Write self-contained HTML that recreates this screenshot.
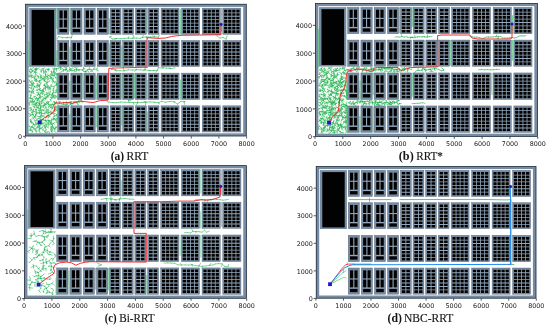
<!DOCTYPE html><html><head><meta charset="utf-8"><style>html,body{margin:0;padding:0;background:#fff;width:550px;height:326px;overflow:hidden}svg{display:block;filter:blur(0.35px)}.t{font-family:"DejaVu Sans",sans-serif;font-size:6.4px;fill:#151515}.cap{font-family:"Liberation Serif",serif;font-size:11.5px;fill:#151515;stroke:#151515;stroke-width:0.15px}.capb{font-weight:bold;stroke:none}</style></head><body>
<svg width="550" height="326" viewBox="0 0 550 326">
<g transform="translate(25.2,3.9) scale(1.00454,1.00000)"><rect x="0" y="0" width="220.4" height="132.4" fill="#778ca2"/>
<rect x="3.3" y="3" width="213.7" height="126.4" fill="#ffffff"/>
<rect x="4" y="4" width="27" height="58.9" fill="#778ca2"/>
<rect x="6.4" y="6" width="22.4" height="55.3" fill="#020202"/>
<rect x="32.32" y="4.22" width="11.16" height="26.16" fill="#778ca2" stroke="#56677d" stroke-width="0.45"/>
<rect x="34.1" y="6.5" width="7.6" height="22" fill="#93a8bd"/>
<rect x="34.1" y="6.5" width="3.25" height="8.1" fill="#020202"/>
<rect x="38.45" y="6.5" width="3.25" height="8.1" fill="#020202"/>
<rect x="34.1" y="15.7" width="3.25" height="7.9" fill="#020202"/>
<rect x="38.45" y="15.7" width="3.25" height="7.9" fill="#020202"/>
<rect x="34.1" y="25" width="7.6" height="3.4" fill="#020202"/>
<rect x="45.42" y="4.22" width="11.16" height="26.16" fill="#778ca2" stroke="#56677d" stroke-width="0.45"/>
<rect x="47.2" y="6.5" width="7.6" height="22" fill="#93a8bd"/>
<rect x="47.2" y="6.5" width="3.25" height="8.1" fill="#020202"/>
<rect x="51.55" y="6.5" width="3.25" height="8.1" fill="#020202"/>
<rect x="47.2" y="15.7" width="3.25" height="7.9" fill="#020202"/>
<rect x="51.55" y="15.7" width="3.25" height="7.9" fill="#020202"/>
<rect x="47.2" y="25" width="7.6" height="3.4" fill="#020202"/>
<rect x="58.52" y="4.22" width="11.16" height="26.16" fill="#778ca2" stroke="#56677d" stroke-width="0.45"/>
<rect x="60.3" y="6.5" width="7.6" height="22" fill="#93a8bd"/>
<rect x="60.3" y="6.5" width="3.25" height="8.1" fill="#020202"/>
<rect x="64.65" y="6.5" width="3.25" height="8.1" fill="#020202"/>
<rect x="60.3" y="15.7" width="3.25" height="7.9" fill="#020202"/>
<rect x="64.65" y="15.7" width="3.25" height="7.9" fill="#020202"/>
<rect x="60.3" y="25" width="7.6" height="3.4" fill="#020202"/>
<rect x="71.62" y="4.22" width="11.16" height="26.16" fill="#778ca2" stroke="#56677d" stroke-width="0.45"/>
<rect x="73.4" y="6.5" width="7.6" height="22" fill="#93a8bd"/>
<rect x="73.4" y="6.5" width="3.25" height="8.1" fill="#020202"/>
<rect x="77.75" y="6.5" width="3.25" height="8.1" fill="#020202"/>
<rect x="73.4" y="15.7" width="3.25" height="7.9" fill="#020202"/>
<rect x="77.75" y="15.7" width="3.25" height="7.9" fill="#020202"/>
<rect x="73.4" y="25" width="7.6" height="3.4" fill="#020202"/>
<rect x="84.52" y="4.22" width="10.86" height="26.16" fill="#778ca2" stroke="#56677d" stroke-width="0.45"/>
<rect x="85.9" y="5.9" width="8.1" height="23.2" fill="#93a8bd"/>
<path fill="#020202" d="M85.9 5.9h3.6v2.54h-3.6zM85.9 9.34h3.6v2.54h-3.6zM85.9 12.79h3.6v2.54h-3.6zM85.9 16.23h3.6v2.54h-3.6zM85.9 19.67h3.6v2.54h-3.6zM85.9 23.11h3.6v2.54h-3.6zM85.9 26.56h3.6v2.54h-3.6zM90.4 5.9h3.6v2.54h-3.6zM90.4 9.34h3.6v2.54h-3.6zM90.4 12.79h3.6v2.54h-3.6zM90.4 16.23h3.6v2.54h-3.6zM90.4 19.67h3.6v2.54h-3.6zM90.4 23.11h3.6v2.54h-3.6zM90.4 26.56h3.6v2.54h-3.6z"/>
<rect x="97.12" y="4.22" width="10.86" height="26.16" fill="#778ca2" stroke="#56677d" stroke-width="0.45"/>
<rect x="98.5" y="5.9" width="8.1" height="23.2" fill="#93a8bd"/>
<path fill="#020202" d="M98.5 5.9h3.6v2.54h-3.6zM98.5 9.34h3.6v2.54h-3.6zM98.5 12.79h3.6v2.54h-3.6zM98.5 16.23h3.6v2.54h-3.6zM98.5 19.67h3.6v2.54h-3.6zM98.5 23.11h3.6v2.54h-3.6zM98.5 26.56h3.6v2.54h-3.6zM103 5.9h3.6v2.54h-3.6zM103 9.34h3.6v2.54h-3.6zM103 12.79h3.6v2.54h-3.6zM103 16.23h3.6v2.54h-3.6zM103 19.67h3.6v2.54h-3.6zM103 23.11h3.6v2.54h-3.6zM103 26.56h3.6v2.54h-3.6z"/>
<rect x="109.72" y="4.22" width="10.86" height="26.16" fill="#778ca2" stroke="#56677d" stroke-width="0.45"/>
<rect x="111.1" y="5.9" width="8.1" height="23.2" fill="#93a8bd"/>
<path fill="#020202" d="M111.1 5.9h3.6v2.54h-3.6zM111.1 9.34h3.6v2.54h-3.6zM111.1 12.79h3.6v2.54h-3.6zM111.1 16.23h3.6v2.54h-3.6zM111.1 19.67h3.6v2.54h-3.6zM111.1 23.11h3.6v2.54h-3.6zM111.1 26.56h3.6v2.54h-3.6zM115.6 5.9h3.6v2.54h-3.6zM115.6 9.34h3.6v2.54h-3.6zM115.6 12.79h3.6v2.54h-3.6zM115.6 16.23h3.6v2.54h-3.6zM115.6 19.67h3.6v2.54h-3.6zM115.6 23.11h3.6v2.54h-3.6zM115.6 26.56h3.6v2.54h-3.6z"/>
<rect x="122.32" y="4.22" width="10.86" height="26.16" fill="#778ca2" stroke="#56677d" stroke-width="0.45"/>
<rect x="123.7" y="5.9" width="8.1" height="23.2" fill="#93a8bd"/>
<path fill="#020202" d="M123.7 5.9h3.6v2.54h-3.6zM123.7 9.34h3.6v2.54h-3.6zM123.7 12.79h3.6v2.54h-3.6zM123.7 16.23h3.6v2.54h-3.6zM123.7 19.67h3.6v2.54h-3.6zM123.7 23.11h3.6v2.54h-3.6zM123.7 26.56h3.6v2.54h-3.6zM128.2 5.9h3.6v2.54h-3.6zM128.2 9.34h3.6v2.54h-3.6zM128.2 12.79h3.6v2.54h-3.6zM128.2 16.23h3.6v2.54h-3.6zM128.2 19.67h3.6v2.54h-3.6zM128.2 23.11h3.6v2.54h-3.6zM128.2 26.56h3.6v2.54h-3.6z"/>
<rect x="135.22" y="4.22" width="17.96" height="26.16" fill="#778ca2" stroke="#56677d" stroke-width="0.45"/>
<rect x="136.5" y="5.9" width="15.4" height="23.2" fill="#93a8bd"/>
<path fill="#020202" d="M136.5 5.9h3.25v2.63h-3.25zM136.5 9.33h3.25v2.63h-3.25zM136.5 12.76h3.25v2.63h-3.25zM136.5 16.19h3.25v2.63h-3.25zM136.5 19.61h3.25v2.63h-3.25zM136.5 23.04h3.25v2.63h-3.25zM136.5 26.47h3.25v2.63h-3.25zM140.55 5.9h3.25v2.63h-3.25zM140.55 9.33h3.25v2.63h-3.25zM140.55 12.76h3.25v2.63h-3.25zM140.55 16.19h3.25v2.63h-3.25zM140.55 19.61h3.25v2.63h-3.25zM140.55 23.04h3.25v2.63h-3.25zM140.55 26.47h3.25v2.63h-3.25zM144.6 5.9h3.25v2.63h-3.25zM144.6 9.33h3.25v2.63h-3.25zM144.6 12.76h3.25v2.63h-3.25zM144.6 16.19h3.25v2.63h-3.25zM144.6 19.61h3.25v2.63h-3.25zM144.6 23.04h3.25v2.63h-3.25zM144.6 26.47h3.25v2.63h-3.25zM148.65 5.9h3.25v2.63h-3.25zM148.65 9.33h3.25v2.63h-3.25zM148.65 12.76h3.25v2.63h-3.25zM148.65 16.19h3.25v2.63h-3.25zM148.65 19.61h3.25v2.63h-3.25zM148.65 23.04h3.25v2.63h-3.25zM148.65 26.47h3.25v2.63h-3.25z"/>
<rect x="155.72" y="4.22" width="17.96" height="26.16" fill="#778ca2" stroke="#56677d" stroke-width="0.45"/>
<rect x="157" y="5.9" width="15.4" height="23.2" fill="#93a8bd"/>
<path fill="#020202" d="M157 5.9h3.25v2.63h-3.25zM157 9.33h3.25v2.63h-3.25zM157 12.76h3.25v2.63h-3.25zM157 16.19h3.25v2.63h-3.25zM157 19.61h3.25v2.63h-3.25zM157 23.04h3.25v2.63h-3.25zM157 26.47h3.25v2.63h-3.25zM161.05 5.9h3.25v2.63h-3.25zM161.05 9.33h3.25v2.63h-3.25zM161.05 12.76h3.25v2.63h-3.25zM161.05 16.19h3.25v2.63h-3.25zM161.05 19.61h3.25v2.63h-3.25zM161.05 23.04h3.25v2.63h-3.25zM161.05 26.47h3.25v2.63h-3.25zM165.1 5.9h3.25v2.63h-3.25zM165.1 9.33h3.25v2.63h-3.25zM165.1 12.76h3.25v2.63h-3.25zM165.1 16.19h3.25v2.63h-3.25zM165.1 19.61h3.25v2.63h-3.25zM165.1 23.04h3.25v2.63h-3.25zM165.1 26.47h3.25v2.63h-3.25zM169.15 5.9h3.25v2.63h-3.25zM169.15 9.33h3.25v2.63h-3.25zM169.15 12.76h3.25v2.63h-3.25zM169.15 16.19h3.25v2.63h-3.25zM169.15 19.61h3.25v2.63h-3.25zM169.15 23.04h3.25v2.63h-3.25zM169.15 26.47h3.25v2.63h-3.25z"/>
<rect x="176.22" y="4.22" width="17.96" height="26.16" fill="#778ca2" stroke="#56677d" stroke-width="0.45"/>
<rect x="177.5" y="5.9" width="15.4" height="23.2" fill="#93a8bd"/>
<path fill="#020202" d="M177.5 5.9h3.25v2.63h-3.25zM177.5 9.33h3.25v2.63h-3.25zM177.5 12.76h3.25v2.63h-3.25zM177.5 16.19h3.25v2.63h-3.25zM177.5 19.61h3.25v2.63h-3.25zM177.5 23.04h3.25v2.63h-3.25zM177.5 26.47h3.25v2.63h-3.25zM181.55 5.9h3.25v2.63h-3.25zM181.55 9.33h3.25v2.63h-3.25zM181.55 12.76h3.25v2.63h-3.25zM181.55 16.19h3.25v2.63h-3.25zM181.55 19.61h3.25v2.63h-3.25zM181.55 23.04h3.25v2.63h-3.25zM181.55 26.47h3.25v2.63h-3.25zM185.6 5.9h3.25v2.63h-3.25zM185.6 9.33h3.25v2.63h-3.25zM185.6 12.76h3.25v2.63h-3.25zM185.6 16.19h3.25v2.63h-3.25zM185.6 19.61h3.25v2.63h-3.25zM185.6 23.04h3.25v2.63h-3.25zM185.6 26.47h3.25v2.63h-3.25zM189.65 5.9h3.25v2.63h-3.25zM189.65 9.33h3.25v2.63h-3.25zM189.65 12.76h3.25v2.63h-3.25zM189.65 16.19h3.25v2.63h-3.25zM189.65 19.61h3.25v2.63h-3.25zM189.65 23.04h3.25v2.63h-3.25zM189.65 26.47h3.25v2.63h-3.25z"/>
<rect x="196.72" y="4.22" width="17.96" height="26.16" fill="#778ca2" stroke="#56677d" stroke-width="0.45"/>
<rect x="198" y="5.9" width="15.4" height="23.2" fill="#93a8bd"/>
<path fill="#020202" d="M198 5.9h3.25v2.63h-3.25zM198 9.33h3.25v2.63h-3.25zM198 12.76h3.25v2.63h-3.25zM198 16.19h3.25v2.63h-3.25zM198 19.61h3.25v2.63h-3.25zM198 23.04h3.25v2.63h-3.25zM198 26.47h3.25v2.63h-3.25zM202.05 5.9h3.25v2.63h-3.25zM202.05 9.33h3.25v2.63h-3.25zM202.05 12.76h3.25v2.63h-3.25zM202.05 16.19h3.25v2.63h-3.25zM202.05 19.61h3.25v2.63h-3.25zM202.05 23.04h3.25v2.63h-3.25zM202.05 26.47h3.25v2.63h-3.25zM206.1 5.9h3.25v2.63h-3.25zM206.1 9.33h3.25v2.63h-3.25zM206.1 12.76h3.25v2.63h-3.25zM206.1 16.19h3.25v2.63h-3.25zM206.1 19.61h3.25v2.63h-3.25zM206.1 23.04h3.25v2.63h-3.25zM206.1 26.47h3.25v2.63h-3.25zM210.15 5.9h3.25v2.63h-3.25zM210.15 9.33h3.25v2.63h-3.25zM210.15 12.76h3.25v2.63h-3.25zM210.15 16.19h3.25v2.63h-3.25zM210.15 19.61h3.25v2.63h-3.25zM210.15 23.04h3.25v2.63h-3.25zM210.15 26.47h3.25v2.63h-3.25z"/>
<rect x="32.32" y="36.62" width="11.16" height="25.96" fill="#778ca2" stroke="#56677d" stroke-width="0.45"/>
<rect x="34.1" y="38.88" width="7.6" height="21.83" fill="#93a8bd"/>
<rect x="34.1" y="38.88" width="3.25" height="8.04" fill="#020202"/>
<rect x="38.45" y="38.88" width="3.25" height="8.04" fill="#020202"/>
<rect x="34.1" y="48.01" width="3.25" height="7.84" fill="#020202"/>
<rect x="38.45" y="48.01" width="3.25" height="7.84" fill="#020202"/>
<rect x="34.1" y="57.24" width="7.6" height="3.37" fill="#020202"/>
<rect x="45.42" y="36.62" width="11.16" height="25.96" fill="#778ca2" stroke="#56677d" stroke-width="0.45"/>
<rect x="47.2" y="38.88" width="7.6" height="21.83" fill="#93a8bd"/>
<rect x="47.2" y="38.88" width="3.25" height="8.04" fill="#020202"/>
<rect x="51.55" y="38.88" width="3.25" height="8.04" fill="#020202"/>
<rect x="47.2" y="48.01" width="3.25" height="7.84" fill="#020202"/>
<rect x="51.55" y="48.01" width="3.25" height="7.84" fill="#020202"/>
<rect x="47.2" y="57.24" width="7.6" height="3.37" fill="#020202"/>
<rect x="58.52" y="36.62" width="11.16" height="25.96" fill="#778ca2" stroke="#56677d" stroke-width="0.45"/>
<rect x="60.3" y="38.88" width="7.6" height="21.83" fill="#93a8bd"/>
<rect x="60.3" y="38.88" width="3.25" height="8.04" fill="#020202"/>
<rect x="64.65" y="38.88" width="3.25" height="8.04" fill="#020202"/>
<rect x="60.3" y="48.01" width="3.25" height="7.84" fill="#020202"/>
<rect x="64.65" y="48.01" width="3.25" height="7.84" fill="#020202"/>
<rect x="60.3" y="57.24" width="7.6" height="3.37" fill="#020202"/>
<rect x="71.62" y="36.62" width="11.16" height="25.96" fill="#778ca2" stroke="#56677d" stroke-width="0.45"/>
<rect x="73.4" y="38.88" width="7.6" height="21.83" fill="#93a8bd"/>
<rect x="73.4" y="38.88" width="3.25" height="8.04" fill="#020202"/>
<rect x="77.75" y="38.88" width="3.25" height="8.04" fill="#020202"/>
<rect x="73.4" y="48.01" width="3.25" height="7.84" fill="#020202"/>
<rect x="77.75" y="48.01" width="3.25" height="7.84" fill="#020202"/>
<rect x="73.4" y="57.24" width="7.6" height="3.37" fill="#020202"/>
<rect x="84.52" y="36.62" width="10.86" height="25.96" fill="#778ca2" stroke="#56677d" stroke-width="0.45"/>
<rect x="85.9" y="38.3" width="8.1" height="23" fill="#93a8bd"/>
<path fill="#020202" d="M85.9 38.3h3.6v2.51h-3.6zM85.9 41.71h3.6v2.51h-3.6zM85.9 45.13h3.6v2.51h-3.6zM85.9 48.54h3.6v2.51h-3.6zM85.9 51.96h3.6v2.51h-3.6zM85.9 55.37h3.6v2.51h-3.6zM85.9 58.79h3.6v2.51h-3.6zM90.4 38.3h3.6v2.51h-3.6zM90.4 41.71h3.6v2.51h-3.6zM90.4 45.13h3.6v2.51h-3.6zM90.4 48.54h3.6v2.51h-3.6zM90.4 51.96h3.6v2.51h-3.6zM90.4 55.37h3.6v2.51h-3.6zM90.4 58.79h3.6v2.51h-3.6z"/>
<rect x="97.12" y="36.62" width="10.86" height="25.96" fill="#778ca2" stroke="#56677d" stroke-width="0.45"/>
<rect x="98.5" y="38.3" width="8.1" height="23" fill="#93a8bd"/>
<path fill="#020202" d="M98.5 38.3h3.6v2.51h-3.6zM98.5 41.71h3.6v2.51h-3.6zM98.5 45.13h3.6v2.51h-3.6zM98.5 48.54h3.6v2.51h-3.6zM98.5 51.96h3.6v2.51h-3.6zM98.5 55.37h3.6v2.51h-3.6zM98.5 58.79h3.6v2.51h-3.6zM103 38.3h3.6v2.51h-3.6zM103 41.71h3.6v2.51h-3.6zM103 45.13h3.6v2.51h-3.6zM103 48.54h3.6v2.51h-3.6zM103 51.96h3.6v2.51h-3.6zM103 55.37h3.6v2.51h-3.6zM103 58.79h3.6v2.51h-3.6z"/>
<rect x="109.72" y="36.62" width="10.86" height="25.96" fill="#778ca2" stroke="#56677d" stroke-width="0.45"/>
<rect x="111.1" y="38.3" width="8.1" height="23" fill="#93a8bd"/>
<path fill="#020202" d="M111.1 38.3h3.6v2.51h-3.6zM111.1 41.71h3.6v2.51h-3.6zM111.1 45.13h3.6v2.51h-3.6zM111.1 48.54h3.6v2.51h-3.6zM111.1 51.96h3.6v2.51h-3.6zM111.1 55.37h3.6v2.51h-3.6zM111.1 58.79h3.6v2.51h-3.6zM115.6 38.3h3.6v2.51h-3.6zM115.6 41.71h3.6v2.51h-3.6zM115.6 45.13h3.6v2.51h-3.6zM115.6 48.54h3.6v2.51h-3.6zM115.6 51.96h3.6v2.51h-3.6zM115.6 55.37h3.6v2.51h-3.6zM115.6 58.79h3.6v2.51h-3.6z"/>
<rect x="122.32" y="36.62" width="10.86" height="25.96" fill="#778ca2" stroke="#56677d" stroke-width="0.45"/>
<rect x="123.7" y="38.3" width="8.1" height="23" fill="#93a8bd"/>
<path fill="#020202" d="M123.7 38.3h3.6v2.51h-3.6zM123.7 41.71h3.6v2.51h-3.6zM123.7 45.13h3.6v2.51h-3.6zM123.7 48.54h3.6v2.51h-3.6zM123.7 51.96h3.6v2.51h-3.6zM123.7 55.37h3.6v2.51h-3.6zM123.7 58.79h3.6v2.51h-3.6zM128.2 38.3h3.6v2.51h-3.6zM128.2 41.71h3.6v2.51h-3.6zM128.2 45.13h3.6v2.51h-3.6zM128.2 48.54h3.6v2.51h-3.6zM128.2 51.96h3.6v2.51h-3.6zM128.2 55.37h3.6v2.51h-3.6zM128.2 58.79h3.6v2.51h-3.6z"/>
<rect x="135.22" y="36.62" width="17.96" height="25.96" fill="#778ca2" stroke="#56677d" stroke-width="0.45"/>
<rect x="136.5" y="38.3" width="15.4" height="23" fill="#93a8bd"/>
<path fill="#020202" d="M136.5 38.3h3.25v2.6h-3.25zM136.5 41.7h3.25v2.6h-3.25zM136.5 45.1h3.25v2.6h-3.25zM136.5 48.5h3.25v2.6h-3.25zM136.5 51.9h3.25v2.6h-3.25zM136.5 55.3h3.25v2.6h-3.25zM136.5 58.7h3.25v2.6h-3.25zM140.55 38.3h3.25v2.6h-3.25zM140.55 41.7h3.25v2.6h-3.25zM140.55 45.1h3.25v2.6h-3.25zM140.55 48.5h3.25v2.6h-3.25zM140.55 51.9h3.25v2.6h-3.25zM140.55 55.3h3.25v2.6h-3.25zM140.55 58.7h3.25v2.6h-3.25zM144.6 38.3h3.25v2.6h-3.25zM144.6 41.7h3.25v2.6h-3.25zM144.6 45.1h3.25v2.6h-3.25zM144.6 48.5h3.25v2.6h-3.25zM144.6 51.9h3.25v2.6h-3.25zM144.6 55.3h3.25v2.6h-3.25zM144.6 58.7h3.25v2.6h-3.25zM148.65 38.3h3.25v2.6h-3.25zM148.65 41.7h3.25v2.6h-3.25zM148.65 45.1h3.25v2.6h-3.25zM148.65 48.5h3.25v2.6h-3.25zM148.65 51.9h3.25v2.6h-3.25zM148.65 55.3h3.25v2.6h-3.25zM148.65 58.7h3.25v2.6h-3.25z"/>
<rect x="155.72" y="36.62" width="17.96" height="25.96" fill="#778ca2" stroke="#56677d" stroke-width="0.45"/>
<rect x="157" y="38.3" width="15.4" height="23" fill="#93a8bd"/>
<path fill="#020202" d="M157 38.3h3.25v2.6h-3.25zM157 41.7h3.25v2.6h-3.25zM157 45.1h3.25v2.6h-3.25zM157 48.5h3.25v2.6h-3.25zM157 51.9h3.25v2.6h-3.25zM157 55.3h3.25v2.6h-3.25zM157 58.7h3.25v2.6h-3.25zM161.05 38.3h3.25v2.6h-3.25zM161.05 41.7h3.25v2.6h-3.25zM161.05 45.1h3.25v2.6h-3.25zM161.05 48.5h3.25v2.6h-3.25zM161.05 51.9h3.25v2.6h-3.25zM161.05 55.3h3.25v2.6h-3.25zM161.05 58.7h3.25v2.6h-3.25zM165.1 38.3h3.25v2.6h-3.25zM165.1 41.7h3.25v2.6h-3.25zM165.1 45.1h3.25v2.6h-3.25zM165.1 48.5h3.25v2.6h-3.25zM165.1 51.9h3.25v2.6h-3.25zM165.1 55.3h3.25v2.6h-3.25zM165.1 58.7h3.25v2.6h-3.25zM169.15 38.3h3.25v2.6h-3.25zM169.15 41.7h3.25v2.6h-3.25zM169.15 45.1h3.25v2.6h-3.25zM169.15 48.5h3.25v2.6h-3.25zM169.15 51.9h3.25v2.6h-3.25zM169.15 55.3h3.25v2.6h-3.25zM169.15 58.7h3.25v2.6h-3.25z"/>
<rect x="176.22" y="36.62" width="17.96" height="25.96" fill="#778ca2" stroke="#56677d" stroke-width="0.45"/>
<rect x="177.5" y="38.3" width="15.4" height="23" fill="#93a8bd"/>
<path fill="#020202" d="M177.5 38.3h3.25v2.6h-3.25zM177.5 41.7h3.25v2.6h-3.25zM177.5 45.1h3.25v2.6h-3.25zM177.5 48.5h3.25v2.6h-3.25zM177.5 51.9h3.25v2.6h-3.25zM177.5 55.3h3.25v2.6h-3.25zM177.5 58.7h3.25v2.6h-3.25zM181.55 38.3h3.25v2.6h-3.25zM181.55 41.7h3.25v2.6h-3.25zM181.55 45.1h3.25v2.6h-3.25zM181.55 48.5h3.25v2.6h-3.25zM181.55 51.9h3.25v2.6h-3.25zM181.55 55.3h3.25v2.6h-3.25zM181.55 58.7h3.25v2.6h-3.25zM185.6 38.3h3.25v2.6h-3.25zM185.6 41.7h3.25v2.6h-3.25zM185.6 45.1h3.25v2.6h-3.25zM185.6 48.5h3.25v2.6h-3.25zM185.6 51.9h3.25v2.6h-3.25zM185.6 55.3h3.25v2.6h-3.25zM185.6 58.7h3.25v2.6h-3.25zM189.65 38.3h3.25v2.6h-3.25zM189.65 41.7h3.25v2.6h-3.25zM189.65 45.1h3.25v2.6h-3.25zM189.65 48.5h3.25v2.6h-3.25zM189.65 51.9h3.25v2.6h-3.25zM189.65 55.3h3.25v2.6h-3.25zM189.65 58.7h3.25v2.6h-3.25z"/>
<rect x="196.72" y="36.62" width="17.96" height="25.96" fill="#778ca2" stroke="#56677d" stroke-width="0.45"/>
<rect x="198" y="38.3" width="15.4" height="23" fill="#93a8bd"/>
<path fill="#020202" d="M198 38.3h3.25v2.6h-3.25zM198 41.7h3.25v2.6h-3.25zM198 45.1h3.25v2.6h-3.25zM198 48.5h3.25v2.6h-3.25zM198 51.9h3.25v2.6h-3.25zM198 55.3h3.25v2.6h-3.25zM198 58.7h3.25v2.6h-3.25zM202.05 38.3h3.25v2.6h-3.25zM202.05 41.7h3.25v2.6h-3.25zM202.05 45.1h3.25v2.6h-3.25zM202.05 48.5h3.25v2.6h-3.25zM202.05 51.9h3.25v2.6h-3.25zM202.05 55.3h3.25v2.6h-3.25zM202.05 58.7h3.25v2.6h-3.25zM206.1 38.3h3.25v2.6h-3.25zM206.1 41.7h3.25v2.6h-3.25zM206.1 45.1h3.25v2.6h-3.25zM206.1 48.5h3.25v2.6h-3.25zM206.1 51.9h3.25v2.6h-3.25zM206.1 55.3h3.25v2.6h-3.25zM206.1 58.7h3.25v2.6h-3.25zM210.15 38.3h3.25v2.6h-3.25zM210.15 41.7h3.25v2.6h-3.25zM210.15 45.1h3.25v2.6h-3.25zM210.15 48.5h3.25v2.6h-3.25zM210.15 51.9h3.25v2.6h-3.25zM210.15 55.3h3.25v2.6h-3.25zM210.15 58.7h3.25v2.6h-3.25z"/>
<rect x="32.32" y="69.22" width="11.16" height="26.36" fill="#778ca2" stroke="#56677d" stroke-width="0.45"/>
<rect x="34.1" y="71.52" width="7.6" height="22.17" fill="#93a8bd"/>
<rect x="34.1" y="71.52" width="3.25" height="8.16" fill="#020202"/>
<rect x="38.45" y="71.52" width="3.25" height="8.16" fill="#020202"/>
<rect x="34.1" y="80.79" width="3.25" height="7.96" fill="#020202"/>
<rect x="38.45" y="80.79" width="3.25" height="7.96" fill="#020202"/>
<rect x="34.1" y="90.16" width="7.6" height="3.43" fill="#020202"/>
<rect x="45.42" y="69.22" width="11.16" height="26.36" fill="#778ca2" stroke="#56677d" stroke-width="0.45"/>
<rect x="47.2" y="71.52" width="7.6" height="22.17" fill="#93a8bd"/>
<rect x="47.2" y="71.52" width="3.25" height="8.16" fill="#020202"/>
<rect x="51.55" y="71.52" width="3.25" height="8.16" fill="#020202"/>
<rect x="47.2" y="80.79" width="3.25" height="7.96" fill="#020202"/>
<rect x="51.55" y="80.79" width="3.25" height="7.96" fill="#020202"/>
<rect x="47.2" y="90.16" width="7.6" height="3.43" fill="#020202"/>
<rect x="58.52" y="69.22" width="11.16" height="26.36" fill="#778ca2" stroke="#56677d" stroke-width="0.45"/>
<rect x="60.3" y="71.52" width="7.6" height="22.17" fill="#93a8bd"/>
<rect x="60.3" y="71.52" width="3.25" height="8.16" fill="#020202"/>
<rect x="64.65" y="71.52" width="3.25" height="8.16" fill="#020202"/>
<rect x="60.3" y="80.79" width="3.25" height="7.96" fill="#020202"/>
<rect x="64.65" y="80.79" width="3.25" height="7.96" fill="#020202"/>
<rect x="60.3" y="90.16" width="7.6" height="3.43" fill="#020202"/>
<rect x="71.62" y="69.22" width="11.16" height="26.36" fill="#778ca2" stroke="#56677d" stroke-width="0.45"/>
<rect x="73.4" y="71.52" width="7.6" height="22.17" fill="#93a8bd"/>
<rect x="73.4" y="71.52" width="3.25" height="8.16" fill="#020202"/>
<rect x="77.75" y="71.52" width="3.25" height="8.16" fill="#020202"/>
<rect x="73.4" y="80.79" width="3.25" height="7.96" fill="#020202"/>
<rect x="77.75" y="80.79" width="3.25" height="7.96" fill="#020202"/>
<rect x="73.4" y="90.16" width="7.6" height="3.43" fill="#020202"/>
<rect x="84.52" y="69.22" width="10.86" height="26.36" fill="#778ca2" stroke="#56677d" stroke-width="0.45"/>
<rect x="85.9" y="70.9" width="8.1" height="23.4" fill="#93a8bd"/>
<path fill="#020202" d="M85.9 70.9h3.6v2.57h-3.6zM85.9 74.37h3.6v2.57h-3.6zM85.9 77.84h3.6v2.57h-3.6zM85.9 81.31h3.6v2.57h-3.6zM85.9 84.79h3.6v2.57h-3.6zM85.9 88.26h3.6v2.57h-3.6zM85.9 91.73h3.6v2.57h-3.6zM90.4 70.9h3.6v2.57h-3.6zM90.4 74.37h3.6v2.57h-3.6zM90.4 77.84h3.6v2.57h-3.6zM90.4 81.31h3.6v2.57h-3.6zM90.4 84.79h3.6v2.57h-3.6zM90.4 88.26h3.6v2.57h-3.6zM90.4 91.73h3.6v2.57h-3.6z"/>
<rect x="97.12" y="69.22" width="10.86" height="26.36" fill="#778ca2" stroke="#56677d" stroke-width="0.45"/>
<rect x="98.5" y="70.9" width="8.1" height="23.4" fill="#93a8bd"/>
<path fill="#020202" d="M98.5 70.9h3.6v2.57h-3.6zM98.5 74.37h3.6v2.57h-3.6zM98.5 77.84h3.6v2.57h-3.6zM98.5 81.31h3.6v2.57h-3.6zM98.5 84.79h3.6v2.57h-3.6zM98.5 88.26h3.6v2.57h-3.6zM98.5 91.73h3.6v2.57h-3.6zM103 70.9h3.6v2.57h-3.6zM103 74.37h3.6v2.57h-3.6zM103 77.84h3.6v2.57h-3.6zM103 81.31h3.6v2.57h-3.6zM103 84.79h3.6v2.57h-3.6zM103 88.26h3.6v2.57h-3.6zM103 91.73h3.6v2.57h-3.6z"/>
<rect x="109.72" y="69.22" width="10.86" height="26.36" fill="#778ca2" stroke="#56677d" stroke-width="0.45"/>
<rect x="111.1" y="70.9" width="8.1" height="23.4" fill="#93a8bd"/>
<path fill="#020202" d="M111.1 70.9h3.6v2.57h-3.6zM111.1 74.37h3.6v2.57h-3.6zM111.1 77.84h3.6v2.57h-3.6zM111.1 81.31h3.6v2.57h-3.6zM111.1 84.79h3.6v2.57h-3.6zM111.1 88.26h3.6v2.57h-3.6zM111.1 91.73h3.6v2.57h-3.6zM115.6 70.9h3.6v2.57h-3.6zM115.6 74.37h3.6v2.57h-3.6zM115.6 77.84h3.6v2.57h-3.6zM115.6 81.31h3.6v2.57h-3.6zM115.6 84.79h3.6v2.57h-3.6zM115.6 88.26h3.6v2.57h-3.6zM115.6 91.73h3.6v2.57h-3.6z"/>
<rect x="122.32" y="69.22" width="10.86" height="26.36" fill="#778ca2" stroke="#56677d" stroke-width="0.45"/>
<rect x="123.7" y="70.9" width="8.1" height="23.4" fill="#93a8bd"/>
<path fill="#020202" d="M123.7 70.9h3.6v2.57h-3.6zM123.7 74.37h3.6v2.57h-3.6zM123.7 77.84h3.6v2.57h-3.6zM123.7 81.31h3.6v2.57h-3.6zM123.7 84.79h3.6v2.57h-3.6zM123.7 88.26h3.6v2.57h-3.6zM123.7 91.73h3.6v2.57h-3.6zM128.2 70.9h3.6v2.57h-3.6zM128.2 74.37h3.6v2.57h-3.6zM128.2 77.84h3.6v2.57h-3.6zM128.2 81.31h3.6v2.57h-3.6zM128.2 84.79h3.6v2.57h-3.6zM128.2 88.26h3.6v2.57h-3.6zM128.2 91.73h3.6v2.57h-3.6z"/>
<rect x="135.22" y="69.22" width="17.96" height="26.36" fill="#778ca2" stroke="#56677d" stroke-width="0.45"/>
<rect x="136.5" y="70.9" width="15.4" height="23.4" fill="#93a8bd"/>
<path fill="#020202" d="M136.5 70.9h3.25v2.66h-3.25zM136.5 74.36h3.25v2.66h-3.25zM136.5 77.81h3.25v2.66h-3.25zM136.5 81.27h3.25v2.66h-3.25zM136.5 84.73h3.25v2.66h-3.25zM136.5 88.19h3.25v2.66h-3.25zM136.5 91.64h3.25v2.66h-3.25zM140.55 70.9h3.25v2.66h-3.25zM140.55 74.36h3.25v2.66h-3.25zM140.55 77.81h3.25v2.66h-3.25zM140.55 81.27h3.25v2.66h-3.25zM140.55 84.73h3.25v2.66h-3.25zM140.55 88.19h3.25v2.66h-3.25zM140.55 91.64h3.25v2.66h-3.25zM144.6 70.9h3.25v2.66h-3.25zM144.6 74.36h3.25v2.66h-3.25zM144.6 77.81h3.25v2.66h-3.25zM144.6 81.27h3.25v2.66h-3.25zM144.6 84.73h3.25v2.66h-3.25zM144.6 88.19h3.25v2.66h-3.25zM144.6 91.64h3.25v2.66h-3.25zM148.65 70.9h3.25v2.66h-3.25zM148.65 74.36h3.25v2.66h-3.25zM148.65 77.81h3.25v2.66h-3.25zM148.65 81.27h3.25v2.66h-3.25zM148.65 84.73h3.25v2.66h-3.25zM148.65 88.19h3.25v2.66h-3.25zM148.65 91.64h3.25v2.66h-3.25z"/>
<rect x="155.72" y="69.22" width="17.96" height="26.36" fill="#778ca2" stroke="#56677d" stroke-width="0.45"/>
<rect x="157" y="70.9" width="15.4" height="23.4" fill="#93a8bd"/>
<path fill="#020202" d="M157 70.9h3.25v2.66h-3.25zM157 74.36h3.25v2.66h-3.25zM157 77.81h3.25v2.66h-3.25zM157 81.27h3.25v2.66h-3.25zM157 84.73h3.25v2.66h-3.25zM157 88.19h3.25v2.66h-3.25zM157 91.64h3.25v2.66h-3.25zM161.05 70.9h3.25v2.66h-3.25zM161.05 74.36h3.25v2.66h-3.25zM161.05 77.81h3.25v2.66h-3.25zM161.05 81.27h3.25v2.66h-3.25zM161.05 84.73h3.25v2.66h-3.25zM161.05 88.19h3.25v2.66h-3.25zM161.05 91.64h3.25v2.66h-3.25zM165.1 70.9h3.25v2.66h-3.25zM165.1 74.36h3.25v2.66h-3.25zM165.1 77.81h3.25v2.66h-3.25zM165.1 81.27h3.25v2.66h-3.25zM165.1 84.73h3.25v2.66h-3.25zM165.1 88.19h3.25v2.66h-3.25zM165.1 91.64h3.25v2.66h-3.25zM169.15 70.9h3.25v2.66h-3.25zM169.15 74.36h3.25v2.66h-3.25zM169.15 77.81h3.25v2.66h-3.25zM169.15 81.27h3.25v2.66h-3.25zM169.15 84.73h3.25v2.66h-3.25zM169.15 88.19h3.25v2.66h-3.25zM169.15 91.64h3.25v2.66h-3.25z"/>
<rect x="176.22" y="69.22" width="17.96" height="26.36" fill="#778ca2" stroke="#56677d" stroke-width="0.45"/>
<rect x="177.5" y="70.9" width="15.4" height="23.4" fill="#93a8bd"/>
<path fill="#020202" d="M177.5 70.9h3.25v2.66h-3.25zM177.5 74.36h3.25v2.66h-3.25zM177.5 77.81h3.25v2.66h-3.25zM177.5 81.27h3.25v2.66h-3.25zM177.5 84.73h3.25v2.66h-3.25zM177.5 88.19h3.25v2.66h-3.25zM177.5 91.64h3.25v2.66h-3.25zM181.55 70.9h3.25v2.66h-3.25zM181.55 74.36h3.25v2.66h-3.25zM181.55 77.81h3.25v2.66h-3.25zM181.55 81.27h3.25v2.66h-3.25zM181.55 84.73h3.25v2.66h-3.25zM181.55 88.19h3.25v2.66h-3.25zM181.55 91.64h3.25v2.66h-3.25zM185.6 70.9h3.25v2.66h-3.25zM185.6 74.36h3.25v2.66h-3.25zM185.6 77.81h3.25v2.66h-3.25zM185.6 81.27h3.25v2.66h-3.25zM185.6 84.73h3.25v2.66h-3.25zM185.6 88.19h3.25v2.66h-3.25zM185.6 91.64h3.25v2.66h-3.25zM189.65 70.9h3.25v2.66h-3.25zM189.65 74.36h3.25v2.66h-3.25zM189.65 77.81h3.25v2.66h-3.25zM189.65 81.27h3.25v2.66h-3.25zM189.65 84.73h3.25v2.66h-3.25zM189.65 88.19h3.25v2.66h-3.25zM189.65 91.64h3.25v2.66h-3.25z"/>
<rect x="196.72" y="69.22" width="17.96" height="26.36" fill="#778ca2" stroke="#56677d" stroke-width="0.45"/>
<rect x="198" y="70.9" width="15.4" height="23.4" fill="#93a8bd"/>
<path fill="#020202" d="M198 70.9h3.25v2.66h-3.25zM198 74.36h3.25v2.66h-3.25zM198 77.81h3.25v2.66h-3.25zM198 81.27h3.25v2.66h-3.25zM198 84.73h3.25v2.66h-3.25zM198 88.19h3.25v2.66h-3.25zM198 91.64h3.25v2.66h-3.25zM202.05 70.9h3.25v2.66h-3.25zM202.05 74.36h3.25v2.66h-3.25zM202.05 77.81h3.25v2.66h-3.25zM202.05 81.27h3.25v2.66h-3.25zM202.05 84.73h3.25v2.66h-3.25zM202.05 88.19h3.25v2.66h-3.25zM202.05 91.64h3.25v2.66h-3.25zM206.1 70.9h3.25v2.66h-3.25zM206.1 74.36h3.25v2.66h-3.25zM206.1 77.81h3.25v2.66h-3.25zM206.1 81.27h3.25v2.66h-3.25zM206.1 84.73h3.25v2.66h-3.25zM206.1 88.19h3.25v2.66h-3.25zM206.1 91.64h3.25v2.66h-3.25zM210.15 70.9h3.25v2.66h-3.25zM210.15 74.36h3.25v2.66h-3.25zM210.15 77.81h3.25v2.66h-3.25zM210.15 81.27h3.25v2.66h-3.25zM210.15 84.73h3.25v2.66h-3.25zM210.15 88.19h3.25v2.66h-3.25zM210.15 91.64h3.25v2.66h-3.25z"/>
<rect x="32.32" y="101.92" width="11.16" height="26.16" fill="#778ca2" stroke="#56677d" stroke-width="0.45"/>
<rect x="34.1" y="104.2" width="7.6" height="22" fill="#93a8bd"/>
<rect x="34.1" y="104.2" width="3.25" height="8.1" fill="#020202"/>
<rect x="38.45" y="104.2" width="3.25" height="8.1" fill="#020202"/>
<rect x="34.1" y="113.4" width="3.25" height="7.9" fill="#020202"/>
<rect x="38.45" y="113.4" width="3.25" height="7.9" fill="#020202"/>
<rect x="34.1" y="122.7" width="7.6" height="3.4" fill="#020202"/>
<rect x="45.42" y="101.92" width="11.16" height="26.16" fill="#778ca2" stroke="#56677d" stroke-width="0.45"/>
<rect x="47.2" y="104.2" width="7.6" height="22" fill="#93a8bd"/>
<rect x="47.2" y="104.2" width="3.25" height="8.1" fill="#020202"/>
<rect x="51.55" y="104.2" width="3.25" height="8.1" fill="#020202"/>
<rect x="47.2" y="113.4" width="3.25" height="7.9" fill="#020202"/>
<rect x="51.55" y="113.4" width="3.25" height="7.9" fill="#020202"/>
<rect x="47.2" y="122.7" width="7.6" height="3.4" fill="#020202"/>
<rect x="58.52" y="101.92" width="11.16" height="26.16" fill="#778ca2" stroke="#56677d" stroke-width="0.45"/>
<rect x="60.3" y="104.2" width="7.6" height="22" fill="#93a8bd"/>
<rect x="60.3" y="104.2" width="3.25" height="8.1" fill="#020202"/>
<rect x="64.65" y="104.2" width="3.25" height="8.1" fill="#020202"/>
<rect x="60.3" y="113.4" width="3.25" height="7.9" fill="#020202"/>
<rect x="64.65" y="113.4" width="3.25" height="7.9" fill="#020202"/>
<rect x="60.3" y="122.7" width="7.6" height="3.4" fill="#020202"/>
<rect x="71.62" y="101.92" width="11.16" height="26.16" fill="#778ca2" stroke="#56677d" stroke-width="0.45"/>
<rect x="73.4" y="104.2" width="7.6" height="22" fill="#93a8bd"/>
<rect x="73.4" y="104.2" width="3.25" height="8.1" fill="#020202"/>
<rect x="77.75" y="104.2" width="3.25" height="8.1" fill="#020202"/>
<rect x="73.4" y="113.4" width="3.25" height="7.9" fill="#020202"/>
<rect x="77.75" y="113.4" width="3.25" height="7.9" fill="#020202"/>
<rect x="73.4" y="122.7" width="7.6" height="3.4" fill="#020202"/>
<rect x="84.52" y="101.92" width="10.86" height="26.16" fill="#778ca2" stroke="#56677d" stroke-width="0.45"/>
<rect x="85.9" y="103.6" width="8.1" height="23.2" fill="#93a8bd"/>
<path fill="#020202" d="M85.9 103.6h3.6v2.54h-3.6zM85.9 107.04h3.6v2.54h-3.6zM85.9 110.49h3.6v2.54h-3.6zM85.9 113.93h3.6v2.54h-3.6zM85.9 117.37h3.6v2.54h-3.6zM85.9 120.81h3.6v2.54h-3.6zM85.9 124.26h3.6v2.54h-3.6zM90.4 103.6h3.6v2.54h-3.6zM90.4 107.04h3.6v2.54h-3.6zM90.4 110.49h3.6v2.54h-3.6zM90.4 113.93h3.6v2.54h-3.6zM90.4 117.37h3.6v2.54h-3.6zM90.4 120.81h3.6v2.54h-3.6zM90.4 124.26h3.6v2.54h-3.6z"/>
<rect x="97.12" y="101.92" width="10.86" height="26.16" fill="#778ca2" stroke="#56677d" stroke-width="0.45"/>
<rect x="98.5" y="103.6" width="8.1" height="23.2" fill="#93a8bd"/>
<path fill="#020202" d="M98.5 103.6h3.6v2.54h-3.6zM98.5 107.04h3.6v2.54h-3.6zM98.5 110.49h3.6v2.54h-3.6zM98.5 113.93h3.6v2.54h-3.6zM98.5 117.37h3.6v2.54h-3.6zM98.5 120.81h3.6v2.54h-3.6zM98.5 124.26h3.6v2.54h-3.6zM103 103.6h3.6v2.54h-3.6zM103 107.04h3.6v2.54h-3.6zM103 110.49h3.6v2.54h-3.6zM103 113.93h3.6v2.54h-3.6zM103 117.37h3.6v2.54h-3.6zM103 120.81h3.6v2.54h-3.6zM103 124.26h3.6v2.54h-3.6z"/>
<rect x="109.72" y="101.92" width="10.86" height="26.16" fill="#778ca2" stroke="#56677d" stroke-width="0.45"/>
<rect x="111.1" y="103.6" width="8.1" height="23.2" fill="#93a8bd"/>
<path fill="#020202" d="M111.1 103.6h3.6v2.54h-3.6zM111.1 107.04h3.6v2.54h-3.6zM111.1 110.49h3.6v2.54h-3.6zM111.1 113.93h3.6v2.54h-3.6zM111.1 117.37h3.6v2.54h-3.6zM111.1 120.81h3.6v2.54h-3.6zM111.1 124.26h3.6v2.54h-3.6zM115.6 103.6h3.6v2.54h-3.6zM115.6 107.04h3.6v2.54h-3.6zM115.6 110.49h3.6v2.54h-3.6zM115.6 113.93h3.6v2.54h-3.6zM115.6 117.37h3.6v2.54h-3.6zM115.6 120.81h3.6v2.54h-3.6zM115.6 124.26h3.6v2.54h-3.6z"/>
<rect x="122.32" y="101.92" width="10.86" height="26.16" fill="#778ca2" stroke="#56677d" stroke-width="0.45"/>
<rect x="123.7" y="103.6" width="8.1" height="23.2" fill="#93a8bd"/>
<path fill="#020202" d="M123.7 103.6h3.6v2.54h-3.6zM123.7 107.04h3.6v2.54h-3.6zM123.7 110.49h3.6v2.54h-3.6zM123.7 113.93h3.6v2.54h-3.6zM123.7 117.37h3.6v2.54h-3.6zM123.7 120.81h3.6v2.54h-3.6zM123.7 124.26h3.6v2.54h-3.6zM128.2 103.6h3.6v2.54h-3.6zM128.2 107.04h3.6v2.54h-3.6zM128.2 110.49h3.6v2.54h-3.6zM128.2 113.93h3.6v2.54h-3.6zM128.2 117.37h3.6v2.54h-3.6zM128.2 120.81h3.6v2.54h-3.6zM128.2 124.26h3.6v2.54h-3.6z"/>
<rect x="135.22" y="101.92" width="17.96" height="26.16" fill="#778ca2" stroke="#56677d" stroke-width="0.45"/>
<rect x="136.5" y="103.6" width="15.4" height="23.2" fill="#93a8bd"/>
<path fill="#020202" d="M136.5 103.6h3.25v2.63h-3.25zM136.5 107.03h3.25v2.63h-3.25zM136.5 110.46h3.25v2.63h-3.25zM136.5 113.89h3.25v2.63h-3.25zM136.5 117.31h3.25v2.63h-3.25zM136.5 120.74h3.25v2.63h-3.25zM136.5 124.17h3.25v2.63h-3.25zM140.55 103.6h3.25v2.63h-3.25zM140.55 107.03h3.25v2.63h-3.25zM140.55 110.46h3.25v2.63h-3.25zM140.55 113.89h3.25v2.63h-3.25zM140.55 117.31h3.25v2.63h-3.25zM140.55 120.74h3.25v2.63h-3.25zM140.55 124.17h3.25v2.63h-3.25zM144.6 103.6h3.25v2.63h-3.25zM144.6 107.03h3.25v2.63h-3.25zM144.6 110.46h3.25v2.63h-3.25zM144.6 113.89h3.25v2.63h-3.25zM144.6 117.31h3.25v2.63h-3.25zM144.6 120.74h3.25v2.63h-3.25zM144.6 124.17h3.25v2.63h-3.25zM148.65 103.6h3.25v2.63h-3.25zM148.65 107.03h3.25v2.63h-3.25zM148.65 110.46h3.25v2.63h-3.25zM148.65 113.89h3.25v2.63h-3.25zM148.65 117.31h3.25v2.63h-3.25zM148.65 120.74h3.25v2.63h-3.25zM148.65 124.17h3.25v2.63h-3.25z"/>
<rect x="155.72" y="101.92" width="17.96" height="26.16" fill="#778ca2" stroke="#56677d" stroke-width="0.45"/>
<rect x="157" y="103.6" width="15.4" height="23.2" fill="#93a8bd"/>
<path fill="#020202" d="M157 103.6h3.25v2.63h-3.25zM157 107.03h3.25v2.63h-3.25zM157 110.46h3.25v2.63h-3.25zM157 113.89h3.25v2.63h-3.25zM157 117.31h3.25v2.63h-3.25zM157 120.74h3.25v2.63h-3.25zM157 124.17h3.25v2.63h-3.25zM161.05 103.6h3.25v2.63h-3.25zM161.05 107.03h3.25v2.63h-3.25zM161.05 110.46h3.25v2.63h-3.25zM161.05 113.89h3.25v2.63h-3.25zM161.05 117.31h3.25v2.63h-3.25zM161.05 120.74h3.25v2.63h-3.25zM161.05 124.17h3.25v2.63h-3.25zM165.1 103.6h3.25v2.63h-3.25zM165.1 107.03h3.25v2.63h-3.25zM165.1 110.46h3.25v2.63h-3.25zM165.1 113.89h3.25v2.63h-3.25zM165.1 117.31h3.25v2.63h-3.25zM165.1 120.74h3.25v2.63h-3.25zM165.1 124.17h3.25v2.63h-3.25zM169.15 103.6h3.25v2.63h-3.25zM169.15 107.03h3.25v2.63h-3.25zM169.15 110.46h3.25v2.63h-3.25zM169.15 113.89h3.25v2.63h-3.25zM169.15 117.31h3.25v2.63h-3.25zM169.15 120.74h3.25v2.63h-3.25zM169.15 124.17h3.25v2.63h-3.25z"/>
<rect x="176.22" y="101.92" width="17.96" height="26.16" fill="#778ca2" stroke="#56677d" stroke-width="0.45"/>
<rect x="177.5" y="103.6" width="15.4" height="23.2" fill="#93a8bd"/>
<path fill="#020202" d="M177.5 103.6h3.25v2.63h-3.25zM177.5 107.03h3.25v2.63h-3.25zM177.5 110.46h3.25v2.63h-3.25zM177.5 113.89h3.25v2.63h-3.25zM177.5 117.31h3.25v2.63h-3.25zM177.5 120.74h3.25v2.63h-3.25zM177.5 124.17h3.25v2.63h-3.25zM181.55 103.6h3.25v2.63h-3.25zM181.55 107.03h3.25v2.63h-3.25zM181.55 110.46h3.25v2.63h-3.25zM181.55 113.89h3.25v2.63h-3.25zM181.55 117.31h3.25v2.63h-3.25zM181.55 120.74h3.25v2.63h-3.25zM181.55 124.17h3.25v2.63h-3.25zM185.6 103.6h3.25v2.63h-3.25zM185.6 107.03h3.25v2.63h-3.25zM185.6 110.46h3.25v2.63h-3.25zM185.6 113.89h3.25v2.63h-3.25zM185.6 117.31h3.25v2.63h-3.25zM185.6 120.74h3.25v2.63h-3.25zM185.6 124.17h3.25v2.63h-3.25zM189.65 103.6h3.25v2.63h-3.25zM189.65 107.03h3.25v2.63h-3.25zM189.65 110.46h3.25v2.63h-3.25zM189.65 113.89h3.25v2.63h-3.25zM189.65 117.31h3.25v2.63h-3.25zM189.65 120.74h3.25v2.63h-3.25zM189.65 124.17h3.25v2.63h-3.25z"/>
<rect x="196.72" y="101.92" width="17.96" height="26.16" fill="#778ca2" stroke="#56677d" stroke-width="0.45"/>
<rect x="198" y="103.6" width="15.4" height="23.2" fill="#93a8bd"/>
<path fill="#020202" d="M198 103.6h3.25v2.63h-3.25zM198 107.03h3.25v2.63h-3.25zM198 110.46h3.25v2.63h-3.25zM198 113.89h3.25v2.63h-3.25zM198 117.31h3.25v2.63h-3.25zM198 120.74h3.25v2.63h-3.25zM198 124.17h3.25v2.63h-3.25zM202.05 103.6h3.25v2.63h-3.25zM202.05 107.03h3.25v2.63h-3.25zM202.05 110.46h3.25v2.63h-3.25zM202.05 113.89h3.25v2.63h-3.25zM202.05 117.31h3.25v2.63h-3.25zM202.05 120.74h3.25v2.63h-3.25zM202.05 124.17h3.25v2.63h-3.25zM206.1 103.6h3.25v2.63h-3.25zM206.1 107.03h3.25v2.63h-3.25zM206.1 110.46h3.25v2.63h-3.25zM206.1 113.89h3.25v2.63h-3.25zM206.1 117.31h3.25v2.63h-3.25zM206.1 120.74h3.25v2.63h-3.25zM206.1 124.17h3.25v2.63h-3.25zM210.15 103.6h3.25v2.63h-3.25zM210.15 107.03h3.25v2.63h-3.25zM210.15 110.46h3.25v2.63h-3.25zM210.15 113.89h3.25v2.63h-3.25zM210.15 117.31h3.25v2.63h-3.25zM210.15 120.74h3.25v2.63h-3.25zM210.15 124.17h3.25v2.63h-3.25z"/>
<rect x="0.35" y="0.35" width="219.7" height="131.7" fill="none" stroke="#1c2836" stroke-width="0.7"/></g>
<g class="t"><line x1="25.2" y1="136.3" x2="25.2" y2="138.5" stroke="#111" stroke-width="0.7"/>
<text x="25.2" y="145.9" text-anchor="middle">0</text>
<line x1="52.88" y1="136.3" x2="52.88" y2="138.5" stroke="#111" stroke-width="0.7"/>
<text x="52.88" y="145.9" text-anchor="middle">1000</text>
<line x1="80.55" y1="136.3" x2="80.55" y2="138.5" stroke="#111" stroke-width="0.7"/>
<text x="80.55" y="145.9" text-anchor="middle">2000</text>
<line x1="108.23" y1="136.3" x2="108.23" y2="138.5" stroke="#111" stroke-width="0.7"/>
<text x="108.23" y="145.9" text-anchor="middle">3000</text>
<line x1="135.9" y1="136.3" x2="135.9" y2="138.5" stroke="#111" stroke-width="0.7"/>
<text x="135.9" y="145.9" text-anchor="middle">4000</text>
<line x1="163.57" y1="136.3" x2="163.57" y2="138.5" stroke="#111" stroke-width="0.7"/>
<text x="163.57" y="145.9" text-anchor="middle">5000</text>
<line x1="191.25" y1="136.3" x2="191.25" y2="138.5" stroke="#111" stroke-width="0.7"/>
<text x="191.25" y="145.9" text-anchor="middle">6000</text>
<line x1="218.93" y1="136.3" x2="218.93" y2="138.5" stroke="#111" stroke-width="0.7"/>
<text x="218.93" y="145.9" text-anchor="middle">7000</text>
<line x1="246.6" y1="136.3" x2="246.6" y2="138.5" stroke="#111" stroke-width="0.7"/>
<text x="246.6" y="145.9" text-anchor="middle">8000</text>
<line x1="23" y1="136.3" x2="25.2" y2="136.3" stroke="#111" stroke-width="0.7"/>
<text x="22.2" y="139" text-anchor="end">0</text>
<line x1="23" y1="108.72" x2="25.2" y2="108.72" stroke="#111" stroke-width="0.7"/>
<text x="22.2" y="111.42" text-anchor="end">1000</text>
<line x1="23" y1="81.13" x2="25.2" y2="81.13" stroke="#111" stroke-width="0.7"/>
<text x="22.2" y="83.83" text-anchor="end">2000</text>
<line x1="23" y1="53.55" x2="25.2" y2="53.55" stroke="#111" stroke-width="0.7"/>
<text x="22.2" y="56.25" text-anchor="end">3000</text>
<line x1="23" y1="25.97" x2="25.2" y2="25.97" stroke="#111" stroke-width="0.7"/>
<text x="22.2" y="28.67" text-anchor="end">4000</text></g>
<text class="cap capb" x="110.8" y="159.6" textLength="13.4" lengthAdjust="spacingAndGlyphs">(a)</text>
<text class="cap" x="126.6" y="159.6" textLength="21.8" lengthAdjust="spacingAndGlyphs">RRT</text>
<g transform="translate(315,3.1) scale(1.01089,1.00906)"><rect x="0" y="0" width="220.4" height="132.4" fill="#778ca2"/>
<rect x="3.3" y="3" width="213.7" height="126.4" fill="#ffffff"/>
<rect x="4" y="4" width="27" height="58.9" fill="#778ca2"/>
<rect x="6.4" y="6" width="22.4" height="55.3" fill="#020202"/>
<rect x="32.32" y="4.22" width="11.16" height="26.16" fill="#778ca2" stroke="#56677d" stroke-width="0.45"/>
<rect x="34.1" y="6.5" width="7.6" height="22" fill="#93a8bd"/>
<rect x="34.1" y="6.5" width="3.25" height="8.1" fill="#020202"/>
<rect x="38.45" y="6.5" width="3.25" height="8.1" fill="#020202"/>
<rect x="34.1" y="15.7" width="3.25" height="7.9" fill="#020202"/>
<rect x="38.45" y="15.7" width="3.25" height="7.9" fill="#020202"/>
<rect x="34.1" y="25" width="7.6" height="3.4" fill="#020202"/>
<rect x="45.42" y="4.22" width="11.16" height="26.16" fill="#778ca2" stroke="#56677d" stroke-width="0.45"/>
<rect x="47.2" y="6.5" width="7.6" height="22" fill="#93a8bd"/>
<rect x="47.2" y="6.5" width="3.25" height="8.1" fill="#020202"/>
<rect x="51.55" y="6.5" width="3.25" height="8.1" fill="#020202"/>
<rect x="47.2" y="15.7" width="3.25" height="7.9" fill="#020202"/>
<rect x="51.55" y="15.7" width="3.25" height="7.9" fill="#020202"/>
<rect x="47.2" y="25" width="7.6" height="3.4" fill="#020202"/>
<rect x="58.52" y="4.22" width="11.16" height="26.16" fill="#778ca2" stroke="#56677d" stroke-width="0.45"/>
<rect x="60.3" y="6.5" width="7.6" height="22" fill="#93a8bd"/>
<rect x="60.3" y="6.5" width="3.25" height="8.1" fill="#020202"/>
<rect x="64.65" y="6.5" width="3.25" height="8.1" fill="#020202"/>
<rect x="60.3" y="15.7" width="3.25" height="7.9" fill="#020202"/>
<rect x="64.65" y="15.7" width="3.25" height="7.9" fill="#020202"/>
<rect x="60.3" y="25" width="7.6" height="3.4" fill="#020202"/>
<rect x="71.62" y="4.22" width="11.16" height="26.16" fill="#778ca2" stroke="#56677d" stroke-width="0.45"/>
<rect x="73.4" y="6.5" width="7.6" height="22" fill="#93a8bd"/>
<rect x="73.4" y="6.5" width="3.25" height="8.1" fill="#020202"/>
<rect x="77.75" y="6.5" width="3.25" height="8.1" fill="#020202"/>
<rect x="73.4" y="15.7" width="3.25" height="7.9" fill="#020202"/>
<rect x="77.75" y="15.7" width="3.25" height="7.9" fill="#020202"/>
<rect x="73.4" y="25" width="7.6" height="3.4" fill="#020202"/>
<rect x="84.52" y="4.22" width="10.86" height="26.16" fill="#778ca2" stroke="#56677d" stroke-width="0.45"/>
<rect x="85.9" y="5.9" width="8.1" height="23.2" fill="#93a8bd"/>
<path fill="#020202" d="M85.9 5.9h3.6v2.54h-3.6zM85.9 9.34h3.6v2.54h-3.6zM85.9 12.79h3.6v2.54h-3.6zM85.9 16.23h3.6v2.54h-3.6zM85.9 19.67h3.6v2.54h-3.6zM85.9 23.11h3.6v2.54h-3.6zM85.9 26.56h3.6v2.54h-3.6zM90.4 5.9h3.6v2.54h-3.6zM90.4 9.34h3.6v2.54h-3.6zM90.4 12.79h3.6v2.54h-3.6zM90.4 16.23h3.6v2.54h-3.6zM90.4 19.67h3.6v2.54h-3.6zM90.4 23.11h3.6v2.54h-3.6zM90.4 26.56h3.6v2.54h-3.6z"/>
<rect x="97.12" y="4.22" width="10.86" height="26.16" fill="#778ca2" stroke="#56677d" stroke-width="0.45"/>
<rect x="98.5" y="5.9" width="8.1" height="23.2" fill="#93a8bd"/>
<path fill="#020202" d="M98.5 5.9h3.6v2.54h-3.6zM98.5 9.34h3.6v2.54h-3.6zM98.5 12.79h3.6v2.54h-3.6zM98.5 16.23h3.6v2.54h-3.6zM98.5 19.67h3.6v2.54h-3.6zM98.5 23.11h3.6v2.54h-3.6zM98.5 26.56h3.6v2.54h-3.6zM103 5.9h3.6v2.54h-3.6zM103 9.34h3.6v2.54h-3.6zM103 12.79h3.6v2.54h-3.6zM103 16.23h3.6v2.54h-3.6zM103 19.67h3.6v2.54h-3.6zM103 23.11h3.6v2.54h-3.6zM103 26.56h3.6v2.54h-3.6z"/>
<rect x="109.72" y="4.22" width="10.86" height="26.16" fill="#778ca2" stroke="#56677d" stroke-width="0.45"/>
<rect x="111.1" y="5.9" width="8.1" height="23.2" fill="#93a8bd"/>
<path fill="#020202" d="M111.1 5.9h3.6v2.54h-3.6zM111.1 9.34h3.6v2.54h-3.6zM111.1 12.79h3.6v2.54h-3.6zM111.1 16.23h3.6v2.54h-3.6zM111.1 19.67h3.6v2.54h-3.6zM111.1 23.11h3.6v2.54h-3.6zM111.1 26.56h3.6v2.54h-3.6zM115.6 5.9h3.6v2.54h-3.6zM115.6 9.34h3.6v2.54h-3.6zM115.6 12.79h3.6v2.54h-3.6zM115.6 16.23h3.6v2.54h-3.6zM115.6 19.67h3.6v2.54h-3.6zM115.6 23.11h3.6v2.54h-3.6zM115.6 26.56h3.6v2.54h-3.6z"/>
<rect x="122.32" y="4.22" width="10.86" height="26.16" fill="#778ca2" stroke="#56677d" stroke-width="0.45"/>
<rect x="123.7" y="5.9" width="8.1" height="23.2" fill="#93a8bd"/>
<path fill="#020202" d="M123.7 5.9h3.6v2.54h-3.6zM123.7 9.34h3.6v2.54h-3.6zM123.7 12.79h3.6v2.54h-3.6zM123.7 16.23h3.6v2.54h-3.6zM123.7 19.67h3.6v2.54h-3.6zM123.7 23.11h3.6v2.54h-3.6zM123.7 26.56h3.6v2.54h-3.6zM128.2 5.9h3.6v2.54h-3.6zM128.2 9.34h3.6v2.54h-3.6zM128.2 12.79h3.6v2.54h-3.6zM128.2 16.23h3.6v2.54h-3.6zM128.2 19.67h3.6v2.54h-3.6zM128.2 23.11h3.6v2.54h-3.6zM128.2 26.56h3.6v2.54h-3.6z"/>
<rect x="135.22" y="4.22" width="17.96" height="26.16" fill="#778ca2" stroke="#56677d" stroke-width="0.45"/>
<rect x="136.5" y="5.9" width="15.4" height="23.2" fill="#93a8bd"/>
<path fill="#020202" d="M136.5 5.9h3.25v2.63h-3.25zM136.5 9.33h3.25v2.63h-3.25zM136.5 12.76h3.25v2.63h-3.25zM136.5 16.19h3.25v2.63h-3.25zM136.5 19.61h3.25v2.63h-3.25zM136.5 23.04h3.25v2.63h-3.25zM136.5 26.47h3.25v2.63h-3.25zM140.55 5.9h3.25v2.63h-3.25zM140.55 9.33h3.25v2.63h-3.25zM140.55 12.76h3.25v2.63h-3.25zM140.55 16.19h3.25v2.63h-3.25zM140.55 19.61h3.25v2.63h-3.25zM140.55 23.04h3.25v2.63h-3.25zM140.55 26.47h3.25v2.63h-3.25zM144.6 5.9h3.25v2.63h-3.25zM144.6 9.33h3.25v2.63h-3.25zM144.6 12.76h3.25v2.63h-3.25zM144.6 16.19h3.25v2.63h-3.25zM144.6 19.61h3.25v2.63h-3.25zM144.6 23.04h3.25v2.63h-3.25zM144.6 26.47h3.25v2.63h-3.25zM148.65 5.9h3.25v2.63h-3.25zM148.65 9.33h3.25v2.63h-3.25zM148.65 12.76h3.25v2.63h-3.25zM148.65 16.19h3.25v2.63h-3.25zM148.65 19.61h3.25v2.63h-3.25zM148.65 23.04h3.25v2.63h-3.25zM148.65 26.47h3.25v2.63h-3.25z"/>
<rect x="155.72" y="4.22" width="17.96" height="26.16" fill="#778ca2" stroke="#56677d" stroke-width="0.45"/>
<rect x="157" y="5.9" width="15.4" height="23.2" fill="#93a8bd"/>
<path fill="#020202" d="M157 5.9h3.25v2.63h-3.25zM157 9.33h3.25v2.63h-3.25zM157 12.76h3.25v2.63h-3.25zM157 16.19h3.25v2.63h-3.25zM157 19.61h3.25v2.63h-3.25zM157 23.04h3.25v2.63h-3.25zM157 26.47h3.25v2.63h-3.25zM161.05 5.9h3.25v2.63h-3.25zM161.05 9.33h3.25v2.63h-3.25zM161.05 12.76h3.25v2.63h-3.25zM161.05 16.19h3.25v2.63h-3.25zM161.05 19.61h3.25v2.63h-3.25zM161.05 23.04h3.25v2.63h-3.25zM161.05 26.47h3.25v2.63h-3.25zM165.1 5.9h3.25v2.63h-3.25zM165.1 9.33h3.25v2.63h-3.25zM165.1 12.76h3.25v2.63h-3.25zM165.1 16.19h3.25v2.63h-3.25zM165.1 19.61h3.25v2.63h-3.25zM165.1 23.04h3.25v2.63h-3.25zM165.1 26.47h3.25v2.63h-3.25zM169.15 5.9h3.25v2.63h-3.25zM169.15 9.33h3.25v2.63h-3.25zM169.15 12.76h3.25v2.63h-3.25zM169.15 16.19h3.25v2.63h-3.25zM169.15 19.61h3.25v2.63h-3.25zM169.15 23.04h3.25v2.63h-3.25zM169.15 26.47h3.25v2.63h-3.25z"/>
<rect x="176.22" y="4.22" width="17.96" height="26.16" fill="#778ca2" stroke="#56677d" stroke-width="0.45"/>
<rect x="177.5" y="5.9" width="15.4" height="23.2" fill="#93a8bd"/>
<path fill="#020202" d="M177.5 5.9h3.25v2.63h-3.25zM177.5 9.33h3.25v2.63h-3.25zM177.5 12.76h3.25v2.63h-3.25zM177.5 16.19h3.25v2.63h-3.25zM177.5 19.61h3.25v2.63h-3.25zM177.5 23.04h3.25v2.63h-3.25zM177.5 26.47h3.25v2.63h-3.25zM181.55 5.9h3.25v2.63h-3.25zM181.55 9.33h3.25v2.63h-3.25zM181.55 12.76h3.25v2.63h-3.25zM181.55 16.19h3.25v2.63h-3.25zM181.55 19.61h3.25v2.63h-3.25zM181.55 23.04h3.25v2.63h-3.25zM181.55 26.47h3.25v2.63h-3.25zM185.6 5.9h3.25v2.63h-3.25zM185.6 9.33h3.25v2.63h-3.25zM185.6 12.76h3.25v2.63h-3.25zM185.6 16.19h3.25v2.63h-3.25zM185.6 19.61h3.25v2.63h-3.25zM185.6 23.04h3.25v2.63h-3.25zM185.6 26.47h3.25v2.63h-3.25zM189.65 5.9h3.25v2.63h-3.25zM189.65 9.33h3.25v2.63h-3.25zM189.65 12.76h3.25v2.63h-3.25zM189.65 16.19h3.25v2.63h-3.25zM189.65 19.61h3.25v2.63h-3.25zM189.65 23.04h3.25v2.63h-3.25zM189.65 26.47h3.25v2.63h-3.25z"/>
<rect x="196.72" y="4.22" width="17.96" height="26.16" fill="#778ca2" stroke="#56677d" stroke-width="0.45"/>
<rect x="198" y="5.9" width="15.4" height="23.2" fill="#93a8bd"/>
<path fill="#020202" d="M198 5.9h3.25v2.63h-3.25zM198 9.33h3.25v2.63h-3.25zM198 12.76h3.25v2.63h-3.25zM198 16.19h3.25v2.63h-3.25zM198 19.61h3.25v2.63h-3.25zM198 23.04h3.25v2.63h-3.25zM198 26.47h3.25v2.63h-3.25zM202.05 5.9h3.25v2.63h-3.25zM202.05 9.33h3.25v2.63h-3.25zM202.05 12.76h3.25v2.63h-3.25zM202.05 16.19h3.25v2.63h-3.25zM202.05 19.61h3.25v2.63h-3.25zM202.05 23.04h3.25v2.63h-3.25zM202.05 26.47h3.25v2.63h-3.25zM206.1 5.9h3.25v2.63h-3.25zM206.1 9.33h3.25v2.63h-3.25zM206.1 12.76h3.25v2.63h-3.25zM206.1 16.19h3.25v2.63h-3.25zM206.1 19.61h3.25v2.63h-3.25zM206.1 23.04h3.25v2.63h-3.25zM206.1 26.47h3.25v2.63h-3.25zM210.15 5.9h3.25v2.63h-3.25zM210.15 9.33h3.25v2.63h-3.25zM210.15 12.76h3.25v2.63h-3.25zM210.15 16.19h3.25v2.63h-3.25zM210.15 19.61h3.25v2.63h-3.25zM210.15 23.04h3.25v2.63h-3.25zM210.15 26.47h3.25v2.63h-3.25z"/>
<rect x="32.32" y="36.62" width="11.16" height="25.96" fill="#778ca2" stroke="#56677d" stroke-width="0.45"/>
<rect x="34.1" y="38.88" width="7.6" height="21.83" fill="#93a8bd"/>
<rect x="34.1" y="38.88" width="3.25" height="8.04" fill="#020202"/>
<rect x="38.45" y="38.88" width="3.25" height="8.04" fill="#020202"/>
<rect x="34.1" y="48.01" width="3.25" height="7.84" fill="#020202"/>
<rect x="38.45" y="48.01" width="3.25" height="7.84" fill="#020202"/>
<rect x="34.1" y="57.24" width="7.6" height="3.37" fill="#020202"/>
<rect x="45.42" y="36.62" width="11.16" height="25.96" fill="#778ca2" stroke="#56677d" stroke-width="0.45"/>
<rect x="47.2" y="38.88" width="7.6" height="21.83" fill="#93a8bd"/>
<rect x="47.2" y="38.88" width="3.25" height="8.04" fill="#020202"/>
<rect x="51.55" y="38.88" width="3.25" height="8.04" fill="#020202"/>
<rect x="47.2" y="48.01" width="3.25" height="7.84" fill="#020202"/>
<rect x="51.55" y="48.01" width="3.25" height="7.84" fill="#020202"/>
<rect x="47.2" y="57.24" width="7.6" height="3.37" fill="#020202"/>
<rect x="58.52" y="36.62" width="11.16" height="25.96" fill="#778ca2" stroke="#56677d" stroke-width="0.45"/>
<rect x="60.3" y="38.88" width="7.6" height="21.83" fill="#93a8bd"/>
<rect x="60.3" y="38.88" width="3.25" height="8.04" fill="#020202"/>
<rect x="64.65" y="38.88" width="3.25" height="8.04" fill="#020202"/>
<rect x="60.3" y="48.01" width="3.25" height="7.84" fill="#020202"/>
<rect x="64.65" y="48.01" width="3.25" height="7.84" fill="#020202"/>
<rect x="60.3" y="57.24" width="7.6" height="3.37" fill="#020202"/>
<rect x="71.62" y="36.62" width="11.16" height="25.96" fill="#778ca2" stroke="#56677d" stroke-width="0.45"/>
<rect x="73.4" y="38.88" width="7.6" height="21.83" fill="#93a8bd"/>
<rect x="73.4" y="38.88" width="3.25" height="8.04" fill="#020202"/>
<rect x="77.75" y="38.88" width="3.25" height="8.04" fill="#020202"/>
<rect x="73.4" y="48.01" width="3.25" height="7.84" fill="#020202"/>
<rect x="77.75" y="48.01" width="3.25" height="7.84" fill="#020202"/>
<rect x="73.4" y="57.24" width="7.6" height="3.37" fill="#020202"/>
<rect x="84.52" y="36.62" width="10.86" height="25.96" fill="#778ca2" stroke="#56677d" stroke-width="0.45"/>
<rect x="85.9" y="38.3" width="8.1" height="23" fill="#93a8bd"/>
<path fill="#020202" d="M85.9 38.3h3.6v2.51h-3.6zM85.9 41.71h3.6v2.51h-3.6zM85.9 45.13h3.6v2.51h-3.6zM85.9 48.54h3.6v2.51h-3.6zM85.9 51.96h3.6v2.51h-3.6zM85.9 55.37h3.6v2.51h-3.6zM85.9 58.79h3.6v2.51h-3.6zM90.4 38.3h3.6v2.51h-3.6zM90.4 41.71h3.6v2.51h-3.6zM90.4 45.13h3.6v2.51h-3.6zM90.4 48.54h3.6v2.51h-3.6zM90.4 51.96h3.6v2.51h-3.6zM90.4 55.37h3.6v2.51h-3.6zM90.4 58.79h3.6v2.51h-3.6z"/>
<rect x="97.12" y="36.62" width="10.86" height="25.96" fill="#778ca2" stroke="#56677d" stroke-width="0.45"/>
<rect x="98.5" y="38.3" width="8.1" height="23" fill="#93a8bd"/>
<path fill="#020202" d="M98.5 38.3h3.6v2.51h-3.6zM98.5 41.71h3.6v2.51h-3.6zM98.5 45.13h3.6v2.51h-3.6zM98.5 48.54h3.6v2.51h-3.6zM98.5 51.96h3.6v2.51h-3.6zM98.5 55.37h3.6v2.51h-3.6zM98.5 58.79h3.6v2.51h-3.6zM103 38.3h3.6v2.51h-3.6zM103 41.71h3.6v2.51h-3.6zM103 45.13h3.6v2.51h-3.6zM103 48.54h3.6v2.51h-3.6zM103 51.96h3.6v2.51h-3.6zM103 55.37h3.6v2.51h-3.6zM103 58.79h3.6v2.51h-3.6z"/>
<rect x="109.72" y="36.62" width="10.86" height="25.96" fill="#778ca2" stroke="#56677d" stroke-width="0.45"/>
<rect x="111.1" y="38.3" width="8.1" height="23" fill="#93a8bd"/>
<path fill="#020202" d="M111.1 38.3h3.6v2.51h-3.6zM111.1 41.71h3.6v2.51h-3.6zM111.1 45.13h3.6v2.51h-3.6zM111.1 48.54h3.6v2.51h-3.6zM111.1 51.96h3.6v2.51h-3.6zM111.1 55.37h3.6v2.51h-3.6zM111.1 58.79h3.6v2.51h-3.6zM115.6 38.3h3.6v2.51h-3.6zM115.6 41.71h3.6v2.51h-3.6zM115.6 45.13h3.6v2.51h-3.6zM115.6 48.54h3.6v2.51h-3.6zM115.6 51.96h3.6v2.51h-3.6zM115.6 55.37h3.6v2.51h-3.6zM115.6 58.79h3.6v2.51h-3.6z"/>
<rect x="122.32" y="36.62" width="10.86" height="25.96" fill="#778ca2" stroke="#56677d" stroke-width="0.45"/>
<rect x="123.7" y="38.3" width="8.1" height="23" fill="#93a8bd"/>
<path fill="#020202" d="M123.7 38.3h3.6v2.51h-3.6zM123.7 41.71h3.6v2.51h-3.6zM123.7 45.13h3.6v2.51h-3.6zM123.7 48.54h3.6v2.51h-3.6zM123.7 51.96h3.6v2.51h-3.6zM123.7 55.37h3.6v2.51h-3.6zM123.7 58.79h3.6v2.51h-3.6zM128.2 38.3h3.6v2.51h-3.6zM128.2 41.71h3.6v2.51h-3.6zM128.2 45.13h3.6v2.51h-3.6zM128.2 48.54h3.6v2.51h-3.6zM128.2 51.96h3.6v2.51h-3.6zM128.2 55.37h3.6v2.51h-3.6zM128.2 58.79h3.6v2.51h-3.6z"/>
<rect x="135.22" y="36.62" width="17.96" height="25.96" fill="#778ca2" stroke="#56677d" stroke-width="0.45"/>
<rect x="136.5" y="38.3" width="15.4" height="23" fill="#93a8bd"/>
<path fill="#020202" d="M136.5 38.3h3.25v2.6h-3.25zM136.5 41.7h3.25v2.6h-3.25zM136.5 45.1h3.25v2.6h-3.25zM136.5 48.5h3.25v2.6h-3.25zM136.5 51.9h3.25v2.6h-3.25zM136.5 55.3h3.25v2.6h-3.25zM136.5 58.7h3.25v2.6h-3.25zM140.55 38.3h3.25v2.6h-3.25zM140.55 41.7h3.25v2.6h-3.25zM140.55 45.1h3.25v2.6h-3.25zM140.55 48.5h3.25v2.6h-3.25zM140.55 51.9h3.25v2.6h-3.25zM140.55 55.3h3.25v2.6h-3.25zM140.55 58.7h3.25v2.6h-3.25zM144.6 38.3h3.25v2.6h-3.25zM144.6 41.7h3.25v2.6h-3.25zM144.6 45.1h3.25v2.6h-3.25zM144.6 48.5h3.25v2.6h-3.25zM144.6 51.9h3.25v2.6h-3.25zM144.6 55.3h3.25v2.6h-3.25zM144.6 58.7h3.25v2.6h-3.25zM148.65 38.3h3.25v2.6h-3.25zM148.65 41.7h3.25v2.6h-3.25zM148.65 45.1h3.25v2.6h-3.25zM148.65 48.5h3.25v2.6h-3.25zM148.65 51.9h3.25v2.6h-3.25zM148.65 55.3h3.25v2.6h-3.25zM148.65 58.7h3.25v2.6h-3.25z"/>
<rect x="155.72" y="36.62" width="17.96" height="25.96" fill="#778ca2" stroke="#56677d" stroke-width="0.45"/>
<rect x="157" y="38.3" width="15.4" height="23" fill="#93a8bd"/>
<path fill="#020202" d="M157 38.3h3.25v2.6h-3.25zM157 41.7h3.25v2.6h-3.25zM157 45.1h3.25v2.6h-3.25zM157 48.5h3.25v2.6h-3.25zM157 51.9h3.25v2.6h-3.25zM157 55.3h3.25v2.6h-3.25zM157 58.7h3.25v2.6h-3.25zM161.05 38.3h3.25v2.6h-3.25zM161.05 41.7h3.25v2.6h-3.25zM161.05 45.1h3.25v2.6h-3.25zM161.05 48.5h3.25v2.6h-3.25zM161.05 51.9h3.25v2.6h-3.25zM161.05 55.3h3.25v2.6h-3.25zM161.05 58.7h3.25v2.6h-3.25zM165.1 38.3h3.25v2.6h-3.25zM165.1 41.7h3.25v2.6h-3.25zM165.1 45.1h3.25v2.6h-3.25zM165.1 48.5h3.25v2.6h-3.25zM165.1 51.9h3.25v2.6h-3.25zM165.1 55.3h3.25v2.6h-3.25zM165.1 58.7h3.25v2.6h-3.25zM169.15 38.3h3.25v2.6h-3.25zM169.15 41.7h3.25v2.6h-3.25zM169.15 45.1h3.25v2.6h-3.25zM169.15 48.5h3.25v2.6h-3.25zM169.15 51.9h3.25v2.6h-3.25zM169.15 55.3h3.25v2.6h-3.25zM169.15 58.7h3.25v2.6h-3.25z"/>
<rect x="176.22" y="36.62" width="17.96" height="25.96" fill="#778ca2" stroke="#56677d" stroke-width="0.45"/>
<rect x="177.5" y="38.3" width="15.4" height="23" fill="#93a8bd"/>
<path fill="#020202" d="M177.5 38.3h3.25v2.6h-3.25zM177.5 41.7h3.25v2.6h-3.25zM177.5 45.1h3.25v2.6h-3.25zM177.5 48.5h3.25v2.6h-3.25zM177.5 51.9h3.25v2.6h-3.25zM177.5 55.3h3.25v2.6h-3.25zM177.5 58.7h3.25v2.6h-3.25zM181.55 38.3h3.25v2.6h-3.25zM181.55 41.7h3.25v2.6h-3.25zM181.55 45.1h3.25v2.6h-3.25zM181.55 48.5h3.25v2.6h-3.25zM181.55 51.9h3.25v2.6h-3.25zM181.55 55.3h3.25v2.6h-3.25zM181.55 58.7h3.25v2.6h-3.25zM185.6 38.3h3.25v2.6h-3.25zM185.6 41.7h3.25v2.6h-3.25zM185.6 45.1h3.25v2.6h-3.25zM185.6 48.5h3.25v2.6h-3.25zM185.6 51.9h3.25v2.6h-3.25zM185.6 55.3h3.25v2.6h-3.25zM185.6 58.7h3.25v2.6h-3.25zM189.65 38.3h3.25v2.6h-3.25zM189.65 41.7h3.25v2.6h-3.25zM189.65 45.1h3.25v2.6h-3.25zM189.65 48.5h3.25v2.6h-3.25zM189.65 51.9h3.25v2.6h-3.25zM189.65 55.3h3.25v2.6h-3.25zM189.65 58.7h3.25v2.6h-3.25z"/>
<rect x="196.72" y="36.62" width="17.96" height="25.96" fill="#778ca2" stroke="#56677d" stroke-width="0.45"/>
<rect x="198" y="38.3" width="15.4" height="23" fill="#93a8bd"/>
<path fill="#020202" d="M198 38.3h3.25v2.6h-3.25zM198 41.7h3.25v2.6h-3.25zM198 45.1h3.25v2.6h-3.25zM198 48.5h3.25v2.6h-3.25zM198 51.9h3.25v2.6h-3.25zM198 55.3h3.25v2.6h-3.25zM198 58.7h3.25v2.6h-3.25zM202.05 38.3h3.25v2.6h-3.25zM202.05 41.7h3.25v2.6h-3.25zM202.05 45.1h3.25v2.6h-3.25zM202.05 48.5h3.25v2.6h-3.25zM202.05 51.9h3.25v2.6h-3.25zM202.05 55.3h3.25v2.6h-3.25zM202.05 58.7h3.25v2.6h-3.25zM206.1 38.3h3.25v2.6h-3.25zM206.1 41.7h3.25v2.6h-3.25zM206.1 45.1h3.25v2.6h-3.25zM206.1 48.5h3.25v2.6h-3.25zM206.1 51.9h3.25v2.6h-3.25zM206.1 55.3h3.25v2.6h-3.25zM206.1 58.7h3.25v2.6h-3.25zM210.15 38.3h3.25v2.6h-3.25zM210.15 41.7h3.25v2.6h-3.25zM210.15 45.1h3.25v2.6h-3.25zM210.15 48.5h3.25v2.6h-3.25zM210.15 51.9h3.25v2.6h-3.25zM210.15 55.3h3.25v2.6h-3.25zM210.15 58.7h3.25v2.6h-3.25z"/>
<rect x="32.32" y="69.22" width="11.16" height="26.36" fill="#778ca2" stroke="#56677d" stroke-width="0.45"/>
<rect x="34.1" y="71.52" width="7.6" height="22.17" fill="#93a8bd"/>
<rect x="34.1" y="71.52" width="3.25" height="8.16" fill="#020202"/>
<rect x="38.45" y="71.52" width="3.25" height="8.16" fill="#020202"/>
<rect x="34.1" y="80.79" width="3.25" height="7.96" fill="#020202"/>
<rect x="38.45" y="80.79" width="3.25" height="7.96" fill="#020202"/>
<rect x="34.1" y="90.16" width="7.6" height="3.43" fill="#020202"/>
<rect x="45.42" y="69.22" width="11.16" height="26.36" fill="#778ca2" stroke="#56677d" stroke-width="0.45"/>
<rect x="47.2" y="71.52" width="7.6" height="22.17" fill="#93a8bd"/>
<rect x="47.2" y="71.52" width="3.25" height="8.16" fill="#020202"/>
<rect x="51.55" y="71.52" width="3.25" height="8.16" fill="#020202"/>
<rect x="47.2" y="80.79" width="3.25" height="7.96" fill="#020202"/>
<rect x="51.55" y="80.79" width="3.25" height="7.96" fill="#020202"/>
<rect x="47.2" y="90.16" width="7.6" height="3.43" fill="#020202"/>
<rect x="58.52" y="69.22" width="11.16" height="26.36" fill="#778ca2" stroke="#56677d" stroke-width="0.45"/>
<rect x="60.3" y="71.52" width="7.6" height="22.17" fill="#93a8bd"/>
<rect x="60.3" y="71.52" width="3.25" height="8.16" fill="#020202"/>
<rect x="64.65" y="71.52" width="3.25" height="8.16" fill="#020202"/>
<rect x="60.3" y="80.79" width="3.25" height="7.96" fill="#020202"/>
<rect x="64.65" y="80.79" width="3.25" height="7.96" fill="#020202"/>
<rect x="60.3" y="90.16" width="7.6" height="3.43" fill="#020202"/>
<rect x="71.62" y="69.22" width="11.16" height="26.36" fill="#778ca2" stroke="#56677d" stroke-width="0.45"/>
<rect x="73.4" y="71.52" width="7.6" height="22.17" fill="#93a8bd"/>
<rect x="73.4" y="71.52" width="3.25" height="8.16" fill="#020202"/>
<rect x="77.75" y="71.52" width="3.25" height="8.16" fill="#020202"/>
<rect x="73.4" y="80.79" width="3.25" height="7.96" fill="#020202"/>
<rect x="77.75" y="80.79" width="3.25" height="7.96" fill="#020202"/>
<rect x="73.4" y="90.16" width="7.6" height="3.43" fill="#020202"/>
<rect x="84.52" y="69.22" width="10.86" height="26.36" fill="#778ca2" stroke="#56677d" stroke-width="0.45"/>
<rect x="85.9" y="70.9" width="8.1" height="23.4" fill="#93a8bd"/>
<path fill="#020202" d="M85.9 70.9h3.6v2.57h-3.6zM85.9 74.37h3.6v2.57h-3.6zM85.9 77.84h3.6v2.57h-3.6zM85.9 81.31h3.6v2.57h-3.6zM85.9 84.79h3.6v2.57h-3.6zM85.9 88.26h3.6v2.57h-3.6zM85.9 91.73h3.6v2.57h-3.6zM90.4 70.9h3.6v2.57h-3.6zM90.4 74.37h3.6v2.57h-3.6zM90.4 77.84h3.6v2.57h-3.6zM90.4 81.31h3.6v2.57h-3.6zM90.4 84.79h3.6v2.57h-3.6zM90.4 88.26h3.6v2.57h-3.6zM90.4 91.73h3.6v2.57h-3.6z"/>
<rect x="97.12" y="69.22" width="10.86" height="26.36" fill="#778ca2" stroke="#56677d" stroke-width="0.45"/>
<rect x="98.5" y="70.9" width="8.1" height="23.4" fill="#93a8bd"/>
<path fill="#020202" d="M98.5 70.9h3.6v2.57h-3.6zM98.5 74.37h3.6v2.57h-3.6zM98.5 77.84h3.6v2.57h-3.6zM98.5 81.31h3.6v2.57h-3.6zM98.5 84.79h3.6v2.57h-3.6zM98.5 88.26h3.6v2.57h-3.6zM98.5 91.73h3.6v2.57h-3.6zM103 70.9h3.6v2.57h-3.6zM103 74.37h3.6v2.57h-3.6zM103 77.84h3.6v2.57h-3.6zM103 81.31h3.6v2.57h-3.6zM103 84.79h3.6v2.57h-3.6zM103 88.26h3.6v2.57h-3.6zM103 91.73h3.6v2.57h-3.6z"/>
<rect x="109.72" y="69.22" width="10.86" height="26.36" fill="#778ca2" stroke="#56677d" stroke-width="0.45"/>
<rect x="111.1" y="70.9" width="8.1" height="23.4" fill="#93a8bd"/>
<path fill="#020202" d="M111.1 70.9h3.6v2.57h-3.6zM111.1 74.37h3.6v2.57h-3.6zM111.1 77.84h3.6v2.57h-3.6zM111.1 81.31h3.6v2.57h-3.6zM111.1 84.79h3.6v2.57h-3.6zM111.1 88.26h3.6v2.57h-3.6zM111.1 91.73h3.6v2.57h-3.6zM115.6 70.9h3.6v2.57h-3.6zM115.6 74.37h3.6v2.57h-3.6zM115.6 77.84h3.6v2.57h-3.6zM115.6 81.31h3.6v2.57h-3.6zM115.6 84.79h3.6v2.57h-3.6zM115.6 88.26h3.6v2.57h-3.6zM115.6 91.73h3.6v2.57h-3.6z"/>
<rect x="122.32" y="69.22" width="10.86" height="26.36" fill="#778ca2" stroke="#56677d" stroke-width="0.45"/>
<rect x="123.7" y="70.9" width="8.1" height="23.4" fill="#93a8bd"/>
<path fill="#020202" d="M123.7 70.9h3.6v2.57h-3.6zM123.7 74.37h3.6v2.57h-3.6zM123.7 77.84h3.6v2.57h-3.6zM123.7 81.31h3.6v2.57h-3.6zM123.7 84.79h3.6v2.57h-3.6zM123.7 88.26h3.6v2.57h-3.6zM123.7 91.73h3.6v2.57h-3.6zM128.2 70.9h3.6v2.57h-3.6zM128.2 74.37h3.6v2.57h-3.6zM128.2 77.84h3.6v2.57h-3.6zM128.2 81.31h3.6v2.57h-3.6zM128.2 84.79h3.6v2.57h-3.6zM128.2 88.26h3.6v2.57h-3.6zM128.2 91.73h3.6v2.57h-3.6z"/>
<rect x="135.22" y="69.22" width="17.96" height="26.36" fill="#778ca2" stroke="#56677d" stroke-width="0.45"/>
<rect x="136.5" y="70.9" width="15.4" height="23.4" fill="#93a8bd"/>
<path fill="#020202" d="M136.5 70.9h3.25v2.66h-3.25zM136.5 74.36h3.25v2.66h-3.25zM136.5 77.81h3.25v2.66h-3.25zM136.5 81.27h3.25v2.66h-3.25zM136.5 84.73h3.25v2.66h-3.25zM136.5 88.19h3.25v2.66h-3.25zM136.5 91.64h3.25v2.66h-3.25zM140.55 70.9h3.25v2.66h-3.25zM140.55 74.36h3.25v2.66h-3.25zM140.55 77.81h3.25v2.66h-3.25zM140.55 81.27h3.25v2.66h-3.25zM140.55 84.73h3.25v2.66h-3.25zM140.55 88.19h3.25v2.66h-3.25zM140.55 91.64h3.25v2.66h-3.25zM144.6 70.9h3.25v2.66h-3.25zM144.6 74.36h3.25v2.66h-3.25zM144.6 77.81h3.25v2.66h-3.25zM144.6 81.27h3.25v2.66h-3.25zM144.6 84.73h3.25v2.66h-3.25zM144.6 88.19h3.25v2.66h-3.25zM144.6 91.64h3.25v2.66h-3.25zM148.65 70.9h3.25v2.66h-3.25zM148.65 74.36h3.25v2.66h-3.25zM148.65 77.81h3.25v2.66h-3.25zM148.65 81.27h3.25v2.66h-3.25zM148.65 84.73h3.25v2.66h-3.25zM148.65 88.19h3.25v2.66h-3.25zM148.65 91.64h3.25v2.66h-3.25z"/>
<rect x="155.72" y="69.22" width="17.96" height="26.36" fill="#778ca2" stroke="#56677d" stroke-width="0.45"/>
<rect x="157" y="70.9" width="15.4" height="23.4" fill="#93a8bd"/>
<path fill="#020202" d="M157 70.9h3.25v2.66h-3.25zM157 74.36h3.25v2.66h-3.25zM157 77.81h3.25v2.66h-3.25zM157 81.27h3.25v2.66h-3.25zM157 84.73h3.25v2.66h-3.25zM157 88.19h3.25v2.66h-3.25zM157 91.64h3.25v2.66h-3.25zM161.05 70.9h3.25v2.66h-3.25zM161.05 74.36h3.25v2.66h-3.25zM161.05 77.81h3.25v2.66h-3.25zM161.05 81.27h3.25v2.66h-3.25zM161.05 84.73h3.25v2.66h-3.25zM161.05 88.19h3.25v2.66h-3.25zM161.05 91.64h3.25v2.66h-3.25zM165.1 70.9h3.25v2.66h-3.25zM165.1 74.36h3.25v2.66h-3.25zM165.1 77.81h3.25v2.66h-3.25zM165.1 81.27h3.25v2.66h-3.25zM165.1 84.73h3.25v2.66h-3.25zM165.1 88.19h3.25v2.66h-3.25zM165.1 91.64h3.25v2.66h-3.25zM169.15 70.9h3.25v2.66h-3.25zM169.15 74.36h3.25v2.66h-3.25zM169.15 77.81h3.25v2.66h-3.25zM169.15 81.27h3.25v2.66h-3.25zM169.15 84.73h3.25v2.66h-3.25zM169.15 88.19h3.25v2.66h-3.25zM169.15 91.64h3.25v2.66h-3.25z"/>
<rect x="176.22" y="69.22" width="17.96" height="26.36" fill="#778ca2" stroke="#56677d" stroke-width="0.45"/>
<rect x="177.5" y="70.9" width="15.4" height="23.4" fill="#93a8bd"/>
<path fill="#020202" d="M177.5 70.9h3.25v2.66h-3.25zM177.5 74.36h3.25v2.66h-3.25zM177.5 77.81h3.25v2.66h-3.25zM177.5 81.27h3.25v2.66h-3.25zM177.5 84.73h3.25v2.66h-3.25zM177.5 88.19h3.25v2.66h-3.25zM177.5 91.64h3.25v2.66h-3.25zM181.55 70.9h3.25v2.66h-3.25zM181.55 74.36h3.25v2.66h-3.25zM181.55 77.81h3.25v2.66h-3.25zM181.55 81.27h3.25v2.66h-3.25zM181.55 84.73h3.25v2.66h-3.25zM181.55 88.19h3.25v2.66h-3.25zM181.55 91.64h3.25v2.66h-3.25zM185.6 70.9h3.25v2.66h-3.25zM185.6 74.36h3.25v2.66h-3.25zM185.6 77.81h3.25v2.66h-3.25zM185.6 81.27h3.25v2.66h-3.25zM185.6 84.73h3.25v2.66h-3.25zM185.6 88.19h3.25v2.66h-3.25zM185.6 91.64h3.25v2.66h-3.25zM189.65 70.9h3.25v2.66h-3.25zM189.65 74.36h3.25v2.66h-3.25zM189.65 77.81h3.25v2.66h-3.25zM189.65 81.27h3.25v2.66h-3.25zM189.65 84.73h3.25v2.66h-3.25zM189.65 88.19h3.25v2.66h-3.25zM189.65 91.64h3.25v2.66h-3.25z"/>
<rect x="196.72" y="69.22" width="17.96" height="26.36" fill="#778ca2" stroke="#56677d" stroke-width="0.45"/>
<rect x="198" y="70.9" width="15.4" height="23.4" fill="#93a8bd"/>
<path fill="#020202" d="M198 70.9h3.25v2.66h-3.25zM198 74.36h3.25v2.66h-3.25zM198 77.81h3.25v2.66h-3.25zM198 81.27h3.25v2.66h-3.25zM198 84.73h3.25v2.66h-3.25zM198 88.19h3.25v2.66h-3.25zM198 91.64h3.25v2.66h-3.25zM202.05 70.9h3.25v2.66h-3.25zM202.05 74.36h3.25v2.66h-3.25zM202.05 77.81h3.25v2.66h-3.25zM202.05 81.27h3.25v2.66h-3.25zM202.05 84.73h3.25v2.66h-3.25zM202.05 88.19h3.25v2.66h-3.25zM202.05 91.64h3.25v2.66h-3.25zM206.1 70.9h3.25v2.66h-3.25zM206.1 74.36h3.25v2.66h-3.25zM206.1 77.81h3.25v2.66h-3.25zM206.1 81.27h3.25v2.66h-3.25zM206.1 84.73h3.25v2.66h-3.25zM206.1 88.19h3.25v2.66h-3.25zM206.1 91.64h3.25v2.66h-3.25zM210.15 70.9h3.25v2.66h-3.25zM210.15 74.36h3.25v2.66h-3.25zM210.15 77.81h3.25v2.66h-3.25zM210.15 81.27h3.25v2.66h-3.25zM210.15 84.73h3.25v2.66h-3.25zM210.15 88.19h3.25v2.66h-3.25zM210.15 91.64h3.25v2.66h-3.25z"/>
<rect x="32.32" y="101.92" width="11.16" height="26.16" fill="#778ca2" stroke="#56677d" stroke-width="0.45"/>
<rect x="34.1" y="104.2" width="7.6" height="22" fill="#93a8bd"/>
<rect x="34.1" y="104.2" width="3.25" height="8.1" fill="#020202"/>
<rect x="38.45" y="104.2" width="3.25" height="8.1" fill="#020202"/>
<rect x="34.1" y="113.4" width="3.25" height="7.9" fill="#020202"/>
<rect x="38.45" y="113.4" width="3.25" height="7.9" fill="#020202"/>
<rect x="34.1" y="122.7" width="7.6" height="3.4" fill="#020202"/>
<rect x="45.42" y="101.92" width="11.16" height="26.16" fill="#778ca2" stroke="#56677d" stroke-width="0.45"/>
<rect x="47.2" y="104.2" width="7.6" height="22" fill="#93a8bd"/>
<rect x="47.2" y="104.2" width="3.25" height="8.1" fill="#020202"/>
<rect x="51.55" y="104.2" width="3.25" height="8.1" fill="#020202"/>
<rect x="47.2" y="113.4" width="3.25" height="7.9" fill="#020202"/>
<rect x="51.55" y="113.4" width="3.25" height="7.9" fill="#020202"/>
<rect x="47.2" y="122.7" width="7.6" height="3.4" fill="#020202"/>
<rect x="58.52" y="101.92" width="11.16" height="26.16" fill="#778ca2" stroke="#56677d" stroke-width="0.45"/>
<rect x="60.3" y="104.2" width="7.6" height="22" fill="#93a8bd"/>
<rect x="60.3" y="104.2" width="3.25" height="8.1" fill="#020202"/>
<rect x="64.65" y="104.2" width="3.25" height="8.1" fill="#020202"/>
<rect x="60.3" y="113.4" width="3.25" height="7.9" fill="#020202"/>
<rect x="64.65" y="113.4" width="3.25" height="7.9" fill="#020202"/>
<rect x="60.3" y="122.7" width="7.6" height="3.4" fill="#020202"/>
<rect x="71.62" y="101.92" width="11.16" height="26.16" fill="#778ca2" stroke="#56677d" stroke-width="0.45"/>
<rect x="73.4" y="104.2" width="7.6" height="22" fill="#93a8bd"/>
<rect x="73.4" y="104.2" width="3.25" height="8.1" fill="#020202"/>
<rect x="77.75" y="104.2" width="3.25" height="8.1" fill="#020202"/>
<rect x="73.4" y="113.4" width="3.25" height="7.9" fill="#020202"/>
<rect x="77.75" y="113.4" width="3.25" height="7.9" fill="#020202"/>
<rect x="73.4" y="122.7" width="7.6" height="3.4" fill="#020202"/>
<rect x="84.52" y="101.92" width="10.86" height="26.16" fill="#778ca2" stroke="#56677d" stroke-width="0.45"/>
<rect x="85.9" y="103.6" width="8.1" height="23.2" fill="#93a8bd"/>
<path fill="#020202" d="M85.9 103.6h3.6v2.54h-3.6zM85.9 107.04h3.6v2.54h-3.6zM85.9 110.49h3.6v2.54h-3.6zM85.9 113.93h3.6v2.54h-3.6zM85.9 117.37h3.6v2.54h-3.6zM85.9 120.81h3.6v2.54h-3.6zM85.9 124.26h3.6v2.54h-3.6zM90.4 103.6h3.6v2.54h-3.6zM90.4 107.04h3.6v2.54h-3.6zM90.4 110.49h3.6v2.54h-3.6zM90.4 113.93h3.6v2.54h-3.6zM90.4 117.37h3.6v2.54h-3.6zM90.4 120.81h3.6v2.54h-3.6zM90.4 124.26h3.6v2.54h-3.6z"/>
<rect x="97.12" y="101.92" width="10.86" height="26.16" fill="#778ca2" stroke="#56677d" stroke-width="0.45"/>
<rect x="98.5" y="103.6" width="8.1" height="23.2" fill="#93a8bd"/>
<path fill="#020202" d="M98.5 103.6h3.6v2.54h-3.6zM98.5 107.04h3.6v2.54h-3.6zM98.5 110.49h3.6v2.54h-3.6zM98.5 113.93h3.6v2.54h-3.6zM98.5 117.37h3.6v2.54h-3.6zM98.5 120.81h3.6v2.54h-3.6zM98.5 124.26h3.6v2.54h-3.6zM103 103.6h3.6v2.54h-3.6zM103 107.04h3.6v2.54h-3.6zM103 110.49h3.6v2.54h-3.6zM103 113.93h3.6v2.54h-3.6zM103 117.37h3.6v2.54h-3.6zM103 120.81h3.6v2.54h-3.6zM103 124.26h3.6v2.54h-3.6z"/>
<rect x="109.72" y="101.92" width="10.86" height="26.16" fill="#778ca2" stroke="#56677d" stroke-width="0.45"/>
<rect x="111.1" y="103.6" width="8.1" height="23.2" fill="#93a8bd"/>
<path fill="#020202" d="M111.1 103.6h3.6v2.54h-3.6zM111.1 107.04h3.6v2.54h-3.6zM111.1 110.49h3.6v2.54h-3.6zM111.1 113.93h3.6v2.54h-3.6zM111.1 117.37h3.6v2.54h-3.6zM111.1 120.81h3.6v2.54h-3.6zM111.1 124.26h3.6v2.54h-3.6zM115.6 103.6h3.6v2.54h-3.6zM115.6 107.04h3.6v2.54h-3.6zM115.6 110.49h3.6v2.54h-3.6zM115.6 113.93h3.6v2.54h-3.6zM115.6 117.37h3.6v2.54h-3.6zM115.6 120.81h3.6v2.54h-3.6zM115.6 124.26h3.6v2.54h-3.6z"/>
<rect x="122.32" y="101.92" width="10.86" height="26.16" fill="#778ca2" stroke="#56677d" stroke-width="0.45"/>
<rect x="123.7" y="103.6" width="8.1" height="23.2" fill="#93a8bd"/>
<path fill="#020202" d="M123.7 103.6h3.6v2.54h-3.6zM123.7 107.04h3.6v2.54h-3.6zM123.7 110.49h3.6v2.54h-3.6zM123.7 113.93h3.6v2.54h-3.6zM123.7 117.37h3.6v2.54h-3.6zM123.7 120.81h3.6v2.54h-3.6zM123.7 124.26h3.6v2.54h-3.6zM128.2 103.6h3.6v2.54h-3.6zM128.2 107.04h3.6v2.54h-3.6zM128.2 110.49h3.6v2.54h-3.6zM128.2 113.93h3.6v2.54h-3.6zM128.2 117.37h3.6v2.54h-3.6zM128.2 120.81h3.6v2.54h-3.6zM128.2 124.26h3.6v2.54h-3.6z"/>
<rect x="135.22" y="101.92" width="17.96" height="26.16" fill="#778ca2" stroke="#56677d" stroke-width="0.45"/>
<rect x="136.5" y="103.6" width="15.4" height="23.2" fill="#93a8bd"/>
<path fill="#020202" d="M136.5 103.6h3.25v2.63h-3.25zM136.5 107.03h3.25v2.63h-3.25zM136.5 110.46h3.25v2.63h-3.25zM136.5 113.89h3.25v2.63h-3.25zM136.5 117.31h3.25v2.63h-3.25zM136.5 120.74h3.25v2.63h-3.25zM136.5 124.17h3.25v2.63h-3.25zM140.55 103.6h3.25v2.63h-3.25zM140.55 107.03h3.25v2.63h-3.25zM140.55 110.46h3.25v2.63h-3.25zM140.55 113.89h3.25v2.63h-3.25zM140.55 117.31h3.25v2.63h-3.25zM140.55 120.74h3.25v2.63h-3.25zM140.55 124.17h3.25v2.63h-3.25zM144.6 103.6h3.25v2.63h-3.25zM144.6 107.03h3.25v2.63h-3.25zM144.6 110.46h3.25v2.63h-3.25zM144.6 113.89h3.25v2.63h-3.25zM144.6 117.31h3.25v2.63h-3.25zM144.6 120.74h3.25v2.63h-3.25zM144.6 124.17h3.25v2.63h-3.25zM148.65 103.6h3.25v2.63h-3.25zM148.65 107.03h3.25v2.63h-3.25zM148.65 110.46h3.25v2.63h-3.25zM148.65 113.89h3.25v2.63h-3.25zM148.65 117.31h3.25v2.63h-3.25zM148.65 120.74h3.25v2.63h-3.25zM148.65 124.17h3.25v2.63h-3.25z"/>
<rect x="155.72" y="101.92" width="17.96" height="26.16" fill="#778ca2" stroke="#56677d" stroke-width="0.45"/>
<rect x="157" y="103.6" width="15.4" height="23.2" fill="#93a8bd"/>
<path fill="#020202" d="M157 103.6h3.25v2.63h-3.25zM157 107.03h3.25v2.63h-3.25zM157 110.46h3.25v2.63h-3.25zM157 113.89h3.25v2.63h-3.25zM157 117.31h3.25v2.63h-3.25zM157 120.74h3.25v2.63h-3.25zM157 124.17h3.25v2.63h-3.25zM161.05 103.6h3.25v2.63h-3.25zM161.05 107.03h3.25v2.63h-3.25zM161.05 110.46h3.25v2.63h-3.25zM161.05 113.89h3.25v2.63h-3.25zM161.05 117.31h3.25v2.63h-3.25zM161.05 120.74h3.25v2.63h-3.25zM161.05 124.17h3.25v2.63h-3.25zM165.1 103.6h3.25v2.63h-3.25zM165.1 107.03h3.25v2.63h-3.25zM165.1 110.46h3.25v2.63h-3.25zM165.1 113.89h3.25v2.63h-3.25zM165.1 117.31h3.25v2.63h-3.25zM165.1 120.74h3.25v2.63h-3.25zM165.1 124.17h3.25v2.63h-3.25zM169.15 103.6h3.25v2.63h-3.25zM169.15 107.03h3.25v2.63h-3.25zM169.15 110.46h3.25v2.63h-3.25zM169.15 113.89h3.25v2.63h-3.25zM169.15 117.31h3.25v2.63h-3.25zM169.15 120.74h3.25v2.63h-3.25zM169.15 124.17h3.25v2.63h-3.25z"/>
<rect x="176.22" y="101.92" width="17.96" height="26.16" fill="#778ca2" stroke="#56677d" stroke-width="0.45"/>
<rect x="177.5" y="103.6" width="15.4" height="23.2" fill="#93a8bd"/>
<path fill="#020202" d="M177.5 103.6h3.25v2.63h-3.25zM177.5 107.03h3.25v2.63h-3.25zM177.5 110.46h3.25v2.63h-3.25zM177.5 113.89h3.25v2.63h-3.25zM177.5 117.31h3.25v2.63h-3.25zM177.5 120.74h3.25v2.63h-3.25zM177.5 124.17h3.25v2.63h-3.25zM181.55 103.6h3.25v2.63h-3.25zM181.55 107.03h3.25v2.63h-3.25zM181.55 110.46h3.25v2.63h-3.25zM181.55 113.89h3.25v2.63h-3.25zM181.55 117.31h3.25v2.63h-3.25zM181.55 120.74h3.25v2.63h-3.25zM181.55 124.17h3.25v2.63h-3.25zM185.6 103.6h3.25v2.63h-3.25zM185.6 107.03h3.25v2.63h-3.25zM185.6 110.46h3.25v2.63h-3.25zM185.6 113.89h3.25v2.63h-3.25zM185.6 117.31h3.25v2.63h-3.25zM185.6 120.74h3.25v2.63h-3.25zM185.6 124.17h3.25v2.63h-3.25zM189.65 103.6h3.25v2.63h-3.25zM189.65 107.03h3.25v2.63h-3.25zM189.65 110.46h3.25v2.63h-3.25zM189.65 113.89h3.25v2.63h-3.25zM189.65 117.31h3.25v2.63h-3.25zM189.65 120.74h3.25v2.63h-3.25zM189.65 124.17h3.25v2.63h-3.25z"/>
<rect x="196.72" y="101.92" width="17.96" height="26.16" fill="#778ca2" stroke="#56677d" stroke-width="0.45"/>
<rect x="198" y="103.6" width="15.4" height="23.2" fill="#93a8bd"/>
<path fill="#020202" d="M198 103.6h3.25v2.63h-3.25zM198 107.03h3.25v2.63h-3.25zM198 110.46h3.25v2.63h-3.25zM198 113.89h3.25v2.63h-3.25zM198 117.31h3.25v2.63h-3.25zM198 120.74h3.25v2.63h-3.25zM198 124.17h3.25v2.63h-3.25zM202.05 103.6h3.25v2.63h-3.25zM202.05 107.03h3.25v2.63h-3.25zM202.05 110.46h3.25v2.63h-3.25zM202.05 113.89h3.25v2.63h-3.25zM202.05 117.31h3.25v2.63h-3.25zM202.05 120.74h3.25v2.63h-3.25zM202.05 124.17h3.25v2.63h-3.25zM206.1 103.6h3.25v2.63h-3.25zM206.1 107.03h3.25v2.63h-3.25zM206.1 110.46h3.25v2.63h-3.25zM206.1 113.89h3.25v2.63h-3.25zM206.1 117.31h3.25v2.63h-3.25zM206.1 120.74h3.25v2.63h-3.25zM206.1 124.17h3.25v2.63h-3.25zM210.15 103.6h3.25v2.63h-3.25zM210.15 107.03h3.25v2.63h-3.25zM210.15 110.46h3.25v2.63h-3.25zM210.15 113.89h3.25v2.63h-3.25zM210.15 117.31h3.25v2.63h-3.25zM210.15 120.74h3.25v2.63h-3.25zM210.15 124.17h3.25v2.63h-3.25z"/>
<rect x="0.35" y="0.35" width="219.7" height="131.7" fill="none" stroke="#1c2836" stroke-width="0.7"/></g>
<g class="t"><line x1="315" y1="136.7" x2="315" y2="138.9" stroke="#111" stroke-width="0.7"/>
<text x="315" y="146.3" text-anchor="middle">0</text>
<line x1="342.85" y1="136.7" x2="342.85" y2="138.9" stroke="#111" stroke-width="0.7"/>
<text x="342.85" y="146.3" text-anchor="middle">1000</text>
<line x1="370.7" y1="136.7" x2="370.7" y2="138.9" stroke="#111" stroke-width="0.7"/>
<text x="370.7" y="146.3" text-anchor="middle">2000</text>
<line x1="398.55" y1="136.7" x2="398.55" y2="138.9" stroke="#111" stroke-width="0.7"/>
<text x="398.55" y="146.3" text-anchor="middle">3000</text>
<line x1="426.4" y1="136.7" x2="426.4" y2="138.9" stroke="#111" stroke-width="0.7"/>
<text x="426.4" y="146.3" text-anchor="middle">4000</text>
<line x1="454.25" y1="136.7" x2="454.25" y2="138.9" stroke="#111" stroke-width="0.7"/>
<text x="454.25" y="146.3" text-anchor="middle">5000</text>
<line x1="482.1" y1="136.7" x2="482.1" y2="138.9" stroke="#111" stroke-width="0.7"/>
<text x="482.1" y="146.3" text-anchor="middle">6000</text>
<line x1="509.95" y1="136.7" x2="509.95" y2="138.9" stroke="#111" stroke-width="0.7"/>
<text x="509.95" y="146.3" text-anchor="middle">7000</text>
<line x1="537.8" y1="136.7" x2="537.8" y2="138.9" stroke="#111" stroke-width="0.7"/>
<text x="537.8" y="146.3" text-anchor="middle">8000</text>
<line x1="312.8" y1="136.7" x2="315" y2="136.7" stroke="#111" stroke-width="0.7"/>
<text x="312" y="139.4" text-anchor="end">0</text>
<line x1="312.8" y1="108.87" x2="315" y2="108.87" stroke="#111" stroke-width="0.7"/>
<text x="312" y="111.57" text-anchor="end">1000</text>
<line x1="312.8" y1="81.03" x2="315" y2="81.03" stroke="#111" stroke-width="0.7"/>
<text x="312" y="83.73" text-anchor="end">2000</text>
<line x1="312.8" y1="53.2" x2="315" y2="53.2" stroke="#111" stroke-width="0.7"/>
<text x="312" y="55.9" text-anchor="end">3000</text>
<line x1="312.8" y1="25.37" x2="315" y2="25.37" stroke="#111" stroke-width="0.7"/>
<text x="312" y="28.07" text-anchor="end">4000</text></g>
<text class="cap capb" x="398.8" y="159.6" textLength="14.9" lengthAdjust="spacingAndGlyphs">(b)</text>
<text class="cap" x="416.2" y="159.6" textLength="26.8" lengthAdjust="spacingAndGlyphs">RRT*</text>
<g transform="translate(24.1,165.3) scale(1.00998,1.00680)"><rect x="0" y="0" width="220.4" height="132.4" fill="#778ca2"/>
<rect x="3.3" y="3" width="213.7" height="126.4" fill="#ffffff"/>
<rect x="4" y="4" width="27" height="58.9" fill="#778ca2"/>
<rect x="6.4" y="6" width="22.4" height="55.3" fill="#020202"/>
<rect x="32.32" y="4.22" width="11.16" height="26.16" fill="#778ca2" stroke="#56677d" stroke-width="0.45"/>
<rect x="34.1" y="6.5" width="7.6" height="22" fill="#93a8bd"/>
<rect x="34.1" y="6.5" width="3.25" height="8.1" fill="#020202"/>
<rect x="38.45" y="6.5" width="3.25" height="8.1" fill="#020202"/>
<rect x="34.1" y="15.7" width="3.25" height="7.9" fill="#020202"/>
<rect x="38.45" y="15.7" width="3.25" height="7.9" fill="#020202"/>
<rect x="34.1" y="25" width="7.6" height="3.4" fill="#020202"/>
<rect x="45.42" y="4.22" width="11.16" height="26.16" fill="#778ca2" stroke="#56677d" stroke-width="0.45"/>
<rect x="47.2" y="6.5" width="7.6" height="22" fill="#93a8bd"/>
<rect x="47.2" y="6.5" width="3.25" height="8.1" fill="#020202"/>
<rect x="51.55" y="6.5" width="3.25" height="8.1" fill="#020202"/>
<rect x="47.2" y="15.7" width="3.25" height="7.9" fill="#020202"/>
<rect x="51.55" y="15.7" width="3.25" height="7.9" fill="#020202"/>
<rect x="47.2" y="25" width="7.6" height="3.4" fill="#020202"/>
<rect x="58.52" y="4.22" width="11.16" height="26.16" fill="#778ca2" stroke="#56677d" stroke-width="0.45"/>
<rect x="60.3" y="6.5" width="7.6" height="22" fill="#93a8bd"/>
<rect x="60.3" y="6.5" width="3.25" height="8.1" fill="#020202"/>
<rect x="64.65" y="6.5" width="3.25" height="8.1" fill="#020202"/>
<rect x="60.3" y="15.7" width="3.25" height="7.9" fill="#020202"/>
<rect x="64.65" y="15.7" width="3.25" height="7.9" fill="#020202"/>
<rect x="60.3" y="25" width="7.6" height="3.4" fill="#020202"/>
<rect x="71.62" y="4.22" width="11.16" height="26.16" fill="#778ca2" stroke="#56677d" stroke-width="0.45"/>
<rect x="73.4" y="6.5" width="7.6" height="22" fill="#93a8bd"/>
<rect x="73.4" y="6.5" width="3.25" height="8.1" fill="#020202"/>
<rect x="77.75" y="6.5" width="3.25" height="8.1" fill="#020202"/>
<rect x="73.4" y="15.7" width="3.25" height="7.9" fill="#020202"/>
<rect x="77.75" y="15.7" width="3.25" height="7.9" fill="#020202"/>
<rect x="73.4" y="25" width="7.6" height="3.4" fill="#020202"/>
<rect x="84.52" y="4.22" width="10.86" height="26.16" fill="#778ca2" stroke="#56677d" stroke-width="0.45"/>
<rect x="85.9" y="5.9" width="8.1" height="23.2" fill="#93a8bd"/>
<path fill="#020202" d="M85.9 5.9h3.6v2.54h-3.6zM85.9 9.34h3.6v2.54h-3.6zM85.9 12.79h3.6v2.54h-3.6zM85.9 16.23h3.6v2.54h-3.6zM85.9 19.67h3.6v2.54h-3.6zM85.9 23.11h3.6v2.54h-3.6zM85.9 26.56h3.6v2.54h-3.6zM90.4 5.9h3.6v2.54h-3.6zM90.4 9.34h3.6v2.54h-3.6zM90.4 12.79h3.6v2.54h-3.6zM90.4 16.23h3.6v2.54h-3.6zM90.4 19.67h3.6v2.54h-3.6zM90.4 23.11h3.6v2.54h-3.6zM90.4 26.56h3.6v2.54h-3.6z"/>
<rect x="97.12" y="4.22" width="10.86" height="26.16" fill="#778ca2" stroke="#56677d" stroke-width="0.45"/>
<rect x="98.5" y="5.9" width="8.1" height="23.2" fill="#93a8bd"/>
<path fill="#020202" d="M98.5 5.9h3.6v2.54h-3.6zM98.5 9.34h3.6v2.54h-3.6zM98.5 12.79h3.6v2.54h-3.6zM98.5 16.23h3.6v2.54h-3.6zM98.5 19.67h3.6v2.54h-3.6zM98.5 23.11h3.6v2.54h-3.6zM98.5 26.56h3.6v2.54h-3.6zM103 5.9h3.6v2.54h-3.6zM103 9.34h3.6v2.54h-3.6zM103 12.79h3.6v2.54h-3.6zM103 16.23h3.6v2.54h-3.6zM103 19.67h3.6v2.54h-3.6zM103 23.11h3.6v2.54h-3.6zM103 26.56h3.6v2.54h-3.6z"/>
<rect x="109.72" y="4.22" width="10.86" height="26.16" fill="#778ca2" stroke="#56677d" stroke-width="0.45"/>
<rect x="111.1" y="5.9" width="8.1" height="23.2" fill="#93a8bd"/>
<path fill="#020202" d="M111.1 5.9h3.6v2.54h-3.6zM111.1 9.34h3.6v2.54h-3.6zM111.1 12.79h3.6v2.54h-3.6zM111.1 16.23h3.6v2.54h-3.6zM111.1 19.67h3.6v2.54h-3.6zM111.1 23.11h3.6v2.54h-3.6zM111.1 26.56h3.6v2.54h-3.6zM115.6 5.9h3.6v2.54h-3.6zM115.6 9.34h3.6v2.54h-3.6zM115.6 12.79h3.6v2.54h-3.6zM115.6 16.23h3.6v2.54h-3.6zM115.6 19.67h3.6v2.54h-3.6zM115.6 23.11h3.6v2.54h-3.6zM115.6 26.56h3.6v2.54h-3.6z"/>
<rect x="122.32" y="4.22" width="10.86" height="26.16" fill="#778ca2" stroke="#56677d" stroke-width="0.45"/>
<rect x="123.7" y="5.9" width="8.1" height="23.2" fill="#93a8bd"/>
<path fill="#020202" d="M123.7 5.9h3.6v2.54h-3.6zM123.7 9.34h3.6v2.54h-3.6zM123.7 12.79h3.6v2.54h-3.6zM123.7 16.23h3.6v2.54h-3.6zM123.7 19.67h3.6v2.54h-3.6zM123.7 23.11h3.6v2.54h-3.6zM123.7 26.56h3.6v2.54h-3.6zM128.2 5.9h3.6v2.54h-3.6zM128.2 9.34h3.6v2.54h-3.6zM128.2 12.79h3.6v2.54h-3.6zM128.2 16.23h3.6v2.54h-3.6zM128.2 19.67h3.6v2.54h-3.6zM128.2 23.11h3.6v2.54h-3.6zM128.2 26.56h3.6v2.54h-3.6z"/>
<rect x="135.22" y="4.22" width="17.96" height="26.16" fill="#778ca2" stroke="#56677d" stroke-width="0.45"/>
<rect x="136.5" y="5.9" width="15.4" height="23.2" fill="#93a8bd"/>
<path fill="#020202" d="M136.5 5.9h3.25v2.63h-3.25zM136.5 9.33h3.25v2.63h-3.25zM136.5 12.76h3.25v2.63h-3.25zM136.5 16.19h3.25v2.63h-3.25zM136.5 19.61h3.25v2.63h-3.25zM136.5 23.04h3.25v2.63h-3.25zM136.5 26.47h3.25v2.63h-3.25zM140.55 5.9h3.25v2.63h-3.25zM140.55 9.33h3.25v2.63h-3.25zM140.55 12.76h3.25v2.63h-3.25zM140.55 16.19h3.25v2.63h-3.25zM140.55 19.61h3.25v2.63h-3.25zM140.55 23.04h3.25v2.63h-3.25zM140.55 26.47h3.25v2.63h-3.25zM144.6 5.9h3.25v2.63h-3.25zM144.6 9.33h3.25v2.63h-3.25zM144.6 12.76h3.25v2.63h-3.25zM144.6 16.19h3.25v2.63h-3.25zM144.6 19.61h3.25v2.63h-3.25zM144.6 23.04h3.25v2.63h-3.25zM144.6 26.47h3.25v2.63h-3.25zM148.65 5.9h3.25v2.63h-3.25zM148.65 9.33h3.25v2.63h-3.25zM148.65 12.76h3.25v2.63h-3.25zM148.65 16.19h3.25v2.63h-3.25zM148.65 19.61h3.25v2.63h-3.25zM148.65 23.04h3.25v2.63h-3.25zM148.65 26.47h3.25v2.63h-3.25z"/>
<rect x="155.72" y="4.22" width="17.96" height="26.16" fill="#778ca2" stroke="#56677d" stroke-width="0.45"/>
<rect x="157" y="5.9" width="15.4" height="23.2" fill="#93a8bd"/>
<path fill="#020202" d="M157 5.9h3.25v2.63h-3.25zM157 9.33h3.25v2.63h-3.25zM157 12.76h3.25v2.63h-3.25zM157 16.19h3.25v2.63h-3.25zM157 19.61h3.25v2.63h-3.25zM157 23.04h3.25v2.63h-3.25zM157 26.47h3.25v2.63h-3.25zM161.05 5.9h3.25v2.63h-3.25zM161.05 9.33h3.25v2.63h-3.25zM161.05 12.76h3.25v2.63h-3.25zM161.05 16.19h3.25v2.63h-3.25zM161.05 19.61h3.25v2.63h-3.25zM161.05 23.04h3.25v2.63h-3.25zM161.05 26.47h3.25v2.63h-3.25zM165.1 5.9h3.25v2.63h-3.25zM165.1 9.33h3.25v2.63h-3.25zM165.1 12.76h3.25v2.63h-3.25zM165.1 16.19h3.25v2.63h-3.25zM165.1 19.61h3.25v2.63h-3.25zM165.1 23.04h3.25v2.63h-3.25zM165.1 26.47h3.25v2.63h-3.25zM169.15 5.9h3.25v2.63h-3.25zM169.15 9.33h3.25v2.63h-3.25zM169.15 12.76h3.25v2.63h-3.25zM169.15 16.19h3.25v2.63h-3.25zM169.15 19.61h3.25v2.63h-3.25zM169.15 23.04h3.25v2.63h-3.25zM169.15 26.47h3.25v2.63h-3.25z"/>
<rect x="176.22" y="4.22" width="17.96" height="26.16" fill="#778ca2" stroke="#56677d" stroke-width="0.45"/>
<rect x="177.5" y="5.9" width="15.4" height="23.2" fill="#93a8bd"/>
<path fill="#020202" d="M177.5 5.9h3.25v2.63h-3.25zM177.5 9.33h3.25v2.63h-3.25zM177.5 12.76h3.25v2.63h-3.25zM177.5 16.19h3.25v2.63h-3.25zM177.5 19.61h3.25v2.63h-3.25zM177.5 23.04h3.25v2.63h-3.25zM177.5 26.47h3.25v2.63h-3.25zM181.55 5.9h3.25v2.63h-3.25zM181.55 9.33h3.25v2.63h-3.25zM181.55 12.76h3.25v2.63h-3.25zM181.55 16.19h3.25v2.63h-3.25zM181.55 19.61h3.25v2.63h-3.25zM181.55 23.04h3.25v2.63h-3.25zM181.55 26.47h3.25v2.63h-3.25zM185.6 5.9h3.25v2.63h-3.25zM185.6 9.33h3.25v2.63h-3.25zM185.6 12.76h3.25v2.63h-3.25zM185.6 16.19h3.25v2.63h-3.25zM185.6 19.61h3.25v2.63h-3.25zM185.6 23.04h3.25v2.63h-3.25zM185.6 26.47h3.25v2.63h-3.25zM189.65 5.9h3.25v2.63h-3.25zM189.65 9.33h3.25v2.63h-3.25zM189.65 12.76h3.25v2.63h-3.25zM189.65 16.19h3.25v2.63h-3.25zM189.65 19.61h3.25v2.63h-3.25zM189.65 23.04h3.25v2.63h-3.25zM189.65 26.47h3.25v2.63h-3.25z"/>
<rect x="196.72" y="4.22" width="17.96" height="26.16" fill="#778ca2" stroke="#56677d" stroke-width="0.45"/>
<rect x="198" y="5.9" width="15.4" height="23.2" fill="#93a8bd"/>
<path fill="#020202" d="M198 5.9h3.25v2.63h-3.25zM198 9.33h3.25v2.63h-3.25zM198 12.76h3.25v2.63h-3.25zM198 16.19h3.25v2.63h-3.25zM198 19.61h3.25v2.63h-3.25zM198 23.04h3.25v2.63h-3.25zM198 26.47h3.25v2.63h-3.25zM202.05 5.9h3.25v2.63h-3.25zM202.05 9.33h3.25v2.63h-3.25zM202.05 12.76h3.25v2.63h-3.25zM202.05 16.19h3.25v2.63h-3.25zM202.05 19.61h3.25v2.63h-3.25zM202.05 23.04h3.25v2.63h-3.25zM202.05 26.47h3.25v2.63h-3.25zM206.1 5.9h3.25v2.63h-3.25zM206.1 9.33h3.25v2.63h-3.25zM206.1 12.76h3.25v2.63h-3.25zM206.1 16.19h3.25v2.63h-3.25zM206.1 19.61h3.25v2.63h-3.25zM206.1 23.04h3.25v2.63h-3.25zM206.1 26.47h3.25v2.63h-3.25zM210.15 5.9h3.25v2.63h-3.25zM210.15 9.33h3.25v2.63h-3.25zM210.15 12.76h3.25v2.63h-3.25zM210.15 16.19h3.25v2.63h-3.25zM210.15 19.61h3.25v2.63h-3.25zM210.15 23.04h3.25v2.63h-3.25zM210.15 26.47h3.25v2.63h-3.25z"/>
<rect x="32.32" y="36.62" width="11.16" height="25.96" fill="#778ca2" stroke="#56677d" stroke-width="0.45"/>
<rect x="34.1" y="38.88" width="7.6" height="21.83" fill="#93a8bd"/>
<rect x="34.1" y="38.88" width="3.25" height="8.04" fill="#020202"/>
<rect x="38.45" y="38.88" width="3.25" height="8.04" fill="#020202"/>
<rect x="34.1" y="48.01" width="3.25" height="7.84" fill="#020202"/>
<rect x="38.45" y="48.01" width="3.25" height="7.84" fill="#020202"/>
<rect x="34.1" y="57.24" width="7.6" height="3.37" fill="#020202"/>
<rect x="45.42" y="36.62" width="11.16" height="25.96" fill="#778ca2" stroke="#56677d" stroke-width="0.45"/>
<rect x="47.2" y="38.88" width="7.6" height="21.83" fill="#93a8bd"/>
<rect x="47.2" y="38.88" width="3.25" height="8.04" fill="#020202"/>
<rect x="51.55" y="38.88" width="3.25" height="8.04" fill="#020202"/>
<rect x="47.2" y="48.01" width="3.25" height="7.84" fill="#020202"/>
<rect x="51.55" y="48.01" width="3.25" height="7.84" fill="#020202"/>
<rect x="47.2" y="57.24" width="7.6" height="3.37" fill="#020202"/>
<rect x="58.52" y="36.62" width="11.16" height="25.96" fill="#778ca2" stroke="#56677d" stroke-width="0.45"/>
<rect x="60.3" y="38.88" width="7.6" height="21.83" fill="#93a8bd"/>
<rect x="60.3" y="38.88" width="3.25" height="8.04" fill="#020202"/>
<rect x="64.65" y="38.88" width="3.25" height="8.04" fill="#020202"/>
<rect x="60.3" y="48.01" width="3.25" height="7.84" fill="#020202"/>
<rect x="64.65" y="48.01" width="3.25" height="7.84" fill="#020202"/>
<rect x="60.3" y="57.24" width="7.6" height="3.37" fill="#020202"/>
<rect x="71.62" y="36.62" width="11.16" height="25.96" fill="#778ca2" stroke="#56677d" stroke-width="0.45"/>
<rect x="73.4" y="38.88" width="7.6" height="21.83" fill="#93a8bd"/>
<rect x="73.4" y="38.88" width="3.25" height="8.04" fill="#020202"/>
<rect x="77.75" y="38.88" width="3.25" height="8.04" fill="#020202"/>
<rect x="73.4" y="48.01" width="3.25" height="7.84" fill="#020202"/>
<rect x="77.75" y="48.01" width="3.25" height="7.84" fill="#020202"/>
<rect x="73.4" y="57.24" width="7.6" height="3.37" fill="#020202"/>
<rect x="84.52" y="36.62" width="10.86" height="25.96" fill="#778ca2" stroke="#56677d" stroke-width="0.45"/>
<rect x="85.9" y="38.3" width="8.1" height="23" fill="#93a8bd"/>
<path fill="#020202" d="M85.9 38.3h3.6v2.51h-3.6zM85.9 41.71h3.6v2.51h-3.6zM85.9 45.13h3.6v2.51h-3.6zM85.9 48.54h3.6v2.51h-3.6zM85.9 51.96h3.6v2.51h-3.6zM85.9 55.37h3.6v2.51h-3.6zM85.9 58.79h3.6v2.51h-3.6zM90.4 38.3h3.6v2.51h-3.6zM90.4 41.71h3.6v2.51h-3.6zM90.4 45.13h3.6v2.51h-3.6zM90.4 48.54h3.6v2.51h-3.6zM90.4 51.96h3.6v2.51h-3.6zM90.4 55.37h3.6v2.51h-3.6zM90.4 58.79h3.6v2.51h-3.6z"/>
<rect x="97.12" y="36.62" width="10.86" height="25.96" fill="#778ca2" stroke="#56677d" stroke-width="0.45"/>
<rect x="98.5" y="38.3" width="8.1" height="23" fill="#93a8bd"/>
<path fill="#020202" d="M98.5 38.3h3.6v2.51h-3.6zM98.5 41.71h3.6v2.51h-3.6zM98.5 45.13h3.6v2.51h-3.6zM98.5 48.54h3.6v2.51h-3.6zM98.5 51.96h3.6v2.51h-3.6zM98.5 55.37h3.6v2.51h-3.6zM98.5 58.79h3.6v2.51h-3.6zM103 38.3h3.6v2.51h-3.6zM103 41.71h3.6v2.51h-3.6zM103 45.13h3.6v2.51h-3.6zM103 48.54h3.6v2.51h-3.6zM103 51.96h3.6v2.51h-3.6zM103 55.37h3.6v2.51h-3.6zM103 58.79h3.6v2.51h-3.6z"/>
<rect x="109.72" y="36.62" width="10.86" height="25.96" fill="#778ca2" stroke="#56677d" stroke-width="0.45"/>
<rect x="111.1" y="38.3" width="8.1" height="23" fill="#93a8bd"/>
<path fill="#020202" d="M111.1 38.3h3.6v2.51h-3.6zM111.1 41.71h3.6v2.51h-3.6zM111.1 45.13h3.6v2.51h-3.6zM111.1 48.54h3.6v2.51h-3.6zM111.1 51.96h3.6v2.51h-3.6zM111.1 55.37h3.6v2.51h-3.6zM111.1 58.79h3.6v2.51h-3.6zM115.6 38.3h3.6v2.51h-3.6zM115.6 41.71h3.6v2.51h-3.6zM115.6 45.13h3.6v2.51h-3.6zM115.6 48.54h3.6v2.51h-3.6zM115.6 51.96h3.6v2.51h-3.6zM115.6 55.37h3.6v2.51h-3.6zM115.6 58.79h3.6v2.51h-3.6z"/>
<rect x="122.32" y="36.62" width="10.86" height="25.96" fill="#778ca2" stroke="#56677d" stroke-width="0.45"/>
<rect x="123.7" y="38.3" width="8.1" height="23" fill="#93a8bd"/>
<path fill="#020202" d="M123.7 38.3h3.6v2.51h-3.6zM123.7 41.71h3.6v2.51h-3.6zM123.7 45.13h3.6v2.51h-3.6zM123.7 48.54h3.6v2.51h-3.6zM123.7 51.96h3.6v2.51h-3.6zM123.7 55.37h3.6v2.51h-3.6zM123.7 58.79h3.6v2.51h-3.6zM128.2 38.3h3.6v2.51h-3.6zM128.2 41.71h3.6v2.51h-3.6zM128.2 45.13h3.6v2.51h-3.6zM128.2 48.54h3.6v2.51h-3.6zM128.2 51.96h3.6v2.51h-3.6zM128.2 55.37h3.6v2.51h-3.6zM128.2 58.79h3.6v2.51h-3.6z"/>
<rect x="135.22" y="36.62" width="17.96" height="25.96" fill="#778ca2" stroke="#56677d" stroke-width="0.45"/>
<rect x="136.5" y="38.3" width="15.4" height="23" fill="#93a8bd"/>
<path fill="#020202" d="M136.5 38.3h3.25v2.6h-3.25zM136.5 41.7h3.25v2.6h-3.25zM136.5 45.1h3.25v2.6h-3.25zM136.5 48.5h3.25v2.6h-3.25zM136.5 51.9h3.25v2.6h-3.25zM136.5 55.3h3.25v2.6h-3.25zM136.5 58.7h3.25v2.6h-3.25zM140.55 38.3h3.25v2.6h-3.25zM140.55 41.7h3.25v2.6h-3.25zM140.55 45.1h3.25v2.6h-3.25zM140.55 48.5h3.25v2.6h-3.25zM140.55 51.9h3.25v2.6h-3.25zM140.55 55.3h3.25v2.6h-3.25zM140.55 58.7h3.25v2.6h-3.25zM144.6 38.3h3.25v2.6h-3.25zM144.6 41.7h3.25v2.6h-3.25zM144.6 45.1h3.25v2.6h-3.25zM144.6 48.5h3.25v2.6h-3.25zM144.6 51.9h3.25v2.6h-3.25zM144.6 55.3h3.25v2.6h-3.25zM144.6 58.7h3.25v2.6h-3.25zM148.65 38.3h3.25v2.6h-3.25zM148.65 41.7h3.25v2.6h-3.25zM148.65 45.1h3.25v2.6h-3.25zM148.65 48.5h3.25v2.6h-3.25zM148.65 51.9h3.25v2.6h-3.25zM148.65 55.3h3.25v2.6h-3.25zM148.65 58.7h3.25v2.6h-3.25z"/>
<rect x="155.72" y="36.62" width="17.96" height="25.96" fill="#778ca2" stroke="#56677d" stroke-width="0.45"/>
<rect x="157" y="38.3" width="15.4" height="23" fill="#93a8bd"/>
<path fill="#020202" d="M157 38.3h3.25v2.6h-3.25zM157 41.7h3.25v2.6h-3.25zM157 45.1h3.25v2.6h-3.25zM157 48.5h3.25v2.6h-3.25zM157 51.9h3.25v2.6h-3.25zM157 55.3h3.25v2.6h-3.25zM157 58.7h3.25v2.6h-3.25zM161.05 38.3h3.25v2.6h-3.25zM161.05 41.7h3.25v2.6h-3.25zM161.05 45.1h3.25v2.6h-3.25zM161.05 48.5h3.25v2.6h-3.25zM161.05 51.9h3.25v2.6h-3.25zM161.05 55.3h3.25v2.6h-3.25zM161.05 58.7h3.25v2.6h-3.25zM165.1 38.3h3.25v2.6h-3.25zM165.1 41.7h3.25v2.6h-3.25zM165.1 45.1h3.25v2.6h-3.25zM165.1 48.5h3.25v2.6h-3.25zM165.1 51.9h3.25v2.6h-3.25zM165.1 55.3h3.25v2.6h-3.25zM165.1 58.7h3.25v2.6h-3.25zM169.15 38.3h3.25v2.6h-3.25zM169.15 41.7h3.25v2.6h-3.25zM169.15 45.1h3.25v2.6h-3.25zM169.15 48.5h3.25v2.6h-3.25zM169.15 51.9h3.25v2.6h-3.25zM169.15 55.3h3.25v2.6h-3.25zM169.15 58.7h3.25v2.6h-3.25z"/>
<rect x="176.22" y="36.62" width="17.96" height="25.96" fill="#778ca2" stroke="#56677d" stroke-width="0.45"/>
<rect x="177.5" y="38.3" width="15.4" height="23" fill="#93a8bd"/>
<path fill="#020202" d="M177.5 38.3h3.25v2.6h-3.25zM177.5 41.7h3.25v2.6h-3.25zM177.5 45.1h3.25v2.6h-3.25zM177.5 48.5h3.25v2.6h-3.25zM177.5 51.9h3.25v2.6h-3.25zM177.5 55.3h3.25v2.6h-3.25zM177.5 58.7h3.25v2.6h-3.25zM181.55 38.3h3.25v2.6h-3.25zM181.55 41.7h3.25v2.6h-3.25zM181.55 45.1h3.25v2.6h-3.25zM181.55 48.5h3.25v2.6h-3.25zM181.55 51.9h3.25v2.6h-3.25zM181.55 55.3h3.25v2.6h-3.25zM181.55 58.7h3.25v2.6h-3.25zM185.6 38.3h3.25v2.6h-3.25zM185.6 41.7h3.25v2.6h-3.25zM185.6 45.1h3.25v2.6h-3.25zM185.6 48.5h3.25v2.6h-3.25zM185.6 51.9h3.25v2.6h-3.25zM185.6 55.3h3.25v2.6h-3.25zM185.6 58.7h3.25v2.6h-3.25zM189.65 38.3h3.25v2.6h-3.25zM189.65 41.7h3.25v2.6h-3.25zM189.65 45.1h3.25v2.6h-3.25zM189.65 48.5h3.25v2.6h-3.25zM189.65 51.9h3.25v2.6h-3.25zM189.65 55.3h3.25v2.6h-3.25zM189.65 58.7h3.25v2.6h-3.25z"/>
<rect x="196.72" y="36.62" width="17.96" height="25.96" fill="#778ca2" stroke="#56677d" stroke-width="0.45"/>
<rect x="198" y="38.3" width="15.4" height="23" fill="#93a8bd"/>
<path fill="#020202" d="M198 38.3h3.25v2.6h-3.25zM198 41.7h3.25v2.6h-3.25zM198 45.1h3.25v2.6h-3.25zM198 48.5h3.25v2.6h-3.25zM198 51.9h3.25v2.6h-3.25zM198 55.3h3.25v2.6h-3.25zM198 58.7h3.25v2.6h-3.25zM202.05 38.3h3.25v2.6h-3.25zM202.05 41.7h3.25v2.6h-3.25zM202.05 45.1h3.25v2.6h-3.25zM202.05 48.5h3.25v2.6h-3.25zM202.05 51.9h3.25v2.6h-3.25zM202.05 55.3h3.25v2.6h-3.25zM202.05 58.7h3.25v2.6h-3.25zM206.1 38.3h3.25v2.6h-3.25zM206.1 41.7h3.25v2.6h-3.25zM206.1 45.1h3.25v2.6h-3.25zM206.1 48.5h3.25v2.6h-3.25zM206.1 51.9h3.25v2.6h-3.25zM206.1 55.3h3.25v2.6h-3.25zM206.1 58.7h3.25v2.6h-3.25zM210.15 38.3h3.25v2.6h-3.25zM210.15 41.7h3.25v2.6h-3.25zM210.15 45.1h3.25v2.6h-3.25zM210.15 48.5h3.25v2.6h-3.25zM210.15 51.9h3.25v2.6h-3.25zM210.15 55.3h3.25v2.6h-3.25zM210.15 58.7h3.25v2.6h-3.25z"/>
<rect x="32.32" y="69.22" width="11.16" height="26.36" fill="#778ca2" stroke="#56677d" stroke-width="0.45"/>
<rect x="34.1" y="71.52" width="7.6" height="22.17" fill="#93a8bd"/>
<rect x="34.1" y="71.52" width="3.25" height="8.16" fill="#020202"/>
<rect x="38.45" y="71.52" width="3.25" height="8.16" fill="#020202"/>
<rect x="34.1" y="80.79" width="3.25" height="7.96" fill="#020202"/>
<rect x="38.45" y="80.79" width="3.25" height="7.96" fill="#020202"/>
<rect x="34.1" y="90.16" width="7.6" height="3.43" fill="#020202"/>
<rect x="45.42" y="69.22" width="11.16" height="26.36" fill="#778ca2" stroke="#56677d" stroke-width="0.45"/>
<rect x="47.2" y="71.52" width="7.6" height="22.17" fill="#93a8bd"/>
<rect x="47.2" y="71.52" width="3.25" height="8.16" fill="#020202"/>
<rect x="51.55" y="71.52" width="3.25" height="8.16" fill="#020202"/>
<rect x="47.2" y="80.79" width="3.25" height="7.96" fill="#020202"/>
<rect x="51.55" y="80.79" width="3.25" height="7.96" fill="#020202"/>
<rect x="47.2" y="90.16" width="7.6" height="3.43" fill="#020202"/>
<rect x="58.52" y="69.22" width="11.16" height="26.36" fill="#778ca2" stroke="#56677d" stroke-width="0.45"/>
<rect x="60.3" y="71.52" width="7.6" height="22.17" fill="#93a8bd"/>
<rect x="60.3" y="71.52" width="3.25" height="8.16" fill="#020202"/>
<rect x="64.65" y="71.52" width="3.25" height="8.16" fill="#020202"/>
<rect x="60.3" y="80.79" width="3.25" height="7.96" fill="#020202"/>
<rect x="64.65" y="80.79" width="3.25" height="7.96" fill="#020202"/>
<rect x="60.3" y="90.16" width="7.6" height="3.43" fill="#020202"/>
<rect x="71.62" y="69.22" width="11.16" height="26.36" fill="#778ca2" stroke="#56677d" stroke-width="0.45"/>
<rect x="73.4" y="71.52" width="7.6" height="22.17" fill="#93a8bd"/>
<rect x="73.4" y="71.52" width="3.25" height="8.16" fill="#020202"/>
<rect x="77.75" y="71.52" width="3.25" height="8.16" fill="#020202"/>
<rect x="73.4" y="80.79" width="3.25" height="7.96" fill="#020202"/>
<rect x="77.75" y="80.79" width="3.25" height="7.96" fill="#020202"/>
<rect x="73.4" y="90.16" width="7.6" height="3.43" fill="#020202"/>
<rect x="84.52" y="69.22" width="10.86" height="26.36" fill="#778ca2" stroke="#56677d" stroke-width="0.45"/>
<rect x="85.9" y="70.9" width="8.1" height="23.4" fill="#93a8bd"/>
<path fill="#020202" d="M85.9 70.9h3.6v2.57h-3.6zM85.9 74.37h3.6v2.57h-3.6zM85.9 77.84h3.6v2.57h-3.6zM85.9 81.31h3.6v2.57h-3.6zM85.9 84.79h3.6v2.57h-3.6zM85.9 88.26h3.6v2.57h-3.6zM85.9 91.73h3.6v2.57h-3.6zM90.4 70.9h3.6v2.57h-3.6zM90.4 74.37h3.6v2.57h-3.6zM90.4 77.84h3.6v2.57h-3.6zM90.4 81.31h3.6v2.57h-3.6zM90.4 84.79h3.6v2.57h-3.6zM90.4 88.26h3.6v2.57h-3.6zM90.4 91.73h3.6v2.57h-3.6z"/>
<rect x="97.12" y="69.22" width="10.86" height="26.36" fill="#778ca2" stroke="#56677d" stroke-width="0.45"/>
<rect x="98.5" y="70.9" width="8.1" height="23.4" fill="#93a8bd"/>
<path fill="#020202" d="M98.5 70.9h3.6v2.57h-3.6zM98.5 74.37h3.6v2.57h-3.6zM98.5 77.84h3.6v2.57h-3.6zM98.5 81.31h3.6v2.57h-3.6zM98.5 84.79h3.6v2.57h-3.6zM98.5 88.26h3.6v2.57h-3.6zM98.5 91.73h3.6v2.57h-3.6zM103 70.9h3.6v2.57h-3.6zM103 74.37h3.6v2.57h-3.6zM103 77.84h3.6v2.57h-3.6zM103 81.31h3.6v2.57h-3.6zM103 84.79h3.6v2.57h-3.6zM103 88.26h3.6v2.57h-3.6zM103 91.73h3.6v2.57h-3.6z"/>
<rect x="109.72" y="69.22" width="10.86" height="26.36" fill="#778ca2" stroke="#56677d" stroke-width="0.45"/>
<rect x="111.1" y="70.9" width="8.1" height="23.4" fill="#93a8bd"/>
<path fill="#020202" d="M111.1 70.9h3.6v2.57h-3.6zM111.1 74.37h3.6v2.57h-3.6zM111.1 77.84h3.6v2.57h-3.6zM111.1 81.31h3.6v2.57h-3.6zM111.1 84.79h3.6v2.57h-3.6zM111.1 88.26h3.6v2.57h-3.6zM111.1 91.73h3.6v2.57h-3.6zM115.6 70.9h3.6v2.57h-3.6zM115.6 74.37h3.6v2.57h-3.6zM115.6 77.84h3.6v2.57h-3.6zM115.6 81.31h3.6v2.57h-3.6zM115.6 84.79h3.6v2.57h-3.6zM115.6 88.26h3.6v2.57h-3.6zM115.6 91.73h3.6v2.57h-3.6z"/>
<rect x="122.32" y="69.22" width="10.86" height="26.36" fill="#778ca2" stroke="#56677d" stroke-width="0.45"/>
<rect x="123.7" y="70.9" width="8.1" height="23.4" fill="#93a8bd"/>
<path fill="#020202" d="M123.7 70.9h3.6v2.57h-3.6zM123.7 74.37h3.6v2.57h-3.6zM123.7 77.84h3.6v2.57h-3.6zM123.7 81.31h3.6v2.57h-3.6zM123.7 84.79h3.6v2.57h-3.6zM123.7 88.26h3.6v2.57h-3.6zM123.7 91.73h3.6v2.57h-3.6zM128.2 70.9h3.6v2.57h-3.6zM128.2 74.37h3.6v2.57h-3.6zM128.2 77.84h3.6v2.57h-3.6zM128.2 81.31h3.6v2.57h-3.6zM128.2 84.79h3.6v2.57h-3.6zM128.2 88.26h3.6v2.57h-3.6zM128.2 91.73h3.6v2.57h-3.6z"/>
<rect x="135.22" y="69.22" width="17.96" height="26.36" fill="#778ca2" stroke="#56677d" stroke-width="0.45"/>
<rect x="136.5" y="70.9" width="15.4" height="23.4" fill="#93a8bd"/>
<path fill="#020202" d="M136.5 70.9h3.25v2.66h-3.25zM136.5 74.36h3.25v2.66h-3.25zM136.5 77.81h3.25v2.66h-3.25zM136.5 81.27h3.25v2.66h-3.25zM136.5 84.73h3.25v2.66h-3.25zM136.5 88.19h3.25v2.66h-3.25zM136.5 91.64h3.25v2.66h-3.25zM140.55 70.9h3.25v2.66h-3.25zM140.55 74.36h3.25v2.66h-3.25zM140.55 77.81h3.25v2.66h-3.25zM140.55 81.27h3.25v2.66h-3.25zM140.55 84.73h3.25v2.66h-3.25zM140.55 88.19h3.25v2.66h-3.25zM140.55 91.64h3.25v2.66h-3.25zM144.6 70.9h3.25v2.66h-3.25zM144.6 74.36h3.25v2.66h-3.25zM144.6 77.81h3.25v2.66h-3.25zM144.6 81.27h3.25v2.66h-3.25zM144.6 84.73h3.25v2.66h-3.25zM144.6 88.19h3.25v2.66h-3.25zM144.6 91.64h3.25v2.66h-3.25zM148.65 70.9h3.25v2.66h-3.25zM148.65 74.36h3.25v2.66h-3.25zM148.65 77.81h3.25v2.66h-3.25zM148.65 81.27h3.25v2.66h-3.25zM148.65 84.73h3.25v2.66h-3.25zM148.65 88.19h3.25v2.66h-3.25zM148.65 91.64h3.25v2.66h-3.25z"/>
<rect x="155.72" y="69.22" width="17.96" height="26.36" fill="#778ca2" stroke="#56677d" stroke-width="0.45"/>
<rect x="157" y="70.9" width="15.4" height="23.4" fill="#93a8bd"/>
<path fill="#020202" d="M157 70.9h3.25v2.66h-3.25zM157 74.36h3.25v2.66h-3.25zM157 77.81h3.25v2.66h-3.25zM157 81.27h3.25v2.66h-3.25zM157 84.73h3.25v2.66h-3.25zM157 88.19h3.25v2.66h-3.25zM157 91.64h3.25v2.66h-3.25zM161.05 70.9h3.25v2.66h-3.25zM161.05 74.36h3.25v2.66h-3.25zM161.05 77.81h3.25v2.66h-3.25zM161.05 81.27h3.25v2.66h-3.25zM161.05 84.73h3.25v2.66h-3.25zM161.05 88.19h3.25v2.66h-3.25zM161.05 91.64h3.25v2.66h-3.25zM165.1 70.9h3.25v2.66h-3.25zM165.1 74.36h3.25v2.66h-3.25zM165.1 77.81h3.25v2.66h-3.25zM165.1 81.27h3.25v2.66h-3.25zM165.1 84.73h3.25v2.66h-3.25zM165.1 88.19h3.25v2.66h-3.25zM165.1 91.64h3.25v2.66h-3.25zM169.15 70.9h3.25v2.66h-3.25zM169.15 74.36h3.25v2.66h-3.25zM169.15 77.81h3.25v2.66h-3.25zM169.15 81.27h3.25v2.66h-3.25zM169.15 84.73h3.25v2.66h-3.25zM169.15 88.19h3.25v2.66h-3.25zM169.15 91.64h3.25v2.66h-3.25z"/>
<rect x="176.22" y="69.22" width="17.96" height="26.36" fill="#778ca2" stroke="#56677d" stroke-width="0.45"/>
<rect x="177.5" y="70.9" width="15.4" height="23.4" fill="#93a8bd"/>
<path fill="#020202" d="M177.5 70.9h3.25v2.66h-3.25zM177.5 74.36h3.25v2.66h-3.25zM177.5 77.81h3.25v2.66h-3.25zM177.5 81.27h3.25v2.66h-3.25zM177.5 84.73h3.25v2.66h-3.25zM177.5 88.19h3.25v2.66h-3.25zM177.5 91.64h3.25v2.66h-3.25zM181.55 70.9h3.25v2.66h-3.25zM181.55 74.36h3.25v2.66h-3.25zM181.55 77.81h3.25v2.66h-3.25zM181.55 81.27h3.25v2.66h-3.25zM181.55 84.73h3.25v2.66h-3.25zM181.55 88.19h3.25v2.66h-3.25zM181.55 91.64h3.25v2.66h-3.25zM185.6 70.9h3.25v2.66h-3.25zM185.6 74.36h3.25v2.66h-3.25zM185.6 77.81h3.25v2.66h-3.25zM185.6 81.27h3.25v2.66h-3.25zM185.6 84.73h3.25v2.66h-3.25zM185.6 88.19h3.25v2.66h-3.25zM185.6 91.64h3.25v2.66h-3.25zM189.65 70.9h3.25v2.66h-3.25zM189.65 74.36h3.25v2.66h-3.25zM189.65 77.81h3.25v2.66h-3.25zM189.65 81.27h3.25v2.66h-3.25zM189.65 84.73h3.25v2.66h-3.25zM189.65 88.19h3.25v2.66h-3.25zM189.65 91.64h3.25v2.66h-3.25z"/>
<rect x="196.72" y="69.22" width="17.96" height="26.36" fill="#778ca2" stroke="#56677d" stroke-width="0.45"/>
<rect x="198" y="70.9" width="15.4" height="23.4" fill="#93a8bd"/>
<path fill="#020202" d="M198 70.9h3.25v2.66h-3.25zM198 74.36h3.25v2.66h-3.25zM198 77.81h3.25v2.66h-3.25zM198 81.27h3.25v2.66h-3.25zM198 84.73h3.25v2.66h-3.25zM198 88.19h3.25v2.66h-3.25zM198 91.64h3.25v2.66h-3.25zM202.05 70.9h3.25v2.66h-3.25zM202.05 74.36h3.25v2.66h-3.25zM202.05 77.81h3.25v2.66h-3.25zM202.05 81.27h3.25v2.66h-3.25zM202.05 84.73h3.25v2.66h-3.25zM202.05 88.19h3.25v2.66h-3.25zM202.05 91.64h3.25v2.66h-3.25zM206.1 70.9h3.25v2.66h-3.25zM206.1 74.36h3.25v2.66h-3.25zM206.1 77.81h3.25v2.66h-3.25zM206.1 81.27h3.25v2.66h-3.25zM206.1 84.73h3.25v2.66h-3.25zM206.1 88.19h3.25v2.66h-3.25zM206.1 91.64h3.25v2.66h-3.25zM210.15 70.9h3.25v2.66h-3.25zM210.15 74.36h3.25v2.66h-3.25zM210.15 77.81h3.25v2.66h-3.25zM210.15 81.27h3.25v2.66h-3.25zM210.15 84.73h3.25v2.66h-3.25zM210.15 88.19h3.25v2.66h-3.25zM210.15 91.64h3.25v2.66h-3.25z"/>
<rect x="32.32" y="101.92" width="11.16" height="26.16" fill="#778ca2" stroke="#56677d" stroke-width="0.45"/>
<rect x="34.1" y="104.2" width="7.6" height="22" fill="#93a8bd"/>
<rect x="34.1" y="104.2" width="3.25" height="8.1" fill="#020202"/>
<rect x="38.45" y="104.2" width="3.25" height="8.1" fill="#020202"/>
<rect x="34.1" y="113.4" width="3.25" height="7.9" fill="#020202"/>
<rect x="38.45" y="113.4" width="3.25" height="7.9" fill="#020202"/>
<rect x="34.1" y="122.7" width="7.6" height="3.4" fill="#020202"/>
<rect x="45.42" y="101.92" width="11.16" height="26.16" fill="#778ca2" stroke="#56677d" stroke-width="0.45"/>
<rect x="47.2" y="104.2" width="7.6" height="22" fill="#93a8bd"/>
<rect x="47.2" y="104.2" width="3.25" height="8.1" fill="#020202"/>
<rect x="51.55" y="104.2" width="3.25" height="8.1" fill="#020202"/>
<rect x="47.2" y="113.4" width="3.25" height="7.9" fill="#020202"/>
<rect x="51.55" y="113.4" width="3.25" height="7.9" fill="#020202"/>
<rect x="47.2" y="122.7" width="7.6" height="3.4" fill="#020202"/>
<rect x="58.52" y="101.92" width="11.16" height="26.16" fill="#778ca2" stroke="#56677d" stroke-width="0.45"/>
<rect x="60.3" y="104.2" width="7.6" height="22" fill="#93a8bd"/>
<rect x="60.3" y="104.2" width="3.25" height="8.1" fill="#020202"/>
<rect x="64.65" y="104.2" width="3.25" height="8.1" fill="#020202"/>
<rect x="60.3" y="113.4" width="3.25" height="7.9" fill="#020202"/>
<rect x="64.65" y="113.4" width="3.25" height="7.9" fill="#020202"/>
<rect x="60.3" y="122.7" width="7.6" height="3.4" fill="#020202"/>
<rect x="71.62" y="101.92" width="11.16" height="26.16" fill="#778ca2" stroke="#56677d" stroke-width="0.45"/>
<rect x="73.4" y="104.2" width="7.6" height="22" fill="#93a8bd"/>
<rect x="73.4" y="104.2" width="3.25" height="8.1" fill="#020202"/>
<rect x="77.75" y="104.2" width="3.25" height="8.1" fill="#020202"/>
<rect x="73.4" y="113.4" width="3.25" height="7.9" fill="#020202"/>
<rect x="77.75" y="113.4" width="3.25" height="7.9" fill="#020202"/>
<rect x="73.4" y="122.7" width="7.6" height="3.4" fill="#020202"/>
<rect x="84.52" y="101.92" width="10.86" height="26.16" fill="#778ca2" stroke="#56677d" stroke-width="0.45"/>
<rect x="85.9" y="103.6" width="8.1" height="23.2" fill="#93a8bd"/>
<path fill="#020202" d="M85.9 103.6h3.6v2.54h-3.6zM85.9 107.04h3.6v2.54h-3.6zM85.9 110.49h3.6v2.54h-3.6zM85.9 113.93h3.6v2.54h-3.6zM85.9 117.37h3.6v2.54h-3.6zM85.9 120.81h3.6v2.54h-3.6zM85.9 124.26h3.6v2.54h-3.6zM90.4 103.6h3.6v2.54h-3.6zM90.4 107.04h3.6v2.54h-3.6zM90.4 110.49h3.6v2.54h-3.6zM90.4 113.93h3.6v2.54h-3.6zM90.4 117.37h3.6v2.54h-3.6zM90.4 120.81h3.6v2.54h-3.6zM90.4 124.26h3.6v2.54h-3.6z"/>
<rect x="97.12" y="101.92" width="10.86" height="26.16" fill="#778ca2" stroke="#56677d" stroke-width="0.45"/>
<rect x="98.5" y="103.6" width="8.1" height="23.2" fill="#93a8bd"/>
<path fill="#020202" d="M98.5 103.6h3.6v2.54h-3.6zM98.5 107.04h3.6v2.54h-3.6zM98.5 110.49h3.6v2.54h-3.6zM98.5 113.93h3.6v2.54h-3.6zM98.5 117.37h3.6v2.54h-3.6zM98.5 120.81h3.6v2.54h-3.6zM98.5 124.26h3.6v2.54h-3.6zM103 103.6h3.6v2.54h-3.6zM103 107.04h3.6v2.54h-3.6zM103 110.49h3.6v2.54h-3.6zM103 113.93h3.6v2.54h-3.6zM103 117.37h3.6v2.54h-3.6zM103 120.81h3.6v2.54h-3.6zM103 124.26h3.6v2.54h-3.6z"/>
<rect x="109.72" y="101.92" width="10.86" height="26.16" fill="#778ca2" stroke="#56677d" stroke-width="0.45"/>
<rect x="111.1" y="103.6" width="8.1" height="23.2" fill="#93a8bd"/>
<path fill="#020202" d="M111.1 103.6h3.6v2.54h-3.6zM111.1 107.04h3.6v2.54h-3.6zM111.1 110.49h3.6v2.54h-3.6zM111.1 113.93h3.6v2.54h-3.6zM111.1 117.37h3.6v2.54h-3.6zM111.1 120.81h3.6v2.54h-3.6zM111.1 124.26h3.6v2.54h-3.6zM115.6 103.6h3.6v2.54h-3.6zM115.6 107.04h3.6v2.54h-3.6zM115.6 110.49h3.6v2.54h-3.6zM115.6 113.93h3.6v2.54h-3.6zM115.6 117.37h3.6v2.54h-3.6zM115.6 120.81h3.6v2.54h-3.6zM115.6 124.26h3.6v2.54h-3.6z"/>
<rect x="122.32" y="101.92" width="10.86" height="26.16" fill="#778ca2" stroke="#56677d" stroke-width="0.45"/>
<rect x="123.7" y="103.6" width="8.1" height="23.2" fill="#93a8bd"/>
<path fill="#020202" d="M123.7 103.6h3.6v2.54h-3.6zM123.7 107.04h3.6v2.54h-3.6zM123.7 110.49h3.6v2.54h-3.6zM123.7 113.93h3.6v2.54h-3.6zM123.7 117.37h3.6v2.54h-3.6zM123.7 120.81h3.6v2.54h-3.6zM123.7 124.26h3.6v2.54h-3.6zM128.2 103.6h3.6v2.54h-3.6zM128.2 107.04h3.6v2.54h-3.6zM128.2 110.49h3.6v2.54h-3.6zM128.2 113.93h3.6v2.54h-3.6zM128.2 117.37h3.6v2.54h-3.6zM128.2 120.81h3.6v2.54h-3.6zM128.2 124.26h3.6v2.54h-3.6z"/>
<rect x="135.22" y="101.92" width="17.96" height="26.16" fill="#778ca2" stroke="#56677d" stroke-width="0.45"/>
<rect x="136.5" y="103.6" width="15.4" height="23.2" fill="#93a8bd"/>
<path fill="#020202" d="M136.5 103.6h3.25v2.63h-3.25zM136.5 107.03h3.25v2.63h-3.25zM136.5 110.46h3.25v2.63h-3.25zM136.5 113.89h3.25v2.63h-3.25zM136.5 117.31h3.25v2.63h-3.25zM136.5 120.74h3.25v2.63h-3.25zM136.5 124.17h3.25v2.63h-3.25zM140.55 103.6h3.25v2.63h-3.25zM140.55 107.03h3.25v2.63h-3.25zM140.55 110.46h3.25v2.63h-3.25zM140.55 113.89h3.25v2.63h-3.25zM140.55 117.31h3.25v2.63h-3.25zM140.55 120.74h3.25v2.63h-3.25zM140.55 124.17h3.25v2.63h-3.25zM144.6 103.6h3.25v2.63h-3.25zM144.6 107.03h3.25v2.63h-3.25zM144.6 110.46h3.25v2.63h-3.25zM144.6 113.89h3.25v2.63h-3.25zM144.6 117.31h3.25v2.63h-3.25zM144.6 120.74h3.25v2.63h-3.25zM144.6 124.17h3.25v2.63h-3.25zM148.65 103.6h3.25v2.63h-3.25zM148.65 107.03h3.25v2.63h-3.25zM148.65 110.46h3.25v2.63h-3.25zM148.65 113.89h3.25v2.63h-3.25zM148.65 117.31h3.25v2.63h-3.25zM148.65 120.74h3.25v2.63h-3.25zM148.65 124.17h3.25v2.63h-3.25z"/>
<rect x="155.72" y="101.92" width="17.96" height="26.16" fill="#778ca2" stroke="#56677d" stroke-width="0.45"/>
<rect x="157" y="103.6" width="15.4" height="23.2" fill="#93a8bd"/>
<path fill="#020202" d="M157 103.6h3.25v2.63h-3.25zM157 107.03h3.25v2.63h-3.25zM157 110.46h3.25v2.63h-3.25zM157 113.89h3.25v2.63h-3.25zM157 117.31h3.25v2.63h-3.25zM157 120.74h3.25v2.63h-3.25zM157 124.17h3.25v2.63h-3.25zM161.05 103.6h3.25v2.63h-3.25zM161.05 107.03h3.25v2.63h-3.25zM161.05 110.46h3.25v2.63h-3.25zM161.05 113.89h3.25v2.63h-3.25zM161.05 117.31h3.25v2.63h-3.25zM161.05 120.74h3.25v2.63h-3.25zM161.05 124.17h3.25v2.63h-3.25zM165.1 103.6h3.25v2.63h-3.25zM165.1 107.03h3.25v2.63h-3.25zM165.1 110.46h3.25v2.63h-3.25zM165.1 113.89h3.25v2.63h-3.25zM165.1 117.31h3.25v2.63h-3.25zM165.1 120.74h3.25v2.63h-3.25zM165.1 124.17h3.25v2.63h-3.25zM169.15 103.6h3.25v2.63h-3.25zM169.15 107.03h3.25v2.63h-3.25zM169.15 110.46h3.25v2.63h-3.25zM169.15 113.89h3.25v2.63h-3.25zM169.15 117.31h3.25v2.63h-3.25zM169.15 120.74h3.25v2.63h-3.25zM169.15 124.17h3.25v2.63h-3.25z"/>
<rect x="176.22" y="101.92" width="17.96" height="26.16" fill="#778ca2" stroke="#56677d" stroke-width="0.45"/>
<rect x="177.5" y="103.6" width="15.4" height="23.2" fill="#93a8bd"/>
<path fill="#020202" d="M177.5 103.6h3.25v2.63h-3.25zM177.5 107.03h3.25v2.63h-3.25zM177.5 110.46h3.25v2.63h-3.25zM177.5 113.89h3.25v2.63h-3.25zM177.5 117.31h3.25v2.63h-3.25zM177.5 120.74h3.25v2.63h-3.25zM177.5 124.17h3.25v2.63h-3.25zM181.55 103.6h3.25v2.63h-3.25zM181.55 107.03h3.25v2.63h-3.25zM181.55 110.46h3.25v2.63h-3.25zM181.55 113.89h3.25v2.63h-3.25zM181.55 117.31h3.25v2.63h-3.25zM181.55 120.74h3.25v2.63h-3.25zM181.55 124.17h3.25v2.63h-3.25zM185.6 103.6h3.25v2.63h-3.25zM185.6 107.03h3.25v2.63h-3.25zM185.6 110.46h3.25v2.63h-3.25zM185.6 113.89h3.25v2.63h-3.25zM185.6 117.31h3.25v2.63h-3.25zM185.6 120.74h3.25v2.63h-3.25zM185.6 124.17h3.25v2.63h-3.25zM189.65 103.6h3.25v2.63h-3.25zM189.65 107.03h3.25v2.63h-3.25zM189.65 110.46h3.25v2.63h-3.25zM189.65 113.89h3.25v2.63h-3.25zM189.65 117.31h3.25v2.63h-3.25zM189.65 120.74h3.25v2.63h-3.25zM189.65 124.17h3.25v2.63h-3.25z"/>
<rect x="196.72" y="101.92" width="17.96" height="26.16" fill="#778ca2" stroke="#56677d" stroke-width="0.45"/>
<rect x="198" y="103.6" width="15.4" height="23.2" fill="#93a8bd"/>
<path fill="#020202" d="M198 103.6h3.25v2.63h-3.25zM198 107.03h3.25v2.63h-3.25zM198 110.46h3.25v2.63h-3.25zM198 113.89h3.25v2.63h-3.25zM198 117.31h3.25v2.63h-3.25zM198 120.74h3.25v2.63h-3.25zM198 124.17h3.25v2.63h-3.25zM202.05 103.6h3.25v2.63h-3.25zM202.05 107.03h3.25v2.63h-3.25zM202.05 110.46h3.25v2.63h-3.25zM202.05 113.89h3.25v2.63h-3.25zM202.05 117.31h3.25v2.63h-3.25zM202.05 120.74h3.25v2.63h-3.25zM202.05 124.17h3.25v2.63h-3.25zM206.1 103.6h3.25v2.63h-3.25zM206.1 107.03h3.25v2.63h-3.25zM206.1 110.46h3.25v2.63h-3.25zM206.1 113.89h3.25v2.63h-3.25zM206.1 117.31h3.25v2.63h-3.25zM206.1 120.74h3.25v2.63h-3.25zM206.1 124.17h3.25v2.63h-3.25zM210.15 103.6h3.25v2.63h-3.25zM210.15 107.03h3.25v2.63h-3.25zM210.15 110.46h3.25v2.63h-3.25zM210.15 113.89h3.25v2.63h-3.25zM210.15 117.31h3.25v2.63h-3.25zM210.15 120.74h3.25v2.63h-3.25zM210.15 124.17h3.25v2.63h-3.25z"/>
<rect x="0.35" y="0.35" width="219.7" height="131.7" fill="none" stroke="#1c2836" stroke-width="0.7"/></g>
<g class="t"><line x1="24.1" y1="298.6" x2="24.1" y2="300.8" stroke="#111" stroke-width="0.7"/>
<text x="24.1" y="308.2" text-anchor="middle">0</text>
<line x1="51.92" y1="298.6" x2="51.92" y2="300.8" stroke="#111" stroke-width="0.7"/>
<text x="51.92" y="308.2" text-anchor="middle">1000</text>
<line x1="79.75" y1="298.6" x2="79.75" y2="300.8" stroke="#111" stroke-width="0.7"/>
<text x="79.75" y="308.2" text-anchor="middle">2000</text>
<line x1="107.57" y1="298.6" x2="107.57" y2="300.8" stroke="#111" stroke-width="0.7"/>
<text x="107.57" y="308.2" text-anchor="middle">3000</text>
<line x1="135.4" y1="298.6" x2="135.4" y2="300.8" stroke="#111" stroke-width="0.7"/>
<text x="135.4" y="308.2" text-anchor="middle">4000</text>
<line x1="163.22" y1="298.6" x2="163.22" y2="300.8" stroke="#111" stroke-width="0.7"/>
<text x="163.22" y="308.2" text-anchor="middle">5000</text>
<line x1="191.05" y1="298.6" x2="191.05" y2="300.8" stroke="#111" stroke-width="0.7"/>
<text x="191.05" y="308.2" text-anchor="middle">6000</text>
<line x1="218.88" y1="298.6" x2="218.88" y2="300.8" stroke="#111" stroke-width="0.7"/>
<text x="218.88" y="308.2" text-anchor="middle">7000</text>
<line x1="246.7" y1="298.6" x2="246.7" y2="300.8" stroke="#111" stroke-width="0.7"/>
<text x="246.7" y="308.2" text-anchor="middle">8000</text>
<line x1="21.9" y1="298.6" x2="24.1" y2="298.6" stroke="#111" stroke-width="0.7"/>
<text x="21.1" y="301.3" text-anchor="end">0</text>
<line x1="21.9" y1="270.83" x2="24.1" y2="270.83" stroke="#111" stroke-width="0.7"/>
<text x="21.1" y="273.53" text-anchor="end">1000</text>
<line x1="21.9" y1="243.06" x2="24.1" y2="243.06" stroke="#111" stroke-width="0.7"/>
<text x="21.1" y="245.76" text-anchor="end">2000</text>
<line x1="21.9" y1="215.29" x2="24.1" y2="215.29" stroke="#111" stroke-width="0.7"/>
<text x="21.1" y="217.99" text-anchor="end">3000</text>
<line x1="21.9" y1="187.52" x2="24.1" y2="187.52" stroke="#111" stroke-width="0.7"/>
<text x="21.1" y="190.22" text-anchor="end">4000</text></g>
<text class="cap capb" x="104.7" y="322.2" textLength="12.0" lengthAdjust="spacingAndGlyphs">(c)</text>
<text class="cap" x="119.2" y="322.2" textLength="35.4" lengthAdjust="spacingAndGlyphs">Bi-RRT</text>
<g transform="translate(315.9,166.1) scale(1.00000,1.00000)"><rect x="0" y="0" width="220.4" height="132.4" fill="#778ca2"/>
<rect x="3.3" y="3" width="213.7" height="126.4" fill="#ffffff"/>
<rect x="4" y="4" width="27" height="58.9" fill="#778ca2"/>
<rect x="6.4" y="6" width="22.4" height="55.3" fill="#020202"/>
<rect x="32.32" y="4.22" width="11.16" height="26.16" fill="#778ca2" stroke="#56677d" stroke-width="0.45"/>
<rect x="34.1" y="6.5" width="7.6" height="22" fill="#93a8bd"/>
<rect x="34.1" y="6.5" width="3.25" height="8.1" fill="#020202"/>
<rect x="38.45" y="6.5" width="3.25" height="8.1" fill="#020202"/>
<rect x="34.1" y="15.7" width="3.25" height="7.9" fill="#020202"/>
<rect x="38.45" y="15.7" width="3.25" height="7.9" fill="#020202"/>
<rect x="34.1" y="25" width="7.6" height="3.4" fill="#020202"/>
<rect x="45.42" y="4.22" width="11.16" height="26.16" fill="#778ca2" stroke="#56677d" stroke-width="0.45"/>
<rect x="47.2" y="6.5" width="7.6" height="22" fill="#93a8bd"/>
<rect x="47.2" y="6.5" width="3.25" height="8.1" fill="#020202"/>
<rect x="51.55" y="6.5" width="3.25" height="8.1" fill="#020202"/>
<rect x="47.2" y="15.7" width="3.25" height="7.9" fill="#020202"/>
<rect x="51.55" y="15.7" width="3.25" height="7.9" fill="#020202"/>
<rect x="47.2" y="25" width="7.6" height="3.4" fill="#020202"/>
<rect x="58.52" y="4.22" width="11.16" height="26.16" fill="#778ca2" stroke="#56677d" stroke-width="0.45"/>
<rect x="60.3" y="6.5" width="7.6" height="22" fill="#93a8bd"/>
<rect x="60.3" y="6.5" width="3.25" height="8.1" fill="#020202"/>
<rect x="64.65" y="6.5" width="3.25" height="8.1" fill="#020202"/>
<rect x="60.3" y="15.7" width="3.25" height="7.9" fill="#020202"/>
<rect x="64.65" y="15.7" width="3.25" height="7.9" fill="#020202"/>
<rect x="60.3" y="25" width="7.6" height="3.4" fill="#020202"/>
<rect x="71.62" y="4.22" width="11.16" height="26.16" fill="#778ca2" stroke="#56677d" stroke-width="0.45"/>
<rect x="73.4" y="6.5" width="7.6" height="22" fill="#93a8bd"/>
<rect x="73.4" y="6.5" width="3.25" height="8.1" fill="#020202"/>
<rect x="77.75" y="6.5" width="3.25" height="8.1" fill="#020202"/>
<rect x="73.4" y="15.7" width="3.25" height="7.9" fill="#020202"/>
<rect x="77.75" y="15.7" width="3.25" height="7.9" fill="#020202"/>
<rect x="73.4" y="25" width="7.6" height="3.4" fill="#020202"/>
<rect x="84.52" y="4.22" width="10.86" height="26.16" fill="#778ca2" stroke="#56677d" stroke-width="0.45"/>
<rect x="85.9" y="5.9" width="8.1" height="23.2" fill="#93a8bd"/>
<path fill="#020202" d="M85.9 5.9h3.6v2.54h-3.6zM85.9 9.34h3.6v2.54h-3.6zM85.9 12.79h3.6v2.54h-3.6zM85.9 16.23h3.6v2.54h-3.6zM85.9 19.67h3.6v2.54h-3.6zM85.9 23.11h3.6v2.54h-3.6zM85.9 26.56h3.6v2.54h-3.6zM90.4 5.9h3.6v2.54h-3.6zM90.4 9.34h3.6v2.54h-3.6zM90.4 12.79h3.6v2.54h-3.6zM90.4 16.23h3.6v2.54h-3.6zM90.4 19.67h3.6v2.54h-3.6zM90.4 23.11h3.6v2.54h-3.6zM90.4 26.56h3.6v2.54h-3.6z"/>
<rect x="97.12" y="4.22" width="10.86" height="26.16" fill="#778ca2" stroke="#56677d" stroke-width="0.45"/>
<rect x="98.5" y="5.9" width="8.1" height="23.2" fill="#93a8bd"/>
<path fill="#020202" d="M98.5 5.9h3.6v2.54h-3.6zM98.5 9.34h3.6v2.54h-3.6zM98.5 12.79h3.6v2.54h-3.6zM98.5 16.23h3.6v2.54h-3.6zM98.5 19.67h3.6v2.54h-3.6zM98.5 23.11h3.6v2.54h-3.6zM98.5 26.56h3.6v2.54h-3.6zM103 5.9h3.6v2.54h-3.6zM103 9.34h3.6v2.54h-3.6zM103 12.79h3.6v2.54h-3.6zM103 16.23h3.6v2.54h-3.6zM103 19.67h3.6v2.54h-3.6zM103 23.11h3.6v2.54h-3.6zM103 26.56h3.6v2.54h-3.6z"/>
<rect x="109.72" y="4.22" width="10.86" height="26.16" fill="#778ca2" stroke="#56677d" stroke-width="0.45"/>
<rect x="111.1" y="5.9" width="8.1" height="23.2" fill="#93a8bd"/>
<path fill="#020202" d="M111.1 5.9h3.6v2.54h-3.6zM111.1 9.34h3.6v2.54h-3.6zM111.1 12.79h3.6v2.54h-3.6zM111.1 16.23h3.6v2.54h-3.6zM111.1 19.67h3.6v2.54h-3.6zM111.1 23.11h3.6v2.54h-3.6zM111.1 26.56h3.6v2.54h-3.6zM115.6 5.9h3.6v2.54h-3.6zM115.6 9.34h3.6v2.54h-3.6zM115.6 12.79h3.6v2.54h-3.6zM115.6 16.23h3.6v2.54h-3.6zM115.6 19.67h3.6v2.54h-3.6zM115.6 23.11h3.6v2.54h-3.6zM115.6 26.56h3.6v2.54h-3.6z"/>
<rect x="122.32" y="4.22" width="10.86" height="26.16" fill="#778ca2" stroke="#56677d" stroke-width="0.45"/>
<rect x="123.7" y="5.9" width="8.1" height="23.2" fill="#93a8bd"/>
<path fill="#020202" d="M123.7 5.9h3.6v2.54h-3.6zM123.7 9.34h3.6v2.54h-3.6zM123.7 12.79h3.6v2.54h-3.6zM123.7 16.23h3.6v2.54h-3.6zM123.7 19.67h3.6v2.54h-3.6zM123.7 23.11h3.6v2.54h-3.6zM123.7 26.56h3.6v2.54h-3.6zM128.2 5.9h3.6v2.54h-3.6zM128.2 9.34h3.6v2.54h-3.6zM128.2 12.79h3.6v2.54h-3.6zM128.2 16.23h3.6v2.54h-3.6zM128.2 19.67h3.6v2.54h-3.6zM128.2 23.11h3.6v2.54h-3.6zM128.2 26.56h3.6v2.54h-3.6z"/>
<rect x="135.22" y="4.22" width="17.96" height="26.16" fill="#778ca2" stroke="#56677d" stroke-width="0.45"/>
<rect x="136.5" y="5.9" width="15.4" height="23.2" fill="#93a8bd"/>
<path fill="#020202" d="M136.5 5.9h3.25v2.63h-3.25zM136.5 9.33h3.25v2.63h-3.25zM136.5 12.76h3.25v2.63h-3.25zM136.5 16.19h3.25v2.63h-3.25zM136.5 19.61h3.25v2.63h-3.25zM136.5 23.04h3.25v2.63h-3.25zM136.5 26.47h3.25v2.63h-3.25zM140.55 5.9h3.25v2.63h-3.25zM140.55 9.33h3.25v2.63h-3.25zM140.55 12.76h3.25v2.63h-3.25zM140.55 16.19h3.25v2.63h-3.25zM140.55 19.61h3.25v2.63h-3.25zM140.55 23.04h3.25v2.63h-3.25zM140.55 26.47h3.25v2.63h-3.25zM144.6 5.9h3.25v2.63h-3.25zM144.6 9.33h3.25v2.63h-3.25zM144.6 12.76h3.25v2.63h-3.25zM144.6 16.19h3.25v2.63h-3.25zM144.6 19.61h3.25v2.63h-3.25zM144.6 23.04h3.25v2.63h-3.25zM144.6 26.47h3.25v2.63h-3.25zM148.65 5.9h3.25v2.63h-3.25zM148.65 9.33h3.25v2.63h-3.25zM148.65 12.76h3.25v2.63h-3.25zM148.65 16.19h3.25v2.63h-3.25zM148.65 19.61h3.25v2.63h-3.25zM148.65 23.04h3.25v2.63h-3.25zM148.65 26.47h3.25v2.63h-3.25z"/>
<rect x="155.72" y="4.22" width="17.96" height="26.16" fill="#778ca2" stroke="#56677d" stroke-width="0.45"/>
<rect x="157" y="5.9" width="15.4" height="23.2" fill="#93a8bd"/>
<path fill="#020202" d="M157 5.9h3.25v2.63h-3.25zM157 9.33h3.25v2.63h-3.25zM157 12.76h3.25v2.63h-3.25zM157 16.19h3.25v2.63h-3.25zM157 19.61h3.25v2.63h-3.25zM157 23.04h3.25v2.63h-3.25zM157 26.47h3.25v2.63h-3.25zM161.05 5.9h3.25v2.63h-3.25zM161.05 9.33h3.25v2.63h-3.25zM161.05 12.76h3.25v2.63h-3.25zM161.05 16.19h3.25v2.63h-3.25zM161.05 19.61h3.25v2.63h-3.25zM161.05 23.04h3.25v2.63h-3.25zM161.05 26.47h3.25v2.63h-3.25zM165.1 5.9h3.25v2.63h-3.25zM165.1 9.33h3.25v2.63h-3.25zM165.1 12.76h3.25v2.63h-3.25zM165.1 16.19h3.25v2.63h-3.25zM165.1 19.61h3.25v2.63h-3.25zM165.1 23.04h3.25v2.63h-3.25zM165.1 26.47h3.25v2.63h-3.25zM169.15 5.9h3.25v2.63h-3.25zM169.15 9.33h3.25v2.63h-3.25zM169.15 12.76h3.25v2.63h-3.25zM169.15 16.19h3.25v2.63h-3.25zM169.15 19.61h3.25v2.63h-3.25zM169.15 23.04h3.25v2.63h-3.25zM169.15 26.47h3.25v2.63h-3.25z"/>
<rect x="176.22" y="4.22" width="17.96" height="26.16" fill="#778ca2" stroke="#56677d" stroke-width="0.45"/>
<rect x="177.5" y="5.9" width="15.4" height="23.2" fill="#93a8bd"/>
<path fill="#020202" d="M177.5 5.9h3.25v2.63h-3.25zM177.5 9.33h3.25v2.63h-3.25zM177.5 12.76h3.25v2.63h-3.25zM177.5 16.19h3.25v2.63h-3.25zM177.5 19.61h3.25v2.63h-3.25zM177.5 23.04h3.25v2.63h-3.25zM177.5 26.47h3.25v2.63h-3.25zM181.55 5.9h3.25v2.63h-3.25zM181.55 9.33h3.25v2.63h-3.25zM181.55 12.76h3.25v2.63h-3.25zM181.55 16.19h3.25v2.63h-3.25zM181.55 19.61h3.25v2.63h-3.25zM181.55 23.04h3.25v2.63h-3.25zM181.55 26.47h3.25v2.63h-3.25zM185.6 5.9h3.25v2.63h-3.25zM185.6 9.33h3.25v2.63h-3.25zM185.6 12.76h3.25v2.63h-3.25zM185.6 16.19h3.25v2.63h-3.25zM185.6 19.61h3.25v2.63h-3.25zM185.6 23.04h3.25v2.63h-3.25zM185.6 26.47h3.25v2.63h-3.25zM189.65 5.9h3.25v2.63h-3.25zM189.65 9.33h3.25v2.63h-3.25zM189.65 12.76h3.25v2.63h-3.25zM189.65 16.19h3.25v2.63h-3.25zM189.65 19.61h3.25v2.63h-3.25zM189.65 23.04h3.25v2.63h-3.25zM189.65 26.47h3.25v2.63h-3.25z"/>
<rect x="196.72" y="4.22" width="17.96" height="26.16" fill="#778ca2" stroke="#56677d" stroke-width="0.45"/>
<rect x="198" y="5.9" width="15.4" height="23.2" fill="#93a8bd"/>
<path fill="#020202" d="M198 5.9h3.25v2.63h-3.25zM198 9.33h3.25v2.63h-3.25zM198 12.76h3.25v2.63h-3.25zM198 16.19h3.25v2.63h-3.25zM198 19.61h3.25v2.63h-3.25zM198 23.04h3.25v2.63h-3.25zM198 26.47h3.25v2.63h-3.25zM202.05 5.9h3.25v2.63h-3.25zM202.05 9.33h3.25v2.63h-3.25zM202.05 12.76h3.25v2.63h-3.25zM202.05 16.19h3.25v2.63h-3.25zM202.05 19.61h3.25v2.63h-3.25zM202.05 23.04h3.25v2.63h-3.25zM202.05 26.47h3.25v2.63h-3.25zM206.1 5.9h3.25v2.63h-3.25zM206.1 9.33h3.25v2.63h-3.25zM206.1 12.76h3.25v2.63h-3.25zM206.1 16.19h3.25v2.63h-3.25zM206.1 19.61h3.25v2.63h-3.25zM206.1 23.04h3.25v2.63h-3.25zM206.1 26.47h3.25v2.63h-3.25zM210.15 5.9h3.25v2.63h-3.25zM210.15 9.33h3.25v2.63h-3.25zM210.15 12.76h3.25v2.63h-3.25zM210.15 16.19h3.25v2.63h-3.25zM210.15 19.61h3.25v2.63h-3.25zM210.15 23.04h3.25v2.63h-3.25zM210.15 26.47h3.25v2.63h-3.25z"/>
<rect x="32.32" y="36.62" width="11.16" height="25.96" fill="#778ca2" stroke="#56677d" stroke-width="0.45"/>
<rect x="34.1" y="38.88" width="7.6" height="21.83" fill="#93a8bd"/>
<rect x="34.1" y="38.88" width="3.25" height="8.04" fill="#020202"/>
<rect x="38.45" y="38.88" width="3.25" height="8.04" fill="#020202"/>
<rect x="34.1" y="48.01" width="3.25" height="7.84" fill="#020202"/>
<rect x="38.45" y="48.01" width="3.25" height="7.84" fill="#020202"/>
<rect x="34.1" y="57.24" width="7.6" height="3.37" fill="#020202"/>
<rect x="45.42" y="36.62" width="11.16" height="25.96" fill="#778ca2" stroke="#56677d" stroke-width="0.45"/>
<rect x="47.2" y="38.88" width="7.6" height="21.83" fill="#93a8bd"/>
<rect x="47.2" y="38.88" width="3.25" height="8.04" fill="#020202"/>
<rect x="51.55" y="38.88" width="3.25" height="8.04" fill="#020202"/>
<rect x="47.2" y="48.01" width="3.25" height="7.84" fill="#020202"/>
<rect x="51.55" y="48.01" width="3.25" height="7.84" fill="#020202"/>
<rect x="47.2" y="57.24" width="7.6" height="3.37" fill="#020202"/>
<rect x="58.52" y="36.62" width="11.16" height="25.96" fill="#778ca2" stroke="#56677d" stroke-width="0.45"/>
<rect x="60.3" y="38.88" width="7.6" height="21.83" fill="#93a8bd"/>
<rect x="60.3" y="38.88" width="3.25" height="8.04" fill="#020202"/>
<rect x="64.65" y="38.88" width="3.25" height="8.04" fill="#020202"/>
<rect x="60.3" y="48.01" width="3.25" height="7.84" fill="#020202"/>
<rect x="64.65" y="48.01" width="3.25" height="7.84" fill="#020202"/>
<rect x="60.3" y="57.24" width="7.6" height="3.37" fill="#020202"/>
<rect x="71.62" y="36.62" width="11.16" height="25.96" fill="#778ca2" stroke="#56677d" stroke-width="0.45"/>
<rect x="73.4" y="38.88" width="7.6" height="21.83" fill="#93a8bd"/>
<rect x="73.4" y="38.88" width="3.25" height="8.04" fill="#020202"/>
<rect x="77.75" y="38.88" width="3.25" height="8.04" fill="#020202"/>
<rect x="73.4" y="48.01" width="3.25" height="7.84" fill="#020202"/>
<rect x="77.75" y="48.01" width="3.25" height="7.84" fill="#020202"/>
<rect x="73.4" y="57.24" width="7.6" height="3.37" fill="#020202"/>
<rect x="84.52" y="36.62" width="10.86" height="25.96" fill="#778ca2" stroke="#56677d" stroke-width="0.45"/>
<rect x="85.9" y="38.3" width="8.1" height="23" fill="#93a8bd"/>
<path fill="#020202" d="M85.9 38.3h3.6v2.51h-3.6zM85.9 41.71h3.6v2.51h-3.6zM85.9 45.13h3.6v2.51h-3.6zM85.9 48.54h3.6v2.51h-3.6zM85.9 51.96h3.6v2.51h-3.6zM85.9 55.37h3.6v2.51h-3.6zM85.9 58.79h3.6v2.51h-3.6zM90.4 38.3h3.6v2.51h-3.6zM90.4 41.71h3.6v2.51h-3.6zM90.4 45.13h3.6v2.51h-3.6zM90.4 48.54h3.6v2.51h-3.6zM90.4 51.96h3.6v2.51h-3.6zM90.4 55.37h3.6v2.51h-3.6zM90.4 58.79h3.6v2.51h-3.6z"/>
<rect x="97.12" y="36.62" width="10.86" height="25.96" fill="#778ca2" stroke="#56677d" stroke-width="0.45"/>
<rect x="98.5" y="38.3" width="8.1" height="23" fill="#93a8bd"/>
<path fill="#020202" d="M98.5 38.3h3.6v2.51h-3.6zM98.5 41.71h3.6v2.51h-3.6zM98.5 45.13h3.6v2.51h-3.6zM98.5 48.54h3.6v2.51h-3.6zM98.5 51.96h3.6v2.51h-3.6zM98.5 55.37h3.6v2.51h-3.6zM98.5 58.79h3.6v2.51h-3.6zM103 38.3h3.6v2.51h-3.6zM103 41.71h3.6v2.51h-3.6zM103 45.13h3.6v2.51h-3.6zM103 48.54h3.6v2.51h-3.6zM103 51.96h3.6v2.51h-3.6zM103 55.37h3.6v2.51h-3.6zM103 58.79h3.6v2.51h-3.6z"/>
<rect x="109.72" y="36.62" width="10.86" height="25.96" fill="#778ca2" stroke="#56677d" stroke-width="0.45"/>
<rect x="111.1" y="38.3" width="8.1" height="23" fill="#93a8bd"/>
<path fill="#020202" d="M111.1 38.3h3.6v2.51h-3.6zM111.1 41.71h3.6v2.51h-3.6zM111.1 45.13h3.6v2.51h-3.6zM111.1 48.54h3.6v2.51h-3.6zM111.1 51.96h3.6v2.51h-3.6zM111.1 55.37h3.6v2.51h-3.6zM111.1 58.79h3.6v2.51h-3.6zM115.6 38.3h3.6v2.51h-3.6zM115.6 41.71h3.6v2.51h-3.6zM115.6 45.13h3.6v2.51h-3.6zM115.6 48.54h3.6v2.51h-3.6zM115.6 51.96h3.6v2.51h-3.6zM115.6 55.37h3.6v2.51h-3.6zM115.6 58.79h3.6v2.51h-3.6z"/>
<rect x="122.32" y="36.62" width="10.86" height="25.96" fill="#778ca2" stroke="#56677d" stroke-width="0.45"/>
<rect x="123.7" y="38.3" width="8.1" height="23" fill="#93a8bd"/>
<path fill="#020202" d="M123.7 38.3h3.6v2.51h-3.6zM123.7 41.71h3.6v2.51h-3.6zM123.7 45.13h3.6v2.51h-3.6zM123.7 48.54h3.6v2.51h-3.6zM123.7 51.96h3.6v2.51h-3.6zM123.7 55.37h3.6v2.51h-3.6zM123.7 58.79h3.6v2.51h-3.6zM128.2 38.3h3.6v2.51h-3.6zM128.2 41.71h3.6v2.51h-3.6zM128.2 45.13h3.6v2.51h-3.6zM128.2 48.54h3.6v2.51h-3.6zM128.2 51.96h3.6v2.51h-3.6zM128.2 55.37h3.6v2.51h-3.6zM128.2 58.79h3.6v2.51h-3.6z"/>
<rect x="135.22" y="36.62" width="17.96" height="25.96" fill="#778ca2" stroke="#56677d" stroke-width="0.45"/>
<rect x="136.5" y="38.3" width="15.4" height="23" fill="#93a8bd"/>
<path fill="#020202" d="M136.5 38.3h3.25v2.6h-3.25zM136.5 41.7h3.25v2.6h-3.25zM136.5 45.1h3.25v2.6h-3.25zM136.5 48.5h3.25v2.6h-3.25zM136.5 51.9h3.25v2.6h-3.25zM136.5 55.3h3.25v2.6h-3.25zM136.5 58.7h3.25v2.6h-3.25zM140.55 38.3h3.25v2.6h-3.25zM140.55 41.7h3.25v2.6h-3.25zM140.55 45.1h3.25v2.6h-3.25zM140.55 48.5h3.25v2.6h-3.25zM140.55 51.9h3.25v2.6h-3.25zM140.55 55.3h3.25v2.6h-3.25zM140.55 58.7h3.25v2.6h-3.25zM144.6 38.3h3.25v2.6h-3.25zM144.6 41.7h3.25v2.6h-3.25zM144.6 45.1h3.25v2.6h-3.25zM144.6 48.5h3.25v2.6h-3.25zM144.6 51.9h3.25v2.6h-3.25zM144.6 55.3h3.25v2.6h-3.25zM144.6 58.7h3.25v2.6h-3.25zM148.65 38.3h3.25v2.6h-3.25zM148.65 41.7h3.25v2.6h-3.25zM148.65 45.1h3.25v2.6h-3.25zM148.65 48.5h3.25v2.6h-3.25zM148.65 51.9h3.25v2.6h-3.25zM148.65 55.3h3.25v2.6h-3.25zM148.65 58.7h3.25v2.6h-3.25z"/>
<rect x="155.72" y="36.62" width="17.96" height="25.96" fill="#778ca2" stroke="#56677d" stroke-width="0.45"/>
<rect x="157" y="38.3" width="15.4" height="23" fill="#93a8bd"/>
<path fill="#020202" d="M157 38.3h3.25v2.6h-3.25zM157 41.7h3.25v2.6h-3.25zM157 45.1h3.25v2.6h-3.25zM157 48.5h3.25v2.6h-3.25zM157 51.9h3.25v2.6h-3.25zM157 55.3h3.25v2.6h-3.25zM157 58.7h3.25v2.6h-3.25zM161.05 38.3h3.25v2.6h-3.25zM161.05 41.7h3.25v2.6h-3.25zM161.05 45.1h3.25v2.6h-3.25zM161.05 48.5h3.25v2.6h-3.25zM161.05 51.9h3.25v2.6h-3.25zM161.05 55.3h3.25v2.6h-3.25zM161.05 58.7h3.25v2.6h-3.25zM165.1 38.3h3.25v2.6h-3.25zM165.1 41.7h3.25v2.6h-3.25zM165.1 45.1h3.25v2.6h-3.25zM165.1 48.5h3.25v2.6h-3.25zM165.1 51.9h3.25v2.6h-3.25zM165.1 55.3h3.25v2.6h-3.25zM165.1 58.7h3.25v2.6h-3.25zM169.15 38.3h3.25v2.6h-3.25zM169.15 41.7h3.25v2.6h-3.25zM169.15 45.1h3.25v2.6h-3.25zM169.15 48.5h3.25v2.6h-3.25zM169.15 51.9h3.25v2.6h-3.25zM169.15 55.3h3.25v2.6h-3.25zM169.15 58.7h3.25v2.6h-3.25z"/>
<rect x="176.22" y="36.62" width="17.96" height="25.96" fill="#778ca2" stroke="#56677d" stroke-width="0.45"/>
<rect x="177.5" y="38.3" width="15.4" height="23" fill="#93a8bd"/>
<path fill="#020202" d="M177.5 38.3h3.25v2.6h-3.25zM177.5 41.7h3.25v2.6h-3.25zM177.5 45.1h3.25v2.6h-3.25zM177.5 48.5h3.25v2.6h-3.25zM177.5 51.9h3.25v2.6h-3.25zM177.5 55.3h3.25v2.6h-3.25zM177.5 58.7h3.25v2.6h-3.25zM181.55 38.3h3.25v2.6h-3.25zM181.55 41.7h3.25v2.6h-3.25zM181.55 45.1h3.25v2.6h-3.25zM181.55 48.5h3.25v2.6h-3.25zM181.55 51.9h3.25v2.6h-3.25zM181.55 55.3h3.25v2.6h-3.25zM181.55 58.7h3.25v2.6h-3.25zM185.6 38.3h3.25v2.6h-3.25zM185.6 41.7h3.25v2.6h-3.25zM185.6 45.1h3.25v2.6h-3.25zM185.6 48.5h3.25v2.6h-3.25zM185.6 51.9h3.25v2.6h-3.25zM185.6 55.3h3.25v2.6h-3.25zM185.6 58.7h3.25v2.6h-3.25zM189.65 38.3h3.25v2.6h-3.25zM189.65 41.7h3.25v2.6h-3.25zM189.65 45.1h3.25v2.6h-3.25zM189.65 48.5h3.25v2.6h-3.25zM189.65 51.9h3.25v2.6h-3.25zM189.65 55.3h3.25v2.6h-3.25zM189.65 58.7h3.25v2.6h-3.25z"/>
<rect x="196.72" y="36.62" width="17.96" height="25.96" fill="#778ca2" stroke="#56677d" stroke-width="0.45"/>
<rect x="198" y="38.3" width="15.4" height="23" fill="#93a8bd"/>
<path fill="#020202" d="M198 38.3h3.25v2.6h-3.25zM198 41.7h3.25v2.6h-3.25zM198 45.1h3.25v2.6h-3.25zM198 48.5h3.25v2.6h-3.25zM198 51.9h3.25v2.6h-3.25zM198 55.3h3.25v2.6h-3.25zM198 58.7h3.25v2.6h-3.25zM202.05 38.3h3.25v2.6h-3.25zM202.05 41.7h3.25v2.6h-3.25zM202.05 45.1h3.25v2.6h-3.25zM202.05 48.5h3.25v2.6h-3.25zM202.05 51.9h3.25v2.6h-3.25zM202.05 55.3h3.25v2.6h-3.25zM202.05 58.7h3.25v2.6h-3.25zM206.1 38.3h3.25v2.6h-3.25zM206.1 41.7h3.25v2.6h-3.25zM206.1 45.1h3.25v2.6h-3.25zM206.1 48.5h3.25v2.6h-3.25zM206.1 51.9h3.25v2.6h-3.25zM206.1 55.3h3.25v2.6h-3.25zM206.1 58.7h3.25v2.6h-3.25zM210.15 38.3h3.25v2.6h-3.25zM210.15 41.7h3.25v2.6h-3.25zM210.15 45.1h3.25v2.6h-3.25zM210.15 48.5h3.25v2.6h-3.25zM210.15 51.9h3.25v2.6h-3.25zM210.15 55.3h3.25v2.6h-3.25zM210.15 58.7h3.25v2.6h-3.25z"/>
<rect x="32.32" y="69.22" width="11.16" height="26.36" fill="#778ca2" stroke="#56677d" stroke-width="0.45"/>
<rect x="34.1" y="71.52" width="7.6" height="22.17" fill="#93a8bd"/>
<rect x="34.1" y="71.52" width="3.25" height="8.16" fill="#020202"/>
<rect x="38.45" y="71.52" width="3.25" height="8.16" fill="#020202"/>
<rect x="34.1" y="80.79" width="3.25" height="7.96" fill="#020202"/>
<rect x="38.45" y="80.79" width="3.25" height="7.96" fill="#020202"/>
<rect x="34.1" y="90.16" width="7.6" height="3.43" fill="#020202"/>
<rect x="45.42" y="69.22" width="11.16" height="26.36" fill="#778ca2" stroke="#56677d" stroke-width="0.45"/>
<rect x="47.2" y="71.52" width="7.6" height="22.17" fill="#93a8bd"/>
<rect x="47.2" y="71.52" width="3.25" height="8.16" fill="#020202"/>
<rect x="51.55" y="71.52" width="3.25" height="8.16" fill="#020202"/>
<rect x="47.2" y="80.79" width="3.25" height="7.96" fill="#020202"/>
<rect x="51.55" y="80.79" width="3.25" height="7.96" fill="#020202"/>
<rect x="47.2" y="90.16" width="7.6" height="3.43" fill="#020202"/>
<rect x="58.52" y="69.22" width="11.16" height="26.36" fill="#778ca2" stroke="#56677d" stroke-width="0.45"/>
<rect x="60.3" y="71.52" width="7.6" height="22.17" fill="#93a8bd"/>
<rect x="60.3" y="71.52" width="3.25" height="8.16" fill="#020202"/>
<rect x="64.65" y="71.52" width="3.25" height="8.16" fill="#020202"/>
<rect x="60.3" y="80.79" width="3.25" height="7.96" fill="#020202"/>
<rect x="64.65" y="80.79" width="3.25" height="7.96" fill="#020202"/>
<rect x="60.3" y="90.16" width="7.6" height="3.43" fill="#020202"/>
<rect x="71.62" y="69.22" width="11.16" height="26.36" fill="#778ca2" stroke="#56677d" stroke-width="0.45"/>
<rect x="73.4" y="71.52" width="7.6" height="22.17" fill="#93a8bd"/>
<rect x="73.4" y="71.52" width="3.25" height="8.16" fill="#020202"/>
<rect x="77.75" y="71.52" width="3.25" height="8.16" fill="#020202"/>
<rect x="73.4" y="80.79" width="3.25" height="7.96" fill="#020202"/>
<rect x="77.75" y="80.79" width="3.25" height="7.96" fill="#020202"/>
<rect x="73.4" y="90.16" width="7.6" height="3.43" fill="#020202"/>
<rect x="84.52" y="69.22" width="10.86" height="26.36" fill="#778ca2" stroke="#56677d" stroke-width="0.45"/>
<rect x="85.9" y="70.9" width="8.1" height="23.4" fill="#93a8bd"/>
<path fill="#020202" d="M85.9 70.9h3.6v2.57h-3.6zM85.9 74.37h3.6v2.57h-3.6zM85.9 77.84h3.6v2.57h-3.6zM85.9 81.31h3.6v2.57h-3.6zM85.9 84.79h3.6v2.57h-3.6zM85.9 88.26h3.6v2.57h-3.6zM85.9 91.73h3.6v2.57h-3.6zM90.4 70.9h3.6v2.57h-3.6zM90.4 74.37h3.6v2.57h-3.6zM90.4 77.84h3.6v2.57h-3.6zM90.4 81.31h3.6v2.57h-3.6zM90.4 84.79h3.6v2.57h-3.6zM90.4 88.26h3.6v2.57h-3.6zM90.4 91.73h3.6v2.57h-3.6z"/>
<rect x="97.12" y="69.22" width="10.86" height="26.36" fill="#778ca2" stroke="#56677d" stroke-width="0.45"/>
<rect x="98.5" y="70.9" width="8.1" height="23.4" fill="#93a8bd"/>
<path fill="#020202" d="M98.5 70.9h3.6v2.57h-3.6zM98.5 74.37h3.6v2.57h-3.6zM98.5 77.84h3.6v2.57h-3.6zM98.5 81.31h3.6v2.57h-3.6zM98.5 84.79h3.6v2.57h-3.6zM98.5 88.26h3.6v2.57h-3.6zM98.5 91.73h3.6v2.57h-3.6zM103 70.9h3.6v2.57h-3.6zM103 74.37h3.6v2.57h-3.6zM103 77.84h3.6v2.57h-3.6zM103 81.31h3.6v2.57h-3.6zM103 84.79h3.6v2.57h-3.6zM103 88.26h3.6v2.57h-3.6zM103 91.73h3.6v2.57h-3.6z"/>
<rect x="109.72" y="69.22" width="10.86" height="26.36" fill="#778ca2" stroke="#56677d" stroke-width="0.45"/>
<rect x="111.1" y="70.9" width="8.1" height="23.4" fill="#93a8bd"/>
<path fill="#020202" d="M111.1 70.9h3.6v2.57h-3.6zM111.1 74.37h3.6v2.57h-3.6zM111.1 77.84h3.6v2.57h-3.6zM111.1 81.31h3.6v2.57h-3.6zM111.1 84.79h3.6v2.57h-3.6zM111.1 88.26h3.6v2.57h-3.6zM111.1 91.73h3.6v2.57h-3.6zM115.6 70.9h3.6v2.57h-3.6zM115.6 74.37h3.6v2.57h-3.6zM115.6 77.84h3.6v2.57h-3.6zM115.6 81.31h3.6v2.57h-3.6zM115.6 84.79h3.6v2.57h-3.6zM115.6 88.26h3.6v2.57h-3.6zM115.6 91.73h3.6v2.57h-3.6z"/>
<rect x="122.32" y="69.22" width="10.86" height="26.36" fill="#778ca2" stroke="#56677d" stroke-width="0.45"/>
<rect x="123.7" y="70.9" width="8.1" height="23.4" fill="#93a8bd"/>
<path fill="#020202" d="M123.7 70.9h3.6v2.57h-3.6zM123.7 74.37h3.6v2.57h-3.6zM123.7 77.84h3.6v2.57h-3.6zM123.7 81.31h3.6v2.57h-3.6zM123.7 84.79h3.6v2.57h-3.6zM123.7 88.26h3.6v2.57h-3.6zM123.7 91.73h3.6v2.57h-3.6zM128.2 70.9h3.6v2.57h-3.6zM128.2 74.37h3.6v2.57h-3.6zM128.2 77.84h3.6v2.57h-3.6zM128.2 81.31h3.6v2.57h-3.6zM128.2 84.79h3.6v2.57h-3.6zM128.2 88.26h3.6v2.57h-3.6zM128.2 91.73h3.6v2.57h-3.6z"/>
<rect x="135.22" y="69.22" width="17.96" height="26.36" fill="#778ca2" stroke="#56677d" stroke-width="0.45"/>
<rect x="136.5" y="70.9" width="15.4" height="23.4" fill="#93a8bd"/>
<path fill="#020202" d="M136.5 70.9h3.25v2.66h-3.25zM136.5 74.36h3.25v2.66h-3.25zM136.5 77.81h3.25v2.66h-3.25zM136.5 81.27h3.25v2.66h-3.25zM136.5 84.73h3.25v2.66h-3.25zM136.5 88.19h3.25v2.66h-3.25zM136.5 91.64h3.25v2.66h-3.25zM140.55 70.9h3.25v2.66h-3.25zM140.55 74.36h3.25v2.66h-3.25zM140.55 77.81h3.25v2.66h-3.25zM140.55 81.27h3.25v2.66h-3.25zM140.55 84.73h3.25v2.66h-3.25zM140.55 88.19h3.25v2.66h-3.25zM140.55 91.64h3.25v2.66h-3.25zM144.6 70.9h3.25v2.66h-3.25zM144.6 74.36h3.25v2.66h-3.25zM144.6 77.81h3.25v2.66h-3.25zM144.6 81.27h3.25v2.66h-3.25zM144.6 84.73h3.25v2.66h-3.25zM144.6 88.19h3.25v2.66h-3.25zM144.6 91.64h3.25v2.66h-3.25zM148.65 70.9h3.25v2.66h-3.25zM148.65 74.36h3.25v2.66h-3.25zM148.65 77.81h3.25v2.66h-3.25zM148.65 81.27h3.25v2.66h-3.25zM148.65 84.73h3.25v2.66h-3.25zM148.65 88.19h3.25v2.66h-3.25zM148.65 91.64h3.25v2.66h-3.25z"/>
<rect x="155.72" y="69.22" width="17.96" height="26.36" fill="#778ca2" stroke="#56677d" stroke-width="0.45"/>
<rect x="157" y="70.9" width="15.4" height="23.4" fill="#93a8bd"/>
<path fill="#020202" d="M157 70.9h3.25v2.66h-3.25zM157 74.36h3.25v2.66h-3.25zM157 77.81h3.25v2.66h-3.25zM157 81.27h3.25v2.66h-3.25zM157 84.73h3.25v2.66h-3.25zM157 88.19h3.25v2.66h-3.25zM157 91.64h3.25v2.66h-3.25zM161.05 70.9h3.25v2.66h-3.25zM161.05 74.36h3.25v2.66h-3.25zM161.05 77.81h3.25v2.66h-3.25zM161.05 81.27h3.25v2.66h-3.25zM161.05 84.73h3.25v2.66h-3.25zM161.05 88.19h3.25v2.66h-3.25zM161.05 91.64h3.25v2.66h-3.25zM165.1 70.9h3.25v2.66h-3.25zM165.1 74.36h3.25v2.66h-3.25zM165.1 77.81h3.25v2.66h-3.25zM165.1 81.27h3.25v2.66h-3.25zM165.1 84.73h3.25v2.66h-3.25zM165.1 88.19h3.25v2.66h-3.25zM165.1 91.64h3.25v2.66h-3.25zM169.15 70.9h3.25v2.66h-3.25zM169.15 74.36h3.25v2.66h-3.25zM169.15 77.81h3.25v2.66h-3.25zM169.15 81.27h3.25v2.66h-3.25zM169.15 84.73h3.25v2.66h-3.25zM169.15 88.19h3.25v2.66h-3.25zM169.15 91.64h3.25v2.66h-3.25z"/>
<rect x="176.22" y="69.22" width="17.96" height="26.36" fill="#778ca2" stroke="#56677d" stroke-width="0.45"/>
<rect x="177.5" y="70.9" width="15.4" height="23.4" fill="#93a8bd"/>
<path fill="#020202" d="M177.5 70.9h3.25v2.66h-3.25zM177.5 74.36h3.25v2.66h-3.25zM177.5 77.81h3.25v2.66h-3.25zM177.5 81.27h3.25v2.66h-3.25zM177.5 84.73h3.25v2.66h-3.25zM177.5 88.19h3.25v2.66h-3.25zM177.5 91.64h3.25v2.66h-3.25zM181.55 70.9h3.25v2.66h-3.25zM181.55 74.36h3.25v2.66h-3.25zM181.55 77.81h3.25v2.66h-3.25zM181.55 81.27h3.25v2.66h-3.25zM181.55 84.73h3.25v2.66h-3.25zM181.55 88.19h3.25v2.66h-3.25zM181.55 91.64h3.25v2.66h-3.25zM185.6 70.9h3.25v2.66h-3.25zM185.6 74.36h3.25v2.66h-3.25zM185.6 77.81h3.25v2.66h-3.25zM185.6 81.27h3.25v2.66h-3.25zM185.6 84.73h3.25v2.66h-3.25zM185.6 88.19h3.25v2.66h-3.25zM185.6 91.64h3.25v2.66h-3.25zM189.65 70.9h3.25v2.66h-3.25zM189.65 74.36h3.25v2.66h-3.25zM189.65 77.81h3.25v2.66h-3.25zM189.65 81.27h3.25v2.66h-3.25zM189.65 84.73h3.25v2.66h-3.25zM189.65 88.19h3.25v2.66h-3.25zM189.65 91.64h3.25v2.66h-3.25z"/>
<rect x="196.72" y="69.22" width="17.96" height="26.36" fill="#778ca2" stroke="#56677d" stroke-width="0.45"/>
<rect x="198" y="70.9" width="15.4" height="23.4" fill="#93a8bd"/>
<path fill="#020202" d="M198 70.9h3.25v2.66h-3.25zM198 74.36h3.25v2.66h-3.25zM198 77.81h3.25v2.66h-3.25zM198 81.27h3.25v2.66h-3.25zM198 84.73h3.25v2.66h-3.25zM198 88.19h3.25v2.66h-3.25zM198 91.64h3.25v2.66h-3.25zM202.05 70.9h3.25v2.66h-3.25zM202.05 74.36h3.25v2.66h-3.25zM202.05 77.81h3.25v2.66h-3.25zM202.05 81.27h3.25v2.66h-3.25zM202.05 84.73h3.25v2.66h-3.25zM202.05 88.19h3.25v2.66h-3.25zM202.05 91.64h3.25v2.66h-3.25zM206.1 70.9h3.25v2.66h-3.25zM206.1 74.36h3.25v2.66h-3.25zM206.1 77.81h3.25v2.66h-3.25zM206.1 81.27h3.25v2.66h-3.25zM206.1 84.73h3.25v2.66h-3.25zM206.1 88.19h3.25v2.66h-3.25zM206.1 91.64h3.25v2.66h-3.25zM210.15 70.9h3.25v2.66h-3.25zM210.15 74.36h3.25v2.66h-3.25zM210.15 77.81h3.25v2.66h-3.25zM210.15 81.27h3.25v2.66h-3.25zM210.15 84.73h3.25v2.66h-3.25zM210.15 88.19h3.25v2.66h-3.25zM210.15 91.64h3.25v2.66h-3.25z"/>
<rect x="32.32" y="101.92" width="11.16" height="26.16" fill="#778ca2" stroke="#56677d" stroke-width="0.45"/>
<rect x="34.1" y="104.2" width="7.6" height="22" fill="#93a8bd"/>
<rect x="34.1" y="104.2" width="3.25" height="8.1" fill="#020202"/>
<rect x="38.45" y="104.2" width="3.25" height="8.1" fill="#020202"/>
<rect x="34.1" y="113.4" width="3.25" height="7.9" fill="#020202"/>
<rect x="38.45" y="113.4" width="3.25" height="7.9" fill="#020202"/>
<rect x="34.1" y="122.7" width="7.6" height="3.4" fill="#020202"/>
<rect x="45.42" y="101.92" width="11.16" height="26.16" fill="#778ca2" stroke="#56677d" stroke-width="0.45"/>
<rect x="47.2" y="104.2" width="7.6" height="22" fill="#93a8bd"/>
<rect x="47.2" y="104.2" width="3.25" height="8.1" fill="#020202"/>
<rect x="51.55" y="104.2" width="3.25" height="8.1" fill="#020202"/>
<rect x="47.2" y="113.4" width="3.25" height="7.9" fill="#020202"/>
<rect x="51.55" y="113.4" width="3.25" height="7.9" fill="#020202"/>
<rect x="47.2" y="122.7" width="7.6" height="3.4" fill="#020202"/>
<rect x="58.52" y="101.92" width="11.16" height="26.16" fill="#778ca2" stroke="#56677d" stroke-width="0.45"/>
<rect x="60.3" y="104.2" width="7.6" height="22" fill="#93a8bd"/>
<rect x="60.3" y="104.2" width="3.25" height="8.1" fill="#020202"/>
<rect x="64.65" y="104.2" width="3.25" height="8.1" fill="#020202"/>
<rect x="60.3" y="113.4" width="3.25" height="7.9" fill="#020202"/>
<rect x="64.65" y="113.4" width="3.25" height="7.9" fill="#020202"/>
<rect x="60.3" y="122.7" width="7.6" height="3.4" fill="#020202"/>
<rect x="71.62" y="101.92" width="11.16" height="26.16" fill="#778ca2" stroke="#56677d" stroke-width="0.45"/>
<rect x="73.4" y="104.2" width="7.6" height="22" fill="#93a8bd"/>
<rect x="73.4" y="104.2" width="3.25" height="8.1" fill="#020202"/>
<rect x="77.75" y="104.2" width="3.25" height="8.1" fill="#020202"/>
<rect x="73.4" y="113.4" width="3.25" height="7.9" fill="#020202"/>
<rect x="77.75" y="113.4" width="3.25" height="7.9" fill="#020202"/>
<rect x="73.4" y="122.7" width="7.6" height="3.4" fill="#020202"/>
<rect x="84.52" y="101.92" width="10.86" height="26.16" fill="#778ca2" stroke="#56677d" stroke-width="0.45"/>
<rect x="85.9" y="103.6" width="8.1" height="23.2" fill="#93a8bd"/>
<path fill="#020202" d="M85.9 103.6h3.6v2.54h-3.6zM85.9 107.04h3.6v2.54h-3.6zM85.9 110.49h3.6v2.54h-3.6zM85.9 113.93h3.6v2.54h-3.6zM85.9 117.37h3.6v2.54h-3.6zM85.9 120.81h3.6v2.54h-3.6zM85.9 124.26h3.6v2.54h-3.6zM90.4 103.6h3.6v2.54h-3.6zM90.4 107.04h3.6v2.54h-3.6zM90.4 110.49h3.6v2.54h-3.6zM90.4 113.93h3.6v2.54h-3.6zM90.4 117.37h3.6v2.54h-3.6zM90.4 120.81h3.6v2.54h-3.6zM90.4 124.26h3.6v2.54h-3.6z"/>
<rect x="97.12" y="101.92" width="10.86" height="26.16" fill="#778ca2" stroke="#56677d" stroke-width="0.45"/>
<rect x="98.5" y="103.6" width="8.1" height="23.2" fill="#93a8bd"/>
<path fill="#020202" d="M98.5 103.6h3.6v2.54h-3.6zM98.5 107.04h3.6v2.54h-3.6zM98.5 110.49h3.6v2.54h-3.6zM98.5 113.93h3.6v2.54h-3.6zM98.5 117.37h3.6v2.54h-3.6zM98.5 120.81h3.6v2.54h-3.6zM98.5 124.26h3.6v2.54h-3.6zM103 103.6h3.6v2.54h-3.6zM103 107.04h3.6v2.54h-3.6zM103 110.49h3.6v2.54h-3.6zM103 113.93h3.6v2.54h-3.6zM103 117.37h3.6v2.54h-3.6zM103 120.81h3.6v2.54h-3.6zM103 124.26h3.6v2.54h-3.6z"/>
<rect x="109.72" y="101.92" width="10.86" height="26.16" fill="#778ca2" stroke="#56677d" stroke-width="0.45"/>
<rect x="111.1" y="103.6" width="8.1" height="23.2" fill="#93a8bd"/>
<path fill="#020202" d="M111.1 103.6h3.6v2.54h-3.6zM111.1 107.04h3.6v2.54h-3.6zM111.1 110.49h3.6v2.54h-3.6zM111.1 113.93h3.6v2.54h-3.6zM111.1 117.37h3.6v2.54h-3.6zM111.1 120.81h3.6v2.54h-3.6zM111.1 124.26h3.6v2.54h-3.6zM115.6 103.6h3.6v2.54h-3.6zM115.6 107.04h3.6v2.54h-3.6zM115.6 110.49h3.6v2.54h-3.6zM115.6 113.93h3.6v2.54h-3.6zM115.6 117.37h3.6v2.54h-3.6zM115.6 120.81h3.6v2.54h-3.6zM115.6 124.26h3.6v2.54h-3.6z"/>
<rect x="122.32" y="101.92" width="10.86" height="26.16" fill="#778ca2" stroke="#56677d" stroke-width="0.45"/>
<rect x="123.7" y="103.6" width="8.1" height="23.2" fill="#93a8bd"/>
<path fill="#020202" d="M123.7 103.6h3.6v2.54h-3.6zM123.7 107.04h3.6v2.54h-3.6zM123.7 110.49h3.6v2.54h-3.6zM123.7 113.93h3.6v2.54h-3.6zM123.7 117.37h3.6v2.54h-3.6zM123.7 120.81h3.6v2.54h-3.6zM123.7 124.26h3.6v2.54h-3.6zM128.2 103.6h3.6v2.54h-3.6zM128.2 107.04h3.6v2.54h-3.6zM128.2 110.49h3.6v2.54h-3.6zM128.2 113.93h3.6v2.54h-3.6zM128.2 117.37h3.6v2.54h-3.6zM128.2 120.81h3.6v2.54h-3.6zM128.2 124.26h3.6v2.54h-3.6z"/>
<rect x="135.22" y="101.92" width="17.96" height="26.16" fill="#778ca2" stroke="#56677d" stroke-width="0.45"/>
<rect x="136.5" y="103.6" width="15.4" height="23.2" fill="#93a8bd"/>
<path fill="#020202" d="M136.5 103.6h3.25v2.63h-3.25zM136.5 107.03h3.25v2.63h-3.25zM136.5 110.46h3.25v2.63h-3.25zM136.5 113.89h3.25v2.63h-3.25zM136.5 117.31h3.25v2.63h-3.25zM136.5 120.74h3.25v2.63h-3.25zM136.5 124.17h3.25v2.63h-3.25zM140.55 103.6h3.25v2.63h-3.25zM140.55 107.03h3.25v2.63h-3.25zM140.55 110.46h3.25v2.63h-3.25zM140.55 113.89h3.25v2.63h-3.25zM140.55 117.31h3.25v2.63h-3.25zM140.55 120.74h3.25v2.63h-3.25zM140.55 124.17h3.25v2.63h-3.25zM144.6 103.6h3.25v2.63h-3.25zM144.6 107.03h3.25v2.63h-3.25zM144.6 110.46h3.25v2.63h-3.25zM144.6 113.89h3.25v2.63h-3.25zM144.6 117.31h3.25v2.63h-3.25zM144.6 120.74h3.25v2.63h-3.25zM144.6 124.17h3.25v2.63h-3.25zM148.65 103.6h3.25v2.63h-3.25zM148.65 107.03h3.25v2.63h-3.25zM148.65 110.46h3.25v2.63h-3.25zM148.65 113.89h3.25v2.63h-3.25zM148.65 117.31h3.25v2.63h-3.25zM148.65 120.74h3.25v2.63h-3.25zM148.65 124.17h3.25v2.63h-3.25z"/>
<rect x="155.72" y="101.92" width="17.96" height="26.16" fill="#778ca2" stroke="#56677d" stroke-width="0.45"/>
<rect x="157" y="103.6" width="15.4" height="23.2" fill="#93a8bd"/>
<path fill="#020202" d="M157 103.6h3.25v2.63h-3.25zM157 107.03h3.25v2.63h-3.25zM157 110.46h3.25v2.63h-3.25zM157 113.89h3.25v2.63h-3.25zM157 117.31h3.25v2.63h-3.25zM157 120.74h3.25v2.63h-3.25zM157 124.17h3.25v2.63h-3.25zM161.05 103.6h3.25v2.63h-3.25zM161.05 107.03h3.25v2.63h-3.25zM161.05 110.46h3.25v2.63h-3.25zM161.05 113.89h3.25v2.63h-3.25zM161.05 117.31h3.25v2.63h-3.25zM161.05 120.74h3.25v2.63h-3.25zM161.05 124.17h3.25v2.63h-3.25zM165.1 103.6h3.25v2.63h-3.25zM165.1 107.03h3.25v2.63h-3.25zM165.1 110.46h3.25v2.63h-3.25zM165.1 113.89h3.25v2.63h-3.25zM165.1 117.31h3.25v2.63h-3.25zM165.1 120.74h3.25v2.63h-3.25zM165.1 124.17h3.25v2.63h-3.25zM169.15 103.6h3.25v2.63h-3.25zM169.15 107.03h3.25v2.63h-3.25zM169.15 110.46h3.25v2.63h-3.25zM169.15 113.89h3.25v2.63h-3.25zM169.15 117.31h3.25v2.63h-3.25zM169.15 120.74h3.25v2.63h-3.25zM169.15 124.17h3.25v2.63h-3.25z"/>
<rect x="176.22" y="101.92" width="17.96" height="26.16" fill="#778ca2" stroke="#56677d" stroke-width="0.45"/>
<rect x="177.5" y="103.6" width="15.4" height="23.2" fill="#93a8bd"/>
<path fill="#020202" d="M177.5 103.6h3.25v2.63h-3.25zM177.5 107.03h3.25v2.63h-3.25zM177.5 110.46h3.25v2.63h-3.25zM177.5 113.89h3.25v2.63h-3.25zM177.5 117.31h3.25v2.63h-3.25zM177.5 120.74h3.25v2.63h-3.25zM177.5 124.17h3.25v2.63h-3.25zM181.55 103.6h3.25v2.63h-3.25zM181.55 107.03h3.25v2.63h-3.25zM181.55 110.46h3.25v2.63h-3.25zM181.55 113.89h3.25v2.63h-3.25zM181.55 117.31h3.25v2.63h-3.25zM181.55 120.74h3.25v2.63h-3.25zM181.55 124.17h3.25v2.63h-3.25zM185.6 103.6h3.25v2.63h-3.25zM185.6 107.03h3.25v2.63h-3.25zM185.6 110.46h3.25v2.63h-3.25zM185.6 113.89h3.25v2.63h-3.25zM185.6 117.31h3.25v2.63h-3.25zM185.6 120.74h3.25v2.63h-3.25zM185.6 124.17h3.25v2.63h-3.25zM189.65 103.6h3.25v2.63h-3.25zM189.65 107.03h3.25v2.63h-3.25zM189.65 110.46h3.25v2.63h-3.25zM189.65 113.89h3.25v2.63h-3.25zM189.65 117.31h3.25v2.63h-3.25zM189.65 120.74h3.25v2.63h-3.25zM189.65 124.17h3.25v2.63h-3.25z"/>
<rect x="196.72" y="101.92" width="17.96" height="26.16" fill="#778ca2" stroke="#56677d" stroke-width="0.45"/>
<rect x="198" y="103.6" width="15.4" height="23.2" fill="#93a8bd"/>
<path fill="#020202" d="M198 103.6h3.25v2.63h-3.25zM198 107.03h3.25v2.63h-3.25zM198 110.46h3.25v2.63h-3.25zM198 113.89h3.25v2.63h-3.25zM198 117.31h3.25v2.63h-3.25zM198 120.74h3.25v2.63h-3.25zM198 124.17h3.25v2.63h-3.25zM202.05 103.6h3.25v2.63h-3.25zM202.05 107.03h3.25v2.63h-3.25zM202.05 110.46h3.25v2.63h-3.25zM202.05 113.89h3.25v2.63h-3.25zM202.05 117.31h3.25v2.63h-3.25zM202.05 120.74h3.25v2.63h-3.25zM202.05 124.17h3.25v2.63h-3.25zM206.1 103.6h3.25v2.63h-3.25zM206.1 107.03h3.25v2.63h-3.25zM206.1 110.46h3.25v2.63h-3.25zM206.1 113.89h3.25v2.63h-3.25zM206.1 117.31h3.25v2.63h-3.25zM206.1 120.74h3.25v2.63h-3.25zM206.1 124.17h3.25v2.63h-3.25zM210.15 103.6h3.25v2.63h-3.25zM210.15 107.03h3.25v2.63h-3.25zM210.15 110.46h3.25v2.63h-3.25zM210.15 113.89h3.25v2.63h-3.25zM210.15 117.31h3.25v2.63h-3.25zM210.15 120.74h3.25v2.63h-3.25zM210.15 124.17h3.25v2.63h-3.25z"/>
<rect x="0.35" y="0.35" width="219.7" height="131.7" fill="none" stroke="#1c2836" stroke-width="0.7"/></g>
<g class="t"><line x1="315.9" y1="298.5" x2="315.9" y2="300.7" stroke="#111" stroke-width="0.7"/>
<text x="315.9" y="308.1" text-anchor="middle">0</text>
<line x1="343.45" y1="298.5" x2="343.45" y2="300.7" stroke="#111" stroke-width="0.7"/>
<text x="343.45" y="308.1" text-anchor="middle">1000</text>
<line x1="371" y1="298.5" x2="371" y2="300.7" stroke="#111" stroke-width="0.7"/>
<text x="371" y="308.1" text-anchor="middle">2000</text>
<line x1="398.55" y1="298.5" x2="398.55" y2="300.7" stroke="#111" stroke-width="0.7"/>
<text x="398.55" y="308.1" text-anchor="middle">3000</text>
<line x1="426.1" y1="298.5" x2="426.1" y2="300.7" stroke="#111" stroke-width="0.7"/>
<text x="426.1" y="308.1" text-anchor="middle">4000</text>
<line x1="453.65" y1="298.5" x2="453.65" y2="300.7" stroke="#111" stroke-width="0.7"/>
<text x="453.65" y="308.1" text-anchor="middle">5000</text>
<line x1="481.2" y1="298.5" x2="481.2" y2="300.7" stroke="#111" stroke-width="0.7"/>
<text x="481.2" y="308.1" text-anchor="middle">6000</text>
<line x1="508.75" y1="298.5" x2="508.75" y2="300.7" stroke="#111" stroke-width="0.7"/>
<text x="508.75" y="308.1" text-anchor="middle">7000</text>
<line x1="536.3" y1="298.5" x2="536.3" y2="300.7" stroke="#111" stroke-width="0.7"/>
<text x="536.3" y="308.1" text-anchor="middle">8000</text>
<line x1="313.7" y1="298.5" x2="315.9" y2="298.5" stroke="#111" stroke-width="0.7"/>
<text x="312.9" y="301.2" text-anchor="end">0</text>
<line x1="313.7" y1="270.92" x2="315.9" y2="270.92" stroke="#111" stroke-width="0.7"/>
<text x="312.9" y="273.62" text-anchor="end">1000</text>
<line x1="313.7" y1="243.33" x2="315.9" y2="243.33" stroke="#111" stroke-width="0.7"/>
<text x="312.9" y="246.03" text-anchor="end">2000</text>
<line x1="313.7" y1="215.75" x2="315.9" y2="215.75" stroke="#111" stroke-width="0.7"/>
<text x="312.9" y="218.45" text-anchor="end">3000</text>
<line x1="313.7" y1="188.17" x2="315.9" y2="188.17" stroke="#111" stroke-width="0.7"/>
<text x="312.9" y="190.87" text-anchor="end">4000</text></g>
<text class="cap capb" x="387.5" y="322.4" textLength="14.4" lengthAdjust="spacingAndGlyphs">(d)</text>
<text class="cap" x="403.9" y="322.4" textLength="49.4" lengthAdjust="spacingAndGlyphs">NBC-RRT</text>
<path fill="none" stroke="#1cb04c" stroke-width="0.45" stroke-linecap="round" d="M39.7 122.3L38.3 122.4M39.7 122.3L40.1 121.0M40.1 121.0L40.2 119.6M40.2 119.6L41.6 119.5M40.2 119.6L40.0 118.2M40.0 118.2L40.7 117.0M40.7 117.0L41.0 115.6M41.0 115.6L41.4 114.7M38.3 122.4L37.7 123.7M41.4 114.7L41.8 113.4M41.8 113.4L40.7 112.5M40.7 112.5L41.6 111.4M41.6 111.4L41.0 110.1M41.0 110.1L40.5 108.8M40.5 108.8L40.6 107.4M40.6 107.4L40.3 106.0M40.3 106.0L39.6 104.8M39.6 104.8L39.5 103.4M40.3 106.0L41.7 105.8M39.5 103.4L39.9 102.1M41.6 119.5L43.0 119.9M39.9 102.1L39.2 100.9M41.8 113.4L43.2 113.5M39.9 102.1L41.2 101.5M43.2 113.5L44.6 113.2M39.6 104.8L38.3 105.4M43.0 119.9L44.4 120.3M41.7 105.8L43.1 106.0M39.2 100.9L38.5 99.7M41.2 101.5L42.3 100.7M38.3 105.4L37.0 104.9M44.6 113.2L45.9 112.7M38.5 99.7L38.8 98.3M43.0 119.9L43.2 118.5M38.8 98.3L39.8 97.3M39.8 97.3L39.9 95.9M40.7 112.5L39.3 112.6M45.9 112.7L47.1 112.0M39.9 95.9L39.9 94.5M37.7 123.7L38.5 124.9M43.1 106.0L44.4 105.5M39.9 94.5L41.0 93.5M38.5 124.9L39.5 125.9M42.3 100.7L43.3 99.7M37.0 104.9L36.5 103.6M41.0 93.5L41.7 92.3M44.4 120.3L45.7 120.5M47.1 112.0L48.3 112.7M44.4 105.5L45.6 104.8M41.0 93.5L42.2 94.1M37.7 123.7L36.3 123.9M41.7 92.3L42.1 91.0M43.3 99.7L43.1 99.2M42.1 91.0L40.7 90.6M43.1 106.0L43.6 107.3M43.1 99.2L44.3 98.5M40.7 90.6L39.6 89.7M37.0 104.9L35.7 105.2M45.7 120.5L47.1 120.3M47.1 120.3L48.5 120.6M36.3 123.9L35.9 122.7M39.6 89.7L40.2 88.5M40.2 88.5L39.5 87.3M42.1 91.0L43.1 90.0M35.7 105.2L34.6 106.1M39.5 87.3L39.4 85.9M36.5 103.6L35.2 103.0M39.4 85.9L38.0 85.7M44.3 98.5L45.7 98.1M38.8 98.3L37.9 98.4M37.9 98.4L36.7 97.6M39.4 85.9L39.7 84.5M36.3 123.9L35.1 124.6M39.7 84.5L40.7 83.5M45.7 120.5L46.0 121.0M40.7 83.5L39.9 82.4M39.3 112.6L38.0 113.0M38.0 113.0L36.6 113.2M45.6 104.8L46.8 104.0M35.1 124.6L35.1 126.0M46.8 104.0L48.0 103.3M36.6 113.2L36.0 111.9M39.6 104.8L40.0 105.1M40.5 108.8L39.1 108.8M38.0 85.7L36.6 85.9M48.5 120.6L49.8 121.2M37.7 123.7L37.4 123.8M39.5 125.9L38.7 127.1M45.7 98.1L46.8 97.2M39.9 82.4L39.5 81.0M39.5 81.0L40.6 80.2M49.8 121.2L50.1 122.6M40.6 80.2L41.9 79.7M50.1 122.6L50.6 123.9M48.0 103.3L48.4 102.0M39.6 89.7L39.5 90.1M36.0 111.9L34.6 111.6M40.6 80.2L41.1 80.0M34.6 111.6L33.2 111.4M38.5 99.7L37.2 100.1M38.5 124.9L38.0 124.6M41.9 79.7L43.0 78.7M36.6 85.9L35.8 87.0M49.8 121.2L51.1 120.8M39.5 81.0L38.4 81.2M48.5 120.6L48.1 121.9M46.8 97.2L47.9 96.3M48.3 112.7L49.7 112.7M38.7 127.1L39.6 128.2M36.6 113.2L35.8 114.4M38.4 81.2L37.0 80.7M43.0 78.7L44.3 79.0M48.0 103.3L48.8 104.4M47.9 96.3L48.9 95.3M38.0 85.7L38.4 86.4M48.8 104.4L50.0 105.1M50.6 123.9L52.0 124.3M35.2 103.0L33.8 103.2M37.0 80.7L36.4 79.5M35.1 124.6L33.7 124.5M51.1 120.8L51.3 121.8M39.1 108.8L38.4 107.7M48.9 95.3L49.7 94.2M44.3 79.0L44.6 80.4M35.8 87.0L34.5 86.4M50.0 105.1L51.4 104.9M49.7 94.2L50.9 94.9M40.0 118.2L38.6 118.5M44.3 79.0L45.2 77.9M45.2 77.9L45.9 76.7M33.7 124.5L32.5 125.2M34.5 86.4L33.4 85.6M50.9 94.9L52.3 94.9M36.4 79.5L35.1 79.1M35.8 114.4L35.6 115.8M32.5 125.2L31.9 126.5M39.6 128.2L39.5 129.6M52.3 94.9L52.7 93.5M36.7 97.6L35.9 98.6M33.2 111.4L32.1 110.6M35.1 79.1L34.5 77.8M52.7 93.5L53.4 92.3M46.8 97.2L45.8 96.8M34.5 77.8L35.1 76.6M52.0 124.3L52.5 125.6M45.9 76.7L47.2 76.4M34.6 106.1L34.7 107.5M51.4 104.9L52.7 104.4M47.1 112.0L48.1 111.1M36.5 103.6L36.1 102.9M38.0 85.7L37.7 84.3M33.4 85.6L32.0 85.7M52.3 94.9L53.6 95.4M48.1 111.1L47.5 109.8M53.4 92.3L54.8 92.7M39.6 89.7L38.3 89.2M37.7 123.7L37.7 123.0M53.4 92.3L53.6 91.0M39.5 103.4L38.2 103.1M44.4 105.5L45.2 106.5M35.1 76.6L35.2 75.2M35.2 75.2L35.4 73.8M45.9 76.7L45.5 75.3M32.1 110.6L31.2 109.5M38.6 118.5L37.4 119.2M39.7 122.3L40.9 123.0M33.8 103.2L33.5 101.9M47.2 76.4L48.2 75.4M48.2 75.4L49.5 76.0M52.5 125.6L52.2 127.0M53.6 91.0L53.0 89.7M33.5 101.9L32.2 101.3M53.0 89.7L53.7 88.5M49.5 76.0L50.9 76.1M50.9 76.1L51.6 74.9M38.7 127.1L37.7 126.7M52.2 127.0L51.7 127.0M51.1 120.8L51.6 119.5M47.2 76.4L47.8 77.7M43.0 78.7L41.7 78.0M48.1 111.1L49.2 111.2M35.4 73.8L35.7 72.4M51.6 119.5L53.0 119.8M45.6 104.8L44.9 103.6M53.6 95.4L53.2 96.7M39.6 89.7L40.0 89.5M35.7 72.4L35.8 71.0M47.9 96.3L47.3 95.0M45.5 75.3L45.3 73.9M41.7 78.0L40.5 77.3M32.0 85.7L32.2 84.3M52.7 93.5L52.4 93.4M40.6 107.4L40.1 107.6M35.8 71.0L35.6 69.6M43.3 99.7L43.8 100.2M47.9 96.3L47.3 96.1M48.3 112.7L48.3 114.1M35.9 98.6L35.5 99.8M40.7 83.5L41.8 82.6M40.0 105.1L40.5 104.1M52.2 127.0L53.5 127.4M36.0 111.9L36.3 110.6M35.7 72.4L34.3 72.3M40.9 123.0L42.0 123.9M35.6 115.8L34.5 116.6M53.7 88.5L54.0 87.7M48.1 121.9L48.5 123.1M39.3 112.6L39.3 113.4M50.0 105.1L49.8 106.4M52.5 125.6L53.2 126.3M52.7 104.4L54.1 104.6M32.2 84.3L33.5 83.8M35.7 105.2L34.9 104.7M51.6 74.9L51.2 73.6M48.3 114.1L48.2 114.5M39.2 100.9L38.6 101.1M34.5 116.6L33.6 115.6M31.9 126.5L31.4 127.8M49.8 106.4L50.7 107.4M37.7 126.7L36.4 127.3M51.6 74.9L53.0 75.3M50.1 122.6L50.9 122.7M48.3 112.7L47.6 113.4M39.6 128.2L41.0 128.1M54.8 92.7L56.1 92.5M52.3 94.9L51.7 95.7M34.5 86.4L33.9 87.7M31.9 126.5L32.2 127.1M53.0 75.3L54.4 75.2M47.3 95.0L46.1 94.3M32.0 85.7L32.0 86.7M35.6 115.8L35.7 116.6M32.2 84.3L31.4 83.2M35.6 69.6L37.0 69.4M45.2 106.5L46.5 107.1M50.9 76.1L51.4 77.5M36.5 103.6L36.8 102.9M35.7 105.2L36.5 105.8M36.0 111.9L35.8 112.2M51.1 120.8L51.3 120.5M54.1 104.6L55.4 103.9M42.0 123.9L42.7 123.6M51.4 104.9L50.7 104.8M39.4 85.9L39.6 85.9M33.7 124.5L33.1 123.2M33.6 115.6L32.4 116.3M41.0 128.1L42.1 129.0M51.7 127.0L51.3 128.3M32.2 101.3L32.5 100.2M43.1 90.0L44.0 89.0M43.1 90.0L43.1 90.7M45.3 73.9L45.0 72.6M39.8 97.3L41.1 96.9M39.9 94.5L38.6 94.0M49.7 112.7L51.1 112.2M41.0 110.1L42.4 109.9M39.5 81.0L39.5 80.6M32.0 85.7L30.6 85.6M48.5 123.1L47.4 124.0M52.7 104.4L52.6 103.0M53.2 96.7L54.5 97.1M52.7 93.5L52.6 94.2M51.3 128.3L50.9 129.7M36.4 79.5L37.4 78.4M46.8 104.0L46.5 102.6M37.0 69.4L38.0 68.4M39.9 95.9L39.8 95.3M40.9 123.0L40.3 124.0M44.6 113.2L45.0 114.5M53.0 119.8L53.5 118.5M41.0 115.6L42.3 116.1M47.5 109.8L47.0 110.0M46.1 94.3L46.7 94.0M47.0 110.0L46.7 109.0M53.5 118.5L54.9 118.7M53.5 118.5L52.9 117.8M50.7 107.4L52.0 107.1M37.7 84.3L38.7 84.6M48.5 123.1L48.9 124.5M45.2 77.9L44.3 77.2M53.2 96.7L52.8 98.1M45.0 72.6L43.9 71.7M42.3 116.1L43.3 116.3M40.7 90.6L40.8 90.6M45.0 72.6L45.7 71.4M42.1 129.0L43.2 129.5M49.7 94.2L48.5 93.7M49.8 106.4L48.5 107.0M35.1 79.1L34.7 80.5M54.0 87.7L54.0 86.3M33.1 123.2L31.9 122.5M43.1 90.7L43.6 91.5M43.3 116.3L43.3 115.8M33.2 111.4L33.5 110.2M48.5 120.6L49.1 120.9M36.5 105.8L36.4 107.2M34.9 104.7L35.3 104.2M34.5 116.6L34.0 117.9M53.7 88.5L53.5 88.9M36.4 127.3L35.9 128.6M48.5 123.1L48.9 122.8M31.4 127.8L30.2 127.0M44.0 89.0L45.3 88.5M40.7 117.0L41.0 117.4M51.4 77.5L51.3 78.8M47.8 77.7L46.6 78.1M54.5 97.1L55.9 96.6M52.9 117.8L53.8 116.7M45.3 88.5L45.6 87.1M44.3 77.2L43.7 76.3M33.6 115.6L32.7 114.5M40.7 117.0L39.3 116.8M35.8 114.4L35.5 114.5M45.6 87.1L47.0 87.2M33.9 87.7L33.4 89.0M43.9 71.7L43.2 72.9M34.3 72.3L34.0 70.9M47.4 124.0L46.5 125.0M35.6 69.6L34.8 69.5M49.1 120.9L48.8 120.9M54.1 104.6L55.0 105.7M38.3 122.4L38.5 122.4M32.7 114.5L32.2 113.2M33.4 89.0L32.8 90.3M43.6 91.5L42.8 92.1M33.5 83.8L33.5 82.5M52.8 98.1L52.2 97.7M44.6 80.4L45.3 81.2M47.0 87.2L48.1 88.1M46.5 125.0L46.0 126.4M54.4 75.2L55.1 74.0M52.0 124.3L51.5 123.7M38.6 94.0L38.0 92.7M46.0 126.4L45.4 127.6M39.5 125.9L40.1 125.2M51.4 77.5L50.4 77.2M55.1 74.0L55.0 72.6M33.2 111.4L32.8 111.0M32.8 90.3L31.7 91.1M32.5 100.2L32.4 98.8M52.2 127.0L52.7 126.9M34.0 70.9L32.6 71.0M55.0 72.6L54.1 71.5M35.2 75.2L36.5 74.9M32.6 71.0L31.8 69.9M48.2 114.5L47.4 115.6M48.5 123.1L48.3 122.9M48.5 93.7L47.7 92.9M45.4 127.6L45.9 128.9M45.3 81.2L46.2 82.2M31.4 127.8L30.4 128.8M45.3 88.5L45.5 89.9M45.6 104.8L46.0 104.1M43.9 71.7L43.6 71.2M38.6 94.0L38.8 94.4M33.7 124.5L34.3 125.2M41.0 110.1L40.8 110.9M47.4 115.6L48.7 116.1M48.7 116.1L49.3 116.8M35.9 128.6L35.9 130.0M32.2 127.1L33.0 127.7M52.0 124.3L53.1 123.5M32.6 71.0L31.5 71.9M52.2 97.7L52.0 98.1M39.5 129.6L39.4 131.0M32.2 101.3L30.9 101.8M40.5 77.3L41.2 76.1M39.3 113.4L40.0 113.8M54.1 71.5L54.0 70.1M43.2 72.9L43.7 73.2M51.2 73.6L51.6 72.9M31.7 91.1L30.5 91.9M48.1 88.1L49.5 87.9M34.0 117.9L33.0 118.9M51.5 123.7L51.8 123.6M38.8 94.4L37.5 95.1M35.3 104.2L35.7 103.9M38.3 89.2L38.1 89.5M50.9 129.7L51.1 130.2M45.3 73.9L45.4 74.1M47.9 96.3L47.4 96.8M53.8 116.7L55.0 115.9M51.1 112.2L52.2 113.1M45.4 127.6L44.3 126.6M54.0 86.3L52.6 86.4M32.8 90.3L33.1 91.6M43.7 73.2L43.6 73.6M38.3 105.4L38.5 105.1M31.9 122.5L30.8 121.7M47.0 87.2L47.3 87.9M38.1 89.5L37.2 90.4M39.3 116.8L38.0 116.5M42.3 100.7L43.0 101.9M33.0 127.7L32.9 127.5M38.3 89.2L38.0 88.8M30.4 128.8L30.5 130.2M41.0 128.1L42.2 127.5M53.5 127.4L54.1 128.6M51.3 128.3L52.0 128.2M54.9 118.7L55.1 120.0M32.2 101.3L32.5 101.7M43.2 129.5L43.9 130.7M52.2 113.1L51.1 113.5M47.7 92.9L48.8 92.0M55.0 105.7L55.2 107.1M39.8 97.3L40.2 97.8M55.4 103.9L56.3 102.8M34.5 77.8L33.4 77.0M48.8 104.4L48.4 104.3M51.3 78.8L52.7 79.1M41.0 115.6L40.4 115.2M31.5 71.9L30.6 73.0M45.6 87.1L44.9 85.9M32.2 84.3L31.7 84.4M46.5 102.6L46.8 101.9M31.5 71.9L30.9 72.0M52.0 107.1L52.6 108.4M33.7 124.5L33.6 124.0M30.5 91.9L29.2 91.5M52.2 113.1L53.0 114.0M37.7 126.7L36.8 125.9M46.5 125.0L45.8 124.2M53.6 95.4L54.3 95.2M48.0 103.3L48.0 103.1M55.1 120.0L55.8 119.8M49.1 120.9L49.5 120.8M54.0 86.3L55.2 85.6M34.5 116.6L34.4 116.4M48.4 102.0L49.7 101.5M42.2 94.1L42.6 93.8M53.0 119.8L54.0 119.7M45.7 71.4L45.4 70.0M53.2 96.7L53.1 97.4M34.5 86.4L34.1 86.9M45.4 70.0L46.5 69.1M32.0 86.7L32.1 87.1M53.8 116.7L54.1 116.4M56.3 102.8L56.5 103.0M44.9 103.6L45.0 103.5M43.0 101.9L43.7 102.9M51.1 130.2L52.1 130.0M40.5 108.8L40.3 108.7M38.4 86.4L37.5 87.1M43.1 106.0L43.2 105.8M43.9 130.7L44.4 131.6M33.5 110.2L33.3 109.2M55.0 115.9L56.4 115.8M43.6 91.5L44.9 91.5M39.6 128.2L40.2 128.9M52.2 113.1L53.3 112.2M54.1 128.6L54.4 128.2M53.4 92.3L52.9 92.5M41.6 119.5L42.0 119.7M39.3 116.8L39.3 116.6M43.1 90.0L42.4 89.4M41.2 76.1L41.7 74.9M38.8 94.4L38.8 94.6M33.4 77.0L32.1 77.5M36.3 123.9L36.1 123.7M44.9 85.9L45.6 86.1M55.2 85.6L56.4 84.8M43.3 115.8L43.4 115.9M48.9 95.3L48.5 95.8M52.0 98.1L51.0 99.1M51.0 99.1L49.6 99.5M56.4 115.8L56.5 114.4M32.1 77.5L31.5 76.2M56.4 84.8L56.4 83.4M30.6 85.6L29.8 84.4M43.2 129.5L42.4 129.9M40.4 115.2L40.1 114.9M51.6 72.9L52.6 73.1M44.4 131.6L45.6 132.4M43.7 102.9L44.4 102.4M39.5 129.6L38.6 129.5M55.1 74.0L56.5 74.0M46.1 94.3L44.8 94.7M48.2 75.4L47.9 75.0M36.6 85.9L36.2 85.6M42.0 119.7L42.4 119.5M53.5 118.5L53.3 119.0M47.9 75.0L48.0 73.6M40.8 110.9L39.8 111.3M37.2 100.1L37.1 100.7M54.4 75.2L54.6 74.9M53.0 75.3L53.1 74.2M39.5 125.9L39.7 126.9M33.5 101.9L34.4 101.5M40.1 125.2L40.6 125.7M56.4 84.8L57.0 86.0M42.2 127.5L42.8 126.2M45.3 81.2L44.3 81.3M49.5 87.9L50.2 89.1M43.6 71.2L43.2 69.9M55.2 107.1L55.9 108.3M54.1 128.6L54.7 129.9M36.1 102.9L36.3 102.8M41.0 117.4L41.3 117.3M52.7 79.1L52.7 80.5M36.6 113.2L36.5 113.7M41.2 76.1L40.4 75.8M34.9 104.7L34.2 104.2M45.9 128.9L45.8 130.3M43.6 107.3L43.9 107.3M33.1 91.6L33.0 93.0M36.6 113.2L36.7 113.0M37.0 80.7L36.3 81.3M38.8 98.3L39.2 98.2M38.4 107.7L38.3 107.1M34.3 125.2L33.8 125.2M48.4 102.0L48.6 102.4M32.1 87.1L31.0 88.1M47.5 109.8L48.4 109.7M52.5 125.6L51.9 126.0M37.2 100.1L37.7 99.7M36.5 74.9L37.8 75.5M32.2 84.3L32.6 84.1M30.9 101.8L31.1 102.7M48.8 104.4L48.8 104.3M46.2 82.2L47.6 82.1M34.2 104.2L34.3 104.6M54.3 95.2L54.0 95.0M31.8 69.9L30.5 69.3M38.4 107.7L37.4 107.8M31.4 83.2L31.0 82.0M45.6 132.4L47.0 132.2M38.3 107.1L38.4 106.8M43.2 69.9L43.5 68.7M37.8 75.5L38.1 76.4M35.7 116.6L35.8 117.9M46.5 69.1L47.8 69.7M32.7 114.5L31.3 114.8M31.0 88.1L31.6 88.1M35.8 71.0L36.4 70.5M31.5 76.2L30.1 76.3M40.2 128.9L40.1 128.7M47.6 82.1L47.0 83.2M47.0 87.2L47.7 86.0M44.0 89.0L43.4 88.4M56.1 92.5L56.0 91.1M52.6 108.4L51.7 109.5M52.0 107.1L52.8 107.1M52.7 93.5L53.6 93.9M48.5 107.0L48.1 108.1M44.4 105.5L43.8 104.4M42.6 93.8L43.9 93.2M55.9 108.3L54.6 108.8M43.6 71.2L44.4 70.8M43.0 78.7L43.2 78.7M36.7 97.6L35.7 96.7M44.9 85.9L44.5 84.5M36.3 102.8L36.4 102.1M42.2 94.1L42.2 93.8M31.7 91.1L31.6 91.8M48.0 103.1L47.4 103.1M42.7 123.6L44.0 123.0M49.7 112.7L49.4 112.3M31.0 88.1L29.7 87.6M47.8 77.7L48.2 77.5M54.4 75.2L54.9 76.5M52.7 80.5L53.8 81.4M53.1 123.5L52.8 123.1M38.5 124.9L38.3 125.8M33.1 123.2L33.2 123.2M39.9 95.9L39.6 96.2M34.6 106.1L33.2 106.5M36.3 110.6L36.4 111.1M52.0 107.1L51.6 107.0M30.5 130.2L29.1 130.0M54.6 108.8L55.0 109.6M39.6 104.8L39.5 104.2M54.5 97.1L54.0 97.5M51.6 107.0L51.0 106.6M40.2 128.9L40.7 128.7M40.6 107.4L40.3 107.1M32.4 98.8L31.1 98.4M31.3 114.8L30.2 114.0M30.5 69.3L29.2 69.8M31.5 76.2L31.8 76.4M43.1 90.7L43.2 90.7M35.9 130.0L36.2 131.4M55.0 109.6L54.7 110.4M51.3 121.8L51.7 121.2M37.4 119.2L36.3 120.0M35.3 104.2L35.5 104.3M38.1 76.4L38.8 77.6M51.3 128.3L50.9 127.6M38.0 124.6L37.6 125.2M39.8 111.3L38.6 110.6M55.8 119.8L56.7 118.7M31.1 98.4L30.6 97.1M39.6 85.9L39.4 86.6M51.7 95.7L52.1 96.3M48.4 109.7L48.7 109.0M43.6 71.2L43.5 70.9M48.9 124.5L48.1 125.7M33.3 109.2L33.6 109.6M42.4 89.4L42.6 89.7M47.0 132.2L48.3 131.7M30.2 127.0L29.2 126.3M39.7 122.3L39.6 122.2M32.7 114.5L33.6 114.4M31.6 88.1L31.5 89.3M55.0 109.6L56.2 110.3M52.0 98.1L51.2 97.6M42.3 100.7L42.2 99.7M51.1 113.5L50.8 114.9M35.7 96.7L34.3 96.3M43.8 104.4L44.2 104.9M53.1 123.5L54.3 122.9M33.1 91.6L32.9 92.0M31.8 69.9L31.7 68.9M32.1 77.5L31.3 78.6M51.1 112.2L50.6 111.2M52.6 86.4L51.5 86.2M30.5 130.2L31.8 130.7M52.1 130.0L52.3 129.6M29.2 91.5L29.2 92.9M47.4 115.6L46.8 115.7M55.4 103.9L54.8 102.6M38.0 68.4L39.3 67.8M51.1 130.2L51.6 131.5M54.7 110.4L54.7 110.8M39.9 82.4L38.6 82.9M51.3 128.3L50.9 128.8M54.9 76.5L55.6 77.7M46.8 101.9L45.6 101.1M40.2 119.6L40.9 119.6M55.0 115.9L55.5 115.0M48.3 112.7L48.7 112.7M47.4 103.1L47.4 102.6M35.8 117.9L35.7 118.6M31.2 109.5L32.0 109.6M39.5 104.2L39.7 104.1M45.7 98.1L47.0 98.7M56.4 83.4L56.7 83.0M29.1 130.0L29.0 130.2M38.0 85.7L37.6 85.5M40.3 106.0L40.6 106.4M56.5 114.4L56.9 113.8M38.2 103.1L37.8 102.4M42.2 99.7L41.5 100.3M40.5 77.3L40.6 78.2M41.0 93.5L40.0 92.8M36.3 120.0L35.0 120.7M38.8 77.6L39.0 77.2M44.0 123.0L44.9 122.9M50.7 107.4L51.0 108.2M50.2 89.1L49.6 89.3M32.6 84.1L32.7 84.0M38.0 85.7L38.7 85.6M41.7 78.0L42.1 77.0M32.6 84.1L32.4 83.9M35.0 120.7L34.3 120.0M44.6 80.4L44.1 80.3M40.3 124.0L40.9 124.7M45.0 103.5L45.2 103.7M39.5 80.6L39.9 80.1M45.7 71.4L46.6 72.3M51.6 72.9L51.3 71.5M48.8 92.0L50.1 92.4M48.5 107.0L48.2 106.1M32.5 101.7L32.3 102.7M31.4 83.2L30.7 83.1M39.6 85.9L39.6 86.0M47.0 132.2L47.6 132.2M38.5 122.4L38.9 122.5M35.5 114.5L35.1 113.9M38.2 103.1L38.6 102.5M30.8 121.7L31.2 121.7M34.3 96.3L34.6 97.7M36.3 120.0L37.0 120.6M46.5 107.1L45.6 107.7M51.5 86.2L50.9 85.0M30.8 121.7L30.3 121.8M37.0 120.6L37.7 120.7M55.9 108.3L56.1 108.7M31.9 122.5L31.6 123.5M47.0 83.2L46.8 83.4M34.4 101.5L34.6 100.7M32.2 127.1L32.1 126.9M48.8 120.9L49.0 121.2M39.6 128.2L39.6 128.0M32.7 114.5L32.5 114.4M37.0 69.4L36.3 68.1M31.0 82.0L31.8 80.8M50.1 92.4L50.5 92.1M43.6 107.3L42.5 107.6M36.3 110.6L36.3 109.3M48.1 125.7L48.0 127.1M42.7 123.6L43.1 123.6M56.7 118.7L56.4 117.9M39.7 84.5L40.7 85.1M31.2 121.7L31.4 122.0M32.3 102.7L32.3 104.1M43.2 69.9L41.8 70.1M35.0 120.7L34.8 121.4M45.4 127.6L44.1 128.1M55.1 74.0L54.7 73.4M47.8 69.7L48.1 70.0M41.1 96.9L40.8 96.3M55.2 107.1L56.1 106.4M34.6 100.7L34.1 100.8M44.1 80.3L43.6 80.2M38.5 124.9L39.0 125.0M56.7 118.7L56.8 118.4M30.2 127.0L30.5 126.9M40.9 123.0L41.8 122.2M33.4 77.0L33.7 76.9M55.2 85.6L54.7 86.0M30.9 101.8L30.1 100.6M55.8 119.8L56.4 121.0M39.4 131.0L39.9 132.3M50.9 122.7L51.5 122.7M47.7 92.9L47.2 93.2M54.0 97.5L54.6 98.2M55.4 103.9L55.5 103.6M54.6 98.2L54.8 98.6M40.6 106.4L40.9 106.0M38.1 76.4L37.7 77.0M44.9 122.9L45.5 123.3M36.3 123.9L36.6 124.2M51.6 119.5L51.2 118.3M39.9 132.3L40.5 133.0M51.4 104.9L51.3 105.1M32.3 104.1L31.9 105.0M29.2 126.3L29.0 126.7M38.0 92.7L38.3 91.5M45.6 107.7L44.8 108.8M45.7 98.1L45.4 99.2M47.4 124.0L46.8 123.0M41.5 100.3L41.4 100.2M54.0 70.1L53.2 69.0M33.4 89.0L33.2 88.6M35.1 126.0L34.8 126.2M31.8 76.4L32.4 75.1M37.1 100.7L37.7 100.7M51.6 131.5L52.2 132.8M52.8 107.1L53.1 107.3M30.9 72.0L29.7 71.4M46.0 121.0L46.7 121.2M36.2 131.4L36.2 131.1M44.2 104.9L44.4 105.0M46.6 72.3L46.4 72.1M33.0 127.7L33.5 128.9M35.7 72.4L36.3 72.7M35.8 114.4L36.7 115.1M36.3 81.3L36.2 81.1M35.9 98.6L36.6 98.9M49.5 87.9L49.8 87.1M54.7 129.9L54.0 131.1M51.6 72.9L52.2 72.2M37.7 126.7L37.7 128.1M53.0 75.3L53.3 76.0M42.1 91.0L41.3 91.2M48.1 70.0L49.4 69.4M38.0 116.5L37.7 116.6M54.0 70.1L54.1 69.9M47.0 110.0L45.8 110.7M53.6 95.4L53.7 95.2M55.6 77.7L56.1 79.0M31.5 76.2L31.9 75.8M45.5 75.3L45.5 75.3M36.4 79.5L36.3 80.1M30.5 130.2L30.2 130.6M39.4 131.0L38.2 130.7M47.6 82.1L49.0 81.8M54.1 69.9L54.8 68.7M54.8 68.7L56.2 69.1M35.7 103.9L35.9 103.6M31.3 114.8L30.4 115.9M30.8 121.7L31.0 121.0M30.9 101.8L29.6 102.0M34.5 86.4L34.6 86.2M42.8 92.1L42.7 91.7M39.8 111.3L39.9 110.3M35.1 79.1L34.2 79.2M47.7 86.0L48.3 86.8M54.3 95.2L55.4 95.3M43.5 68.7L42.2 68.7M30.6 73.0L29.5 73.9M45.8 110.7L46.6 111.0M55.4 95.3L56.0 95.7M49.6 89.3L48.9 89.8M30.6 97.1L30.7 95.7M48.5 120.6L48.8 120.2M56.4 121.0L56.0 122.0M44.9 103.6L44.8 103.5M43.1 99.2L43.0 98.7M48.4 104.3L48.2 105.1M53.2 96.7L53.2 96.9M41.8 122.2L42.2 122.0M48.4 102.0L48.0 101.8M44.4 120.3L44.8 120.3M46.8 83.4L46.1 84.3M37.4 107.8L37.5 107.0M30.6 97.1L29.9 97.4M53.8 81.4L54.2 82.5M41.8 113.4L41.4 113.3M56.5 114.4L55.5 113.4M47.2 93.2L46.6 92.5M41.0 110.1L41.2 109.5M38.6 118.5L38.9 118.9M30.4 115.9L29.2 116.6M49.8 87.1L49.9 87.4M29.2 91.5L29.1 90.1M45.7 120.5L45.5 119.1M53.8 81.4L53.6 80.9M31.9 75.8L31.0 75.1M56.2 110.3L57.0 109.7M32.2 113.2L32.3 112.7M56.1 106.4L56.2 107.2M35.9 130.0L35.3 130.6M47.8 77.7L48.5 78.9M51.0 99.1L50.6 100.4M44.9 91.5L45.1 91.3M37.5 95.1L37.1 94.9M44.3 98.5L43.7 97.6M54.1 71.5L53.5 72.1M33.5 128.9L34.3 129.0M45.6 107.7L46.1 107.9M46.8 83.4L46.7 83.2M39.5 81.0L40.0 81.0M31.8 130.7L32.6 131.9M48.9 124.5L50.0 125.1M30.2 114.0L28.8 113.7M37.2 100.1L37.4 100.0M47.8 69.7L48.0 69.3M39.5 103.4L39.3 103.7M54.8 102.6L54.0 101.5M37.5 107.0L37.7 107.0M45.6 86.1L45.4 86.5M44.9 85.9L44.4 85.4M29.7 87.6L28.9 87.7M31.1 98.4L31.1 99.6M43.1 123.6L43.0 124.5M49.3 116.8L50.1 116.6M56.4 84.8L57.0 84.6M39.9 82.4L39.3 82.4M32.2 101.3L31.6 101.2M43.7 76.3L43.3 75.7M54.0 131.1L55.1 131.7M30.5 69.3L30.6 67.9M30.4 115.9L30.4 115.4M53.5 72.1L53.1 71.6M29.6 102.0L28.9 102.7M38.0 68.4L38.2 68.4M31.0 82.0L29.7 81.5M34.5 86.4L34.4 86.7M44.5 84.5L44.4 83.8M36.2 81.1L35.3 81.1M54.2 82.5L54.1 82.9M43.7 97.6L44.6 97.0M38.6 94.0L38.1 94.0M29.7 81.5L29.3 80.1M46.8 115.7L47.0 117.1M35.1 79.1L34.9 78.8M54.7 73.4L54.6 73.6M52.0 124.3L51.5 125.1M31.9 122.5L32.8 122.1M32.6 71.0L32.9 70.0M37.2 90.4L36.8 89.9M45.8 96.8L45.6 96.4M50.6 111.2L51.4 111.0M31.8 80.8L32.0 80.5M49.5 76.0L50.1 74.8M56.4 121.0L56.0 120.7M34.6 86.2L34.9 86.1M37.1 94.9L35.9 95.1M35.6 69.6L35.8 69.3M36.3 80.1L35.8 80.0M39.8 97.3L38.7 97.1M54.7 110.8L53.7 110.7M45.8 124.2L46.3 124.2M39.8 95.3L39.7 95.3M35.9 122.7L35.6 121.9M53.5 127.4L53.8 127.2M45.5 75.3L46.0 74.7M31.0 121.0L30.7 119.8M54.0 101.5L54.1 102.3M54.4 128.2L55.1 128.5M50.5 92.1L50.3 91.6M42.1 91.0L41.7 90.4M40.2 97.8L40.0 98.3M30.1 76.3L29.1 75.6M34.2 104.2L33.4 104.6M53.0 114.0L53.7 114.1M32.4 98.8L32.9 97.5M47.2 76.4L46.6 76.1M31.2 109.5L31.0 108.1M36.3 109.3L35.4 109.7M33.6 124.0L33.5 123.6M37.5 95.1L37.5 95.4M44.3 126.6L44.4 125.6M54.3 122.9L54.9 122.9M48.1 70.0L48.2 71.4M33.5 101.9L34.0 102.4M56.5 114.4L56.9 115.1M33.1 91.6L34.1 90.7M56.3 102.8L56.3 101.4M53.1 123.5L53.6 123.7M51.0 108.2L51.1 108.5M48.9 89.8L47.7 89.7M31.8 130.7L32.1 129.7M29.8 84.4L29.6 85.1M45.8 130.3L46.3 130.8M33.5 83.8L34.7 83.5M53.5 88.9L53.0 88.8M40.7 90.6L40.2 90.9M30.4 128.8L30.0 129.3M48.0 69.3L48.5 68.0M31.5 76.2L31.4 76.1M39.5 125.9L39.2 125.9M33.5 82.5L32.7 82.2M37.7 100.7L37.6 100.9M54.8 102.6L54.5 102.8M54.5 102.8L54.6 102.9M40.9 124.7L41.0 124.6M45.7 98.1L45.3 98.5M43.2 90.7L43.3 90.6M41.8 70.1L41.3 71.4M34.0 117.9L34.5 117.5M32.0 80.5L32.5 80.9M33.1 91.6L33.3 91.1M29.2 91.5L30.0 90.9M45.9 112.7L46.1 111.9M53.5 72.1L53.5 72.9M48.5 78.9L47.5 79.8M38.5 105.1L38.5 105.1M53.3 112.2L52.7 111.4M56.2 69.1L56.9 68.4M37.9 98.4L37.7 98.9M29.7 71.4L29.7 70.7M39.3 103.7L39.2 104.0M32.6 71.0L32.5 71.7M38.0 116.5L37.8 116.1M45.6 132.4L44.9 132.9M46.0 126.4L46.0 125.9M45.4 99.2L45.1 98.9M41.3 71.4L40.6 71.9M31.2 109.5L30.4 110.6M53.2 69.0L53.3 68.5M33.4 89.0L33.8 88.8M38.3 122.4L37.6 122.2M35.8 87.0L35.9 87.4M42.4 129.9L42.6 129.9M36.3 109.3L37.1 109.0M30.7 95.7L30.0 95.6M54.2 82.5L55.3 81.5M38.6 110.6L38.9 110.3M44.4 105.0L44.9 105.2M46.1 111.9L46.1 111.7M37.2 90.4L37.9 90.4M39.9 102.1L40.0 101.6M44.4 125.6L44.9 124.8M39.8 97.3L40.0 96.8M51.6 131.5L52.5 131.2M35.6 115.8L35.6 115.3M35.6 115.8L35.7 116.0M30.1 100.6L29.7 100.6M44.6 113.2L45.0 113.3M55.1 120.0L55.0 119.6M45.4 99.2L44.8 100.0M28.9 102.7L29.0 103.6M43.4 115.9L44.8 116.1M33.2 106.5L33.4 106.0M30.4 115.4L30.1 115.0M52.1 96.3L52.2 96.0M48.1 111.1L48.4 110.8M36.3 72.7L37.3 73.0M50.3 91.6L50.4 90.7M34.3 96.3L33.3 96.3M52.1 130.0L52.5 130.1M44.4 131.6L44.9 131.1M32.5 100.2L33.6 99.5M29.7 81.5L28.9 82.6M54.1 71.5L53.8 71.1M48.0 101.8L47.4 100.8M55.1 131.7L56.4 132.3M32.2 84.3L32.2 84.5M56.0 91.1L56.6 89.8M32.9 127.5L33.8 127.3M47.0 87.2L46.3 87.5M44.8 94.7L44.5 95.4M40.5 104.1L41.8 103.6M34.7 107.5L33.5 107.8M56.1 106.4L56.1 106.2M51.5 86.2L51.2 85.8M31.7 68.9L32.7 67.9M56.5 74.0L56.8 75.0M39.9 110.3L39.5 110.3M50.7 107.4L49.7 107.9M40.1 121.0L41.2 120.9M41.8 122.2L41.3 122.2M30.1 115.0L30.2 114.8M31.6 91.8L31.4 92.7M41.9 79.7L41.4 79.2M42.0 123.9L41.5 123.4M29.3 80.1L29.7 80.0M55.9 96.6L56.6 96.9M39.7 126.9L39.8 127.3M51.3 78.8L50.9 78.6M46.6 78.1L45.8 79.1M50.7 104.8L50.9 103.9M51.3 71.5L51.6 71.5M55.3 81.5L55.3 82.3M53.2 96.7L53.0 96.3M54.6 73.6L54.2 73.9M29.9 97.4L30.2 98.1M54.6 98.2L55.3 97.9M43.2 78.7L43.2 78.0M44.5 95.4L44.2 95.4M54.1 116.4L54.1 116.0M42.1 77.0L42.3 77.0M32.6 131.9L32.8 131.2M46.2 82.2L46.2 82.0M52.7 80.5L51.9 81.4M41.0 124.6L41.7 125.0M31.0 75.1L31.6 74.0M30.1 76.3L30.1 77.2M40.2 88.5L39.4 88.4M36.3 68.1L36.7 68.1M41.1 96.9L42.5 96.6M49.8 87.1L49.9 87.2M45.3 88.5L45.3 87.8M50.9 78.6L50.2 78.7M42.5 96.6L42.7 96.6M41.8 103.6L41.8 102.7M43.4 88.4L44.0 88.0M52.1 130.0L52.3 129.9M44.8 108.8L44.7 109.1M49.5 87.9L49.4 88.3M45.7 98.1L45.6 97.7M42.6 93.8L42.5 93.2M44.3 81.3L44.0 81.6M35.8 80.0L35.5 80.4M46.1 84.3L45.7 83.4M51.7 127.0L51.0 126.9M50.2 89.1L50.4 88.8M56.6 89.8L55.7 89.9M38.4 106.8L39.0 106.4M46.7 94.0L47.6 94.1M51.5 123.7L51.2 123.4M36.3 81.3L36.9 82.0M40.0 113.8L40.0 113.2M48.5 78.9L47.9 78.8M39.7 126.9L39.8 126.6M56.2 107.2L56.2 107.0M50.9 122.7L51.0 122.5M35.8 71.0L35.0 71.5M46.6 92.5L46.2 92.6M48.3 86.8L49.0 86.6M41.2 120.9L41.1 120.5M31.4 92.7L31.3 94.1M33.5 101.9L33.0 102.4M48.3 131.7L49.6 132.2M50.4 77.2L50.3 76.7M41.8 102.7L41.2 102.9M47.6 113.4L46.9 113.4M55.1 128.5L56.3 129.2M34.5 77.8L34.6 77.6M55.6 77.7L56.5 77.8M56.8 75.0L56.4 75.1M45.5 75.3L45.4 75.8M33.4 89.0L32.5 89.2M51.1 113.5L51.4 113.5M38.1 76.4L37.7 76.2M38.8 77.6L38.9 78.7M35.5 99.8L35.4 99.9M42.2 127.5L42.7 128.0M31.1 102.7L31.2 102.3M44.3 77.2L44.8 76.6M38.1 76.4L39.0 76.3M53.6 91.0L54.3 90.2M30.2 98.1L30.5 98.5M44.4 125.6L43.8 125.7M49.0 81.8L49.3 80.8M54.8 68.7L54.7 67.5M48.1 70.0L48.6 70.0M52.7 79.1L52.2 79.7M51.3 120.5L51.5 120.8M50.1 74.8L50.8 74.5M40.4 75.8L40.2 74.4M49.6 132.2L49.3 132.7M42.4 109.9L43.6 110.2M47.2 76.4L47.8 76.6M39.5 90.1L39.3 90.2M49.7 94.2L50.2 94.3M39.5 103.4L39.2 103.4M35.0 71.5L34.5 71.5M35.8 69.3L35.5 68.6M47.4 96.8L47.8 97.3M46.0 104.1L46.3 104.6M31.0 121.0L30.2 120.9M53.3 68.5L52.1 67.7M40.9 119.6L41.0 119.0M40.3 124.0L40.6 123.9M48.4 110.8L48.6 110.7M54.9 118.7L54.6 118.5M45.4 70.0L45.4 70.3M41.4 113.3L41.7 112.6M43.2 105.8L43.6 105.7M38.9 122.5L38.7 122.6M35.4 109.7L35.7 109.3M40.5 77.3L41.2 77.0M29.1 75.6L29.2 75.8M36.6 98.9L36.9 98.3M29.7 71.4L29.4 71.6M51.6 131.5L51.5 131.8M40.2 97.8L41.0 98.2M45.3 73.9L45.9 73.6M43.6 110.2L44.1 111.5M55.0 109.6L55.7 109.6M44.8 94.7L44.3 94.2M54.0 101.5L54.8 101.7M42.3 116.1L42.3 115.6M41.3 71.4L41.2 71.6M45.8 124.2L45.6 124.3M40.2 74.4L39.2 73.5M32.1 126.9L31.7 126.9M32.1 110.6L31.8 110.3M31.6 101.2L31.1 101.0M55.3 82.3L54.8 82.7M37.4 107.8L37.4 107.5M45.2 103.7L45.1 104.1M41.8 70.1L40.4 70.0M45.6 86.1L45.7 85.4M47.3 96.1L46.4 96.1M36.2 131.4L36.3 132.7M38.2 130.7L37.9 131.2M41.8 102.7L42.3 102.4M36.4 79.5L36.3 78.7M47.8 97.3L48.9 97.2M45.8 79.1L45.4 79.2M43.6 110.2L43.3 110.6M50.6 111.2L50.4 111.1M40.7 112.5L40.5 112.4M45.3 98.5L45.8 98.7M47.0 87.2L46.7 87.4M30.1 77.2L30.4 76.9M55.1 128.5L55.8 127.3M50.9 85.0L52.1 84.4M53.3 119.0L52.7 119.2M44.0 88.0L44.2 87.2M32.6 131.9L31.7 132.9M56.0 122.0L57.0 123.0M41.4 114.7L41.4 115.3M54.6 102.9L54.8 102.9M32.6 131.9L32.2 131.5M43.2 118.5L44.1 117.9M46.4 72.1L46.5 71.5M42.2 68.7L41.9 68.0M36.2 131.1L36.3 130.6M48.4 104.3L48.5 104.5M32.3 112.7L31.8 112.4M46.7 109.0L46.0 109.2M48.0 127.1L48.4 128.3M40.6 107.4L41.5 107.5M43.6 105.7L43.8 106.0M47.5 79.8L48.1 79.6M31.0 75.1L30.2 74.9M29.0 103.6L29.8 103.8M37.4 119.2L37.4 118.9M33.4 77.0L33.3 77.1M53.5 72.9L53.5 73.1M39.3 112.6L38.8 112.7M44.5 84.5L44.8 84.8M31.9 105.0L32.5 105.3M36.1 123.7L35.7 123.6M35.9 128.6L36.2 128.7M31.0 108.1L29.7 107.6M36.9 98.3L36.7 98.5M41.1 120.5L41.2 120.5M34.0 117.9L33.9 117.8M29.7 107.6L29.6 109.0M52.2 96.0L52.3 95.5M53.6 91.0L53.0 90.6M38.7 127.1L38.8 127.2M56.7 118.7L57.1 119.2M34.3 129.0L35.2 129.3M39.0 125.0L39.1 124.4M38.4 81.2L37.9 81.5M35.8 112.2L36.0 112.7M56.3 101.4L56.8 101.5M31.8 112.4L31.7 112.3M54.6 118.5L54.4 118.7M28.9 87.7L28.7 87.8M51.1 113.5L50.9 113.4M55.8 127.3L57.0 126.6M51.1 112.2L51.5 112.6M40.4 70.0L39.5 69.5M51.2 97.6L50.7 97.3M53.3 76.0L53.5 75.9M53.7 110.7L53.2 109.7M53.7 114.1L54.1 113.4M41.2 101.5L41.1 101.2M31.4 83.2L31.4 83.2M45.4 79.2L45.1 78.9M38.9 110.3L38.9 109.6M46.0 126.4L45.7 126.1M41.8 103.6L41.1 103.7M40.7 117.0L40.7 116.9M45.9 128.9L46.6 129.5M32.4 75.1L32.7 75.6M37.4 107.8L37.0 107.8M47.5 79.8L47.0 80.5M36.5 105.8L36.4 106.4M35.6 121.9L36.2 121.9M33.0 118.9L31.7 118.8M32.7 114.5L33.0 114.3M50.9 129.7L51.1 129.4M54.8 68.7L54.5 68.8M48.0 127.1L47.6 127.2M50.7 97.3L50.7 97.1M51.2 85.8L50.2 85.9M52.6 94.2L51.7 94.0M56.2 69.1L56.5 69.0M45.4 75.8L45.4 75.8M51.6 131.5L50.6 131.2M42.2 122.0L42.7 122.6M35.5 68.6L35.3 69.1M51.7 94.0L51.7 94.3M31.7 112.3L31.0 111.5M55.0 72.6L54.5 72.7M45.5 89.9L46.2 90.1M29.4 71.6L29.8 72.0M29.7 87.6L29.9 87.4M37.8 102.4L37.5 102.6M46.8 123.0L46.4 123.2M52.7 79.1L53.2 78.5M46.5 125.0L46.6 125.0M36.4 107.2L35.8 106.9M57.0 109.7L57.0 109.0M49.5 87.9L48.8 87.7M57.0 123.0L57.1 122.0M37.5 87.1L37.9 87.1M30.2 98.1L29.0 98.8M53.3 119.0L53.7 118.9M32.4 83.9L32.9 83.1M33.5 83.8L33.2 84.3M34.5 77.8L34.4 78.1M44.1 128.1L44.5 127.4M52.6 108.4L53.2 108.1M37.7 126.7L37.7 127.1M34.8 69.5L34.7 69.7M34.3 120.0L34.8 119.3M48.8 87.7L48.7 87.7M35.4 109.7L34.9 109.2M43.0 119.9L43.3 119.5M41.2 71.6L41.4 72.7M31.0 82.0L30.6 82.4M43.2 113.5L43.7 114.3M43.5 68.7L44.6 67.8M55.9 96.6L56.0 97.4M44.1 80.3L44.1 79.9M35.3 81.1L35.6 81.3M46.0 126.4L46.0 127.1M36.8 89.9L36.2 90.2M37.0 69.4L36.9 69.1M30.7 119.8L29.5 119.0M56.5 69.0L56.7 70.0M30.6 97.1L30.8 97.0M37.7 84.3L37.4 83.5M53.6 80.9L53.6 79.9M33.8 127.3L34.2 126.9M46.1 111.9L46.5 112.4M48.0 69.3L47.8 68.9M56.5 69.0L56.7 69.1M35.9 98.6L35.1 98.5M52.5 130.1L52.7 129.8M29.2 75.8L28.9 76.3M28.9 76.3L29.1 76.2M55.0 72.6L54.9 72.8M44.1 79.9L44.1 80.0M29.6 85.1L28.8 85.6M36.1 102.9L36.1 103.0M54.1 102.3L53.7 102.1M44.4 85.4L43.9 85.6M33.6 99.5L33.8 98.8M39.8 126.6L39.9 126.6M34.8 69.5L34.6 68.9M29.7 87.6L30.1 88.1M33.0 93.0L34.4 93.3M54.1 116.0L53.9 115.2M46.0 121.0L45.7 122.0M54.1 71.5L53.9 71.5M48.2 75.4L48.4 75.8M40.0 92.8L40.4 92.9M36.4 70.5L36.4 70.1M33.6 114.4L34.2 113.7M55.8 127.3L56.1 127.1M29.8 103.8L29.3 104.7M34.4 101.5L34.1 101.5M44.3 77.2L43.9 77.9M31.1 98.4L31.1 98.9M30.3 121.8L30.1 122.6M54.5 68.8L54.1 68.2M51.5 122.7L51.6 122.5M29.3 104.7L29.8 105.9M43.0 78.7L42.3 78.7M52.7 104.4L52.1 104.5M52.0 128.2L52.0 128.8M56.2 110.3L56.5 110.9M53.9 71.5L53.7 71.4M37.9 98.4L38.3 98.5M43.6 91.5L43.3 91.4M51.3 105.1L52.1 105.6M53.0 96.3L52.9 96.4M56.0 91.1L55.7 90.7M56.5 103.0L57.0 104.3M39.1 108.8L39.5 108.1M31.7 112.3L31.7 112.5M45.7 120.5L45.8 120.3M30.7 95.7L30.8 94.8M45.7 71.4L45.5 71.2M51.0 126.9L50.5 126.5M47.0 117.1L46.6 117.6M56.0 97.4L55.7 97.2M43.8 125.7L43.3 125.7M47.7 86.0L48.1 85.4M46.6 117.6L45.5 117.8M53.0 75.3L52.9 75.8M32.3 112.7L33.4 112.5M48.7 116.1L49.2 115.3M42.8 92.1L42.7 92.5M56.4 83.4L56.2 84.0M36.9 69.1L36.9 68.8M31.0 108.1L31.0 108.4M47.6 82.1L47.7 81.6M50.2 78.7L49.9 78.4M39.1 108.8L39.3 109.2M50.7 97.1L50.9 97.0M52.0 98.1L51.8 98.3M48.1 121.9L47.7 122.1M45.1 104.1L44.8 104.3M56.2 69.1L55.4 69.4M29.2 69.8L29.2 69.6M37.5 102.6L37.5 102.6M46.1 111.9L46.4 112.1M29.2 126.3L29.1 124.9M35.3 130.6L35.4 131.0M38.7 122.6L38.6 122.9M49.4 69.4L49.1 68.7M43.9 93.2L43.3 93.1M56.7 83.0L57.2 82.5M40.6 78.2L40.0 78.7M28.9 102.7L28.8 102.7M46.6 78.1L46.4 77.9M51.9 81.4L52.7 81.8M54.7 110.8L55.5 111.6M56.0 95.7L56.5 96.1M52.8 107.1L52.7 107.1M49.7 94.2L49.2 94.3M43.9 85.6L43.3 85.1M37.7 128.1L38.3 128.2M30.8 121.7L30.9 122.0M49.9 78.4L50.2 77.9M41.3 122.2L41.0 122.2M43.8 100.2L43.2 100.7M43.0 78.7L43.1 78.5M56.4 115.8L57.1 116.5M36.8 89.9L36.8 90.1M48.9 124.5L48.9 124.5M44.9 85.9L44.5 86.1M39.2 103.4L38.9 103.1M54.1 113.4L54.1 113.6M35.5 68.6L35.1 68.5M48.1 85.4L47.5 84.6M53.2 78.5L53.8 77.8M57.1 119.2L57.2 120.0M36.3 68.1L35.9 68.2M51.6 74.9L52.2 74.5M33.0 93.0L33.0 92.5M34.3 72.3L33.6 73.4M43.6 110.2L44.4 110.3M51.3 71.5L51.2 71.0M30.2 98.1L30.1 98.3M49.3 80.8L49.9 80.9M46.0 74.7L45.7 74.5M53.6 123.7L54.4 124.8M56.1 92.5L55.5 92.8M31.0 121.0L31.0 121.1M41.7 90.4L41.3 90.2M41.4 113.3L40.9 113.9M48.9 95.3L49.5 95.9M35.1 76.6L36.3 77.1M30.2 130.6L30.1 130.6M56.7 70.0L56.5 71.4M44.9 131.1L45.7 131.3M44.9 131.1L45.2 131.2M32.7 114.5L32.8 114.6M53.0 75.3L52.8 74.8M34.3 129.0L34.5 129.6M34.7 107.5L35.3 107.8M54.1 113.6L54.8 114.1M49.9 87.2L50.8 86.9M53.3 76.0L53.0 76.3M40.0 98.3L40.1 99.4M49.4 69.4L48.8 69.4M30.5 91.9L30.8 91.5M32.9 127.5L33.1 127.1M41.7 105.8L41.4 106.0M40.6 123.9L40.9 123.8M55.8 127.3L55.2 126.5M31.0 108.1L30.9 107.5M50.9 127.6L50.9 127.7M44.3 98.5L44.6 98.2M32.7 67.9L33.7 67.7M28.8 85.6L29.3 85.6M49.2 94.3L49.3 93.7M44.4 85.4L44.2 85.1M56.1 127.1L56.6 127.9M38.0 92.7L36.6 92.6M31.4 92.7L31.6 93.2M35.6 115.3L35.6 115.1M38.0 113.0L37.6 112.4M28.8 113.7L29.4 113.8M47.7 86.0L46.9 86.3M50.6 123.9L50.8 124.1M54.1 113.4L54.6 113.0M41.4 106.0L41.2 105.7M50.4 88.8L50.5 88.0M53.7 118.9L54.0 119.0M49.3 116.8L48.6 117.2M30.2 120.9L30.1 120.8M41.7 112.6L41.4 112.4M47.3 95.0L47.3 95.1M50.6 123.9L49.8 123.7M56.9 68.4L57.2 68.4M54.6 118.5L54.9 118.3M45.5 117.8L45.7 117.4M38.6 94.0L38.6 93.9M30.4 128.8L29.8 128.4M50.6 100.4L51.8 101.2M46.0 121.0L46.2 121.5M33.4 104.6L33.4 104.8M50.0 105.1L49.4 105.6M56.2 84.0L56.7 84.1M48.6 117.2L48.1 118.5M40.2 128.9L39.8 129.2M40.5 77.3L40.5 76.9M33.0 93.0L33.5 93.1M56.6 127.9L57.0 127.5M54.7 110.8L54.5 110.9M42.4 109.9L43.1 109.5M45.8 130.3L46.0 130.1M40.0 92.8L39.9 93.0M49.5 120.8L49.6 120.2M50.2 77.9L49.9 77.7M47.5 84.6L46.8 84.9M37.4 83.5L36.5 84.0M29.1 75.6L28.9 75.1M48.8 120.2L47.9 119.7M32.1 129.7L31.7 129.6M41.6 119.5L42.0 118.8M29.8 72.0L29.8 72.5M52.6 73.1L52.0 73.6M30.4 110.6L29.7 110.5M30.8 94.8L29.9 94.5M52.2 74.5L52.0 74.7M52.7 126.9L52.8 127.2M56.2 107.2L56.6 107.7M51.4 77.5L52.2 77.7M44.9 124.8L45.1 124.9M53.2 78.5L53.5 78.5M52.4 93.4L52.4 93.4M43.3 119.5L43.3 119.7M48.1 88.1L47.8 88.7M54.1 128.6L53.2 128.5M51.2 71.0L51.8 70.5M29.3 104.7L29.1 105.1M30.6 73.0L31.5 72.9M54.0 70.1L53.6 70.3M37.5 87.1L36.7 87.3M54.7 129.9L55.4 129.6M51.2 97.6L51.2 97.4M31.8 130.7L32.0 130.7M34.9 109.2L35.0 109.5M50.6 100.4L51.0 100.8M54.1 128.6L54.1 129.1M39.3 113.4L39.1 113.9M30.7 95.7L31.3 95.6M48.1 85.4L47.9 85.3M39.3 116.8L39.3 117.2M34.3 129.0L34.7 128.0M32.7 82.2L32.7 81.9M46.2 82.2L46.3 82.4M53.0 90.6L52.7 90.8M32.8 111.0L32.3 111.3M40.5 108.8L40.9 108.3M32.6 71.0L31.8 70.7M37.1 100.7L37.1 101.1M34.7 80.5L34.3 80.9M52.7 81.8L52.6 83.2M38.5 124.9L38.6 124.6M56.8 118.4L57.3 118.1M33.9 117.8L32.7 117.6M30.7 119.8L31.2 119.9M36.3 81.3L36.5 81.6"/>
<path fill="none" stroke="#12ad45" stroke-width="0.55" stroke-linecap="round" d="M67.5 37.4L66.3 37.7M67.5 37.4L71.5 37.3M67.5 37.4L67.7 37.9M66.3 37.7L62.3 37.6M71.5 37.3L70.7 39.0M62.3 37.6L58.4 36.6M58.4 36.6L57.3 39.1M71.5 37.3L72.3 34.9"/>
<path fill="none" stroke="#12ad45" stroke-width="0.55" stroke-linecap="round" d="M142.5 37.4L140.3 38.3M142.5 37.4L146.5 36.9M140.3 38.3L136.3 38.1M136.3 38.1L132.3 38.4M146.5 36.9L150.5 37.2M146.5 36.9L147.4 38.3M132.3 38.4L128.3 38.1M128.3 38.1L124.3 38.5M124.3 38.5L120.3 38.7M120.3 38.7L116.3 38.6M128.3 38.1L128.6 36.9M150.5 37.2L154.5 36.8M116.3 38.6L112.3 39.0M142.5 37.4L143.3 35.2M154.5 36.8L158.5 37.2M112.3 39.0L109.6 37.0M109.6 37.0L111.5 36.4M154.5 36.8L152.8 35.6M158.5 37.2L159.2 35.0M116.3 38.6L114.6 39.1M132.3 38.4L134.0 37.0M150.5 37.2L150.7 37.3M134.0 37.0L132.7 34.9"/>
<path fill="none" stroke="#12ad45" stroke-width="0.55" stroke-linecap="round" d="M223.0 37.4L219.6 38.2M223.0 37.4L226.1 39.1M219.6 38.2L217.3 35.9M217.3 35.9L216.6 35.9M226.1 39.1L227.1 35.8"/>
<path fill="none" stroke="#12ad45" stroke-width="0.47" stroke-linecap="round" d="M78.0 69.8L76.4 69.8M76.4 69.8L74.8 69.6M74.8 69.6L74.0 70.7M74.0 70.7L72.4 70.7M72.4 70.7L70.8 70.5M70.8 70.5L70.8 68.9M78.0 69.8L79.6 69.6M79.6 69.6L81.2 70.0M70.8 70.5L69.3 71.1M81.2 70.0L82.8 70.1M69.3 71.1L67.8 70.9M82.8 70.1L83.5 68.7M67.8 70.9L66.7 69.7M67.8 70.9L67.4 71.5M70.8 68.9L71.3 69.4M82.8 70.1L83.7 71.5M70.8 68.9L69.6 67.8M83.7 71.5L85.3 71.5M85.3 71.5L86.8 71.1M66.7 69.7L66.4 68.1M70.8 68.9L69.4 69.6M66.7 69.7L65.1 69.9M86.8 71.1L87.3 69.5M87.3 69.5L88.9 69.6M88.9 69.6L90.5 69.6M90.5 69.6L91.0 69.5M82.8 70.1L83.0 69.8M65.1 69.9L63.6 69.5M66.7 69.7L66.2 69.3M72.4 70.7L72.2 70.0M83.5 68.7L85.0 69.2M69.4 69.6L70.1 69.9M91.0 69.5L92.6 70.0M85.3 71.5L84.8 71.6M66.4 68.1L66.0 67.5M63.6 69.5L62.2 68.8M62.2 68.8L60.6 69.2M92.6 70.0L93.9 69.1M85.3 71.5L86.2 72.4M88.9 69.6L89.5 68.1M83.5 68.7L84.1 68.4M66.0 67.5L64.5 67.1M79.6 69.6L79.3 71.2M60.6 69.2L60.6 67.8M71.3 69.4L72.3 68.1M76.4 69.8L76.4 71.1M76.4 69.8L76.3 68.2M60.6 67.8L59.0 67.9M85.3 71.5L85.4 72.3M76.3 68.2L77.8 67.6M66.2 69.3L65.5 69.3M60.6 67.8L60.8 67.6M76.4 71.1L75.1 71.8M67.4 71.5L66.5 72.0M93.9 69.1L94.5 69.4M66.0 67.5L65.9 68.0M85.3 71.5L85.4 71.7M93.9 69.1L93.9 68.1M76.3 68.2L75.0 67.2M69.6 67.8L69.4 68.6M60.8 67.6L61.4 67.3M94.5 69.4L96.1 69.2M78.0 69.8L78.0 70.0M76.4 69.8L76.8 70.3M78.0 69.8L78.1 69.7M60.6 69.2L59.6 70.4M85.3 71.5L85.4 71.1M70.1 69.9L69.8 69.6M92.6 70.0L91.5 71.1M59.0 67.9L58.3 68.8M63.6 69.5L63.5 71.0M74.8 69.6L73.7 69.2M65.5 69.3L65.8 69.5M86.8 71.1L87.6 70.6M65.5 69.3L65.8 69.2M84.1 68.4L83.4 67.2M93.9 68.1L95.2 67.3M83.4 67.2L83.5 67.8M96.1 69.2L97.3 70.2M65.8 69.5L65.8 69.8M91.5 71.1L93.0 71.7M85.4 71.1L85.2 70.6M87.6 70.6L88.5 71.9M78.0 70.0L78.6 70.5M91.0 69.5L91.1 69.9M65.8 69.8L65.6 70.3M70.8 70.5L71.4 71.0M88.5 71.9L88.9 72.2M60.8 67.6L60.8 67.0M97.3 70.2L97.0 71.1M97.3 70.2L98.7 71.0M96.1 69.2L97.4 68.2M63.5 71.0L64.2 70.5M89.5 68.1L89.4 67.6M97.4 68.2L97.7 68.2M65.1 69.9L65.0 69.4M64.5 67.1L64.0 67.4M59.0 67.9L59.5 67.1M63.5 71.0L62.6 70.8M91.5 71.1L90.3 71.4M74.0 70.7L74.4 71.3M62.6 70.8L61.3 71.8M75.0 67.2L74.0 67.6M72.3 68.1L72.9 68.0M88.9 69.6L88.7 69.1M58.3 68.8L56.9 68.1M61.3 71.8L59.8 72.3M74.4 71.3L74.1 71.4M83.0 69.8L82.1 69.3"/>
<path fill="none" stroke="#12ad45" stroke-width="0.47" stroke-linecap="round" d="M70.0 102.7L70.5 104.2M70.5 104.2L72.1 103.8M72.1 103.8L73.7 103.8M73.7 103.8L74.1 102.2M70.0 102.7L68.4 102.6M74.1 102.2L75.6 101.7M70.0 102.7L70.0 101.6M75.6 101.7L76.9 102.7M68.4 102.6L67.8 104.1M67.8 104.1L66.2 104.1M76.9 102.7L78.3 102.0M76.9 102.7L75.8 103.0M78.3 102.0L79.8 101.6M70.5 104.2L71.1 104.8M74.1 102.2L73.9 101.6M66.2 104.1L64.6 104.3M70.5 104.2L69.4 105.3M64.6 104.3L63.0 104.3M76.9 102.7L77.9 104.0M63.0 104.3L61.5 103.8M61.5 103.8L59.9 103.9M66.2 104.1L65.9 105.2M66.2 104.1L66.5 104.2M79.8 101.6L80.3 101.2M71.1 104.8L71.6 105.2M70.0 101.6L70.8 101.9M63.0 104.3L63.5 104.2M61.5 103.8L61.4 103.2M72.1 103.8L71.6 102.9M59.9 103.9L59.6 103.5M80.3 101.2L81.7 101.7M65.9 105.2L65.3 104.9M70.8 101.9L72.2 101.4M59.6 103.5L58.0 103.8M66.2 104.1L65.8 102.6M63.5 104.2L63.6 103.4M75.6 101.7L76.4 101.6M58.0 103.8L58.1 105.3M81.7 101.7L81.5 100.1M72.1 103.8L71.8 103.7M67.8 104.1L67.3 103.9M81.7 101.7L82.7 102.9M65.8 102.6L66.7 101.3M63.6 103.4L63.3 101.8M59.6 103.5L59.3 102.0M79.8 101.6L79.6 102.9M77.9 104.0L78.5 105.0M78.3 102.0L78.6 100.4M81.5 100.1L81.9 100.4M77.9 104.0L77.6 104.5M74.1 102.2L74.4 102.1M59.3 102.0L58.3 100.7M73.9 101.6L73.8 101.2M70.8 101.9L70.9 101.4M59.3 102.0L60.6 101.5M76.9 102.7L76.3 102.6M65.8 102.6L67.0 102.6M71.6 102.9L71.5 102.7M69.4 105.3L68.5 105.2"/>
<path fill="none" stroke="#12ad45" stroke-width="0.55" stroke-linecap="round" d="M145.0 69.8L140.8 69.9M145.0 69.8L149.2 70.5M140.8 69.9L136.6 69.6M149.2 70.5L153.4 70.5M136.6 69.6L132.4 70.1M136.6 69.6L134.7 71.4M132.4 70.1L128.2 69.8M153.4 70.5L157.6 70.3M128.2 69.8L124.1 70.8M157.6 70.3L158.2 67.8M149.2 70.5L150.1 70.8M124.1 70.8L119.9 70.8M119.9 70.8L115.7 70.1M115.7 70.1L111.5 69.4M158.2 67.8L162.4 67.9M162.4 67.9L166.6 68.1M157.6 70.3L155.8 72.0M162.4 67.9L163.7 67.5M153.4 70.5L153.9 70.6M111.5 69.4L113.1 67.4M166.6 68.1L170.8 68.6M115.7 70.1L114.4 69.5M115.7 70.1L116.8 71.5M145.0 69.8L145.0 67.5M170.8 68.6L174.9 67.8M124.1 70.8L123.1 67.1M170.8 68.6L169.0 67.6M145.0 67.5L147.6 67.4M145.0 69.8L143.0 70.9"/>
<path fill="none" stroke="#12ad45" stroke-width="0.55" stroke-linecap="round" d="M137.5 102.7L141.7 102.4M141.7 102.4L145.9 102.1M145.9 102.1L150.1 101.9M150.1 101.9L154.3 102.2M154.3 102.2L158.5 102.7M137.5 102.7L133.3 102.5M158.5 102.7L161.4 101.4M133.3 102.5L129.1 102.3M161.4 101.4L165.6 102.2M165.6 102.2L169.7 101.5M169.7 101.5L173.9 101.8M129.1 102.3L124.9 102.3M129.1 102.3L128.3 100.3M145.9 102.1L144.9 101.9M145.9 102.1L145.5 105.0M154.3 102.2L154.2 102.1M173.9 101.8L177.5 104.1M137.5 102.7L136.4 105.1M124.9 102.3L120.6 102.1M120.6 102.1L116.5 102.7M158.5 102.7L159.4 103.9M116.5 102.7L113.0 102.6M177.5 104.1L180.7 101.5M113.0 102.6L108.8 102.1M133.3 102.5L133.9 104.5M144.9 101.9L143.8 102.1M137.5 102.7L137.7 100.9M180.7 101.5L184.9 101.7M108.8 102.1L107.1 101.6M173.9 101.8L174.9 101.7M184.9 101.7L184.1 101.7M128.3 100.3L130.8 100.3M184.1 101.7L184.4 104.3"/>
<polyline fill="none" stroke="#12ad45" stroke-width="0.6" stroke-linejoin="round" stroke-linecap="round" points="56.9,8.4 56.9,11.2 57.0,14.4 56.9,17.3 57.0,21.1 56.8,24.6 56.9,28.3"/>
<polyline fill="none" stroke="#12ad45" stroke-width="0.6" stroke-linejoin="round" stroke-linecap="round" points="57.0,50.6 56.9,53.3 56.9,56.7 56.8,61.0 57.0,63.1 56.9,66.4"/>
<polyline fill="none" stroke="#12ad45" stroke-width="0.6" stroke-linejoin="round" stroke-linecap="round" points="56.8,73.4 57.0,75.7 56.9,79.9 56.9,82.8 56.9,86.6 56.9,89.1 56.9,92.0"/>
<polyline fill="none" stroke="#12ad45" stroke-width="0.6" stroke-linejoin="round" stroke-linecap="round" points="69.9,8.4 69.9,11.0 69.9,15.5 69.9,18.0 69.8,21.0 70.0,25.8 70.0,27.9 69.9,30.9"/>
<polyline fill="none" stroke="#12ad45" stroke-width="0.6" stroke-linejoin="round" stroke-linecap="round" points="70.0,47.2 69.9,50.6 69.8,54.4 69.9,57.9 69.7,62.3 69.7,65.2 69.9,66.4"/>
<polyline fill="none" stroke="#12ad45" stroke-width="0.6" stroke-linejoin="round" stroke-linecap="round" points="69.9,81.1 69.7,83.5 69.8,86.6 69.9,91.1 69.9,94.9 69.7,98.9 69.9,99.4"/>
<polyline fill="none" stroke="#12ad45" stroke-width="0.6" stroke-linejoin="round" stroke-linecap="round" points="69.9,114.1 69.8,118.6 69.7,121.3 69.9,124.0 69.9,126.4 69.8,129.0 69.9,131.9"/>
<polyline fill="none" stroke="#12ad45" stroke-width="0.6" stroke-linejoin="round" stroke-linecap="round" points="82.9,73.4 82.9,78.4 83.1,80.8 83.1,83.8 83.1,86.5 83.0,89.4 83.1,94.2 83.0,98.3"/>
<polyline fill="none" stroke="#12ad45" stroke-width="0.6" stroke-linejoin="round" stroke-linecap="round" points="96.1,75.9 96.2,80.6 96.1,84.8 96.3,88.3 96.3,91.9 96.1,96.5 96.2,98.5 96.2,99.4"/>
<polyline fill="none" stroke="#12ad45" stroke-width="0.6" stroke-linejoin="round" stroke-linecap="round" points="96.3,106.1 96.2,108.9 96.3,113.6 96.2,116.2 96.2,120.0 96.2,124.9 96.2,127.0"/>
<polyline fill="none" stroke="#12ad45" stroke-width="0.6" stroke-linejoin="round" stroke-linecap="round" points="109.1,18.6 109.4,21.4 109.1,25.4 109.3,28.5 109.1,31.8 109.2,34.2"/>
<polyline fill="none" stroke="#12ad45" stroke-width="0.6" stroke-linejoin="round" stroke-linecap="round" points="109.1,43.5 109.3,48.2 109.2,52.3 109.3,55.4 109.3,59.1 109.3,63.1 109.2,66.4"/>
<polyline fill="none" stroke="#12ad45" stroke-width="0.6" stroke-linejoin="round" stroke-linecap="round" points="121.8,46.6 121.8,51.0 122.0,54.7 122.0,57.9 121.9,62.1 121.9,66.0 121.9,66.4"/>
<polyline fill="none" stroke="#12ad45" stroke-width="0.6" stroke-linejoin="round" stroke-linecap="round" points="122.0,73.4 122.0,76.9 122.0,80.1 122.0,82.5 121.8,85.8 121.9,88.8 121.9,90.9 121.8,93.0 121.8,95.5 122.0,98.3 121.9,99.0"/>
<polyline fill="none" stroke="#12ad45" stroke-width="0.6" stroke-linejoin="round" stroke-linecap="round" points="121.9,106.1 122.0,110.2 122.0,113.8 122.0,118.0 121.8,120.1 121.9,125.0"/>
<polyline fill="none" stroke="#12ad45" stroke-width="0.6" stroke-linejoin="round" stroke-linecap="round" points="134.7,73.4 134.5,76.1 134.5,80.8 134.4,84.3 134.7,89.2 134.4,91.7 134.5,95.1 134.5,98.1"/>
<polyline fill="none" stroke="#12ad45" stroke-width="0.6" stroke-linejoin="round" stroke-linecap="round" points="147.2,8.4 147.4,10.8 147.3,13.3 147.3,17.1 147.2,20.3 147.1,23.5 147.1,26.5 147.2,30.8 147.2,31.9"/>
<polyline fill="none" stroke="#12ad45" stroke-width="0.6" stroke-linejoin="round" stroke-linecap="round" points="147.3,80.4 147.2,83.4 147.3,86.5 147.2,90.6 147.3,95.5 147.2,98.5 147.2,99.4"/>
<polyline fill="none" stroke="#12ad45" stroke-width="0.6" stroke-linejoin="round" stroke-linecap="round" points="147.2,111.9 147.2,115.3 147.2,118.8 147.1,121.4 147.3,124.1 147.2,126.2 147.2,129.5 147.2,131.9"/>
<polyline fill="none" stroke="#12ad45" stroke-width="0.6" stroke-linejoin="round" stroke-linecap="round" points="180.4,9.5 180.4,13.2 180.3,16.3 180.4,21.0 180.3,23.8 180.4,26.0 180.4,28.1 180.5,33.0 180.4,34.2"/>
<polyline fill="none" stroke="#12ad45" stroke-width="0.6" stroke-linejoin="round" stroke-linecap="round" points="180.4,80.0 180.4,83.8 180.4,88.7 180.4,93.1 180.5,96.5 180.4,99.4"/>
<polyline fill="none" stroke="#12ad45" stroke-width="0.6" stroke-linejoin="round" stroke-linecap="round" points="221.6,8.4 221.5,11.1 221.5,14.0 221.5,16.2 221.4,19.1 221.7,23.6 221.6,26.0 221.5,29.6 221.5,31.2"/>
<polyline fill="none" stroke="#12ad45" stroke-width="0.6" stroke-linejoin="round" stroke-linecap="round" points="28.9,41.4 28.9,67.4"/>
<polyline fill="none" stroke="#ee1c1c" stroke-width="0.9" stroke-linejoin="round" stroke-linecap="round" points="39.7,122.3 44.9,117.4 50.4,114.6 54.2,111.4 54.7,108.1 53.4,105.4 55.3,102.9 61.3,102.9 66.7,102.4 72.2,103.2 79.8,101.0 86.3,101.8 92.9,102.6 100.3,100.6 108.0,100.2 108.8,68.4 115.7,68.0 147.1,67.2 147.0,37.6 158.0,38.4 165.7,38.0 171.8,36.4 181.0,35.3 214.8,34.8 221.0,34.7 221.0,24.3"/>
<rect x="37.8" y="120.4" width="3.8" height="3.8" fill="#1c1cc4"/><circle cx="221.0" cy="24.3" r="1.6" fill="#1c1cc4"/>
<path fill="none" stroke="#1cb04c" stroke-width="0.47" stroke-linecap="round" d="M329.0 122.7L330.3 123.2M329.0 122.7L328.8 121.4M330.3 123.2L331.4 122.5M328.8 121.4L329.1 120.0M329.1 120.0L329.8 118.8M329.8 118.8L329.9 117.5M329.9 117.5L330.0 116.1M331.4 122.5L332.2 123.6M330.0 116.1L331.0 115.3M331.0 115.3L331.1 113.9M331.1 113.9L330.7 112.6M330.7 112.6L330.8 111.2M330.3 123.2L329.9 124.6M330.8 111.2L331.3 110.0M331.3 110.0L331.1 108.6M331.1 108.6L331.0 107.3M329.9 124.6L330.4 125.8M331.0 107.3L331.3 105.9M332.2 123.6L333.5 123.2M333.5 123.2L334.7 124.0M334.7 124.0L335.8 123.1M330.4 125.8L330.0 127.1M331.3 105.9L331.9 104.7M331.1 113.9L332.4 114.0M331.9 104.7L331.8 103.4M330.0 127.1L331.2 127.8M333.5 123.2L332.9 122.3M329.9 124.6L328.9 125.5M331.8 103.4L333.1 102.8M331.2 127.8L332.6 127.9M333.1 102.8L334.3 102.1M331.8 103.4L331.3 102.1M334.3 102.1L334.5 100.8M334.5 100.8L335.3 99.7M335.3 99.7L336.1 98.6M332.4 114.0L333.8 114.0M333.1 102.8L333.0 101.4M334.3 102.1L335.1 103.2M336.1 98.6L335.5 97.4M332.6 127.9L333.2 129.1M335.5 97.4L335.6 96.0M333.8 114.0L335.1 114.2M335.6 96.0L336.2 94.8M336.2 94.8L336.4 93.5M336.4 93.5L336.6 92.1M328.9 125.5L327.5 125.4M331.3 102.1L329.9 102.1M336.6 92.1L337.4 91.0M327.5 125.4L326.2 125.4M331.0 115.3L330.7 114.6M329.9 102.1L329.0 101.1M330.7 112.6L329.4 112.4M326.2 125.4L325.2 126.4M329.4 112.4L328.1 112.8M336.6 92.1L335.3 91.5M337.4 91.0L337.8 89.7M328.1 112.8L326.7 112.9M337.8 89.7L337.3 88.5M337.3 88.5L338.2 87.4M329.0 101.1L328.1 100.1M335.1 114.2L335.8 115.4M328.1 100.1L327.4 98.9M327.4 98.9L326.1 98.5M335.8 115.4L337.1 115.6M337.1 115.6L338.4 115.9M338.4 115.9L339.7 115.4M338.2 87.4L337.2 86.5M337.3 88.5L337.5 88.0M326.1 98.5L324.8 98.1M337.2 86.5L337.9 85.3M336.4 93.5L335.3 93.1M337.9 85.3L337.2 84.1M337.9 85.3L339.2 85.2M336.2 94.8L336.0 94.9M324.8 98.1L323.8 99.0M337.2 84.1L336.2 83.2M336.2 83.2L334.9 82.8M326.7 112.9L325.6 112.1M333.2 129.1L333.2 130.5M333.2 130.5L334.5 130.7M324.8 98.1L325.1 96.7M331.0 107.3L329.6 107.0M335.8 123.1L336.1 121.8M339.2 85.2L338.9 84.0M331.3 102.1L330.7 102.0M334.9 82.8L333.9 81.9M333.9 81.9L333.3 80.7M338.9 84.0L339.4 83.0M333.3 80.7L331.9 80.5M331.9 80.5L330.6 80.7M335.5 97.4L334.2 97.7M325.6 112.1L326.4 111.0M325.2 126.4L324.6 127.3M339.7 115.4L341.1 115.4M330.7 102.0L331.0 101.0M333.3 80.7L333.5 79.4M330.7 102.0L330.5 101.9M330.6 80.7L329.7 79.7M337.8 89.7L339.1 90.2M333.2 129.1L333.4 128.2M337.2 86.5L336.1 86.2M339.1 90.2L340.4 90.5M325.6 112.1L324.2 112.2M325.1 96.7L324.6 95.5M341.1 115.4L341.6 114.2M323.8 99.0L322.6 98.5M331.0 101.0L330.5 99.7M329.6 107.0L328.3 106.8M324.6 95.5L324.1 94.2M330.0 127.1L329.5 128.4M324.2 112.2L323.4 113.3M328.3 106.8L327.0 106.3M330.5 99.7L330.0 98.4M340.4 90.5L340.3 91.9M329.7 79.7L328.5 79.0M325.2 126.4L324.0 125.6M334.5 130.7L335.9 130.8M333.5 79.4L334.1 78.1M338.4 115.9L338.0 117.2M336.1 98.6L337.3 99.2M330.0 98.4L329.0 97.5M339.2 85.2L340.6 85.0M334.2 97.7L333.7 98.7M341.1 115.4L342.0 116.4M342.0 116.4L342.7 117.6M328.5 79.0L327.9 80.2M333.9 81.9L333.2 83.1M330.7 112.6L330.8 112.1M341.6 114.2L342.1 112.9M334.1 78.1L335.3 77.4M329.5 128.4L329.3 129.8M324.1 94.2L322.8 94.6M328.5 79.0L327.4 78.2M335.9 130.8L337.2 131.1M335.3 77.4L336.2 76.5M327.9 80.2L327.4 81.5M335.1 114.2L336.2 113.4M331.3 102.1L331.1 101.8M323.8 99.0L323.2 100.2M342.7 117.6L344.0 117.4M323.2 100.2L322.0 100.9M338.9 84.0L339.1 84.1M340.3 91.9L341.1 93.0M336.4 93.5L337.8 93.7M344.0 117.4L345.2 118.0M335.3 77.4L335.0 76.6M335.0 76.6L334.4 75.4M334.7 124.0L335.4 125.2M323.2 100.2L323.7 100.9M335.3 93.1L334.0 93.5M337.2 131.1L338.2 130.1M337.3 99.2L338.6 98.5M340.4 90.5L341.7 90.2M342.1 112.9L341.2 111.9M335.8 123.1L337.1 123.3M327.0 106.3L326.0 107.2M330.8 111.2L330.1 111.3M342.1 112.9L343.2 112.0M322.6 98.5L321.2 98.3M337.1 123.3L338.0 124.4M336.1 121.8L337.2 121.2M324.6 127.3L323.3 127.8M341.2 111.9L340.7 110.7M338.0 124.4L339.3 124.7M324.0 125.6L323.3 124.5M339.4 83.0L339.9 81.8M340.7 110.7L340.5 109.3M323.3 124.5L323.5 123.1M326.0 107.2L324.7 107.4M333.2 83.1L331.9 83.5M334.2 97.7L334.8 98.0M323.3 127.8L323.7 129.1M327.4 78.2L326.7 77.0M332.9 122.3L332.5 122.6M338.0 117.2L337.5 117.2M330.8 112.1L332.1 111.9M327.4 81.5L327.7 82.8M334.4 75.4L334.1 74.0M323.4 113.3L322.6 114.4M322.6 114.4L323.1 115.7M341.1 93.0L341.1 93.9M337.2 121.2L337.7 120.0M339.9 81.8L340.6 80.6M324.1 94.2L323.5 93.0M331.9 83.5L331.9 84.9M322.0 100.9L321.0 101.8M341.7 90.2L343.1 90.5M334.0 93.5L334.0 92.4M330.4 125.8L331.2 124.9M326.4 111.0L327.4 110.1M333.1 102.8L332.4 102.8M340.6 80.6L341.2 79.4M340.6 85.0L341.4 86.1M337.7 120.0L337.1 119.9M337.8 93.7L337.3 93.1M341.2 79.4L341.6 78.0M336.4 93.5L336.7 93.0M333.5 123.2L333.8 123.6M340.5 109.3L341.5 108.8M327.7 82.8L327.3 82.5M331.9 83.5L331.7 82.4M329.3 129.8L328.0 130.2M323.5 123.1L322.5 122.2M334.0 92.4L332.7 92.1M326.7 77.0L327.0 75.7M333.5 79.4L332.4 78.6M331.9 84.9L331.3 86.1M339.3 124.7L340.4 125.5M331.3 110.0L331.2 109.5M343.1 90.5L344.1 89.6M327.3 82.5L326.0 82.5M324.2 112.2L323.9 112.1M332.7 92.1L331.4 91.5M339.9 81.8L341.2 82.3M341.5 108.8L341.8 109.1M328.8 121.4L330.0 121.7M328.9 125.5L328.3 125.4M338.6 98.5L339.9 98.9M338.2 130.1L338.4 130.1M339.7 115.4L339.9 116.7M340.4 125.5L341.3 126.5M338.4 130.1L339.3 131.1M326.0 107.2L326.8 108.3M337.4 91.0L337.8 91.4M329.7 79.7L329.9 78.6M344.1 89.6L345.4 90.2M332.6 127.9L332.3 126.6M323.7 129.1L323.8 130.5M327.0 75.7L326.2 74.6M331.4 91.5L330.1 91.2M341.3 126.5L342.6 126.2M341.1 93.9L340.7 95.2M334.9 82.8L334.1 82.7M341.1 93.0L342.5 92.9M327.4 110.1L326.7 109.4M323.5 93.0L323.3 91.6M341.6 78.0L342.4 77.0M326.0 82.5L324.8 81.9M324.6 95.5L325.7 94.9M323.3 91.6L324.4 90.8M326.0 82.5L325.6 82.9M337.3 88.5L336.2 89.3M329.9 117.5L329.2 118.0M326.2 74.6L324.9 75.0M340.7 95.2L342.1 95.4M342.4 77.0L341.3 76.1M333.5 123.2L333.6 123.2M329.2 118.0L328.2 118.1M336.4 93.5L336.1 93.2M345.4 90.2L346.1 91.3M331.1 108.6L332.1 108.2M329.0 122.7L327.6 122.7M335.1 103.2L335.4 104.6M334.5 130.7L334.1 132.0M345.2 118.0L345.7 119.3M332.7 92.1L332.1 93.3M334.1 74.0L333.9 72.7M323.8 130.5L322.9 131.5M323.7 129.1L322.4 129.3M338.4 130.1L338.2 128.7M323.3 91.6L322.6 90.5M341.3 76.1L341.4 74.7M322.6 90.5L321.5 90.3M324.9 75.0L324.0 76.0M336.2 76.5L336.8 75.2M343.2 112.0L344.4 111.4M322.4 129.3L321.4 128.3M326.1 98.5L325.4 99.0M335.0 76.6L334.6 76.2M333.9 72.7L333.3 71.5M324.6 127.3L324.2 128.1M339.9 98.9L340.7 100.0M338.0 124.4L338.2 125.2M323.2 100.2L322.5 99.7M324.0 76.0L322.9 75.2M324.8 81.9L323.5 81.5M323.5 81.5L322.1 81.4M329.6 107.0L329.4 108.4M342.6 126.2L343.3 127.1M340.7 100.0L339.5 100.5M342.4 77.0L343.7 77.4M322.5 122.2L321.5 121.4M336.2 83.2L336.4 81.9M331.3 86.1L330.0 86.5M332.1 93.3L331.4 94.5M329.1 120.0L329.9 120.0M341.5 108.8L341.6 107.4M331.3 86.1L332.1 85.9M339.3 131.1L340.2 132.1M325.6 112.1L325.2 113.4M340.7 110.7L339.4 110.7M321.0 101.8L320.1 102.8M323.5 81.5L324.1 80.3M332.1 108.2L333.3 108.8M337.1 115.6L336.5 116.3M338.6 98.5L338.8 98.6M321.5 121.4L320.8 120.2M340.4 125.5L341.1 124.3M333.3 71.5L334.3 70.7M324.9 75.0L324.1 74.2M335.1 103.2L336.5 103.2M323.8 130.5L323.8 130.5M343.3 127.1L344.6 127.0M332.1 85.9L331.8 86.4M323.5 123.1L324.3 122.0M339.2 85.2L338.7 85.4M341.6 107.4L342.6 106.5M331.4 94.5L330.4 94.6M338.8 98.6L339.2 97.3M336.8 75.2L337.5 75.1M338.7 85.4L338.7 85.1M341.2 82.3L342.5 81.9M329.0 101.1L328.3 102.3M329.9 102.1L329.8 101.9M342.5 81.9L343.6 81.2M341.2 111.9L340.8 113.1M342.1 95.4L341.3 96.5M331.4 91.5L331.6 90.2M331.9 83.5L332.1 83.9M323.8 99.0L324.0 98.6M324.0 98.6L324.0 98.2M336.1 86.2L335.2 87.3M324.7 107.4L323.4 107.2M343.6 81.2L343.3 81.8M336.2 113.4L336.2 112.0M343.2 112.0L344.0 112.3M327.4 81.5L327.3 80.8M341.4 86.1L342.5 86.8M321.4 128.3L320.6 127.2M324.4 90.8L324.3 89.4M327.7 82.8L327.7 84.0M339.1 90.2L339.4 89.8M331.4 94.5L331.2 94.9M341.4 74.7L341.6 73.4M334.6 76.2L335.2 75.7M323.4 107.2L322.8 107.3M333.3 71.5L331.9 71.4M333.4 128.2L334.8 127.9M337.3 99.2L337.1 99.9M341.3 126.5L341.6 127.8M324.3 89.4L323.6 88.3M344.6 127.0L345.6 127.9M325.2 113.4L324.3 113.8M342.6 106.5L343.7 106.3M339.5 100.5L338.8 101.7M324.8 81.9L325.2 81.1M323.9 112.1L322.6 111.8M322.8 107.3L322.4 108.3M330.4 94.6L329.8 95.8M346.1 91.3L346.4 92.7M332.7 92.1L332.2 92.2M324.8 81.9L324.7 81.9M332.9 122.3L333.8 121.3M322.4 129.3L321.1 129.8M334.3 70.7L335.7 70.6M337.8 93.7L338.9 93.7M334.1 74.0L333.3 73.7M333.0 101.4L333.2 101.5M342.6 106.5L341.5 105.8M338.4 115.9L338.8 115.8M324.1 74.2L324.3 72.8M334.4 75.4L333.0 75.5M323.6 88.3L322.5 88.4M333.3 108.8L334.0 107.9M338.2 130.1L337.1 129.7M320.1 102.8L321.1 103.8M322.6 111.8L321.2 111.6M333.0 75.5L331.8 76.0M327.4 110.1L327.4 110.9M333.2 130.5L332.1 129.8M330.1 91.2L329.2 90.2M343.7 106.3L344.8 107.1M320.8 120.2L321.5 119.1M329.3 129.8L328.9 130.0M337.1 119.9L336.8 120.5M340.7 100.0L342.1 100.3M341.6 73.4L342.6 72.4M327.6 122.7L328.3 122.7M321.2 111.6L319.9 111.6M344.0 112.3L345.2 113.1M342.6 72.4L343.4 72.1M334.0 107.9L334.1 107.5M331.2 94.9L331.0 94.9M341.6 78.0L341.3 77.8M321.1 103.8L320.5 105.0M345.7 119.3L346.0 120.6M337.2 86.5L337.9 86.6M343.4 72.1L344.0 70.9M324.3 122.0L324.9 120.8M342.5 92.9L343.7 93.5M343.4 72.1L344.1 73.2M335.7 70.6L335.7 71.5M324.1 80.3L325.2 79.6M322.8 94.6L321.4 94.4M332.1 85.9L332.9 85.7M335.7 70.6L337.0 70.5M333.2 101.5L333.4 102.1M330.0 127.1L330.1 127.8M322.8 94.6L322.1 95.4M331.4 91.5L331.7 91.8M344.8 107.1L345.7 106.0M334.2 97.7L333.5 96.5M332.1 129.8L331.1 130.2M341.8 109.1L341.5 110.0M323.4 107.2L323.1 106.5M322.6 90.5L322.1 90.3M319.9 111.6L319.4 112.9M344.8 107.1L345.7 108.1M334.9 82.8L334.9 83.6M330.0 98.4L331.2 97.9M331.9 84.9L330.7 84.9M323.1 115.7L324.2 116.5M346.0 120.6L346.0 121.6M337.0 70.5L336.6 69.2M327.6 122.7L327.2 122.8M345.7 106.0L346.1 104.7M336.2 112.0L335.0 112.6M325.2 113.4L325.6 114.3M329.0 122.7L329.0 123.3M332.1 111.9L331.8 111.1M334.3 102.1L334.5 102.5M332.1 129.8L331.8 130.3M340.7 95.2L340.3 94.9M332.3 126.6L333.0 126.7M340.7 110.7L340.0 110.4M344.1 73.2L345.2 74.0M334.0 107.9L335.3 108.3M331.8 130.3L331.6 131.0M346.4 92.7L346.4 92.9M337.5 117.2L336.3 117.9M337.8 91.4L338.6 91.1M341.7 90.2L341.5 90.2M322.6 111.8L322.7 111.2M337.8 93.7L337.2 94.1M334.1 132.0L332.9 132.6M341.1 93.9L341.8 94.0M346.1 104.7L344.8 104.9M331.3 110.0L330.1 110.0M341.3 126.5L341.1 126.6M339.4 110.7L338.1 111.2M331.9 71.4L330.9 70.5M331.8 76.0L331.6 74.7M346.1 91.3L345.7 91.1M335.8 115.4L335.9 115.7M323.5 123.1L323.6 122.4M326.2 74.6L327.0 73.5M336.1 93.2L335.8 93.7M342.1 95.4L343.3 95.9M324.3 72.8L323.5 71.7M321.2 98.3L320.2 99.1M337.0 70.5L338.4 70.4M327.4 98.9L328.0 98.8M345.6 127.9L345.2 129.2M341.8 109.1L343.1 109.3M334.9 82.8L335.1 81.8M335.3 77.4L336.1 78.0M327.2 122.8L327.2 122.2M335.8 115.4L334.9 115.3M332.1 85.9L331.9 85.6M331.9 104.7L333.0 105.1M324.3 122.0L325.2 123.0M343.7 77.4L344.9 78.0M324.9 120.8L325.4 120.9M339.9 81.8L339.3 81.9M334.9 82.8L335.4 82.8M343.7 106.3L343.4 106.0M334.1 78.1L333.2 77.7M330.0 98.4L330.2 98.4M328.5 79.0L328.9 78.9M324.3 113.8L324.2 113.5M346.0 121.6L345.3 122.8M337.1 119.9L336.2 119.6M322.1 81.4L322.3 80.9M336.6 69.2L337.5 68.3M321.5 119.1L320.9 118.8M324.1 80.3L324.1 79.3M330.3 123.2L329.9 122.6M320.6 127.2L319.6 126.2M327.0 106.3L327.3 104.9M331.6 74.7L332.1 75.1M344.9 78.0L346.1 78.6M341.3 126.5L341.7 125.4M331.6 131.0L331.6 130.8M322.9 75.2L321.7 75.9M331.9 71.4L332.4 71.9M342.1 100.3L341.8 101.6M341.4 86.1L341.5 86.0M319.6 126.2L319.2 126.2M324.1 94.2L324.5 94.7M323.1 106.5L322.1 106.0M331.9 80.5L331.9 80.1M321.5 90.3L320.3 89.7M341.3 77.8L341.1 77.2M324.7 107.4L325.0 108.1M336.8 120.5L336.8 120.5M337.1 123.3L337.1 123.5M323.3 127.8L322.9 128.3M321.7 75.9L320.5 75.4M321.5 119.1L321.4 118.5M333.4 128.2L333.0 128.2M345.2 129.2L346.3 130.0M336.2 89.3L336.2 90.3M345.2 118.0L345.7 116.8M323.7 100.9L323.9 102.2M323.5 71.7L322.4 70.8M337.1 115.6L336.9 114.8M344.0 117.4L343.3 117.1M323.1 115.7L322.4 116.0M345.2 113.1L346.3 112.3M331.8 86.4L332.3 86.6M322.4 108.3L321.1 108.5M345.2 74.0L346.2 74.6M342.6 126.2L342.2 126.7M329.0 123.3L328.6 123.2M323.6 88.3L323.0 87.0M335.4 125.2L334.8 125.5M333.9 72.7L333.9 72.9M344.8 104.9L345.3 105.0M341.2 82.3L341.0 82.3M327.0 73.5L328.1 73.0M324.6 95.5L323.8 96.0M330.1 110.0L330.3 110.6M341.7 90.2L342.5 89.2M344.4 111.4L345.2 110.4M328.5 79.0L328.4 79.3M345.2 110.4L346.1 110.6M319.4 112.9L319.7 112.5M329.8 95.8L329.4 95.0M341.0 82.3L340.6 81.8M328.3 102.3L327.0 102.7M344.1 73.2L344.6 72.7M341.6 114.2L342.6 114.9M322.7 111.2L323.6 111.0M336.2 113.4L336.4 114.2M335.2 87.3L334.0 87.8M333.2 83.1L333.0 82.8M331.4 94.5L331.6 94.0M322.1 81.4L321.5 82.4M329.4 95.0L328.7 93.8M334.9 115.3L334.7 116.6M327.0 102.7L326.1 103.7M327.7 82.8L328.2 82.0M322.9 131.5L322.5 130.8M345.3 122.8L345.4 122.2M324.0 76.0L323.4 77.0M323.0 87.0L321.6 87.0M330.9 70.5L330.8 69.1M330.7 112.6L330.6 112.8M341.2 79.4L342.5 79.6M320.8 120.2L319.5 120.0M330.0 86.5L329.5 87.8M323.0 87.0L322.9 85.7M325.6 82.9L326.1 84.1M323.9 102.2L325.0 101.5M342.5 86.8L341.9 87.5M330.5 99.7L330.5 99.1M342.7 117.6L342.8 117.9M346.1 78.6L346.9 78.5M341.5 86.0L341.7 86.6M334.5 102.5L335.1 102.0M335.2 87.3L335.1 88.4M322.4 70.8L321.8 69.7M344.6 127.0L345.3 125.9M332.4 71.9L331.7 72.9M342.1 100.3L342.7 100.3M331.2 109.5L332.0 109.5M323.5 81.5L323.0 81.5M342.0 116.4L342.0 115.8M346.4 92.9L346.6 94.3M345.3 125.9L346.5 126.1M333.0 126.7L333.1 126.3M323.5 71.7L323.1 71.7M341.3 76.1L342.0 76.4M334.7 116.6L333.5 116.0M339.3 81.9L338.1 81.6M338.4 70.4L339.7 70.1M334.8 125.5L334.7 126.7M334.0 87.8L334.2 87.1M345.7 116.8L346.7 115.8M341.3 126.5L341.3 126.6M345.3 105.0L345.5 105.1M342.1 100.3L342.3 100.3M326.1 84.1L325.8 85.4M323.5 71.7L324.4 70.6M336.4 93.5L336.4 93.6M344.0 70.9L344.8 70.4M341.2 79.4L341.1 79.9M329.5 87.8L328.4 86.9M346.1 110.6L346.1 109.9M332.4 78.6L332.0 79.2M320.3 89.7L319.9 91.1M346.6 94.3L346.6 95.7M338.2 125.2L338.0 125.5M320.3 89.7L319.8 88.4M331.7 82.4L330.5 82.0M329.4 112.4L329.5 112.3M323.4 113.3L322.3 113.1M327.4 110.9L327.0 110.7M324.9 120.8L323.9 119.9M329.9 122.6L330.6 122.3M345.7 106.0L346.4 105.6M319.9 91.1L319.1 91.3M346.1 110.6L346.7 110.3M339.9 98.9L340.4 98.6M345.6 127.9L345.6 127.3M335.4 104.6L336.0 105.8M321.8 69.7L321.6 68.3M324.3 113.8L324.4 114.9M342.8 117.9L342.9 118.2M344.8 70.4L344.2 69.1M321.5 82.4L320.4 83.2M320.5 105.0L319.3 105.7M345.6 127.3L345.3 126.7M321.2 111.6L321.5 111.1M338.1 111.2L337.8 110.7M330.5 82.0L330.3 82.7M344.6 127.0L344.1 127.1M338.8 101.7L339.1 103.0M320.4 83.2L319.8 84.4M325.6 82.9L325.4 83.1M324.2 112.2L324.7 111.4M336.1 78.0L337.4 78.4M344.2 69.1L344.4 67.8M346.4 105.6L346.1 105.7M337.2 86.5L337.1 85.7M338.2 125.2L338.4 125.3M324.0 76.0L324.4 75.7M341.2 82.3L341.2 83.5M322.5 99.7L321.5 99.7M323.5 81.5L323.8 81.2M327.0 73.5L326.6 72.6M341.5 105.8L342.1 104.6M337.2 86.5L337.3 86.4M340.2 132.1L340.8 130.9M344.8 70.4L346.1 70.1M327.0 73.5L327.4 72.9M331.8 111.1L332.2 110.7M336.2 90.3L336.0 90.5M345.7 108.1L346.3 108.5M346.6 95.7L347.3 95.3M337.5 75.1L337.1 73.8M333.3 108.8L333.9 110.0M325.0 108.1L325.2 108.5M322.6 98.5L322.3 97.7M336.1 98.6L336.0 98.9M324.1 79.3L322.8 79.6M330.1 110.0L329.3 110.3M330.6 80.7L331.0 80.3M328.4 86.9L328.2 87.5M322.1 106.0L322.4 106.1M331.6 90.2L332.0 88.9M319.2 126.2L318.6 127.4M320.5 75.4L319.7 74.6M328.2 118.1L327.3 119.1M345.2 118.0L345.5 117.5M324.3 122.0L324.4 122.8M319.7 74.6L319.4 74.4M321.1 103.8L321.7 104.4M335.3 108.3L335.6 108.6M345.7 116.8L345.8 117.0M341.3 77.8L340.1 78.4M345.6 127.9L344.8 128.1M342.6 72.4L342.4 72.3M338.8 101.7L339.1 101.5M332.9 85.7L334.0 84.8M337.7 120.0L339.0 120.2M341.7 86.6L340.7 87.1M341.6 73.4L340.3 72.9M337.5 68.3L338.1 69.0M319.4 74.4L318.6 73.9M337.2 131.1L337.3 132.4M332.0 109.5L332.0 109.8M335.8 123.1L335.4 122.9M346.0 121.6L346.5 121.4M328.1 73.0L328.0 71.8M342.5 86.8L343.6 86.0M341.1 124.3L340.4 124.5M322.8 79.6L323.3 79.9M330.3 123.2L330.7 123.1M340.2 132.1L341.5 132.5M326.8 108.3L326.3 108.4M343.7 93.5L343.7 92.1M335.1 81.8L335.4 81.9M343.3 95.9L343.2 96.4M332.2 110.7L332.5 110.6M328.8 121.4L327.7 121.0M331.2 94.9L331.7 95.5M339.4 110.7L339.4 111.3M338.4 125.3L339.0 125.2M341.8 94.0L341.8 94.1M338.0 124.4L337.1 124.4M319.9 111.6L320.0 110.8M334.0 93.5L333.7 93.8M321.6 87.0L321.9 86.1M340.4 125.5L340.1 125.8M345.8 117.0L347.0 117.1M345.4 122.2L344.1 121.9M323.4 113.3L323.2 112.9M343.3 117.1L343.6 117.0M326.7 112.9L326.4 113.5M329.8 95.8L329.7 95.7M339.4 111.3L339.6 111.9M322.4 108.3L322.4 109.6M322.1 81.4L320.8 81.0M341.6 127.8L342.3 127.7M327.3 119.1L326.2 118.2M323.2 100.2L323.7 100.1M328.1 73.0L328.5 72.6M331.8 103.4L331.0 103.7M344.1 73.2L343.0 73.8M324.4 70.6L325.2 69.5M325.8 85.4L324.6 84.8M341.6 127.8L342.0 129.1M325.4 99.0L324.7 99.0M333.7 98.7L333.6 99.6M346.3 130.0L346.2 130.2M321.4 94.4L320.1 94.2M333.9 110.0L333.7 110.2M333.8 121.3L333.8 121.5M321.2 98.3L321.3 97.6M341.6 78.0L342.4 78.3M323.4 107.2L323.5 108.0M321.7 104.4L322.5 103.4M322.8 79.6L322.0 79.4M327.3 119.1L328.1 119.0M335.3 108.3L336.1 107.4M336.4 93.5L336.6 93.4M346.4 105.6L346.7 106.6M335.7 71.5L336.6 71.4M326.0 107.2L325.7 105.9M345.2 113.1L346.1 113.8M319.5 120.0L320.0 120.7M324.7 107.4L324.6 106.6M324.4 70.6L324.0 71.1M340.7 100.0L340.8 99.3M336.2 113.4L335.9 113.8M336.0 94.9L335.6 94.7M328.3 102.3L327.7 102.2M326.1 84.1L325.5 84.4M341.7 90.2L341.9 89.7M339.6 111.9L339.3 112.2M329.9 120.0L331.2 119.5M330.8 69.1L329.7 68.4M343.3 117.1L343.0 116.8M338.2 128.7L339.5 128.3M329.7 95.7L330.2 95.3M335.4 125.2L336.1 125.0M326.2 118.2L326.6 117.4M343.6 86.0L344.7 85.1M320.5 75.4L319.7 76.5M336.4 81.9L337.1 81.3M345.2 74.0L345.9 73.1M344.1 89.6L344.3 90.5M345.4 90.2L345.0 89.5M321.2 111.6L321.6 111.9M328.0 130.2L327.1 129.5M341.2 83.5L342.2 84.0M331.8 103.4L332.6 103.6M340.6 85.0L340.8 84.5M335.1 102.0L334.8 101.5M335.4 104.6L335.4 103.9M331.7 91.8L330.9 92.7M331.6 131.0L330.7 132.1M333.3 73.7L333.5 74.1M329.9 117.5L329.8 117.9M337.1 73.8L337.9 72.7M331.2 97.9L330.4 97.0M342.2 84.0L342.9 84.8M346.0 121.6L344.9 121.1M320.2 99.1L319.1 100.0M333.3 108.8L333.8 108.9M343.6 81.2L344.1 80.4M344.4 67.8L343.0 67.6M342.2 84.0L342.5 84.4M320.0 120.7L319.2 121.0M346.7 110.3L346.5 110.7M341.1 93.0L340.9 93.4M326.4 111.0L325.6 111.2M342.5 84.4L341.8 84.8M330.7 84.9L329.3 85.0M326.2 125.4L326.1 124.6M321.6 68.3L320.2 68.4M323.9 119.9L323.8 119.2M334.7 116.6L334.9 117.3M338.0 125.5L338.6 126.0M336.6 69.2L335.4 68.4M321.4 94.4L321.4 94.4M321.6 87.0L321.9 87.6M328.0 130.2L327.2 131.3M346.3 112.3L346.3 111.7M330.4 94.6L330.6 94.4M321.3 97.6L320.5 97.1M322.5 103.4L322.6 102.4M341.8 94.0L342.0 93.6M339.0 120.2L338.9 121.1M343.3 95.9L344.6 95.5M325.2 126.4L325.3 126.1M332.9 85.7L332.9 85.1M338.0 124.4L338.2 124.4M346.4 92.7L346.9 92.0M326.1 84.1L326.1 83.6M327.4 81.5L327.1 81.4M345.7 108.1L345.0 109.1M319.4 74.4L319.9 73.2M323.8 130.5L323.8 131.4M327.7 121.0L328.3 120.6M325.2 79.6L324.9 80.0M345.9 73.1L345.7 72.0M333.4 102.1L332.9 102.2M328.2 118.1L328.2 117.3M343.3 81.8L343.1 82.2M327.4 98.9L327.2 99.3M332.0 109.5L332.3 109.0M341.5 90.2L340.8 89.5M346.6 95.7L345.9 96.8M320.1 94.2L319.3 95.0M333.5 79.4L333.8 79.1M343.7 106.3L343.9 106.6M332.9 85.7L333.5 85.9M322.9 85.7L322.3 85.3M336.2 112.0L337.0 112.4M338.1 69.0L338.2 69.1M340.8 113.1L340.9 113.2M338.8 101.7L338.2 101.7M342.0 129.1L342.7 130.3M335.6 96.0L335.3 95.7M333.8 121.3L334.1 120.2M338.0 117.2L338.0 118.6M327.0 106.3L327.4 107.0M325.7 105.9L325.3 105.4M320.1 102.8L318.9 102.5M339.5 128.3L339.5 127.5M331.2 124.9L332.5 125.0M325.2 69.5L324.5 68.3M335.1 88.4L334.5 89.6M329.6 107.0L329.9 106.8M340.4 124.5L340.3 124.3M327.3 104.9L327.8 105.7M337.0 112.4L336.6 112.5M334.8 98.0L335.3 97.9M343.0 67.6L341.8 68.3M341.3 77.8L341.2 78.1M323.9 112.1L323.7 111.6M331.6 90.2L331.6 89.7M321.8 69.7L320.7 70.4M327.0 73.5L326.2 73.4M338.1 81.6L338.6 80.3M329.4 95.0L329.4 95.0M338.9 121.1L338.8 121.3M337.1 81.3L336.7 81.4M321.7 104.4L322.4 104.2M330.0 116.1L329.0 115.2M325.2 113.4L324.7 112.9M329.3 85.0L328.8 85.6M324.2 116.5L323.7 117.1M333.1 102.8L333.0 103.1M341.8 68.3L342.5 68.8M334.5 89.6L334.2 88.8M325.2 123.0L325.5 122.1M325.7 94.9L325.5 94.2M331.8 76.0L331.0 76.2M329.7 68.4L328.5 67.8M333.3 108.8L332.9 108.7M328.0 130.2L328.0 131.0M321.7 75.9L321.5 76.9M335.0 112.6L333.8 112.4M336.6 69.2L335.6 69.4M330.5 99.7L330.2 99.7M329.9 117.5L329.6 117.6M340.3 72.9L340.0 72.7M332.4 114.0L331.9 113.3M340.7 110.7L341.2 111.1M346.7 115.8L346.7 116.2M329.9 122.6L329.8 122.5M336.1 107.4L336.1 106.7M334.9 117.3L335.6 117.0M339.2 97.3L338.9 97.4M340.7 95.2L341.2 95.0M339.5 127.5L339.9 127.8M334.6 76.2L333.8 76.8M344.1 80.4L344.6 81.1M324.4 70.6L324.5 70.0M330.6 94.4L330.6 93.6M342.4 78.3L342.1 78.4M329.2 118.0L329.3 118.2M319.3 95.0L319.1 94.4M321.4 118.5L322.7 118.2M327.0 75.7L327.1 76.4M322.3 80.9L321.7 80.9M337.5 75.1L338.8 74.7M320.4 83.2L319.6 82.9M319.4 112.9L319.5 114.3M339.1 103.0L340.3 102.4M328.5 67.8L328.2 69.1M339.4 83.0L339.1 83.1M334.1 132.0L334.3 132.7M325.6 112.1L325.4 112.7M331.3 102.1L331.1 102.5M331.1 113.9L330.1 113.7M334.3 70.7L333.7 69.5M342.5 81.9L342.1 82.8M328.0 98.8L328.6 98.8M335.6 117.0L335.6 117.3M323.3 91.6L322.1 92.3M336.1 98.6L336.4 98.3M325.4 120.9L325.5 119.9M346.1 109.9L346.3 109.9M333.8 76.8L333.9 77.3M331.2 119.5L332.3 119.2M329.0 97.5L328.0 96.6M331.8 86.4L331.4 87.5M336.1 86.2L336.3 86.7M345.3 122.8L345.1 122.7M328.0 71.8L327.3 71.4M319.2 121.0L319.1 121.1M331.6 74.7L330.7 75.0M320.9 118.8L319.8 118.9M324.2 128.1L324.4 128.2M329.4 108.4L328.8 108.7M329.3 110.3L328.5 110.5M322.3 85.3L322.5 84.8M322.4 70.8L322.0 71.2M334.3 132.7L334.7 132.9M319.2 126.2L318.6 125.4M326.7 77.0L326.7 77.6M319.9 91.1L319.3 90.2M321.5 99.7L320.9 99.9M332.4 78.6L331.7 78.1M343.7 106.3L344.0 105.8M341.0 82.3L340.4 83.0M339.3 112.2L339.3 113.2M341.2 79.4L340.8 79.3M345.9 96.8L345.9 97.3M321.4 128.3L320.8 128.3M327.5 125.4L327.3 126.5M324.0 71.1L324.4 71.8M333.0 103.1L333.3 103.5M337.8 110.7L337.9 109.6M329.2 118.0L328.9 117.5M333.8 76.8L333.3 76.6M336.0 90.5L335.3 90.4M333.9 77.3L334.2 77.5M325.5 84.4L325.7 84.6M337.5 68.3L337.6 68.5M330.6 93.6L330.5 93.7M343.0 73.8L343.6 75.0M333.8 121.3L333.3 120.9M331.1 130.2L330.2 130.5M325.4 99.0L325.8 99.9M325.8 85.4L327.2 85.7M320.9 118.8L320.5 118.6M337.1 123.3L337.3 122.6M332.0 79.2L332.2 79.1M337.1 129.7L337.5 129.1M334.0 84.8L334.5 84.5M333.8 123.6L333.6 123.7M341.8 109.1L342.1 108.7M339.7 70.1L339.9 69.1M321.6 68.3L322.4 67.7M330.5 99.7L331.5 99.5M319.1 121.1L318.9 121.5M334.9 115.3L334.3 115.6M347.0 117.1L346.4 117.8M340.5 109.3L340.0 109.4M334.9 117.3L333.7 118.0M340.7 87.1L341.1 86.8M342.0 76.4L341.7 76.9M333.4 128.2L333.8 128.2M325.2 126.4L324.7 126.2M333.5 116.0L332.4 115.5M322.4 70.8L322.8 70.4M325.7 105.9L325.7 106.6M344.8 104.9L344.2 104.5M334.0 92.4L333.5 92.2M332.4 114.0L332.9 114.4M343.1 90.5L343.5 90.0M337.8 89.7L337.9 90.0M325.2 69.5L325.8 70.6M329.6 107.0L330.1 107.5M333.5 96.5L333.2 96.8M341.3 96.5L340.7 97.1M339.1 103.0L338.4 103.9M345.0 89.5L345.9 89.1M329.9 117.5L331.2 118.0M327.3 119.1L327.0 119.8M327.4 78.2L327.8 77.2M335.4 104.6L334.2 104.3M327.2 85.7L327.3 85.1M345.9 97.3L346.4 98.6M338.9 93.7L339.0 94.9M333.5 85.9L334.3 86.0M323.6 122.4L323.3 122.4M338.2 87.4L338.1 87.2M331.0 103.7L330.2 104.2M321.1 108.5L320.3 107.9M346.3 112.3L347.2 112.5M332.1 75.1L331.9 75.0M333.0 105.1L334.0 105.6M338.6 126.0L338.6 125.7M326.2 73.4L326.2 74.0M346.1 104.7L346.3 103.4M343.9 106.6L344.1 107.2M344.8 107.1L344.5 107.0M340.0 109.4L339.4 109.1M345.8 117.0L346.0 116.9M346.6 94.3L346.6 94.6M324.1 80.3L324.4 80.4M331.8 103.4L331.6 104.0M338.6 98.5L338.4 97.9M346.6 94.3L346.3 93.9M318.9 102.5L318.7 102.1M337.2 84.1L337.4 83.1M340.6 80.6L339.9 80.0M344.6 95.5L344.6 96.6M345.7 108.1L346.0 107.8M339.9 80.0L339.4 80.6M341.5 132.5L342.8 132.7M322.4 106.1L322.8 105.5M324.0 125.6L323.1 125.5M343.3 127.1L343.4 127.6M341.1 93.0L340.6 92.8M337.0 70.5L336.7 70.9M321.1 103.8L321.5 103.9M340.7 87.1L339.9 86.5M320.7 70.4L319.4 70.1M329.2 90.2L328.4 91.2M345.2 113.1L344.6 112.9M344.0 117.4L343.9 117.2M338.0 117.2L338.7 117.7M324.2 116.5L324.8 117.4M335.6 108.6L335.2 109.8M333.2 96.8L332.8 96.7M342.9 118.2L342.9 119.5M323.3 124.5L324.0 124.1M334.3 70.7L334.0 71.1M341.7 125.4L341.3 125.5M331.0 94.9L331.0 95.5M325.2 79.6L326.3 79.9M333.5 96.5L333.9 96.1M337.8 110.7L337.3 110.7M323.8 119.2L324.0 118.2M331.6 94.0L331.5 94.1M323.5 108.0L323.8 107.6M338.0 118.6L338.1 119.0M341.7 90.2L342.2 90.2M334.0 107.9L334.2 107.8M329.7 68.4L329.7 67.6M339.5 127.5L339.5 126.8M332.6 127.9L332.1 128.3M319.3 105.7L319.9 105.8M330.1 110.0L329.9 109.5M329.0 115.2L328.9 114.8M324.6 84.8L324.3 86.0M330.4 94.6L330.3 94.8M331.1 130.2L330.5 129.7M333.3 103.5L333.3 104.3M322.6 102.4L322.1 102.3M340.8 113.1L340.4 113.7M346.7 106.6L346.1 106.6M328.9 125.5L329.2 124.9M346.2 130.2L346.7 131.4M321.6 111.9L321.8 111.9M322.5 84.8L323.0 84.7M341.3 125.5L340.9 125.1M335.1 88.4L335.5 88.3M332.3 86.6L332.5 87.5M326.3 79.9L326.1 80.6M345.2 129.2L345.9 129.0M323.5 123.1L323.8 123.3M339.7 115.4L340.1 115.2M325.0 101.5L325.8 102.3M341.6 114.2L342.0 113.6M344.8 70.4L345.4 70.7M328.4 91.2L328.0 91.6M330.7 132.1L330.4 132.5M346.0 121.6L346.4 122.3M338.0 118.6L337.4 118.5M343.3 81.8L343.0 81.2M337.3 132.4L336.6 132.4M323.8 96.0L323.2 96.6M329.0 123.3L329.1 123.8M331.8 76.0L331.8 76.2M329.3 110.3L329.3 110.0M333.7 69.5L334.2 68.8M341.5 86.0L342.0 85.9M320.3 107.9L319.5 108.5M336.1 107.4L337.5 107.4M321.6 68.3L321.1 68.4M339.5 100.5L339.4 100.8M319.3 105.7L318.8 104.4M321.2 98.3L320.9 98.4M339.3 81.9L339.0 82.0M330.7 114.6L330.2 114.8M326.3 108.4L326.4 108.3M319.5 114.3L320.1 113.8M324.6 95.5L325.3 95.7M346.4 117.8L347.2 118.7M323.9 119.9L323.8 120.0M330.2 99.7L329.9 99.9M326.7 77.6L326.5 78.5M346.4 92.9L347.0 92.9M324.9 120.8L324.4 120.3M321.4 94.4L321.5 94.4M321.8 69.7L321.8 69.3M346.4 98.6L346.9 99.5M336.2 76.5L337.3 76.8M328.0 71.8L329.0 70.9M343.0 67.6L342.8 67.5M346.2 130.2L345.6 130.9M324.3 86.0L324.2 86.1M324.5 68.3L323.6 68.7M332.9 102.2L332.2 101.9M342.7 100.3L343.6 99.4M323.8 96.0L323.5 95.5M323.6 68.7L323.1 69.2M329.8 122.5L329.6 122.3M322.5 130.8L321.3 131.5M342.8 132.7L342.8 133.1M335.2 87.3L335.6 87.5M341.1 77.2L340.7 76.9M332.9 122.3L333.5 122.3M333.7 118.0L334.0 117.8M323.3 124.5L323.6 124.3M322.5 88.4L322.8 89.1M334.8 127.9L335.6 128.0M322.3 85.3L321.9 85.6M341.2 83.5L340.8 83.4M329.9 78.6L329.8 79.0M347.2 118.7L347.1 119.3M330.4 132.5L329.4 133.1M344.1 89.6L344.1 88.3M320.1 113.8L320.6 114.6M337.2 84.1L336.8 84.6M319.8 84.4L319.0 85.5M345.2 113.1L345.4 112.3M337.0 112.4L337.8 113.3M326.2 125.4L326.2 125.5M332.1 128.3L332.1 128.6M336.2 112.0L336.1 112.3M342.8 132.7L343.6 132.2M338.4 130.1L339.1 129.8M329.5 87.8L330.4 88.0M324.4 90.8L325.6 91.4M344.1 88.3L344.3 88.7M326.2 73.4L325.5 73.0M339.5 128.3L339.2 129.0M331.0 76.2L330.7 77.2M340.3 124.3L340.5 123.4M330.2 98.4L330.2 98.4M329.9 102.1L329.2 102.6M337.5 129.1L337.5 128.5M328.0 131.0L328.1 131.0M335.5 97.4L336.2 97.5M342.1 82.8L342.8 82.9M334.8 127.9L334.3 127.6M341.1 124.3L342.5 124.2M333.9 110.0L333.8 109.9M340.8 83.4L341.0 83.3M346.0 120.6L346.3 120.2M332.1 108.2L332.5 106.9M344.4 67.8L345.7 67.9M326.2 125.5L326.4 125.3M320.1 113.8L319.8 113.4M327.7 82.8L327.1 83.2M319.0 85.5L319.9 85.9M329.3 110.3L329.0 110.4M341.6 107.4L341.9 106.8M322.6 102.4L322.9 101.8M344.6 81.1L345.1 82.4M339.0 82.0L338.6 81.6M327.0 102.7L327.2 103.1M341.8 101.6L342.5 102.8M322.8 105.5L324.0 105.2M320.6 114.6L320.0 115.7M334.5 89.6L334.6 89.2M336.2 90.3L336.6 90.7M332.5 106.9L332.7 106.0M341.2 79.4L341.6 79.7M346.4 122.3L346.3 123.4M324.2 128.1L323.9 127.5M325.2 123.0L326.2 123.2M324.0 124.1L324.6 124.3M344.2 104.5L343.4 104.2M338.0 117.2L338.1 117.2M336.2 89.3L336.8 89.3M341.1 126.6L340.7 127.0M333.6 123.7L333.9 124.1M329.0 97.5L328.9 96.8M337.5 88.0L338.1 88.1M342.9 119.5L341.5 119.8M324.1 94.2L324.4 93.6M342.7 100.3L343.8 101.2M319.2 121.0L319.5 120.7M324.0 98.2L323.7 98.1M344.0 117.4L344.6 117.8M339.9 69.1L340.0 68.1M326.2 74.6L325.6 74.6M345.1 82.4L346.3 81.6M322.6 114.4L323.1 114.4M341.6 114.2L341.0 114.6M333.1 126.3L333.8 126.1M335.6 69.4L335.8 69.5M342.8 67.5L342.6 67.4M346.4 105.6L347.2 105.6M336.2 83.2L336.6 82.8M343.1 90.5L343.4 91.0M335.7 70.6L335.1 70.9M337.3 122.6L337.9 123.0M336.8 120.5L336.2 120.7M335.4 103.9L334.9 103.9M342.5 79.6L342.5 79.3M329.9 120.0L329.8 120.4M339.9 127.8L339.8 127.5M339.4 111.3L339.5 111.6M336.4 81.9L336.9 82.0M341.5 119.8L341.0 121.1M325.6 91.4L325.1 91.9M331.0 115.3L330.9 115.8M320.5 75.4L320.6 75.2M345.2 118.0L345.1 118.1M329.9 78.6L330.2 78.1M319.7 76.5L318.6 77.1M344.6 72.7L344.1 72.6M342.5 79.3L343.0 78.9M341.2 82.3L341.6 82.1M338.7 117.7L338.8 118.2M333.2 83.1L333.4 83.0M333.2 83.1L332.8 83.2M345.9 97.3L346.5 97.6M335.1 88.4L335.0 88.3M331.2 127.8L331.0 126.8M344.1 121.9L344.1 122.1M346.7 131.4L346.0 132.6M319.0 85.5L318.9 86.2M321.5 121.4L321.1 122.7M323.8 120.0L322.6 119.7M324.1 80.3L324.0 80.3M327.3 126.5L327.8 126.4M325.2 79.6L325.6 79.6M340.8 84.5L341.1 84.2M334.8 98.0L335.2 98.7M339.5 100.5L338.9 99.8M324.9 75.0L325.0 75.6M342.5 81.9L342.7 82.0M325.3 105.4L325.8 105.4M345.7 91.1L345.8 91.1M329.2 90.2L327.9 89.8M331.2 127.8L331.6 127.8M335.1 103.2L335.1 103.5M327.9 89.8L327.5 89.6M331.2 119.5L331.5 120.5M344.9 121.1L344.5 121.2M324.4 128.2L324.7 129.1M327.5 89.6L327.2 88.7M331.7 72.9L332.1 73.7M333.2 130.5L333.4 129.9M321.3 131.5L321.8 131.3M330.3 82.7L330.3 83.7M333.9 72.9L334.1 73.4M328.2 118.1L328.1 117.7M326.6 117.4L327.1 116.1M326.6 117.4L326.6 117.0M338.4 103.9L339.1 105.1M331.7 82.4L331.8 82.0M322.0 100.9L321.4 101.0M328.6 123.2L328.4 123.1M322.0 71.2L321.8 72.5M327.2 103.1L328.1 103.4M339.4 109.1L339.8 109.0M325.5 73.0L325.8 72.2M337.5 75.1L337.7 74.7M341.5 108.8L341.1 108.5M344.6 96.6L344.5 96.1M332.0 109.5L331.7 109.5M321.1 122.7L321.5 123.6M335.0 112.6L335.6 112.9M319.9 85.9L320.4 85.7M322.5 88.4L322.8 88.6M329.5 128.4L329.5 128.8M331.9 104.7L332.0 104.4M330.6 94.4L330.6 94.4M319.9 111.6L320.4 112.1M331.9 80.5L332.5 80.6M340.0 68.1L340.2 68.3M343.4 104.2L344.0 102.9M342.7 100.3L342.6 100.2M322.6 98.5L322.3 98.9M326.1 103.7L324.7 103.5M319.4 112.9L318.7 112.7M342.1 104.6L341.4 104.3M329.4 112.4L328.6 111.9M330.2 130.5L329.8 131.3M344.5 96.1L344.6 95.8M341.2 83.5L341.7 83.3M345.4 112.3L345.3 111.4M319.5 108.5L318.6 109.6M329.3 110.0L329.4 110.0M321.5 90.3L321.8 89.9M345.5 105.1L345.6 104.9M333.8 112.4L333.1 111.8M321.7 75.9L321.8 76.1M330.1 91.2L330.1 90.6M331.8 103.4L332.0 103.5M320.4 85.7L320.8 86.1M342.0 116.4L342.0 116.7M337.0 70.5L336.7 70.3M337.9 72.7L337.6 73.2M324.6 84.8L324.5 83.8M346.1 91.3L347.0 90.3M327.0 73.5L327.4 73.5M331.2 119.5L330.5 119.4M329.4 95.0L328.4 95.0M321.5 76.9L321.8 77.5M321.1 122.7L321.6 122.3M343.6 99.4L343.0 98.2M335.3 93.1L335.0 93.0M338.6 81.6L338.4 82.0M329.0 115.2L328.5 115.2M329.4 133.1L328.4 133.1M329.7 67.6L331.0 67.2M332.5 125.0L332.5 124.7M323.8 96.0L323.6 96.3M334.8 125.5L334.5 125.5M319.5 114.3L318.9 114.8M320.6 114.6L320.8 114.0M345.0 109.1L345.6 109.2M319.0 85.5L319.1 85.4M332.3 126.6L332.1 126.7M330.3 83.7L331.0 83.4M339.7 115.4L340.0 115.8M346.3 108.5L346.9 108.1M340.4 125.5L340.6 125.5M324.5 70.0L324.0 69.5M342.1 108.7L342.1 108.5M344.1 122.1L343.6 123.1M322.3 85.3L322.0 85.1M343.4 104.2L343.0 103.9M340.7 127.0L341.2 127.3M319.6 82.9L318.9 83.6M321.5 82.4L320.6 82.1M330.1 127.8L329.7 127.9M324.7 99.0L324.7 99.6M331.1 130.2L330.8 130.3M337.8 93.7L338.0 94.4M322.0 85.1L321.0 84.7M321.8 131.3L322.0 132.7M326.5 78.5L327.0 78.8M318.6 77.1L319.3 77.3M335.3 99.7L335.7 100.2M334.9 115.3L335.3 114.9M324.6 106.6L324.0 106.7M334.7 132.9L335.4 132.0M330.5 82.0L330.4 81.5M325.6 114.3L325.0 114.1M341.7 86.6L341.7 86.8M342.0 129.1L342.3 128.9M328.5 72.6L329.5 73.3M344.7 85.1L345.2 83.8M347.0 92.9L347.1 93.3M332.8 96.7L332.9 96.9M319.9 91.1L320.6 90.7M320.9 99.9L321.0 99.3M322.8 107.3L321.7 107.4M333.8 128.2L334.0 128.2M342.1 108.5L342.1 107.9M340.9 93.4L341.4 93.4M342.1 108.5L341.9 108.3M341.7 125.4L342.4 125.1M338.6 126.0L337.8 127.0M318.6 127.4L318.8 128.8M333.0 101.4L332.5 100.5M324.3 89.4L325.1 88.3M335.3 90.4L334.5 90.9M319.3 90.2L318.7 89.7M322.0 132.7L323.1 133.0M320.6 114.6L321.1 114.9M341.5 132.5L340.5 133.4M339.7 115.4L339.7 115.4M337.8 127.0L336.5 126.6M342.7 100.3L342.8 100.6M346.4 105.6L346.4 105.2M330.0 86.5L330.3 86.4M336.5 103.2L336.4 103.8M327.4 98.9L327.4 98.4M329.9 124.6L330.5 124.9M322.0 71.2L322.0 71.8M333.0 103.1L333.0 103.3M320.5 97.1L319.3 96.6M322.0 79.4L322.2 79.8M340.2 68.3L340.8 68.2M324.7 99.6L324.4 99.4M342.9 119.5L342.2 119.0M333.0 101.4L333.3 100.9M342.5 102.8L341.8 102.9M341.3 96.5L341.1 96.2M321.4 128.3L322.0 128.2M324.0 105.2L324.6 104.9M337.1 99.9L338.0 99.9M329.0 70.9L329.0 71.0M331.7 72.9L331.1 72.2M333.9 96.1L334.0 96.5M320.6 90.7L320.5 90.9M331.9 84.9L331.3 85.1M344.7 85.1L345.5 86.2M320.7 70.4L320.6 69.4M319.3 95.0L320.3 95.7M319.3 96.6L319.2 96.9M345.2 83.8L345.1 84.2M339.1 103.0L338.8 102.6M323.8 96.0L323.5 96.0M319.3 96.6L319.0 96.1M320.6 75.2L321.4 74.7M331.7 91.8L331.7 91.8M323.4 77.0L323.8 77.3M327.2 131.3L326.6 131.0M345.5 86.2L346.2 87.3M319.1 100.0L319.2 99.1M343.1 82.2L344.1 83.0M347.3 95.3L347.1 94.9M325.8 72.2L326.2 72.1M327.0 102.7L326.6 102.4M328.0 91.6L326.9 92.4M338.9 99.8L339.3 100.1M319.9 73.2L320.8 72.9M343.0 78.9L343.3 78.5M329.5 112.3L329.8 112.8M346.3 103.4L346.6 102.0M339.8 109.0L340.1 107.9M340.8 99.3L341.6 98.4M324.7 103.5L324.7 103.0M336.2 76.5L336.5 77.2M335.5 97.4L335.5 97.4M329.9 99.9L329.4 99.4M328.4 91.2L329.0 91.2M346.2 87.3L346.9 88.3M331.0 67.2L332.2 67.3M327.7 121.0L326.9 120.8M333.1 111.8L333.0 112.4M344.6 112.9L344.9 112.9M346.3 123.4L345.9 124.4M325.2 108.5L324.4 108.7M318.6 109.6L319.1 109.4M345.7 116.8L344.9 115.7M344.2 104.5L344.0 105.0M341.0 82.3L340.9 82.5M326.6 72.6L326.6 72.8M322.7 118.2L322.2 118.6M321.4 118.5L321.4 118.3M326.2 123.2L326.1 123.1M346.1 70.1L346.4 69.8M335.2 109.8L335.1 111.1M330.8 69.1L331.8 68.5M332.4 114.0L332.9 113.8M333.2 77.7L333.5 77.6M334.2 68.8L334.1 68.7M322.8 89.1L323.5 89.3M332.7 92.1L332.3 91.6M324.7 129.1L325.9 129.2M321.8 77.5L321.4 77.7M340.7 87.1L340.0 88.2M343.6 123.1L343.3 123.3M332.9 108.7L333.0 109.1M330.0 116.1L329.4 116.7M346.3 108.5L346.5 108.6M329.7 127.9L329.1 128.0M320.0 115.7L319.0 116.7M346.3 81.6L346.0 82.1M337.1 73.8L336.9 74.1M329.3 129.8L329.9 129.7M322.0 79.4L320.9 79.5M323.4 77.0L322.9 77.3M323.8 130.5L324.9 130.6M335.7 100.2L336.0 101.0M341.2 111.1L341.7 110.7M347.0 90.3L346.6 89.6M334.3 127.6L333.8 127.2M327.1 129.5L327.4 128.2M329.0 97.5L329.4 97.1M330.7 75.0L330.0 74.9M328.9 114.8L328.6 114.0M343.4 104.2L343.0 104.4M319.9 105.8L320.1 105.9M337.5 107.4L337.3 108.2M325.8 70.6L325.9 71.0M333.2 83.1L333.7 83.8M342.5 124.2L342.3 124.0M320.5 118.6L320.3 117.7M331.7 95.5L331.5 95.5M331.2 124.9L331.7 124.4M321.1 129.8L321.1 129.6M344.6 95.8L345.0 95.8M346.3 120.2L346.6 120.3M338.8 102.6L338.2 102.5M339.1 105.1L339.1 105.3M341.2 82.3L341.3 82.7M330.7 84.9L330.7 84.7M336.2 83.2L336.0 82.9M342.0 115.8L341.9 115.4M341.5 105.8L340.5 105.9M327.0 110.7L327.2 110.7M325.8 102.3L325.9 102.5M342.1 100.3L342.0 100.9M344.1 121.9L343.4 121.8M332.1 93.3L331.8 93.0M326.1 98.5L326.4 98.0M321.1 122.7L320.9 122.2M325.8 72.2L325.5 72.0M322.1 90.3L322.4 90.2M328.8 108.7L328.0 108.1M328.2 82.0L328.2 81.4M332.5 100.5L332.2 100.7M333.5 92.2L333.3 92.3M334.1 132.0L334.2 132.4M328.6 114.0L328.8 113.7M330.7 114.6L330.9 114.3M329.8 120.4L329.9 120.3M346.1 113.8L347.1 114.2M339.7 70.1L340.0 70.4M337.8 113.3L338.3 113.0M322.7 118.2L323.0 118.2M342.3 127.7L342.2 128.0M329.8 79.0L330.4 79.0M324.5 68.3L324.3 67.8M332.9 132.6L333.0 132.1M329.8 101.9L329.1 101.8M322.7 118.2L322.2 118.1M328.8 85.6L328.7 86.0M342.0 113.6L342.0 113.2M335.1 114.2L335.0 114.5M322.6 114.4L322.3 114.1M335.3 108.3L335.0 108.4M328.0 96.6L327.8 96.9M321.3 97.6L321.1 97.4M332.0 104.4L332.2 104.5M332.1 108.2L332.7 107.6M334.7 132.9L334.3 133.2M322.4 109.6L323.0 110.0M339.0 120.2L339.9 119.2M323.0 84.7L323.4 84.1M339.4 109.1L338.8 108.6M327.7 121.0L327.8 121.3M330.7 84.7L331.2 84.3M331.9 80.5L332.0 81.2M339.3 131.1L340.0 131.3M339.1 105.3L339.3 105.3M321.1 129.8L321.2 129.9M343.4 121.8L343.6 122.1M340.0 72.7L339.4 72.2M327.2 99.3L327.6 99.3M336.7 81.4L335.8 81.0M343.6 99.4L344.0 99.7M340.1 125.8L339.4 125.8M325.6 79.6L325.8 79.9M335.2 75.7L335.2 75.0M319.4 70.1L319.3 69.3M340.5 123.4L341.0 122.9M330.0 98.4L329.6 98.1M335.2 87.3L335.0 87.5M328.0 91.6L328.2 92.7M326.4 113.5L326.0 113.4M334.1 74.0L334.5 74.4M322.4 116.0L321.3 116.6M332.2 123.6L332.4 124.1M339.3 105.3L339.2 105.9M326.0 107.2L325.8 107.6M332.4 115.5L332.0 116.7M326.6 131.0L326.0 132.2M346.0 132.6L345.9 132.2M329.7 79.7L329.6 79.9M331.2 118.0L331.4 117.9M337.5 68.3L337.3 67.8M324.9 130.6L324.9 130.9M334.0 71.1L333.9 71.6M334.0 117.8L335.0 118.6M345.2 74.0L344.7 74.7M338.8 74.7L339.0 74.3M336.5 103.2L336.9 103.0M319.3 77.3L319.1 78.6M330.9 114.3L330.5 114.0M345.5 86.2L346.7 85.5M326.7 112.9L326.4 112.8M331.3 105.9L331.6 106.6M343.0 116.8L343.0 117.0M331.4 91.5L330.9 91.1M337.5 107.4L338.4 107.0M337.3 99.2L337.7 99.3M339.4 83.0L339.6 82.6M342.0 93.6L341.9 93.7M330.9 70.5L330.6 70.3M342.1 104.6L342.4 104.6M336.8 89.3L336.8 88.9M320.1 102.8L320.2 102.5M333.5 79.4L333.2 79.8M342.5 68.8L342.0 69.2M343.4 127.6L343.2 127.7M321.2 129.9L321.4 130.2M345.4 90.2L345.6 90.5M331.5 120.5L331.0 121.2M320.0 120.7L320.2 121.2M319.5 108.5L318.8 108.6M319.2 96.9L319.8 97.1M338.8 102.6L338.9 102.7M329.3 85.0L328.9 84.5M320.8 86.1L321.1 85.9M324.7 81.9L324.6 82.6M322.2 79.8L321.8 79.9M329.5 73.3L330.2 73.7M339.9 86.5L339.4 86.5M341.4 104.3L340.9 104.3M338.8 115.8L339.2 115.9M328.6 111.9L328.8 112.2M321.1 122.7L319.9 123.3M339.5 128.3L339.3 128.4M327.8 77.2L328.5 77.8M340.1 78.4L339.6 79.0M344.3 88.7L343.8 89.0M343.4 72.1L343.3 71.9M326.9 120.8L326.8 120.6M321.1 114.9L320.6 115.4M330.2 104.2L329.8 104.5M323.4 84.1L323.6 83.1M344.9 115.7L343.8 115.1M321.8 72.5L321.7 72.5M321.8 79.9L321.5 80.1M326.6 102.4L326.6 101.9M327.1 129.5L327.4 129.6M320.9 99.9L320.7 100.1M336.2 119.6L336.6 119.5M332.3 109.0L332.2 108.8M322.9 85.7L322.8 85.9M342.5 68.8L343.2 68.5M334.0 128.2L334.1 128.0M344.1 80.4L345.1 79.7M346.5 97.6L347.2 98.0M321.5 121.4L322.2 121.0M334.2 132.4L333.8 132.4M321.5 123.6L322.0 123.0M328.2 69.1L327.5 69.5M323.0 118.2L323.0 118.5M344.9 115.7L344.8 115.4M338.0 94.4L337.5 95.3M326.9 92.4L327.3 92.1M319.7 76.5L320.5 76.3M324.6 127.3L325.5 127.7M344.7 85.1L344.8 85.6M344.9 78.0L345.7 76.9M337.7 74.7L337.5 74.4M335.4 132.0L335.1 132.4M339.6 111.9L339.7 112.4M337.3 122.6L337.5 122.3M333.1 126.3L332.7 126.2M339.7 115.4L339.4 114.4M325.5 119.9L325.3 119.5M345.4 70.7L346.0 71.1M331.9 113.3L331.3 113.0M341.0 121.1L341.8 120.8M327.4 98.4L327.6 98.3M340.0 131.3L340.0 131.6M321.6 68.3L321.9 68.0M343.2 68.5L343.2 69.4M320.5 90.9L320.9 91.2M318.8 128.8L318.7 128.1M319.9 73.2L319.3 72.0M332.1 93.3L332.9 93.1M340.3 124.3L340.1 124.4M318.8 128.8L319.0 129.6M320.9 91.2L320.4 91.6M326.5 78.5L325.5 78.3M320.8 120.2L320.7 120.3M327.9 89.8L327.8 89.8M343.7 93.5L344.2 92.9M322.9 75.2L322.8 76.1M329.0 71.0L328.8 71.0M337.8 91.4L337.6 91.4M337.5 95.3L338.1 96.2M322.0 132.7L320.6 132.9M340.5 105.9L340.1 105.9M322.4 109.6L322.4 110.0M333.8 114.0L333.8 114.2M319.9 111.6L320.2 111.3M346.0 120.6L345.9 120.5M338.6 80.3L337.5 79.9M336.6 112.5L336.6 112.4M325.5 127.7L325.5 127.1M327.3 71.4L326.7 71.2M332.1 126.7L332.1 127.3M338.9 84.0L338.7 84.3M330.4 125.8L330.0 126.2M345.9 96.8L345.5 96.9M332.9 85.1L332.5 85.3M338.6 126.0L337.9 126.2M327.8 121.3L328.2 121.7M333.0 112.4L332.9 113.0M339.4 109.1L339.5 109.2M323.8 131.4L323.5 131.2M320.8 81.0L319.8 80.9M321.6 111.9L321.7 111.8M331.6 131.0L331.7 132.0M324.3 72.8L323.4 72.8"/>
<path fill="none" stroke="#12ad45" stroke-width="0.47" stroke-linecap="round" d="M379.0 69.6L377.6 69.7M379.0 69.6L380.4 69.6M377.6 69.7L376.2 69.8M380.4 69.6L381.8 69.6M379.0 69.6L379.3 68.2M376.2 69.8L374.8 69.8M381.8 69.6L382.9 68.6M382.9 68.6L384.3 68.6M374.8 69.8L373.4 69.5M384.3 68.6L385.7 68.7M385.7 68.7L387.1 68.8M373.4 69.5L372.0 69.4M379.3 68.2L378.8 67.3M387.1 68.8L388.5 68.8M372.0 69.4L370.6 69.6M370.6 69.6L369.2 69.8M376.2 69.8L375.9 69.9M369.2 69.8L368.6 69.5M368.6 69.5L367.3 69.2M388.5 68.8L389.9 68.8M389.9 68.8L391.4 68.6M391.4 68.6L392.7 68.8M392.7 68.8L393.9 69.7M384.3 68.6L384.3 70.0M367.3 69.2L365.8 69.2M393.9 69.7L395.2 69.3M395.2 69.3L396.6 69.6M373.4 69.5L373.0 68.8M376.2 69.8L375.8 68.9M396.6 69.6L398.0 69.6M365.8 69.2L364.4 69.0M393.9 69.7L393.6 71.1M379.0 69.6L378.7 69.5M381.8 69.6L382.3 70.9M364.4 69.0L363.1 69.5M382.3 70.9L382.7 70.3M363.1 69.5L361.8 69.0M369.2 69.8L369.1 71.2M369.2 69.8L368.9 70.2M365.8 69.2L366.1 67.8M361.8 69.0L360.4 69.3M396.6 69.6L397.3 68.9M391.4 68.6L391.2 70.0M398.0 69.6L399.4 70.0M373.4 69.5L373.1 70.9M399.4 70.0L400.8 70.1M400.8 70.1L402.2 69.9M370.6 69.6L370.8 68.2M402.2 69.9L403.0 68.7M360.4 69.3L359.0 69.6M396.6 69.6L397.1 69.5M403.0 68.7L402.0 67.7M363.1 69.5L363.0 68.4M373.0 68.8L373.7 67.7M359.0 69.6L357.6 69.4M402.2 69.9L403.3 70.7M395.2 69.3L395.2 69.5M363.1 69.5L362.9 70.9M380.4 69.6L380.7 70.9M357.6 69.4L356.2 69.2M400.8 70.1L401.3 71.3M403.3 70.7L404.2 70.2M374.8 69.8L374.1 70.1M402.0 67.7L402.1 68.5M381.8 69.6L381.3 68.3M397.3 68.9L396.9 67.5M391.2 70.0L391.2 71.4M356.2 69.2L354.8 69.4M391.2 71.4L389.8 71.5M384.3 68.6L384.6 68.2M373.1 70.9L372.8 72.2M403.0 68.7L404.3 68.1M354.8 69.4L353.7 68.4M353.7 68.4L352.3 68.6M354.8 69.4L355.1 70.7M389.9 68.8L389.3 67.5M381.3 68.3L381.6 68.6M378.8 67.3L378.6 68.0M356.2 69.2L356.8 68.0M370.6 69.6L370.9 70.8M381.3 68.3L382.1 67.2M393.6 71.1L392.9 71.8M396.6 69.6L397.0 71.0M352.3 68.6L350.9 68.8M350.9 68.8L350.5 70.2M357.6 69.4L357.6 70.8M362.9 70.9L362.7 70.7M366.1 67.8L366.7 66.9M370.8 68.2L371.7 68.5M404.3 68.1L405.4 68.4M379.0 69.6L379.2 69.9M405.4 68.4L406.8 67.9M385.7 68.7L385.7 69.6M393.6 71.1L394.4 72.3M365.8 69.2L366.4 70.5M380.4 69.6L380.7 70.0M350.5 70.2L350.2 71.4M406.8 67.9L408.2 68.2M366.4 70.5L366.8 71.9M353.7 68.4L353.1 67.2M350.2 71.4L350.8 71.4M396.6 69.6L396.2 69.3M387.1 68.8L387.0 67.4M388.5 68.8L388.5 69.3M380.4 69.6L380.2 68.9M371.7 68.5L372.5 68.0M350.5 70.2L349.4 69.3M362.7 70.7L362.3 70.8M399.4 70.0L399.9 70.9M375.8 68.9L376.1 68.1M372.0 69.4L371.4 69.5M389.8 71.5L388.5 72.0M350.9 68.8L351.6 69.5M379.2 69.9L378.5 70.9M404.2 70.2L404.8 71.2M388.5 72.0L387.4 71.1M389.8 71.5L390.1 71.7M391.2 70.0L392.1 70.7M362.3 70.8L362.2 72.0M371.4 69.5L371.5 70.3M401.3 71.3L400.4 72.3M408.2 68.2L409.4 67.6M366.1 67.8L366.6 68.5M372.5 68.0L371.8 67.5M382.1 67.2L382.5 67.1M366.8 71.9L366.0 72.2M395.2 69.5L395.0 69.4M350.8 71.4L352.2 71.9M392.7 68.8L392.5 67.9M368.9 70.2L368.1 70.4M391.4 68.6L391.0 68.2M408.2 68.2L408.8 68.6M362.2 72.0L362.8 71.6M355.1 70.7L356.1 70.7M359.0 69.6L359.2 70.2M364.4 69.0L364.3 68.9M408.8 68.6L408.1 69.4M374.8 69.8L374.8 70.3M364.3 68.9L364.5 67.7M371.7 68.5L371.4 68.3M357.6 70.8L358.3 72.0M350.2 71.4L348.8 71.4M408.1 69.4L407.7 70.8M349.4 69.3L348.0 69.5M348.0 69.5L348.6 70.2M392.5 67.9L392.2 68.1M348.0 69.5L346.6 69.8M352.3 68.6L352.2 68.5M374.8 70.3L375.6 71.4M370.8 68.2L370.4 67.5M397.0 71.0L398.3 71.5M382.1 67.2L380.9 67.0M359.0 69.6L358.4 69.0M382.9 68.6L382.4 68.0M398.3 71.5L399.0 71.6M407.7 70.8L407.1 71.8M346.6 69.8L347.2 70.1M350.8 71.4L351.3 71.9M394.4 72.3L395.3 71.1M356.8 68.0L358.1 67.2M399.4 70.0L399.8 70.2M387.1 68.8L386.9 69.4M398.0 69.6L398.8 68.6M364.3 68.9L363.8 68.7M366.4 70.5L365.7 70.3M404.3 68.1L404.7 67.1M350.5 70.2L350.5 69.7M391.0 68.2L390.7 67.8M364.5 67.7L363.8 67.0M348.0 69.5L348.5 69.6M391.2 70.0L390.9 70.5M356.8 68.0L356.4 67.3M408.1 69.4L407.4 69.8M373.1 70.9L373.0 70.7M393.9 69.7L394.0 69.7M350.8 71.4L351.2 71.5M358.1 67.2L359.5 67.0M369.2 69.8L369.3 69.8M387.0 67.4L387.5 67.7M392.7 68.8L392.8 69.6M356.1 70.7L356.7 71.7M399.0 71.6L399.2 72.0M390.7 67.8L390.8 67.9M397.0 71.0L397.3 72.0M380.7 70.9L381.2 72.0M408.8 68.6L410.0 69.0M407.1 71.8L408.2 72.2M396.9 67.5L398.2 66.9M368.9 70.2L369.2 70.3M387.4 71.1L386.1 71.1M389.3 67.5L388.7 67.6M407.4 69.8L407.4 69.8M404.3 68.1L404.2 67.9M410.0 69.0L411.3 69.6M397.0 71.0L397.2 71.0M404.3 68.1L404.3 68.8M351.6 69.5L351.5 69.0M357.6 69.4L357.8 69.8M398.8 68.6L399.8 68.8M353.1 67.2L354.5 66.9M374.1 70.1L373.9 70.1M347.2 70.1L347.7 70.6M359.5 67.0L359.9 67.3M407.4 69.8L407.2 69.7M404.2 70.2L405.1 69.7M353.7 68.4L354.1 68.1M373.9 70.1L374.0 70.4M397.0 71.0L396.9 71.1M388.7 67.6L389.0 68.2M374.8 69.8L374.4 68.9M378.6 68.0L378.3 68.2M381.8 69.6L381.5 69.4M348.8 71.4L348.3 71.5M386.1 71.1L384.7 71.4M395.3 71.1L394.6 70.9M411.3 69.6L411.6 68.9M371.8 67.5L372.0 66.7M390.9 70.5L389.8 70.1M384.7 71.4L384.0 72.5M359.5 67.0L359.0 68.0M394.6 70.9L394.5 71.4M378.8 67.3L377.9 67.0M370.9 70.8L370.4 71.5M379.0 69.6L379.0 69.4M371.5 70.3L371.7 70.3M386.1 71.1L385.5 70.7M403.3 70.7L403.1 71.1M370.8 68.2L370.7 68.1M397.2 71.0L397.6 71.3"/>
<path fill="none" stroke="#12ad45" stroke-width="0.55" stroke-linecap="round" d="M428.5 69.6L430.5 69.3M428.5 69.6L426.5 70.0M426.5 70.0L424.6 69.4M430.5 69.3L432.5 68.9M432.5 68.9L434.5 68.7M434.5 68.7L436.5 68.7M430.5 69.3L431.4 71.1M431.4 71.1L433.3 71.7M434.5 68.7L435.4 67.0M436.5 68.7L438.4 69.3M424.6 69.4L422.9 68.2M438.4 69.3L440.0 70.1M440.0 70.1L441.9 70.8M441.9 70.8L443.7 70.0M434.5 68.7L435.0 70.3M422.9 68.2L421.9 70.0M421.9 70.0L422.3 71.2M443.7 70.0L443.5 70.5M421.9 70.0L419.9 70.5M434.5 68.7L434.0 67.8M419.9 70.5L417.9 70.3M417.9 70.3L416.0 71.0M428.5 69.6L428.7 69.7M426.5 70.0L425.5 70.5M443.7 70.0L442.3 68.5M424.6 69.4L424.3 70.1M421.9 70.0L421.8 70.2M430.5 69.3L429.9 69.2M435.0 70.3L434.2 69.8M416.0 71.0L414.9 72.5M424.6 69.4L423.7 69.2M425.5 70.5L425.3 72.1M443.7 70.0L443.4 69.7M424.6 69.4L425.2 67.4M442.3 68.5L441.6 67.7M429.9 69.2L430.0 68.7M422.9 68.2L422.8 68.8M417.9 70.3L418.2 68.3M431.4 71.1L429.7 71.3"/>
<path fill="none" stroke="#12ad45" stroke-width="0.55" stroke-linecap="round" d="M487.5 69.6L490.5 69.9M490.5 69.9L493.5 69.7M487.5 69.6L484.5 69.8M484.5 69.8L481.4 69.5M493.5 69.7L496.6 69.4M496.6 69.4L499.6 69.4M481.4 69.5L478.4 69.8"/>
<path fill="none" stroke="#12ad45" stroke-width="0.47" stroke-linecap="round" d="M374.0 102.7L375.4 102.9M375.4 102.9L376.8 102.7M376.8 102.7L378.2 102.5M375.4 102.9L375.6 101.5M374.0 102.7L372.6 102.7M372.6 102.7L371.2 102.7M371.2 102.7L369.8 102.6M378.2 102.5L379.6 102.5M375.4 102.9L374.7 104.0M369.8 102.6L368.6 101.8M379.6 102.5L381.0 102.6M381.0 102.6L382.3 103.2M382.3 103.2L383.7 103.1M383.7 103.1L385.1 102.8M378.2 102.5L378.0 103.6M368.6 101.8L367.2 101.4M372.6 102.7L372.5 104.0M379.6 102.5L379.1 102.5M381.0 102.6L381.8 101.3M367.2 101.4L365.8 101.5M385.1 102.8L386.5 102.4M365.8 101.5L364.4 101.4M364.4 101.4L363.0 101.4M378.0 103.6L378.1 104.5M364.4 101.4L364.5 102.0M363.0 101.4L362.2 101.7M386.5 102.4L387.9 102.7M362.2 101.7L361.0 100.9M387.9 102.7L389.1 103.4M389.1 103.4L390.3 102.6M378.1 104.5L376.7 105.0M378.1 104.5L379.2 105.2M361.0 100.9L359.9 101.8M359.9 101.8L358.5 101.8M358.5 101.8L357.1 102.2M383.7 103.1L384.2 104.4M389.1 103.4L390.1 104.4M376.7 105.0L376.2 105.5M387.9 102.7L387.9 101.9M390.3 102.6L391.7 102.6M357.1 102.2L356.9 100.8M372.6 102.7L372.2 101.4M391.7 102.6L393.0 103.1M356.9 100.8L358.1 100.5M375.6 101.5L375.6 100.9M376.7 105.0L376.4 104.5M359.9 101.8L360.2 102.3M393.0 103.1L394.4 102.8M364.5 102.0L364.8 103.4M390.1 104.4L391.4 104.9M385.1 102.8L384.5 102.3M384.2 104.4L384.8 104.6M381.8 101.3L381.8 101.3M362.2 101.7L362.5 102.2M389.1 103.4L389.2 103.1M376.4 104.5L376.8 104.6M357.1 102.2L355.7 102.5M364.8 103.4L364.6 103.1M391.7 102.6L392.6 101.5M394.4 102.8L395.7 102.2M376.8 102.7L377.5 103.0M360.2 102.3L359.2 103.1M372.6 102.7L372.4 102.5M386.5 102.4L386.3 101.0M364.8 103.4L366.2 103.9M355.7 102.5L354.8 103.6M357.1 102.2L357.4 103.5M355.7 102.5L355.7 102.5M368.6 101.8L369.4 100.7M385.1 102.8L385.2 102.6M385.1 102.8L384.6 103.0M377.5 103.0L377.1 102.9M364.8 103.4L363.7 104.2M354.8 103.6L353.5 104.0M394.4 102.8L394.4 102.7M389.1 103.4L389.5 103.7M379.6 102.5L379.9 101.6M364.5 102.0L363.9 101.9M363.7 104.2L362.9 105.3M364.5 102.0L365.1 102.1M369.8 102.6L369.6 104.0M372.6 102.7L372.8 103.0M359.9 101.8L360.3 101.5M353.5 104.0L352.6 103.0M362.9 105.3L361.6 104.9M375.6 100.9L374.2 100.6M372.2 101.4L371.9 100.6M378.2 102.5L377.7 102.4M394.4 102.7L394.1 101.4M394.1 101.4L393.6 101.3M395.7 102.2L397.0 102.5M352.6 103.0L351.2 103.4M362.2 101.7L361.4 102.0M353.5 104.0L354.2 104.6M351.2 103.4L351.1 104.1M369.6 104.0L368.2 103.7M363.0 101.4L362.4 100.4M397.0 102.5L397.2 103.6M354.2 104.6L355.4 105.3M397.0 102.5L397.1 101.1M351.1 104.1L349.7 103.8M353.5 104.0L353.8 104.0M372.5 104.0L372.3 103.9M378.1 104.5L377.9 104.2M391.7 102.6L392.0 103.3M379.1 102.5L379.1 101.8M352.6 103.0L353.1 101.7M394.1 101.4L394.0 101.1M369.8 102.6L369.9 101.7M381.0 102.6L380.7 102.9M394.4 102.7L394.1 102.4M366.2 103.9L366.3 103.6M389.1 103.4L388.2 104.5M362.9 105.3L363.5 104.9M397.2 103.6L398.5 104.2M353.1 101.7L353.2 102.1M390.1 104.4L389.3 104.6M349.7 103.8L348.7 102.8M388.2 104.5L386.8 104.2M375.6 100.9L376.0 101.1M369.4 100.7L368.8 100.3M363.9 101.9L363.7 102.3M392.0 103.3L392.1 103.2M369.4 100.7L369.2 101.3M363.7 104.2L363.7 103.7M371.9 100.6L370.9 100.9M392.1 103.2L392.0 103.2M398.5 104.2L399.6 103.4M381.0 102.6L380.9 102.3M379.2 105.2L380.1 105.1M399.6 103.4L401.0 103.6M369.4 100.7L370.1 100.3M392.6 101.5L393.1 102.1M367.2 101.4L367.4 100.3M348.7 102.8L347.9 102.1M401.0 103.6L400.6 104.1M385.1 102.8L385.7 103.7M361.0 100.9L361.3 100.9M379.9 101.6L379.7 100.3M379.1 102.5L378.9 102.8M376.0 101.1L376.4 100.6M348.7 102.8L349.8 102.6M353.8 104.0L354.2 103.5M363.7 103.7L363.3 103.4M387.9 102.7L388.0 103.3M376.0 101.1L375.8 101.1M366.2 103.9L365.5 105.2M361.4 102.0L361.0 101.5M374.0 102.7L373.6 103.0M390.3 102.6L390.3 101.6M397.1 101.1L398.4 100.6M390.3 102.6L390.3 103.1M397.1 101.1L396.5 100.8M384.8 104.6L384.6 105.2M381.8 101.3L383.1 100.7M398.5 104.2L397.6 105.3M351.1 104.1L352.2 104.6M349.8 102.6L350.2 101.2M390.1 104.4L390.5 104.0M399.6 103.4L399.6 103.5M375.6 101.5L374.7 101.5M378.1 104.5L378.1 105.5M382.3 103.2L382.2 104.6M357.4 103.5L357.1 104.0M386.3 101.0L387.0 100.4M392.6 101.5L391.9 100.9M358.1 100.5L358.2 100.3M383.1 100.7L383.1 100.8M398.4 100.6L399.7 100.2M391.4 104.9L391.3 104.2M377.5 103.0L377.9 103.1M390.5 104.0L390.7 103.5M353.8 104.0L353.8 104.4M366.3 103.6L365.8 103.2M374.7 104.0L374.7 105.0M369.6 104.0L369.2 104.7M350.2 101.2L350.6 101.8M383.7 103.1L383.6 103.4M392.6 101.5L392.6 101.1M391.3 104.2L391.0 104.4M353.1 101.7L354.0 100.7M379.2 105.2L378.7 105.4M380.9 102.3L380.4 102.3M374.7 104.0L374.4 104.5M375.4 102.9L375.2 102.9M379.2 105.2L379.2 105.1M391.0 104.4L390.8 104.6M360.2 102.3L360.9 103.3M392.0 103.3L392.1 104.0M398.5 104.2L399.3 105.0M352.6 103.0L353.1 102.8M365.8 101.5L366.0 101.1M374.7 105.0L374.0 105.4M390.3 101.6L389.2 100.7M359.9 101.8L359.9 102.0M395.7 102.2L395.6 102.5M354.8 103.6L354.9 103.0M361.0 100.9L359.8 100.2M379.2 105.2L379.2 105.5M389.5 103.7L389.5 104.1M354.9 103.0L354.5 103.1M382.2 104.6L381.7 104.2M370.9 100.9L371.0 100.3M398.4 100.6L398.0 101.4M387.9 102.7L387.4 102.5M390.3 101.6L389.6 101.8M350.6 101.8L351.2 102.3M372.5 104.0L372.9 104.4M368.2 103.7L368.6 103.7M366.3 103.6L367.1 104.0M355.4 105.3L355.8 104.9M398.4 100.6L398.9 100.1M394.4 102.8L394.1 104.2M386.3 101.0L385.0 100.6M386.8 104.2L387.0 104.3M380.1 105.1L381.1 105.3M399.6 103.5L399.0 103.5M398.4 100.6L397.8 100.8M362.5 102.2L362.7 102.9"/>
<path fill="none" stroke="#12ad45" stroke-width="0.55" stroke-linecap="round" d="M422.5 102.7L425.1 103.3M422.5 102.7L419.9 103.2M419.9 103.2L417.3 103.3M417.3 103.3L414.7 103.5M414.7 103.5L412.0 103.6"/>
<path fill="none" stroke="#12ad45" stroke-width="0.55" stroke-linecap="round" d="M417.5 36.9L415.1 37.5M417.5 36.9L419.9 36.8M419.9 36.8L422.3 36.8M415.1 37.5L412.7 37.6M412.7 37.6L410.3 37.3M412.7 37.6L411.8 37.4M410.3 37.3L407.9 37.4M422.3 36.8L424.8 36.9M424.8 36.9L427.2 37.0M427.2 37.0L429.6 36.7M407.9 37.4L406.9 36.7M406.9 36.7L404.5 37.1M427.2 37.0L427.7 34.7M424.8 36.9L423.7 36.4M404.5 37.1L402.1 36.6M415.1 37.5L414.7 35.1M422.3 36.8L422.2 37.0M402.1 36.6L399.7 37.1M399.7 37.1L397.3 36.8M429.6 36.7L432.0 36.4M411.8 37.4L411.8 37.2M412.7 37.6L412.7 36.9M417.5 36.9L417.9 36.8M397.3 36.8L394.9 37.1M402.1 36.6L401.2 34.4M410.3 37.3L410.6 38.6M427.2 37.0L427.2 36.7"/>
<path fill="none" stroke="#12ad45" stroke-width="0.55" stroke-linecap="round" d="M493.5 36.9L495.9 36.7M493.5 36.9L491.1 37.0M491.1 37.0L488.7 37.1M495.9 36.7L498.3 36.4M498.3 36.4L500.7 36.5M500.7 36.5L502.6 38.1M502.6 38.1L505.0 38.0M505.0 38.0L507.4 38.1M507.4 38.1L509.8 37.7M509.8 37.7L512.2 37.4M488.7 37.1L486.2 37.1M512.2 37.4L514.5 38.0M486.2 37.1L484.1 38.2M484.1 38.2L481.6 38.3M481.6 38.3L479.3 37.6M479.3 37.6L476.9 37.1M476.9 37.1L474.5 37.2M498.3 36.4L498.2 38.6M514.5 38.0L516.9 37.4M516.9 37.4L518.9 36.1M518.9 36.1L521.3 35.8M521.3 35.8L523.8 36.0M488.7 37.1L488.0 37.0M474.5 37.2L472.1 36.7M498.2 38.6L497.0 38.1M472.1 36.7L469.7 36.7M484.1 38.2L483.5 38.4M523.8 36.0L526.1 35.6M495.9 36.7L496.9 34.7"/>
<polyline fill="none" stroke="#12ad45" stroke-width="0.6" stroke-linejoin="round" stroke-linecap="round" points="346.8,80.5 346.9,84.7 346.9,87.9 346.8,91.6 346.9,95.2 347.0,98.8 346.9,99.5"/>
<polyline fill="none" stroke="#12ad45" stroke-width="0.6" stroke-linejoin="round" stroke-linecap="round" points="347.0,106.2 346.8,110.5 346.9,112.7 346.9,115.1 347.0,119.8 346.8,122.2 347.0,124.9 346.8,127.0 346.9,128.7"/>
<polyline fill="none" stroke="#12ad45" stroke-width="0.6" stroke-linejoin="round" stroke-linecap="round" points="360.0,81.1 360.1,85.2 359.8,89.5 359.9,92.2 360.1,95.4 359.9,99.5"/>
<polyline fill="none" stroke="#12ad45" stroke-width="0.6" stroke-linejoin="round" stroke-linecap="round" points="360.0,116.4 359.9,118.5 360.0,121.2 359.9,125.8 359.9,129.6 359.9,132.3"/>
<polyline fill="none" stroke="#12ad45" stroke-width="0.6" stroke-linejoin="round" stroke-linecap="round" points="373.1,73.2 373.2,78.1 373.2,82.4 373.2,86.9 373.1,90.7 373.3,94.1 373.2,94.8"/>
<polyline fill="none" stroke="#12ad45" stroke-width="0.6" stroke-linejoin="round" stroke-linecap="round" points="373.1,107.2 373.3,109.6 373.2,111.7 373.3,114.7 373.1,117.3 373.1,120.3 373.2,122.3 373.2,124.6 373.1,126.8 373.3,130.2 373.2,132.3"/>
<polyline fill="none" stroke="#12ad45" stroke-width="0.6" stroke-linejoin="round" stroke-linecap="round" points="399.5,7.6 399.4,11.3 399.4,15.5 399.6,18.1 399.5,22.6 399.7,27.6 399.5,30.3 399.6,32.9"/>
<polyline fill="none" stroke="#12ad45" stroke-width="0.6" stroke-linejoin="round" stroke-linecap="round" points="399.6,40.3 399.6,42.9 399.5,44.9 399.6,48.6 399.5,53.4 399.5,56.2 399.7,60.5 399.6,63.0 399.6,65.9"/>
<polyline fill="none" stroke="#12ad45" stroke-width="0.6" stroke-linejoin="round" stroke-linecap="round" points="412.2,7.6 412.3,10.6 412.2,13.1 412.2,17.4 412.4,21.6 412.4,25.0 412.3,26.7"/>
<polyline fill="none" stroke="#12ad45" stroke-width="0.6" stroke-linejoin="round" stroke-linecap="round" points="412.2,73.2 412.4,78.2 412.4,82.1 412.2,86.0 412.3,90.3 412.2,95.0 412.3,96.4"/>
<polyline fill="none" stroke="#12ad45" stroke-width="0.6" stroke-linejoin="round" stroke-linecap="round" points="450.6,40.3 450.6,43.4 450.6,46.3 450.7,49.7 450.6,52.5 450.8,54.6 450.6,58.9 450.8,61.8 450.6,65.0 450.7,65.4"/>
<polyline fill="none" stroke="#12ad45" stroke-width="0.6" stroke-linejoin="round" stroke-linecap="round" points="491.8,73.2 491.9,75.8 491.8,80.8 491.7,85.4 491.8,89.0 491.9,92.5 491.9,94.4"/>
<polyline fill="none" stroke="#12ad45" stroke-width="0.6" stroke-linejoin="round" stroke-linecap="round" points="512.6,15.6 512.5,18.9 512.5,20.9 512.5,23.1 512.6,26.7 512.5,31.3 512.5,33.6 512.6,33.7"/>
<polyline fill="none" stroke="#12ad45" stroke-width="0.6" stroke-linejoin="round" stroke-linecap="round" points="512.4,40.3 512.6,45.0 512.7,49.0 512.7,52.1 512.5,56.1 512.6,60.3 512.6,60.4"/>
<polyline fill="none" stroke="#12ad45" stroke-width="0.6" stroke-linejoin="round" stroke-linecap="round" points="318.7,29.0 318.7,67.2"/>
<polyline fill="none" stroke="#ee1c1c" stroke-width="0.9" stroke-linejoin="round" stroke-linecap="round" points="329.0,122.7 332.9,116.3 338.3,111.5 339.3,103.0 340.3,94.9 344.1,88.4 345.7,83.4 346.3,77.4 346.8,73.1 348.4,70.9 353.4,70.0 357.7,68.7 362.1,69.6 366.4,70.4 370.8,71.5 373.0,70.9 373.9,68.2 377.3,67.4 398.0,67.6 401.0,70.6 405.7,69.1 410.3,67.6 437.9,66.8 437.6,35.6 442.0,35.0 470.0,35.0 472.0,38.0 478.0,39.0 510.0,39.0 512.0,38.0 512.0,24.0"/>
<rect x="327.1" y="120.8" width="3.8" height="3.8" fill="#1c1cc4"/><circle cx="512.0" cy="24.0" r="1.6" fill="#1c1cc4"/>
<path fill="none" stroke="#1fae50" stroke-width="0.5" stroke-linecap="round" d="M38.6 284.6L38.0 281.6M38.0 281.6L38.0 278.6M38.0 278.6L38.5 275.6M38.0 281.6L35.1 282.5M38.5 275.6L38.2 272.6M38.2 272.6L40.7 270.9M40.7 270.9L42.9 268.9M42.9 268.9L43.2 265.9M38.6 284.6L41.5 285.4M38.0 278.6L41.0 278.4M43.2 265.9L43.5 262.9M42.9 268.9L45.9 268.6M43.5 262.9L42.9 259.9M43.5 262.9L46.5 262.1M41.5 285.4L44.4 286.2M44.4 286.2L46.5 288.4M38.0 281.6L38.9 282.2M41.5 285.4L40.9 288.4M42.9 259.9L44.0 257.1M44.0 257.1L42.0 254.9M46.5 262.1L49.2 260.8M42.0 254.9L43.6 252.3M42.0 254.9L42.2 254.6M40.7 270.9L38.6 268.8M46.5 288.4L44.4 289.0M46.5 288.4L47.2 290.7M47.2 290.7L49.6 292.6M43.6 252.3L44.4 249.4M49.6 292.6L52.4 293.0M49.2 260.8L51.0 263.2M44.4 249.4L45.9 246.8M51.0 263.2L51.4 266.2M45.9 246.8L44.1 244.4M52.4 293.0L52.2 294.7M35.1 282.5L32.0 282.3M44.1 244.4L42.1 242.1M38.0 278.6L36.0 280.0M42.1 242.1L44.3 240.0M44.3 240.0L44.7 237.0M44.4 249.4L47.2 250.5M52.2 294.7L53.0 294.1M44.4 289.0L43.4 291.9M44.7 237.0L41.8 236.0M41.8 236.0L43.4 233.5M42.0 254.9L39.0 255.3M44.3 240.0L45.2 239.4M32.0 282.3L30.2 284.7M40.9 288.4L38.8 290.5M47.2 250.5L49.8 252.0M43.5 262.9L40.8 263.5M45.9 268.6L46.1 268.6M42.9 268.9L43.7 270.2M51.0 263.2L54.0 262.8M41.0 278.4L40.0 276.8M39.0 255.3L37.2 252.9M54.0 262.8L55.8 263.6M43.4 233.5L43.4 230.4M38.6 268.8L39.5 267.5M38.2 272.6L35.3 271.8M43.4 233.5L45.8 233.0M46.5 262.1L45.7 260.0M47.2 250.5L47.2 252.4M41.0 278.4L44.1 278.2M41.8 236.0L38.8 235.4M47.2 290.7L47.1 292.9M39.0 255.3L36.8 257.4M44.4 249.4L44.7 250.3M37.2 252.9L38.0 249.9M38.6 268.8L38.2 268.5M37.2 252.9L36.2 254.1M45.8 233.0L48.5 231.6M44.1 278.2L44.0 277.8M42.1 242.1L39.2 243.0M45.9 246.8L48.7 245.7M36.8 257.4L33.8 257.8M44.7 237.0L47.5 235.9M38.0 249.9L36.8 251.2M49.2 260.8L51.2 258.5M48.7 245.7L50.4 243.2M38.2 272.6L37.3 272.2M51.2 258.5L53.1 259.0M38.8 235.4L36.0 236.4M42.1 242.1L42.8 241.7M46.5 288.4L48.8 286.4M36.8 251.2L34.6 249.1M51.4 266.2L51.1 269.2M49.8 252.0L50.8 251.9M34.6 249.1L31.6 248.5M48.7 245.7L50.5 247.0M36.8 257.4L37.5 256.7M39.0 255.3L39.7 256.2M50.4 243.2L52.5 241.0M30.2 284.7L29.2 287.5M53.0 294.1L53.0 294.5M38.8 290.5L40.1 292.1M52.5 241.0L54.2 243.5M48.8 286.4L49.1 284.5M46.5 262.1L46.7 263.5M36.8 251.2L35.9 251.7M36.0 236.4L34.3 233.9M44.4 249.4L44.5 248.1M48.5 231.6L50.9 232.0M51.1 269.2L52.3 272.0M52.4 293.0L53.5 290.2M51.4 266.2L53.5 267.3M32.0 282.3L29.8 280.2M31.6 248.5L32.5 248.9M46.7 263.5L46.7 263.9M40.1 292.1L39.5 291.3M44.7 250.3L45.2 251.7M35.1 282.5L34.9 285.5M41.0 278.4L41.3 280.9M39.2 243.0L37.7 242.1M41.5 285.4L43.0 283.2M32.0 282.3L32.5 281.6M49.1 284.5L51.9 283.4M50.9 232.0L51.3 229.5M44.4 286.2L45.7 286.3M31.6 248.5L29.0 247.0M38.2 268.5L36.6 266.0M42.9 259.9L39.9 260.4M51.3 229.5L50.0 229.2M34.3 233.9L31.8 235.6M31.8 235.6L31.1 233.6M51.9 283.4L54.5 285.0M33.8 257.8L31.9 260.1M36.8 251.2L36.7 249.9M37.3 272.2L37.7 272.0M43.6 252.3L44.5 253.0M32.5 248.9L33.1 250.8M36.6 266.0L33.5 265.9M47.2 252.4L48.2 254.3M31.8 235.6L30.8 238.4M38.6 268.8L38.3 269.1M48.2 254.3L50.1 254.3M51.1 269.2L50.7 270.4M39.0 255.3L40.0 253.7M40.0 276.8L41.9 275.7M38.5 275.6L39.7 275.1M39.2 243.0L40.8 245.3M41.9 275.7L43.0 275.2M31.9 260.1L30.0 257.7M40.9 288.4L39.8 287.4M50.8 251.9L53.5 253.3M51.9 283.4L53.5 281.5M33.8 257.8L35.1 259.8M32.0 282.3L31.1 283.0M46.5 288.4L46.7 287.9M52.3 272.0L50.4 273.3M51.4 266.2L48.7 266.4M33.5 265.9L31.0 267.7M30.8 238.4L27.7 238.5M50.9 232.0L49.9 232.0M31.8 235.6L30.2 235.6M52.5 241.0L53.0 240.9M30.2 284.7L28.2 284.9M30.2 284.7L31.0 285.0M49.1 284.5L47.0 284.5M53.5 267.3L55.0 267.5M50.9 232.0L50.6 231.4M51.0 263.2L49.7 263.0M47.5 235.9L48.2 236.1M49.6 292.6L49.2 291.0M31.6 248.5L29.4 250.5M43.0 283.2L43.8 284.0M37.7 242.1L34.9 241.1M35.3 271.8L34.8 269.9M50.1 254.3L49.3 255.2M39.0 255.3L38.1 255.3M37.5 256.7L37.7 256.8M31.9 260.1L29.9 262.2M53.1 259.0L55.2 256.8M52.5 241.0L49.7 239.9M44.1 278.2L47.0 279.0M46.7 263.5L47.0 263.3M40.7 270.9L41.5 271.7M53.0 240.9L53.5 238.9M29.8 280.2L30.3 278.7M54.0 262.8L54.0 263.3M40.0 276.8L40.3 276.7M31.6 248.5L32.9 246.8M33.5 265.9L33.3 267.9M37.7 242.1L36.6 244.4M47.1 292.9L47.5 292.3M38.5 275.6L36.1 275.8M38.6 284.6L39.5 285.7M44.5 248.1L44.4 246.8M34.3 233.9L33.9 230.9M42.0 254.9L41.4 254.4M33.1 250.8L32.5 252.9M36.0 280.0L36.8 280.4M29.2 287.5L30.2 290.4M42.9 268.9L41.4 268.8M41.5 285.4L41.1 284.4M51.4 266.2L51.3 266.0M40.3 276.7L41.4 276.8M50.1 254.3L52.3 255.6M49.6 292.6L48.7 292.7M40.8 245.3L41.0 244.3M36.1 275.8L34.3 276.6M47.1 292.9L47.0 292.6M54.2 243.5L52.2 245.1M32.9 246.8L33.0 246.2M34.3 276.6L32.9 275.8M53.5 290.2L52.3 288.7M34.9 285.5L34.9 286.4M36.8 257.4L36.6 257.1M48.2 236.1L48.6 234.7M30.2 284.7L30.2 284.4M35.9 251.7L36.0 252.7M43.0 275.2L44.3 273.8M29.4 250.5L27.7 251.2M39.9 260.4L40.1 261.3M33.3 267.9L33.6 267.9M55.2 256.8L55.1 255.0M44.7 237.0L43.3 236.9M35.3 271.8L35.5 273.2M29.2 287.5L30.8 287.9M53.5 238.9L53.7 235.9M55.1 255.0L54.7 253.9M47.0 279.0L49.8 279.3M35.5 273.2L36.1 273.9M47.0 284.5L46.4 282.5M36.0 280.0L35.2 279.1M52.3 272.0L55.0 273.5M43.3 236.9L43.0 236.5M43.6 252.3L41.8 252.4M50.4 273.3L48.3 274.1M44.3 240.0L43.9 241.1M45.9 268.6L46.2 270.9M30.8 287.9L32.7 288.1M47.5 235.9L46.5 237.2M53.5 238.9L54.5 238.4M36.1 275.8L37.1 276.8M43.2 265.9L44.8 265.8M45.7 260.0L46.2 259.4M34.9 241.1L36.6 240.7M30.3 278.7L29.5 276.5M48.7 266.4L49.3 265.1M49.8 252.0L48.9 252.9M36.2 254.1L35.2 254.5M50.9 232.0L52.7 231.8M40.8 245.3L42.1 245.4M49.8 252.0L49.7 252.5M37.5 256.7L37.1 255.8M41.3 280.9L43.2 280.2M38.6 284.6L37.7 285.2M31.6 248.5L30.8 247.0M30.2 235.6L30.4 236.5M49.8 279.3L50.0 277.3M34.9 241.1L32.9 241.6M41.0 278.4L39.6 278.3M49.8 279.3L51.1 278.7M45.2 239.4L44.6 238.7M39.2 243.0L39.0 241.9M43.2 265.9L42.8 266.7M33.0 246.2L33.4 245.6M50.6 231.4L50.1 231.0M52.3 288.7L50.7 288.2M55.1 255.0L55.0 254.5M42.8 266.7L43.5 267.7M47.1 292.9L45.8 293.9M47.2 250.5L47.4 248.9M53.1 259.0L52.4 261.1M44.0 277.8L44.9 277.3M29.8 280.2L27.6 280.1M46.5 262.1L46.7 261.7M42.9 259.9L42.7 259.6M33.5 265.9L33.1 264.2M29.9 262.2L28.6 262.2M46.2 259.4L46.2 258.5M43.4 291.9L43.9 292.7M53.5 238.9L53.3 238.0M50.7 270.4L50.4 270.4M27.7 251.2L29.0 252.9M34.3 233.9L34.3 234.2M43.4 291.9L43.1 290.7M37.7 285.2L36.9 286.8M46.5 237.2L47.6 237.9"/>
<path fill="none" stroke="#12ad45" stroke-width="0.5" stroke-linecap="round" d="M101.5 264.7L98.6 263.8M101.5 264.7L100.1 265.7M98.6 263.8L96.8 262.6M100.1 265.7L98.0 266.1"/>
<path fill="none" stroke="#12ad45" stroke-width="0.5" stroke-linecap="round" d="M192.0 264.7L195.4 265.7M195.4 265.7L198.9 265.8M192.0 264.7L188.5 265.1M198.9 265.8L198.9 266.1M198.9 266.1L202.5 266.3M188.5 265.1L185.0 264.9M202.5 266.3L206.0 266.0M206.0 266.0L209.5 265.4M209.5 265.4L213.0 265.0M213.0 265.0L215.1 264.0M185.0 264.9L181.4 265.0M181.4 265.0L177.9 264.8M177.9 264.8L174.7 263.3M174.7 263.3L171.2 263.1M215.1 264.0L218.6 263.6M171.2 263.1L167.7 262.9M218.6 263.6L222.1 263.9M222.1 263.9L224.6 266.4M192.0 264.7L191.5 264.1M181.4 265.0L180.4 263.4M202.5 266.3L201.9 267.3M192.0 264.7L192.4 266.1M224.6 266.4L228.1 266.5M209.5 265.4L209.8 265.0M167.7 262.9L164.1 263.1M228.1 266.5L228.7 264.4M209.8 265.0L210.8 263.4M198.9 265.8L200.6 263.2M222.1 263.9L221.7 266.5"/>
<path fill="none" stroke="#12ad45" stroke-width="0.5" stroke-linecap="round" d="M196.0 231.6L193.0 231.3M193.0 231.3L190.5 233.0M196.0 231.6L195.9 232.9M190.5 233.0L187.5 232.5M196.0 231.6L199.0 231.7M199.0 231.7L202.0 232.2M193.0 231.3L191.4 228.8M202.0 232.2L204.3 230.2M187.5 232.5L184.4 232.7M204.3 230.2L206.6 232.2M206.6 232.2L209.4 231.0"/>
<path fill="none" stroke="#12ad45" stroke-width="0.55" stroke-linecap="round" d="M111.0 199.0L114.8 199.7M114.8 199.7L119.8 199.0M119.8 199.0L119.2 201.2M119.8 199.0L124.8 198.4M119.8 199.0L119.2 199.7M111.0 199.0L111.2 201.6M111.0 199.0L112.5 198.7M124.8 198.4L129.8 199.1M111.0 199.0L106.0 198.5M111.0 199.0L110.8 196.6M114.8 199.7L116.8 200.3M106.0 198.5L107.0 200.9M129.8 199.1L134.1 199.3M119.8 199.0L120.8 196.9M106.0 198.5L101.0 199.4"/>
<path fill="none" stroke="#12ad45" stroke-width="0.5" stroke-linecap="round" d="M214.0 199.0L211.1 199.8M214.0 199.0L217.0 199.3M217.0 199.3L220.0 199.7M211.1 199.8L208.0 199.8M208.0 199.8L205.0 200.0M211.1 199.8L210.2 199.4M217.0 199.3L216.4 199.4M220.0 199.7L223.0 200.2M205.0 200.0L205.4 200.7M223.0 200.2L226.0 199.8M205.0 200.0L202.0 199.7M226.0 199.8L228.8 199.2M202.0 199.7L199.0 200.0M205.4 200.7L204.2 201.1M199.0 200.0L196.0 199.6M208.0 199.8L207.6 201.7M196.0 199.6L193.8 201.1"/>
<path fill="none" stroke="#12ad45" stroke-width="0.5" stroke-linecap="round" d="M45.0 231.6L46.0 232.1M46.0 232.1L49.0 232.7M49.0 232.7L51.9 232.1M51.9 232.1L55.0 231.8M45.0 231.6L42.1 230.6M45.0 231.6L45.4 229.6M42.1 230.6L39.3 231.6M55.0 231.8L54.4 233.1"/>
<polyline fill="none" stroke="#12ad45" stroke-width="0.5" stroke-linejoin="round" stroke-linecap="round" points="56.0,278.0 56.0,280.7 56.1,284.5 56.0,288.4 55.9,292.7 56.0,294.2"/>
<polyline fill="none" stroke="#12ad45" stroke-width="0.5" stroke-linejoin="round" stroke-linecap="round" points="68.8,270.8 69.0,274.0 68.9,277.0 68.9,280.6 69.0,283.6 69.1,287.0 69.0,291.5 69.0,294.2"/>
<polyline fill="none" stroke="#12ad45" stroke-width="0.5" stroke-linejoin="round" stroke-linecap="round" points="95.5,268.2 95.5,272.6 95.6,275.3 95.5,278.1 95.3,282.3 95.6,286.3 95.5,289.3"/>
<polyline fill="none" stroke="#12ad45" stroke-width="0.5" stroke-linejoin="round" stroke-linecap="round" points="108.6,268.2 108.5,271.6 108.4,274.4 108.5,277.5 108.5,281.6 108.6,285.7 108.5,287.9 108.6,290.1"/>
<polyline fill="none" stroke="#12ad45" stroke-width="0.5" stroke-linejoin="round" stroke-linecap="round" points="121.3,180.7 121.2,183.0 121.2,185.7 121.3,188.8 121.3,193.7 121.3,195.8"/>
<polyline fill="none" stroke="#12ad45" stroke-width="0.5" stroke-linejoin="round" stroke-linecap="round" points="146.7,275.6 146.8,279.8 146.9,282.2 146.8,285.8 146.8,289.2 146.9,293.8 146.8,294.2"/>
<polyline fill="none" stroke="#12ad45" stroke-width="0.5" stroke-linejoin="round" stroke-linecap="round" points="180.0,235.3 180.0,239.8 180.1,244.6 180.2,247.6 180.1,252.4 180.1,255.4"/>
<polyline fill="none" stroke="#12ad45" stroke-width="0.5" stroke-linejoin="round" stroke-linecap="round" points="200.6,169.8 200.9,172.9 200.8,176.2 200.8,178.7 200.7,181.8 200.7,184.6 200.8,189.2 200.9,192.8 200.8,193.1"/>
<polyline fill="none" stroke="#12ad45" stroke-width="0.5" stroke-linejoin="round" stroke-linecap="round" points="200.8,211.7 200.7,215.1 200.7,219.2 200.7,224.1 200.8,228.2"/>
<polyline fill="none" stroke="#12ad45" stroke-width="0.5" stroke-linejoin="round" stroke-linecap="round" points="200.8,235.3 200.7,238.7 200.8,240.8 200.9,244.4 200.9,247.4 200.8,249.8 200.7,251.9 200.9,254.3 200.8,257.2"/>
<polyline fill="none" stroke="#12ad45" stroke-width="0.5" stroke-linejoin="round" stroke-linecap="round" points="221.4,169.8 221.5,172.7 221.5,177.3 221.4,181.7 221.6,185.0 221.4,189.6 221.4,192.5 221.5,194.3"/>
<polyline fill="none" stroke="#12ad45" stroke-width="0.5" stroke-linejoin="round" stroke-linecap="round" points="221.4,202.5 221.6,205.8 221.5,208.3 221.4,211.9 221.4,214.9 221.5,219.1 221.6,223.3 221.6,226.2 221.5,226.2"/>
<polyline fill="none" stroke="#12ad45" stroke-width="0.5" stroke-linejoin="round" stroke-linecap="round" points="27.8,210.0 27.8,229.2"/>
<polyline fill="none" stroke="#ee1c1c" stroke-width="0.9" stroke-linejoin="round" stroke-linecap="round" points="38.6,284.6 46.0,278.8 53.3,273.9 54.5,271.5 53.3,267.8 55.2,264.7 59.4,262.9 66.8,262.0 71.7,262.9 76.0,265.3 80.3,263.3 85.2,262.3 90.0,261.7 146.3,262.1 146.3,233.4 134.0,233.4 133.8,201.7 161.8,201.7 180.1,201.1 193.8,201.1 200.7,199.7 207.6,200.1 214.5,199.0 220.0,196.9 220.7,186.3"/>
<rect x="36.7" y="282.7" width="3.8" height="3.8" fill="#1c1cc4"/><circle cx="220.7" cy="186.3" r="1.6" fill="#1c1cc4"/>
<polyline fill="none" stroke="#12ad45" stroke-width="0.7" stroke-linejoin="round" stroke-linecap="round" points="349.5,199.6 391.0,199.6"/>
<polyline fill="none" stroke="#12ad45" stroke-width="0.7" stroke-linejoin="round" stroke-linecap="round" points="400.0,199.6 480.0,199.4 505.0,199.9 510.5,199.8"/>
<polyline fill="none" stroke="#12ad45" stroke-width="0.6" stroke-linejoin="round" stroke-linecap="round" points="369.5,198.2 369.5,201.5"/>
<polyline fill="none" stroke="#0f8f2f" stroke-width="0.8" stroke-linejoin="round" stroke-linecap="round" points="354.0,264.2 371.0,264.2"/>
<polyline fill="none" stroke="#12ad45" stroke-width="0.5" stroke-linejoin="round" stroke-linecap="round" points="330.0,284.2 343.1,272.7 346.1,270.7"/>
<polyline fill="none" stroke="#12ad45" stroke-width="0.5" stroke-linejoin="round" stroke-linecap="round" points="330.0,284.2 344.1,277.1 346.1,278.1"/>
<polyline fill="none" stroke="#12ad45" stroke-width="0.5" stroke-linejoin="round" stroke-linecap="round" points="343.1,272.7 344.0,268.5"/>
<polyline fill="none" stroke="#12ad45" stroke-width="0.5" stroke-linejoin="round" stroke-linecap="round" points="347.0,262.4 347.6,264.2"/>
<polyline fill="none" stroke="#12ad45" stroke-width="0.7" stroke-linejoin="round" stroke-linecap="round" points="510.6,264.3 514.0,264.6"/>
<polyline fill="none" stroke="#20a060" stroke-width="0.8" stroke-linejoin="round" stroke-linecap="round" points="510.9,199.8 510.9,264.3"/>
<polyline fill="none" stroke="#ee1c1c" stroke-width="0.8" stroke-linejoin="round" stroke-linecap="round" points="330.0,284.2 342.2,268.3 345.6,264.7 348.5,264.1 354.0,264.1"/>
<polyline fill="none" stroke="#ee1c1c" stroke-width="0.8" stroke-linejoin="round" stroke-linecap="round" points="508.5,264.6 510.6,264.2"/>
<polyline fill="none" stroke="#1e8cf5" stroke-width="1.0" stroke-linejoin="round" stroke-linecap="round" points="330.0,284.2 339.7,272.7 344.6,267.8 348.5,266.0 352.0,264.8 510.6,264.4 510.6,186.5"/>
<rect x="328.1" y="282.3" width="3.8" height="3.8" fill="#1c1cc4"/><circle cx="510.6" cy="186.5" r="1.6" fill="#1c1cc4"/>
</svg></body></html>
